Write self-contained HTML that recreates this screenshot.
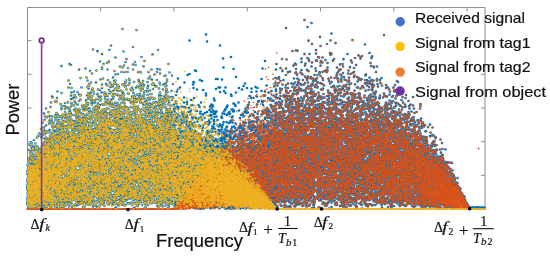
<!DOCTYPE html>
<html><head><meta charset="utf-8"><title>Power vs Frequency</title><style>
html,body{margin:0;padding:0;background:#fff;overflow:hidden}
svg{display:block}
.t{font-family:"Liberation Sans",sans-serif;fill:#111;stroke:#111;stroke-width:0.2px}
.m{font-family:"Liberation Serif",serif;fill:#111;stroke:#111;stroke-width:0.2px}
.i{font-style:italic}
</style></head><body>
<svg width="550" height="257" viewBox="0 0 550 257">
<defs>
<marker id="k0" markerUnits="userSpaceOnUse" markerWidth="6" markerHeight="6" refX="3" refY="3" overflow="visible"><circle cx="3" cy="3" r="2.6" fill="#0072BD"/></marker>
<marker id="k1" markerUnits="userSpaceOnUse" markerWidth="6" markerHeight="6" refX="3" refY="3" overflow="visible"><circle cx="3" cy="3" r="1.7" fill="#D95319"/></marker>
<marker id="k2" markerUnits="userSpaceOnUse" markerWidth="6" markerHeight="6" refX="3" refY="3" overflow="visible"><circle cx="3" cy="3" r="1.7" fill="#EDB120"/></marker>
</defs>
<g fill="none" stroke="#8c8c8c" stroke-width="1">
<path d="M27.5 209V7.5H485V209"/>
<path d="M100.6 7.5v4M173.9 7.5v4M247.2 7.5v4M320.5 7.5v4M393.8 7.5v4M467.1 7.5v4M27.5 40.7h4M27.5 74.3h4M27.5 108h4M27.5 141.7h4M27.5 175.3h4M485 40.7h-4M485 74.3h-4M485 108h-4M485 141.7h-4M485 175.3h-4"/>
</g>
<g><g transform="scale(0.5)" fill="none" stroke="none"><path d="M609 40l14 6-8 8-43 2-327 2 28 2 495 10-105-3-251 2 228 5 65 6-44 1-44 0-203 2-35-2 245 7 30 0 17-2 59 3-89 3-201-1-174 3-44-3-36 8 33 1 97 0 276 1 3 0 37-1 107 6-76 1-3-1-28 1-47-5-338 1-52-1 9 6 101 1 304-1 10 0 42 2 34-2 22 3 7 1 20 1-1 3-22-2 0 3-11-1-23 2-19 0-23-3-7 0-2-1-18 5-3-3-12 1-30 2-9-1-102-4-16 3-163-3-30 4-22-3-31 8 17 1 1-1 33 1 19 0 19-2 241 0 73 2 15-2 6 3 8-4 2 0 7 4 1-3 3 3 6-5 15 1 36 0 2 4 37 1-29 4-27-2-5 1-25-3-14 5-30-4-1 4-18-2-2-2-3 4-34-3-216 0-66 2-5-1-18 2-34-5-7 2-65 2-3-2-16 4 48 5 33-2 36-2 5 2 11 1 31-3 160 2 78 2 36-1 11 1 51-4 8 4 24-2 19 0 12-2 14 1 8 2 34-4 5 1 1 2 6-2-57 8-16-2-1 0-2 2-23 0-2-1-1 3-3-1-17 0-15 0-3-2-11 0-11-2-12 5-15-1-13-3-85-1-75 4-2-1-70-2-5-1-12 1-37 0-37 3-14-3-11-1-11 3-13 1-22-3 26 8 47 2 5-1 7-4 6 0 6 0 21 0 2 0 4 1 15-1 12 5 5-5 6 3 19-2 40 3 197-4 15 2 1-1 2 3 7-3 2 2 2 2 34-5 0 3 6-3 9 0 20 3 0 2 2-5 5 5 5-3 10 1 5 1 4-2 3-2 24 5 20-5-13 11-8-4-17 3-5-3-1 3-10 1-10-1-5-3-10 1-11 3-21-3-6-2-6 0-7 4-6-1-6 0-16-3-22 0-14 4-86 0-97-4-31 1-13 0-2 1-29 1-74 2-53 0-36 6 24-5 14 5 26-2 5-2 10 3 15 1 21 0 6-3 1 2 18 0 1 0 19-3 6 2 1 1 10 0 20-1 22-2 44 3 32-2 3 0 9 1 79-1 28-2 4 1 3 0 9 3 21-3 7 0 3 3 8 0 7-4 1 4 3-4 5 1 4 0 3 3 3-1 0 2 2-5 11 0 1 4 11-2 12-2 6 1 1 3 0-3 6 3 1-4 6 3 4 2 5 0 19-2 1-3 3 4 1-1 1-1 7 2 4 0 9 0 4 1 7-3 0 1 0 2 6-1 3-4 33 8-2-2-33 4-16-4-5 4-1-4-1 5-3-4-1 3-4 0 0 1-15-4-13 4-5-3-14-1-6 1-14 0-3 3-2-5-17 4-5-1-1 0-8-3-1 1-10 2-6 1-11 1-3-3-6 1-7 2-7 0-15-5-4 4-6 0-61 1-86-5-16 3-1-1-18 1-35-2-3 4-12-2-13 2-11-3-9-2-1 5-4 0-3-3-10 0-9 2-8-2-1 3-19 0-2 0-1-5-8 3-28 0-10 0-42 3 38 0 0 3 0 0 26-2 8-1 3 3 7-2 3 1 1 3 9-1 0-2 2 2 8-3 1 0 1 0 1 2 3 1 6-2 18 2 6-1 1 1 6-2 8 2 8-3 1 0 3-1 2 4 3 1 7-4 7 0 4 4 2-2 13-3 40 1 101 3 46-1 16 1 6-1 10-2 7 1 15-1 7 1 2-1 1-1 6 2 0-1 5 0 8 3 5 1 1-3 1 2 1-4 3 2 5-1 2 4 11-5 3 3 19 1 1 0 7 1 4-1 8 0 1 0 3 1 2-4 6 0 11 0 15 3 9-1 8-3 2 4 2-3 2 2 7-3 1 5 8-2 8-1 18 0-3 5-9 3 0 0-3-4-3 2-26-2-1 1-2 4-5-5-11 1-3-1-3 3-5-2-2 0-16 1 0 2-1 1-3-3 0 2-8 0-1-4-2 5-2 0-3 0 0 0-6 0-3-4-6-1-17 3-1 2-3 0-7-4-1-1-4 0-7 4-1 1-5-2-4-1-11 2-4-3-1 4-6-5-2 3-4-3-9 2-5-1-7 3-4-1-8 2-37-3-4-2-8 3-9-1-10 3-6-3-27-1-11 0-3 0-5 3-38 1-7-3-27-1-4 3-23 0-7 1-8-2-12 1-11-2-9-1-1 3 0-1-1-3-5 2-1 0-6-1-8 0-1 2-2 2-8 0-2-5-13 1-4 3-2-1 0 2-2 0 0-1-9-4-17 2-8 3-11-2-8 0-1-3-1 0-12 1-20 1-6-1-22 8 28 2 5-2 7 1 29-2 0-1 3 2 13-3 3 5 6 0 9-5 3 4 5-2 9-1 2 1 5-1 2 2 2 1 17-3 3-1 16 1 6 3 3-2 4 0 0 1 5-2 20 4 12 0 1-4 2 3 8-2 11 1 52-3 34 4 8-2 24 3 31-1 10-1 10-1 7 1 7 2 6-3 9 0 9 0 11-1 1 1 0 3 8-3 7-1 4 1 2-2 2 1 3-1 4 1 4 0 3-1 1 0 0 4 10 1 1-3 5 1 10 2 19-4 1 4 12-5 1 4 3-3 9 4 7-4 5 3 15-3 22 0 6-1 8 0 6 4 1-1 28 0 8-1 1 1 1-3 22 10-14-1-2-3 0 1-2 2-15 0-11-2 0 1-8 3-10-2 0-2-3-1-5 3-3 2-10 0-9-3-1 2-1-4-1 2-6 1-2 1-3 1 0-4-2 0 0 0-1 1 0 1-1-3-5 1-4 1-4 0 0 3-1-1-9-3-3 1 0-2 0 5-11 0 0-3-2 3-3-5-2 5 0-1-11-2-9 3-6-3-1 2-2-1-4-3 0 2-1 0-2-1-2-1-3 0-3 1-2 1-16-2-2 2-1-1-5 1-2-1-1 3-8-4-4 5-5-1-8-4-7 3-6 2-17 0-2 0-66-2-11-3-39 1 0 4-60-1-20 0-13-1-16-1-2 0-6 2-7-1-8-1-5 1-4 2-4-5-10 1-1-1 0 1-8 2-1-1-2 0-6 3-2 0-4-2-1-1-3 0-3 0-7-1-7 0 0 4-3-2-13 2-1-3-7 0-7-2-3 5-1-5-1 4-2 0-13 0-1 1-2-2-9 1-7 1-19-5-19 7 1 2 9 1 32 1 2-3 4 1 24-1 0 3 4 0 2-3 1-1 1 0 14 0 1 2 3-2 8-1 0 5 5-5 10 0 2 2 13-1 2 0 3 1 1 0 1 1 17-2 1 2 3-3 1 3 0 2 0-4 9 2 0 1 1-4 4 4 1 0 0-4 1 5 3-2 8 1 5-1 4 1 1 0 3 1 10 0 0-5 3 0 6 0 1 5 3-4 2 2 0 2 2-4 1 3 2-1 4-1 3 1 22 0 20 1 40 1 35-5 36 0 3 4 5 0 7-3 22 3 5 1 11-3 4 2 5-4 6 0 2 2 3-2 2 4 3-4 3 1 1 3 2-2 2-1 11 4 6-2 5 1 1-1 1-3 5 0 3 4 0 0 5-2 4-1 4-1 6 3 2 0 4 2 0-4 4 2 3 0 5-3 4 4 7-2 2-1 1 2 3-1 1-2 2 5 8-5 5 1 8 4 3-2 6-3 1 1 0-1 5 4 0-1 1 0 5 0 3-1 0 3 2-1 1 1 0 0 7-2 6 1 1 0 3-2 3 1 4-2 5 4 0-3 8 1 0 2 0-1 7-1 3-3 3 1 2 0 10 1 2-2 5 5 2-5 12 2 6 2 15-2-9 8-14-2-17 2-3 1-4-2-30-1-4 1 0 0-3 0-1 2-2-4-3 4-2-3-7 2-2 1 0 0-1 0-3 0-7 0-2 0-3-1-3-2 0-1-2-1-1 4-3 1-2-1-1 1 0-5-14 3-3-1-4 1-4-1-5-1 0 1-2-1-1 3 0-4-6 5-3-3-12-2-5 3-2 0-1-3-4 4-3-1-3-3-2 4-1-3-2 3-5-2-2 3-6-5-1 3-3 1 0-1-5 1 0-3-1 1-7-1-1 3-1-4-5 1-3 3 0-4-1 2-4-1-1 1-1 3-1-3 0 0 0 0-8 2-4-4-13 4-2-1-5-1-13 2-3 1-6-1-2 1-87-2-47-1-30 3-8-3-6 2-4-3-3 2 0 2-2-5 0 4-1 0-4-4-1 5-2-1-3-2-11-2-1 0-7 2-5 2-3-3-6-1-5 4-1-4 0 0-3 0 0 0-3 4-1-4-2 4-2-2-7 3-1-4-3 1-2-2-3 0-1 2-3 1 0-2-3-1-5 0-1 1-13-1-3 1-2 4-5-4-1 2-1 0-2 0-10-2-2 2-1-1-6-2-3 3-3 0-3-2-2 3-2-4-8 3-11-2-3 3-9 1-7-5-30 4-2 1-8 2 11-1 8 4 9-2 6-1 0-1 7 2 8 0 4 3 18-2 3-1 7 1 3-2 4 0 6 2 9 1 1 1 3 0 2-4 2 3 1 0 2-3 1 0 0 3 0-3 1 0 5 2 0-1 4 2 3-2 1-1 4 1 1 3 7-3 3-2 3 3 13-1 2 0 1-2 2 2 1 3 1-5 4 0 8 1 0-1 4 2 5-2 3 2 1 2 0-2 5 2 1-1 4 1 3-3 3 1 2-2 4 3 1-2 1 0 6 4 2-4 1 0 2 4 7 0 2-3 10 3 5-2 15-2 6 3 0-4 28 1 21 4 44-2 3 2 7-4 21 0 16 4 11-4 26 2 1 1 2-2 4-2 3 3 2 2 1-5 8 3 4 2 3-4 2 3 2-3 1-1 1 4 7-4 0 5 1-2 3-1 0-2 1 3 3 1 4 0 0 0 1-1 8 1 4-1 0 1 5 1 2-5 1 2 0 3 1-4 4-1 6 5 4-1 5 1 0-3 1-2 3 1 2 0 4 4 1-3 1 3 4 0 2-4 1 0 1 2 2 0 1 0 0-3 1 1 3 2 3 1 4 1 3-3 1 2 3-4 3 0 4 4 0 1 1-4 4-1 1 2 1 2 1-1 5-2 0 3 1-1 1 0 0-3 3 1 5 2 1 0 2-3 8 2 2 3 2-2 5 0 2 1 6-4 0 0 1 4 5 1 0-3 2 1 2 2 1-5 0 2 1 2 0 0 1-2 14 3 1-4 3 4 2-2 1 1 5-2 0-2 8 1 1 2 4 0 10-2 4 4 11 0 20-1 0 4-15-1-8 1-7 1-1 1-5 0-4-2-2-2-7 2-3 2-7-3-8 1 0 2-3-2-2 1-7 2-4-3 0 2-9-3-1 2-1 2 0-5-2 1-4 2-1-2-1 3-3 0-2-3-5 2-4-2 0 4-1-4-5 2-3 2 0-3-2-2-10 2-2 3-3-5-2 3-1-3-1 5-1-1-1-4-2 4-2-4-1 0 0 1-3 3-1 1-10-5-1 0-1 4-1-2-2 0 0 1-2 1-9 1-11-3-3 0-2 2-1-4-1 3-1 2-4-4-4 4 0-5-2 5-1 0-4-5-5 1-2 4-6-5-2 5 0-2-5-1-4 1-1 1 0-4-1 2-1-2 0 3-3 0-2 0-1 2-4-1-4 1 0-2-5-1-2-1-1 0-1 1-2 1-1-2-9 4-1-3-1 2 0-2-3-2-7 2-3 1-4-1-2-2-15 0-30 0 0 5-25-3-16-1-1 2-1 2-27-2-1-3-4 2-1 2-11 0-10 0-2-4-11 0-4 1-13 3 0 1-5-2-7 1-3-1-5 2-6-4-1 1-1 0-10 2-6 1-1-2-3-3-3 0 0 5-2-5-4 2-3 1-2 1-1 0-1 0-5-2-5-1-2 0-1 3-5-4-11 3-1 1-2 0-1 0-3 0-6 0-1 1-1-1-7 1-1 0-3-3-2 2 0 1-2 0-1 0-4-1-1-3-2-1-1 4-2 0-1 0-1 1-1-3-6 1-1 0-1 0-1-2-2 1-21-2-3 1 0 2-1-3-3 5-1-3-2 2-6-4-8 0-3 5-2-3-2 3-1-4 0 4-3-4 0 3-17-3-4-1 0 0-2 3-9 1-3-1-4-1-3 1-22 1-9 3 31 1 7 0 5-2 3 1 2 3 8 0 3-3 2 4 0-1 4-2 1 2 1-1 7 1 0-1 3 1 3-1 1 1 1-4 1 0 4 1 8 1 0-1 2 1 3-1 0 4 3 0 1-4 2-1 5 5 3-2 0 2 2 0 2-2 1 2 3-4 0 1 1-1 2 1 6 3 3 0 4-4 2-1 3 4 0 1 1 0 2-2 3-3 4 1 3 2 6-1 1-2 0 5 2-1 11-4 0 2 1 1 0-2 3 4 1-3 4 0 1 1 1 0 6-1 2-1 0 3 2 1 1-2 0 1 5-3 1 1 3-2 3 4 1 1 6-3 1 1 1-3 2 3 2 2 6-4 1 2 0-1 10-2 1 5 4-3 1 1 1-1 0 2 1-2 1 3 7-3 2-1 6 0 0 1 15-2 6 0 1 0 4 5 9 0 28-1 4-3 3 4 24-2 1 0 12 0 3 0 12 2 13-4 2 4 37-1 1 1 2-1 0 1 1-4 2 3 2 1 5-5 3 5 1-2 3 0 2-1 0 0 6-2 8 1 0 4 1-1 9 1 1-5 0 0 1 5 1-1 2 0 3-1 0-3 3 2 1-1 4 1 0 0 3 2 2-2 0 0 0 0 1 3 5 0 3-2 7-3 0 4 2-1 2 2 2-5 0 1 2 4 3-1 1 0 0-1 1 2 2-2 1 2 0-3 1 0 4 1 1-3 2 2 2 0 2 2 1 1 0-1 1-4 2 0 5 0 0 0 2 2 3 1 1-1 4 2 1-3 0-1 1 5 0-2 0-3 1 4 3-1 3-1 4 2 1 1 1-4 2 4 0-1 3 0 2 1 4-5 3 5 0 0 2-3 2 2 2-1 7 2 0-4 1-1 6 4 3-1 0-1 0-1 3 0 0 0 0 0 6 1 1 3 0-2 1 0 0-1 2-2 1 3 2 0 2-1 4-1 3 0 1 2 1-2 1 2 5-3 4 2 0 1 5 1 2-2 2 0 2-1 2 0 1 2 1-3 1 4 5-3 1 2 0 1 2 0 1-4 1 4 3-3 4-1 0 0 1 2 5-2 10 3 6 0 15-2 9 0 12 0-7 7-4 2-6-3-6 1-16 0-1 3-2-1-2-1-3 1-2-2-1-1-1 3-3-4 0 3-2-1-1 0-1 2-7 0-4-2-1 3-6-5-4 2 0 1-1-2-2 0-1 3-2-1-7 0 0 1 0-4-4 2-2 2-3-4-7 4 0-2-6 2-1-1-3 1-1-4-5 5-2 0-6-5-1 5-2-1-4-4-1 2-2 2-1-2-1 2-9-3-1 1-2 0-1 2-3 1-1-1 0-3-4 4-2-1 0-4-8 5-1-2-2 1 0 0-4-2 0-2 0 5-1-2-5 0-2 2-2-2-1-3-1 3-2-3 0 3-4 0-1 1-1-3-2 2-5-2-1 3-3-1-2-3 0 5-3-2-1-1-1 2 0-3-4 1-2-2-2 5 0-5-2 0-3 1-3 3-1 1-2-1-2-2-1 3 0-3 0 3-4 0-1-2 0 2 0-4-4 2-4-3-1 1-1 0 0-1-3 4 0-4-2 0-5 1-1 1-2 0 0 0-2 0-1 1-3-1-1 1-1-1-4 1-5 1-1-2-4-2-6 3-4-2-2 0-2 4-1-2-5 1-2-3-10 4-5-3-14 1-3 1-2-2-2 0-21-2-1 1-1-1-7 2-3 3-8-4-3 4-12-4-2 2-2-2-2 3-5-2-8 0-4 2-9-3-1 4-6-5-14 2-3 0-10 1-3 0 0 0-13 1-2-4-5 2-4-2 0 4-4-2-3 1 0 1-1 0-8-2-2-1-3 3-4-1-1 1-2-2-1 3-2-1-1 1-1-2-4-1-3-1-2 1-3 3 0-5 0 1-1 3 0-4 0 1-1 1-2 3-10-4-8 2 0-2-3-1-3 1 0 1-3 1-2-1-5 1-1 1-1 1-1-1 0 1-2-4-2 2-4 0-4 1 0 0 0 1-1-4-1 0-2 0-1 3-2 1-1-1-2-3-1 4-1-2-1-2-2 3-2-2 0-2-3 0-2 3-3 2-3 0-2-2-2 2-1-2-4-1-1 0-2 2-2-2-2 1-2-2 0 3-3-2-1 0-1 1-1-2-3 0-4 3-1-3-2 2-2-3-16 5-2-2-3 0 0-3-3 5-1-3 0 3-3-5-9 3-2-2-1 4 0-3-8 0-17 2-16-2-9 3 2 6 7-1 2 0 5 1 6-3 1 1 4-2 3 3 4 1 3-3 1 1 0-1 3 3 0-3 3-2 2 4 7-4 1 3 0-2 5 1 4 1 1-1 4 1 3 2 7-3 0-2 0 3 1 2 3-2 0 2 1-2 3-3 2 2 0-2 0 0 5 5 4-3 3 0 0 1 0 1 1 1 1-3 2 1 1 1 3-1 2-1 1 0 0 2 1-2 3 2 1 0 0-4 2 1 1 4 1-2 3 2 3-2 7-1 3 1 2-2 1 1 1 3 2-2 2 2 1-4 2 1 1 2 1-3 1 2 1-2 0 3 5-3 0 1 0-1 3 0 0 1 9-1 5 4 0-3 6 0 1 1 1-3 3 3 1 1 2 0 3 0 1-2 2 2 1-3 0 2 2-2 2 1 0-2 2 2 2-1 3 4 3-4 1 4 1-4 2 0 1 1 1-2 5 5 0-1 1-4 4 4 0 1 2-2 2-3 0 1 7 4 0-5 3 1 0 3 3 0 1-3 2 3 2-1 3-3 2 2 2 3 2-4 2 2 4-2 7 0 3 3 6-4 1 4 2-3 4 3 2-1 7-2 24 0 1 0 13 2 3-1 1 1 5-3 2 0 3 5 10 0 6-5 5 2 6-2 5 5 17-3 4-1 1 4 13-1 6-1 1-1 16-1 11 0 1 1 3 0 5 1 3 0 4-1 1 2 0 1 2-4 2 1 0 2 2-3 1 4 1 0 0-5 0 3 4 2 1 0 0 0 1-1 1-1 0-1 0 3 3-3 8 1 2 2 1-1 1-1 1-1 1-1 1 1 1 2 1-4 0 0 1 0 0 2 6 3 0 0 6-3 1 1 1 2 0-3 1 2 4-3 1 4 1-5 2 2 1-1 1 0 3-1 0 0 3 1 1 2 0 1 4 0 0 1 1-3 1-1 2 1 1 3 2-5 2 2 3-2 4 0 2 3 0-3 1 2 3 0 1 3 5-5 4 1 1 4 1 0 2-5 1 5 0-3 1 2 2-2 3-1 2 2 2-3 0 1 0 4 1-4 1-1 9 2 1 1 2 1 1-2 0 1 8-1 1 3 3-3 1 0 2 0 1 1 1 2 1-4 2 4 1-2 3-2 1 0 1-1 2 4 0 1 1-4 3 4 1-2 1 1 3-1 4-2 6 2 2-2 2 1 0 1 3 0 2 0 2-2 2 2 1-1 0-1 2 0 3-1 2 4 0-1 3-2 3 2 0-2 1-1 0 5 5-4 1 3 1 1 5-4 0 4 0-5 1 1 5 1 2 1 4 0 2 2 2 0 1 0 2-2 0-3 4 2 5 2 5-3 2 2 3-3 0 4 2-2 4 2 0 0 1-4 1 3 1-2 23 8-15-3 0 5-1-3-2 0-2 3-5-3-3 3-1-5-2 4-1-4-3 3-3 0 0 2-1 0-2-2-10-3 0 1-1 0-1 3-2-1 0 2-2-4-1 2-6-3-2 1-2 1-2 1-2-1-1 2 0 1-1-1-1 1-1-3-2 0 0-2-1 1-1-1-1 2-1-2-1 3-3 1-4 1-1 0 0-3-2-1-2-1-5 3-5-3-3 0-1 4-1 1-1-2-7 2-2-2-1 1-7-1-1-1 0 1-2 0-2-3 0 0-4 2-1-2-1 1-4 4-2-3 0 0-3 2-5-1-4-2-1 0-1 3 0-3-1 1 0-1-1 2-1 2-2-2-3 1-2-4-2 2 0 3-1-3-2-2-1 4-1-4 0 1-1 2 0 0-5-1-2 3 0-4-3 0-2 0-1 1 0 3-3-5-5 1-4 2 0-3-1 3-1 2 0-2-2 0-4-1-2 2-2 1-1-5 0 5-2-4 0 4-3-2-3-1 0-1-4 3-1-1 0 1-4-1-2 2 0-4-2-1-3 3-3-2-3 2 0 1-1-3-1 0-1 4-2-2-3 0-2-1-3 3-1-4-3 3 0-4 0 1-4 2-1 0 0-1-1-1-3 1-4-1-1 2-1 0-2-2-4 3-1 0-1 0-2-1-1 0-1-2-3 3-6-1-4-1-1-1-4 1-5 2 0-2-14 3-1-5-1 4 0-3-1 1-33 0-16-1-20 1-15-2-6 3-14-1-7 0-1-2-4 3-1 1-4-2-2-1-2 0-2 2-2-2-9 1-3 0-4-1-4 1 0 1-2 1-7 0-1-4 0 0 0 2-3 1 0-2 0-1-7 3-3-2 0-1-1 2 0 0-2 3-1-5-2 3-5-1-1-2-1 3-2-1-1-2-5 4-1-2-5 2-1-4-1 5 0-4-1 4-1-3-3-1 0-1-3 5-1-1 0-3-11 4-1-3-5 1-1 0-2 0-2-2-1 3 0 1-1-1 0-3-3-1-1 3 0 0-2-3-2 3-1 2-6-2-2 2-3-2-3-1-3-2-1 5-1-4 0 4-2-3-1 3-1-4-1 0 0 4-3-1-1-2-3 0-3 0 0 0-1 3 0 0-2 0-1-2-3 1-2-4-6 0-1 5-3-1-3-1-1 2-1 0-1-3-3 3 0-3-4 3-1-2-3-1-1-1 0 1-3-1-1 4-2 0-2-2 0-2-1-1-6 3-3 2 0-4-4 2 0-1-3 0-1 0-5 0-2 1-3 0-2 2 0 0-5-1 0-2-2-2-1 2-12 1-2-3-3 4-2-1 0-1-4-1-6 2-6-3-3 0-3 3-2-3-7 5-3 0-7-4-8 10 4-5 9 3 5 0 4 2 0 0 4-5 4 5 2-4 1-1 2 5 2 0 4-3 0 2 3 0 0-2 1 0 2 1 3 1 2-1 1 0 4-1 2 2 0-4 0 4 3-2 0 3 3-2 4-2 0-1 1 0 1 4 6-2 0 2 1-2 2 1 2 1 1-3 1 2 1 0 0-3 1 0 1 0 1 1 1 4 4 0 0-1 8-1 4-3 2 3 0-2 1-1 5 1 4-1 1 5 1-3 2-2 1 1 2 4 3-3 0 1 4 1 0-3 1 0 0 4 2-4 3 3 0-4 1 1 0 3 0-3 3 2 2 2 1-2 5 2 3-2 1-3 1 0 1 5 0-1 1-2 4 1 2-1 1 2 2-2 1 1 3-2 3 0 0-1 1 2 1-1 1 1 7 1 2-2 2 2 1-1 1 3 0-1 2-3 2 1 1 2 1-3 1 2 1 2 3 0 2-3 3 2 0-3 1 4 0-3 4 0 2 0 2-2 0 0 1 4 1 1 1-4 2 4 0 0 0-3 4 3 3-2 4 2 0-2 0-2 2-1 2 1 3 0 3 4 0-2 1 0 0 0 2 2 0-5 2 5 2-1 1-3 1-1 1 4 3-2 1 3 3-1 2-2 3-2 1 3 2-1 3 0 2 2 2-1 0-2 5-1 2 5 3-5 2 5 0-4 4 2 1-3 0 3 1 0 5 1 2 1 1 0 7 0 6-2 9-3 9 5 3-1 1 0 1-4 2 5 8-5 0 3 7-3 12 4 6 0 7 1 1-3 2-1 2 4 22-1 13 0 1 1 4-3 0 2 4-1 4 1 2-3 1-1 6 3 13-1 4 3 4-5 1 3 0-3 2 4 1-3 1 0 4 2 0-3 5 0 2 4 0-2 1 2 1-4 0 1 2-1 0 1 1 1 0 1 4 1 0-2 4-1 1 4 0 0 4-3 1 2 3-3 3 2 1-3 3 0 0 5 6-4 2 1 2 3 1-4 2 2 1-2 2 4 1-4 3 4 0-3 5-2 2 5 3-4 0 3 1 1 2-4 4 3 0-4 2 5 5-5 2 1 1 2 1 0 1 0 3-3 2 1 1 3 4-3 2-1 0 3 2 1 2 1 4 0 2-3 0 3 0-4 0 0 0 2 3-1 3 1 0 2 0-3 0 0 2 2 5-1 2 0 4-2 1 2 1 2 2-5 3 4 0-1 4-2 1 4 2 0 1-5 3 3 0 2 1-4 1 0 1 4 2-5 1 2 1 2 0-3 2-1 1 4 1 1 1-2 4-1 1 1 2-1 1 3 0-1 0-4 6 4 0-1 1-3 1 1 1-1 3 0 2 2 2 0 1-1 2 1 0 3 1-2 0-1 0 2 2-2 1 2 3-1 1-3 1 0 2 4 2-4 2 3 0-1 1 3 2-2 3 2 0-3 1 2 1-3 0-1 1 3 0 1 5 0 0-2 1-2 5 1 3 0 1 1 2-2 1 1 1 4 1-2 1 0 8 1 1 0 1 1 0-3 3-1 2-1 0 4 2-3 2 2 0 2 2-4 1 3 5-4 3 4 4 1 0-1 0 0 2 0 3-1 3-2 4 1 2-1 2 4 5-4 1-1 1 5 4-4 1 1 4 3 14 4-10 1-4-2-1 2 0 1-1-5-6 1-4 3-3 0-5-2-3 3-2-3-1 2-6-1 0 2-2-5-7 1-3 4 0 0-1-4-2 4-2 0-1-4-2 2-1-3-1 5 0-4-3 3-3-2-1 3-1 0-1-4-2-1-1 4-2-3-3 2-1-3 0 5-1-4 0-1-1 2-3 1-2-3-2 3-2-2 0 0-1 3-1-3-4 4-1-1-2-3-2 3-3-2 0-1 0 4-1-4-2 4-1 0-1 0 0 0-1-5 0 4-2-4-4 5-1 0-3-5 0 3-1-3-2 4-1-3 0 2-1 2-2-4-1 0-2 2-2-3-2 4 0 0-2-3-1 1-1 2-3-1-3 2 0-4-6 0-1 2-1-3-3 4-2 1-1-5 0 3-3 0-4 1-1 0-1-2-1 1 0-3-1 5-3-5 0 3-1-3-4 3-2 1 0-3-1 1-2-1-2-1 0 0-1 3-1-2-3 0-1 4 0 0-3-5-1 2-1-1-2 1-1 2-3-1-1-3-1 5-1 0-3-5-2 2-4 1 0-3 0 4-2-1-1-1 0-1-5 1-1-1 0 3-3 0 0-4-2 4 0-3-1 1-1-2-3 5 0-5-2 2-3-2-4 5 0-3-2-2-1 2-3 1-2-3-5 4 0 0 0-3-1-1-1 4-2-2 0 1-1-1-3 0-1 3 0-3-2 2 0-3-2 3-2 0 0-2-1 3-1-5-2 5 0 0-1-3 0-2 0 4-3-2-1 3-2-3-2 1 0 0-2-2-3 4-1-4 0 4-4-1 0-3-1 2-2-1-2-1-1 4-1-1-2-2 0 1-2 2-2-4-1 4-2-4-1 0-6 4 0 0-3-4-4 3-4-2-2 1-1 1-16 1-4-1-5 0-1-4-6 0-3 1-8 3-10-3-14-1-11 3-3 2-3-2 0 1-5 1-7-3-10 0-1 1-7-2-4 4-8-1-11 0-3-2-5 1-1 1 0-2-2 3-2-1-1-2-10-1-2 4-2-1-8 1-2-1 0 0-1-1-2 2-3-2-5 0 0 1-1-4 0 4-1-4-2 4-1-1-1-2-3 0-2 1-4-2-1 5-1-1-2-1-2-1-2 2 0-4-1 5-6 0-2 0-1-3-4 2-3-2 0 0-1 0-4 3-1-1-1-3-1 4-2-4-2 3-1-3-1 4-3-4-2 3-1-3-3 0-3 1-2 0-2 2-1-4 0 2-2 2-1-3-2-1 0 4 0-4-3 2-2 0-1 3-1-1-2 1-1-5-1 0-1 2-2 1 0 2-1-4-1 1 0-1-2 1-1-2-2 4-5 1 0-4-2 3 0-4-2 0 0 3 0 1-2 1-1-4-1 2 0 0-2 1-1-4-1 4 0 1-2-4 0 0-1 4-3-5-1 1-2 2-3-2-1 4-1-1-2-3-1 3-1-4 0 2-1 1-1-2-1 0-2 2 0-1 0 0-2-1 0 4-2-1 0 0-6-2-1-2-2 0-1 1-2 3-2-3-1 3 0-1-2-3-1 3 0-2 0 2-7-3-1 3-1 1-3-2 0 1-4 0-2-2 0-1-1 2-1 3 0-3-1 0-4 1-3-3 0 3-2 1-3-3 0-1-1 3-2-1-2 3 0-4-3-1 0 0-2 4-11 0 0-4-1 0-5 4-3-1-2 0-2 2-6-1-2-4-4 0-1 2-7 3-7 6 2-1 1-1 17-2 0 0 1-1 3 2 4-2 1 3 3-3 2 2 5-1 1 3 3-1 0-3 2 1 1-1 2 3 2-3 1 2 1 1 2-1 1-1 3 3 2 1 1-1 2 1 2-5 3 5 2-3 2-1 1 1 0 3 2-4 2 4 0-2 2 2 0 0 1-2 1-1 3 2 0-3 2 2 0-1 1 2 0 0 0 1 0-5 1 4 3 0 2-4 0 4 3 0 2-4 0 5 8-4 1 2 2 1 0-4 4 5 0-3 0 2 2-1 1 2 0-1 0-1 2-2 0 4 1-4 1 4 1-5 1 5 1-2 2 2 1-5 0 0 2 4 1-3 1 3 3-4 1 3 0-2 11-1 2 2 1 0 0-1 0-1 7 4 0 0 0-2 2-1 1 2 2-3 1 5 1-2 1 2 0 0 1-2 1-3 4 2 2 1 2 1 1-4 0 4 1 0 2-4 1 4 2 1 0-3 4 2 0-1 1-1 0-1 1 0 0-1 2 4 1-2 1-1 0 0 0 4 4-4 0-1 0 5 3-3 1 1 4-1 1 3 1 0 1-1 2-2 4-2 1 4 0-1 4-3 1 0 1 0 1 4 0-3 4 2 2 1 1-1 6-2 1 3 1 0 2-2 2 2 3-1 0 1 2-3 1 3 2-1 3-2 0 3 1-3 2 4 0-1 3-2 1-1 5 2 2-1 9 3 5-2 9 0 4 0 6-1 5-2 3 0 2 1 7-1 2 0 4 4 2 0 18 1 1-5 2 2 1 3 10-4 6 1 9 1 1-2 10 1 4-1 2 3 7 0 2-3 2 3 1-3 3 3 4-4 8 5 1-4 1 3 1-3 1-1 3 3 3 1 2-3 3 1 4-1 1 2 0-3 3 1 1 3 0-3 1 0 6-1 0 5 0-5 0 4 3-3 1-1 2 1 0 1 1 2 1-2 10 3 6-1 4 0 0 0 1-4 6 3 1-3 1 4 3-4 1 3 1 2 2-1 2-2 1 3 0-1 2 0 2 0 3-2 0 1 0-2 0 4 2-1 0-4 6 4 3-4 1 1 3 3 0-2 1 2 1-1 2 0 1 2 0-5 2 0 1 4 1-1 1-3 0 2 0 1 1-1 1 2 3 1 1-3 2 1 1 1 1 1 0-5 0 5 1-4 0 0 2 1 0-1 1 1 3-1 2 0 3 0 2 0 1 1 1 0 2 2 0-2 0 0 1 3 2-2 0 1 1-4 0 2 2-1 1 2 3-3 1 4 0-1 0 0 3 0 2 1 2 0 1-4 2 0 1 5 1-1 3-3 1 0 3 2 1-1 1-2 1 4 2-4 1 5 0-2 0-2 0 2 3 2 2 0 0-5 1 5 1-1 0-2 4 1 3-3 4 1 0 0 3 3 0-3 4 2 0-1 3 3 2 0 0-3 1 3 2 0 0-4 3-1 1 5 3-4 0 0 0 3 2 0 2-3 1 3 2-3 2 3 0-4 2 1 2-1 0 4 1-3 2 1 3 2 2-3 2-1 1 5 1-2 1-2 3 2 0 2 5-3 2 3 0-3 2 1 4-3 0 5 0 0 1-5 1 3 0 0 4-3 1 3 6-1 1-1 0 3 1-2 0 3 1-3 2-1 2-1 1 1 0-1 3 1 0-1 2 1 2 0 1 4 0-5 0 0 2 3 3-2 1 1 1-1 1 4 2 0 3-5 1 3 5-2 4 1 2 1 2 2 2-1 1 1 0-1 0-2 1 2 0-4 2 2 3 2 10 1 1-4 0 1 4-1 5 1 4-1 2 3 4-3 8 1 9 1-13 7-1 1-12-1 0-4-2 4-8-3 0 2 0 2-3-2-1-2-1 1-1 3-3-4-3 1-5-2 0 2-3 3-2 0-2-3 0 3-2-3 0-2-2 3-2 0-3 0-7-2-1-1-2 4-1-3-2 1 0 3-1-3 0-2-4 0-1 1-1 1-1 2 0 0 0 1-1-2-2-2-5 2 0 1-2-4 0 2-2 0-1-2-2 0 0 3-2-3 0 5-2-2-1-2-2 3-1-4-2 2 0-2 0 0-2 4-2-3-3 4-2-4 0 2 0 2-7-5 0 3-3-2 0-1-1 3-1-3-1 2-3 3-1-4 0 1-1-2 0 5-2-2-3-1 0-2-2 2-1 2 0 0 0-3 0 4-4-4-2 4-1-3-3 1-1 2-2-3-2 3-1 0-2-3-1 3 0 0-3-3-2-2 0 3-2 1-2-1-1 0-2 2 0-1-2-3-2 0 0 3 0-2-4 0 0 1-2 1-1-1-1-2-2 2-2 2 0-4-1 0 0 2-1-2-3 1 0 2-1 1-2-2 0-3 0 5-3-1-5 1-1-4-4 3-1-3-2 4-2-1-1-4-2 0 0 5-3-2-1 2-3-4-1 3-2-1 0 1-2-2-1 0 0 0-1 0-1 1-2 2 0 0 0-2-6-2 0 1 0 0-1 1-1-2 0 0-2 3 0-1-2 0-2-3 0 4-1-2-1 2-2-3-2 1 0 3-2-3-2 1-3 0-1-2-1 2-3-2 0 3-3-2-1 3-1 0-1-2-2-3 0 4-1-2-2 3 0-3-1 3-2-5 0 4-1-2 0 2-5-1 0-3-3 0-1 3-2 1-3 1-1-2 0 2-1-2 0-1-4 3-3-5-1 5-1-1-2-3-3-1-1 4-1 1 0 0-4-3 0 0-4 0 0 3-1-4-5 2-2-1-1 2-5-4-2 5-5-4-1 2-1 0-2 0-6-1-2-1 0 2 0 0-13-3-2 3-2-3-1 4-4 1-6-3-5 3 0 0-6-4-1 1-3 3-4-1-1-1-4-2-6 0-3 3-2 0 0-2-2 0-7-2-5 5-1 0-3-1-1 1-5-1-10-1-15 1-2 1-5-3 0-1-3-1 0 5-4 0-2-5-3 3-4 1-3 1-4-4-1 4-8-3-1 0-1-2-2 0-1 5 0-3-1-1-2 2-1 2 0 0-1-3-1 3 0-3-1 1-1 0-3-2-1 4-1-5 0 5-1-3 0 0-2 1-2 2 0-3-3 3-2-1 0-4-2 3-3-2-1 3-1-3 0 2-2-2-1 0-1 4-3-3-2-2-1 5-1-5-2 4-1-1-3-1 0-2-1 0-1 1-3 3 0-3-1 3-1-4-3 1 0 3 0 1-3-4-1 3-1 1 0 0-2-5-2 0 0 5-1-4-1 4-1-2-3 2-4-4-1 4-1-2-1-3-1 1 0 3-4-1-2-1 0 1-3 0-1 2-1-5 0 5-3-3-6 0 0 0 0 2-3 0-2 1-2-2-3-2-1 0-1 1-1 0-1 2-2-1-2 2 0 0-1-3 0 0-3 0 0 1-2 2-1-5-1 5-2-4-2 4-2-4 0 3-1 1 0-1-3 0 0 0-1-4-1 0-1 3 0-1-2 1-4 1-1-1-1 2-2-2-2 2 0 0-1-4 0 3-1-1-3 0 0-3-1 0-3 3-1 1-1 1-2 0-1-3 0 0-1-1-1 4 0 0-1-1 0-4-1 0-2 1-1 4-1-1 0-1-1 0-1-1-4 2-1-3-1 1 0-2-5 2-2 3-4-2 0-1-3 2-2-3-2 2-2-2-9 1 0 3-2-1-1-4-5 4-1 0-2-3-2 3 0-4-1 4-2 1-2-5-3 5 0-4-5 2-3-1-1-1-7 1-5 3-3-1-4-3-1 3-1-4-3 0-4 9 4 1 4 1 1-5 1 2 2 2 0-2 3-1 6 0 6 0 0 0 2 3 4-4 3 1 2 4 1-4 3 4 3-4 0 2 0-1 2 3 1 0 0-4 4 1 1 3 2-1 2-1 3-2 1 3 3-4 1 0 0 5 1-5 0 2 3 3 0-5 1 4 1 1 4 0 3-1 3 0 1-1 1 0 0 0 3-3 0 4 1-2 3 1 1-2 1 0 0 2 4-1 1 2 0-1 2 2 3-4 1 4 0-1 2 1 0-2 1 2 2-2 2-3 0 4 2-4 0 1 2 4 1-3 5 1 0 0 1 1 1 0 2-4 0 5 0-5 4 5 1-4 2 4 2-2 3-2 2 4 2-2 0-2 6 0 0-1 1 5 5-5 2 3 2 2 0-5 0 3 3 0 5 0 3-2 1 2 1-3 1 2 2 3 1-3 0-2 4 5 1-3 0 0 1 1 1 2 2-5 3 2 1 0 1 0 0-2 2 3 4-3 1 1 2 0 2 2 2-3 1 3 2 2 0-2 1 1 2-1 1 2 2-5 0 3 3 1 2-1 0-3 0 2 1 0 2-1 0-1 1 0 3 0 1 2 3-2 2 4 0-1 1-3 1 3 1 1 2-4 2 3 1-3 0 4 3 0 0 1 4-1 1-4 0 4 1-3 1 3 0-1 5-1 1 1 2 0 2 1 1-4 4 2 3 3 1-3 2 2 1 1 1-3 0 2 2-3 2 2 1 2 2-5 8 2 5 3 1-2 1-3 2 4 0 1 3-4 2 4 2-3 1 3 7-4 2 4 1-3 3 1 2-2 6 2 0 2 3-1 11-3 1 2 1-3 1 1 0 2 3-3 4 0 8 0 6 4 1-1 6 1 0-1 3-3 1 4 0 1 3-4 9 0 2 0 1 2 1-3 7 5 9-5 0 5 1-2 4-2 4 2 1-1 1-2 2 3 8 1 1 1 5-3 2 2 1-2 5 3 1-2 1 2 2-4 4-1 4 2 3-2 10 2 1 3 2 0 0-4 3 3 1-3 2 4 3-4 2 1 1 3 1-4 1 3 1 0 3-1 1 1 0-3 1 3 2 1 1-1 1-2 4 3 0-1 1-2 1 0 1 2 0-2 1 3 1-5 3 4 1 1 1 0 1-2 1-2 0-1 3 2 3-1 2 4 3-4 0 4 6-5 0 4 2 0 2-3 2 1 1 1 0-3 1 3 3-1 1 1 7 1 3-3 1 2 0 2 1-3 1 3 1-5 3 4 1-2 2 1 2-1 1 0 3-2 1 2 2 3 2 0 0-4 3 3 2-3 0 4 3-4 1 4 2-3 2 2 3-3 3 2 1 2 0-5 0 3 2-1 4 2 2-1 0 1 0 0 1 0 1 0 0 0 4 1 1-3 2 1 1-1 0 2 4 0 1-1 1 1 4 1 0-3 1-1 1 4 1-4 2 0 2 2 1-2 1 1 1 2 1-2 1 2 0-1 1-3 0 4 1 1 2-1 2 1 1-4 1 4 2-4 2 0 0 0 2 4 0-1 2 0 1 0 1-2 0-1 2 1 5 1 0 0 1-3 1 2 2-2 1 4 0-1 3-2 1 1 1 1 0-2 1 4 1 0 2-3 1 1 0-1 3-1 1-1 3 5 2-3 1 2 0-3 0 1 3 2 2-4 2 4 0 0 1-4 1 5 4-3 2 1 1 2 0-4 2-1 0 2 0 3 6-4 0 4 0-4 2 2 1 0 0-3 1 0 0 5 2-3 2-1 1 4 4-5 0 5 1-4 0 4 2-5 0 4 3-2 3 1 1-2 1 2 2 1 1-4 1 5 1-1 2-1 4 2 0-4 5 1 1 1 0 2 3-1 6 1 0-2 1 0 3 2 2-4 1 1 1 2 1-4 0 3 5 0 20-2 10 9-4-3-2-1-1 1-4 1-7 2-1 1-1 0-4-2-4 1-1 1-1-4 0 1-1 3-1-1-3 0-1 0-2-3-2 3 0-3-1-1 0 4 0 0-2-4-3 2-1-1 0 4-1-1-1-4-1 5-3-1-1-3-1 3 0-1-3-3-2 4-1-2 0 0-3 1 0 1-4 1 0-3-3 0-1 1-1 2-1-3-3 1 0-3-3 3-1 2-1-5-1 5-1-4-2 4-1-4 0 0-2-1-3 2-1 2 0-2-3 0-3 3 0 0 0-2-1 2 0-5 0 2-2-1-1-1-1 0-1 5-1 0 0-4-1 0-3 4-1-1-1-1-2-1-2 0-1 3-1-3-1 2-3 0-1-1-2 0-2-2-2 3-2 0-2-3-2 4-1-4 0 1-2-1-1 1-1 1-2 1-2 0-1 0-1-4-1 4-1 1 0-5-2 2 0 1-1 1-1-3-4 2 0 1-1-1 0 2-1 0-4-4-1 1 0 2-2-1 0 1 0 1 0 0 0-3-1-2-4 2-2-2-3 3-1-2-1-1-2 2-1-2-2 5-3-2-1 2-1-2-2-1-3 3 0-3-2-1-1 1 0 2 0 1-3-5 0 4-2-4-1 3-2 0-3-1-1 2-1 0-1-2-1-1-2 3-2-2 0 3 0-5-1 0-4 3 0-3-3 3 0 2-1-2-2-1-1 2 0 1-2 0-3-5 0 1 0 4-3-1-3-4-2 5 0-2 0 1-2-3-2 3-3-4 0 4-1-2-2-1-1 0 0 3-2-1-1 2-1-2-3-2 0 1-1-1-2 1 0 2 0-1-1 0 0 0-2-2-2 2 0-1-1 3 0-3-3 2-2 1-2-4-2 2-1 0 0-3 0 2-2 1-2 2-2-4-1 3-1-4 0 5-2-2-2 0-1-3-2 5-2-4 0 0-1 4-3-4 0 2-1 1-3-4-1 2-3-2 0 2-4 3-1 0 0-3-2-2-2 3-1-1-2 1-1 0 0 1-2-3-1 3-1 1-1 0-8-3 0 1-1 1-2-3-1-1 0 5-1-3-1 1-1-1-1 2-5 1-4-4 0 4 0-2-1 1-4 1-1-1-4-1-2-2 0 0-6-1-4 5-3-3-1 0-4-1 0 2-1-1-2 2 0-4-4 2-2 3 0-3-3 3-1-5-2 1-4 2-4 0-1-1-1 2-8 0-1-4-3 3-2-2-2-1-1 4 0-2-4 3-3-2-18 2-2 0 0-2-2 2-2-4 0 3-1-3-3 0-2 1-5 3-8-1-3-4-2 1 0-1-1 1-6 2 0 1-6-2-7 3 0-4 0 3-4-1-2-2-2-1-1 4-1 0-5-2-1 1-1-1 0 3-3-4-1 0-3 3-1-4 0 5-1-2-2 1-1-4-4 2 0 3-2-3-2 1-1-2-1 0-1 0-1-1-1 0-1 3-1 0-2-2-2 0 0 2-2 0-2-1-2 0 0-1 0 2-6 1 0 1-2-2-4-1-1-2-1 5-1-2-3 1-1 1 0-3-1 3 0-4-1-1-3 4 0-4 0 5 0-4-1-1-1 5-1-1 0-3-1-1-1 0 0 0-3 4-2 0-1-4-1 3 0-1-3 1-1 2-2-4-2 2-2 1-1-3 0-1-5 4 0 1-1-2-2-2-1 4 0-2-3 0 0-1 0-2-3 3 0 1-2 0-1 0-1-3-2 3-1 0-3-2-1 2-3 0-1 0 0-4-2 5-1-3-1-1 0 1-5 0 0 1-3-2-1 1-3-2 0 4-3-2-1-1 0-1-2 2 0 1-3 1-1-2 0 1-1 1-1-3 0 4-2-4 0 2-2-1-1-1 0 1-3 0-1 3 0-4-1-1 0 4-2-1-4 2-1-3-2 3-1-1-1-1 0 0-2 0-1-1-1 3-1-2 0-2-3 2-1-2-1 3-1-1-2-3 0 0-3 3-1 2-1-2 0-3-1 5-1-3-1-1 0 0-3-1-3 5 0-3-1 3 0-4-2 3-2 0 0 0-4 1 0-1-2-1-2-3-1 5-1-4-3-1 0 2-4-2-1 5-2-2-1 1-2-3 0 4 0-1-1-4-3 1-2 2-2 1 0-2 0 1-1-3 0 1-1 3-2-4-1 4-2-4-1 5-4-1-1 1-3-5-3 3 0 1-2 1 0-4-1 1-2 1-1-3-2 3 0-2-3 3-1-3 0 0-2 1-8 3-9-2 0 2-3-4-5 2-1 2-6 5 21-3 4 4 2-4 1 1 1 1 3 1 1-4 2 4 1-1 0-3 1 4 2 1 2-3 2 2 1-1 2 1 2 0 1-4 0 5 1-2 0-2 2-1 1 2 2 1 1-1 1 3 0-5 3 1 1 4 0-1 3-1 1-2 2 2 3 0 0-2 1 3 0-1 2 1 2 1 1-1 1 0 0 0 1 1 2-2 1-2 1 3 2-3 2 0 1 1 0 2 0-2 1-1 1 3 1-1 2 1 0 1 2-3 0-1 1 4 2-1 0-2 1 2 2-1 1-1 0 0 3 2 1-2 2 0 0 1 2-2 0 4 0-4 4 2 0 1 1-4 1 1 0-1 1 3 0 0 3-3 0 2 4 3 2-2 0 1 0-4 3 3 0-1 4-2 1 4 2-2 2 3 0-5 2 4 2-4 2 2 1-1 1 1 0 3 2-5 1 2 1-2 1 4 2 0 2-3 0 3 1-2 0-1 3 1 1 2 1 0 2-2 1 2 2-4 0 5 1 0 2-4 0 0 0 2 5-3 1 1 1 3 1 1 1-1 1-2 1-2 1 5 0-2 2 0 2 2 0-4 2 2 1-3 0 0 3 5 3-5 2 1 0 2 2 0 3 1 2-1 0-3 3 4 0-4 3 4 0-3 1 1 1 0 1-2 2 4 2-2 1 3 1-4 1-1 3 1 1 0 1 3 0-2 1-1 2 3 2 1 0-3 2 0 1 1 1 1 3 0 0-3 3 2 0-2 1 1 3 0 1-1 2 3 0-3 1 1 1 1 3 1 2-2 1-1 0-1 0 2 1 3 2-5 1 1 2 1 0 3 4 0 1-2 0 2 2-4 0-1 1 4 0-3 2-1 2 5 1 0 1-3 2 2 2-2 2 0 3 1 1 2 3-5 1 3 1-3 0 4 0-1 1-3 5 0 1 0 7 1 0 4 1-5 1 5 4-3 1 3 3-2 0-3 1 5 1-2 3 2 1-4 3 1 0 1 2-3 1 5 1-2 8-2 2-1 1 4 6-3 1 4 1-1 2-3 2 4 8-1 2-3 2 4 2-2 1-1 0 3 1-1 5-1 2-1 1 3 1-3 1-1 1 0 2 2 4-3 0 3 9 2 2-4 2-1 1 3 4-3 0 2 6 3 0-1 4-3 0-1 2 2 1 2 2-1 3 1 0-3 1 1 1 3 6 0 3-2 2-1 0 2 20-3 1 3 2 1 3-1 0-4 1 4 5 0 4 1 1-5 2 3 2 2 1 0 4-4 1 3 0-2 4 2 2 0 4 0 2-4 0 5 5-3 0 3 2-4 0-1 3 2 0 2 3 1 0-5 0 3 4-2 2 3 1-4 4 4 0-3 1 0 3-1 3 4 0-2 1 3 1 0 1-1 2 1 1-3 1 2 1-2 1-1 1 1 1 3 2-3 3 2 3 1 0-3 2 0 2 2 1 1 1-4 0 2 1-2 2 0 2 3 0-1 2-3 0 4 1-3 1 3 2-3 2 3 0-4 2 3 2-3 2 5 1-3 1 2 0 0 3 1 1-5 0 4 2 0 1 1 0 0 0 0 1-4 0 3 4-1 1 0 0-2 1 0 0-1 4 3 1-2 2 3 2 0 1 0 1-3 2 0 1 3 1 1 0-1 1 0 0 1 2-4 0 1 2 1 1-3 1 3 2-2 1 1 2 1 1 1 2-3 0 3 4-4 0 0 1 5 2-4 2 2 0-3 2 3 1-3 2 2 1-2 0 0 3 3 1-2 4 3 0-2 1 3 3-4 1 3 3-1 1-2 0 2 1 2 1 0 0-3 1-2 1 5 3-4 0-1 1 0 0 5 2 0 1 0 1-1 3 0 0-1 1-1 3-2 2 3 0 2 2-3 0-2 5 3 0-2 3 2 2-1 1-2 1 5 2-4 1 3 1 0 0-3 1 4 2-5 2 3 2 1 1-3 0 1 3 0 1-1 0 3 0-1 3 0 3 0 0 2 0 0 2-3 1-1 4 1 0 0 4 2 1-3 1 2 3-3 1 2 1 1 2-2 0 2 1 2 3-2 1-1 1-2 1 3 1 2 0 0 1-3 3 0 1 3 0-4 3 3 3-2 2 1 2 1 1-2 4 1 1 1 1-4 2 0 1 2 5 3 4-1 1-3 3 1 2 3 1-2 0-2 1 0 3 3 0 1 0-3 2-2 1 2 4-1 2 4 4 0 0-3 18-2 10 3 3 7-15-4-1 3-1-2-1 1-2 3-10-3-1 3 0-1 0-1-2 1-2-1-2-1-2-2-4 5-2-1 0 1-3-3-4-1 0 1 0 2-3-1-1 2-1-4 0 2-3 2-4-1 0-3-3 4-4-4 0 3-4-3-4-1-3 3-3 2-2-2-2-3-1 2-3-1 0 2-1 0-1-1 0-1-3-1-4 3-3-1 0-2-2 2-3 2-1 0-1 1-1-5 0 0-1 5-4-1-1-1-1-2 0-1-3 3-1-2-1 0-4 4-1-5 0 2-2 0-2 0-1 3-1-3-3 3-1-3-1-2-1 5-2-2-1-1-2 3 0-4-2 2 0-1 0-2-1 1-3-1 0 4-1-3 0 2 0 0-3 0-4 2-1-4-1 1-3 2-1-4-1 4-4 1 0-5-1 0-3 3 0 0-1-2-1 0 0 0 0 4-1-1-4-1-3-2 0 2-1 1-3-4 0 3-2 1 0-4-1 4-2-2-6 1-1 1-2-1-3-2-2 2-1-3 0 5-2 0-1-2-1-1-3-2 0 5-1-2-2 2-2-4-1 2-3 1-1-1 0-3-2 5-2-3-2-2-1 4 0 0-1-3-1-1-1 1-2 2-1-3-2 2-1 3 0 0-2-2-2-1-1-1-1 2-3-3-1 4-1-2-1 0-3-1-1 3 0-4-3 0 0 4-1-3-3 2-1 0-1 0-1-2 0 0-1 2 0-1-3-2-1 5-1-5-1 4-1-1 0 0-2 0-3-2-3 1 0 3-3-1-5-1 0 0 0-1-3 2-3-3-1 3 0-2-2 2-2 0 0 0-1 0-1-4-2 0-1 2 0 3-1-2-2-2 0 1-3 1 0-2-5 0 0 1 0-2-1 3-1 2-2-3-4 2 0-2-3 1-1 0-3-1-2 1-1-2-1 2-1 0-1 0 0-2-3 2 0 1-1-4-2 0-3 5-2-5 0 4-3-2-4 0-2-1-5 3-4-3 0 1-3 0-3 2-1 0 0-3 0 2 0-3-2 0-1 4 0 1-2-1-1-3 0 3-4 1-10-1-4-4 0 4-7-1-2-3-6 4 0 1-1-1-4-1-1 2-1-3-2 0-1 1-1 2-3-1-1 0-2-2-2-1-2 2 0-1-3 3-2-5-6 2-1 0-1 1-6-1 0 1-1-1-4 3-1-1-3-3 0 4-3-4-4 4-1-5-1 2-5 3-1-5-3 2-1 2-2-1-1-3-5 3-1-3-5 3-4-3 0 3 0 2-2-3-2 1-9-1-1-2-2 2-4 0-1-1-5 1-3 3-2-2-1 0-2 1-1-4-1 2-2 0 0-1-1 1-2 2-2 1-3-4-3 3 0-1-1 2-2 0-2-1-2-2 0 2-2-4-2 4-1-2-1 2 0-2-1 0-1 0 0 0-1 0 0-2 0 0-2 5-1-2-1-2-2 3-1 0 0 0-1-2-2 0 0 0-1 1-1 2 0-5-1 2-1-1 0 4-2 0-2-3-1 1 0 1 0-1-1-2-1 3-2-3-2 1-2-1 0 0-1 3-1-4 0 1-3 3-2 0-1-1-1-1 0-2-4 3-1-3-1 1-2 2 0 2-1-2-1 1-1-1-2 1-2-1 0-3-1 1 0 3-1 0-1-4 0 1-6 1 0 0-2-2-2 4-1-4-3 2-1 1 0-2-5 4-4-3-2 1-2-2-1 1-1-1-1 4-1-1-2-3-4 1-4 3-1-3 0-1-1 4-2-4-2 3 0 0-1-3-5 2-2-3 0 5-1-4-1 2-1 0-4-1-1 1-1-2 0 2-1 2 0 0-1-4-3 4 0-5-2 1-2 4 0-4 0 0-4 1 0 1-4-2-1 2-2-3-1 1-1 1-1-1-2 4 0-4-1 1-1-1-1 2-2 2 0-1-1 1-2-1-1-2-1-2-1 4-4-1-1 2-4-5 0 2-2 1-1 0-3-1-3 3-2-2-3-2-2 4 0-3-2 3-4 0-2-5-1 3-2 0 0-3-4 2-1-1 0 4-1-2-1-3-1 4-3-2-2-2-5 5 0-1-1-1-2 2-4-5-1 5-2-3-2 2 0-3-1-1-2 5 0-4-1 0-1 3 0-4 0 2-2 1-3 2-1 0-14 0-8-2-5 4 4 3 1-4 4 4 6 1 11 0 1-1 3 1 2-4 5 3 0-1 1 0 1-2 1 1 0-2 2 0 2 1 2 2 1 2 0-3 4 0 1 3 0-3 2-1 2 1 0 1 0 1 3 0 0 1 3-5 1 4 2-3 3 1 1-2 0 1 0 1 1-1 3 3 0-4 1 5 1-4 2 3 2 1 1-4 3 1 1-2 1 4 1 0 0-1 0-3 1 3 2 1 0-3 3 0 2 4 0-1 1-1 3-2 0 3 1 0 2-1 2-3 0 3 1-1 2 0 1 1 1 1 3 0 0 1 0-1 1-3 1 2 3 2 0-5 1 2 1 3 2-1 2-4 0 5 1 0 0-5 1 5 1-4 1 0 0 4 2-5 1 5 3 0 0-1 2-3 3 3 1-4 0 5 3 0 0 0 2-3 1 0 0 2 0-3 2 1 1 3 0-2 3 0 0-3 1 5 1-3 1-1 0 3 0 1 2 0 0-4 1 0 5 0 0 4 1-3 2 3 0-3 0-2 0 3 3-1 2 0 1-2 1 5 0-2 4-2 0 1 1 3 2-1 2-1 3-3 2 4 0-2 2-1 2-1 2 3 2-1 1-2 0 1 1 3 1-2 3 2 1-1 1 1 1-2 1-1 1 0 2 1 1 2 1-2 1 1 2 0 1-3 2 5 0-2 0 0 1-1 3 0 1 1 0 0 1-3 0 4 1-4 0 3 1 1 3 0 4-3 0 4 3-3 2 3 0 0 0-1 1-4 1 5 3-5 4 3 0-3 1 5 0-4 1 2 1-1 4-2 0 5 2-5 0 0 2 5 1-1 1 0 3 0 0-3 0 3 5-4 0 2 4-1 2 4 1-3 3 3 1-3 2-1 1 3 1-4 1 2 2 1 1 0 1-1 1-2 0 5 1-1 2 0 1 0 2-2 1-2 0 5 1 0 1-4 0-1 4 2 1 2 1 1 0-1 1 1 2-5 0 3 2-2 0 4 2-1 3-2 1-2 2 4 4-4 1 1 5 3 2-2 2 3 0-3 1 0 3 3 7-2 2-2 0 2 2 1 0-4 2 4 1-1 5-2 1 0 2 2 1 0 1-2 1 4 1-1 1-3 0 0 1-1 1 4 2-1 0-2 0 4 4-3 0 0 1-1 1 0 7 4 2-2 3 2 2-2 0 1 2-3 1 2 1 1 2 0 1-1 5-3 1 5 1-3 5 2 2 1 0-5 2 3 0 2 3 0 0 0 9-1 1-1 3-3 1 2 5 0 1 0 2 2 0-3 1 1 1-1 3 0 0 4 2-1 2-1 2 0 1 0 2 1 6 0 3 1 1 0 2-1 1-1 0 0 1-1 3-1 1 1 1 2 5-2 0 2 0-4 1 1 0 0 1 3 1-1 0 1 4 1 1-3 2 2 2-3 0-1 3 3 2-1 1-1 2 2 0-1 1 1 1-1 1 2 0-4 4 0 2 1 1 2 1 0 1-3 1 4 3-2 0 0 1 0 2 1 1-3 3 2 0 2 0-3 4-1 0 5 1-1 0-3 2 4 1-4 5-1 0 3 0 0 0 1 2-3 0 3 4 0 1 1 1-3 0-1 2 3 1-4 1 2 2 2 0-2 1 1 2 2 2-3 2 3 0-1 1-2 3 2 2-4 2 4 1-2 0 0 2 0 0 0 2 2 2-4 0 2 2 3 3-4 0 4 2-2 1 1 2-4 1 3 1 1 1-3 1 1 2-2 1 5 1-4 3-1 1 1 0 2 0 2 2-4 2 4 1-4 0 4 3-2 0 0 3-1 0 1 1-3 1 2 2-1 3 3 2-3 1 1 1 2 1 1 1-3 1-2 1 1 1 4 1 0 0-5 0 4 4 0 0-2 0-1 1 2 3 2 1-5 0 5 1-5 0 1 1 0 3 0 2-1 0 1 0 2 4 1 3 0 4-2 0 0 1-2 0 3 0 0 3 2 1 0 0-5 1 2 0 3 0-1 4-1 1-1 0 3 0 0 2-2 1-3 0 1 0 2 1 0 3 2 1-4 2 0 2 2 1 0 0 1 3-2 1-2 2 4 3 0 0-4 1 4 2-2 2-2 1 3 3 1 0 1 4-3 1 0 0 1 0-3 1 5 1-5 2 0 2 0 3 1 1 4 2-2 1 2 1-5 1 1 2 0 1 4 0 0 2-4 1 1 2 3 2-4 2 2 1 0 3-1 4-2 0 3 2-2 2-1 1 1 1 0 2 2 1 0 2-1 2 1 0-2 2 1 0-1 0 3 2-3 1 2 1 1 1-1 1 1 3 1 0-2 0-2 2 4 0-2 0-3 3 0 1 4 1-1 0 0 1-3 3 0 0 4 1-2 2-1 0 3 2 0 2-4 3 3 0 0 3 1 1 1 1-3 0 1 1-3 0 2 1 1 2 2 1-5 2 2 2 1 0-3 1 3 1 0 2-3 1 4 2-1 1-1 1 3 0-3 2-1 2 4 1-1 5-1 1 1 0-1 5 0 6-1 0 1 3 1 1-2 2 0 18 9-6-1-5 1-7 0-10-5-2 5-2-2-1-1-3 0-4 1-2 2-1-4-1 0 0 0 0 0-3 4-2-5 0 1 0 2-1 2-2 0-1-5-1 4 0 1 0 0 0-1-4 1-1 0-1-1-2 0-1-4-2 3-1-1-1 2-2-3 0 2 0 2-3-3-2 1 0 0 0-1-3-2 0 3-4-2 0 1-1 0-1 1 0-2-4 2 0-2-5 4 0-2-1-2-2 2-3 0-1 1-1-1 0-3-1 5-1-5 0 0-3 3-1-2-4 3 0-2-1 3-2-5-1 2 0 0-1 0-1-2-1 0-3 2 0 1-2 0 0 2-2-2-1-3-2 3-2-3 0 5 0-1-3-1-2-2-1 1-1 2-3-1-1 2 0 0-2-5 0 0-2 0 0 2 0 3 0 0-1-4 0 3-2-2-1 0-2 3 0-5-1 5-1-3-2-2-2 4-2-2-1 2-1-4 0 2-2-2-3 3-1 0 0 1-1-3-1 0-1 0-1 4-1-2-1 0-5-1-3 2-1-4-2 4-1-3 0-1-2 5-2-1 0-3 0 4-2-1-1 0-2 0-3-3-1 3-1-2-1-1-2 4-1-2-4 2 0-3-1 0 0 2 0-4-3 5-2 0 0-4-4 0 0 1-2 0 0 1-1-1-2 0-2 3-1-2-3-2-1 3 0-2-1 1-2 0-1-1-2 0 0 2 0 1-2-5-1 3-1 2-2-2 0 0-1-2-1 2-2-2-2 0-1 2-1 1 0 0-3 1-2 0 0-2-2-1-1-1-1 0-1 3 0 1-3-2 0 2-2-4-1 0-3 0-1 3-2 1-1-2-2 2 0-5-1 0-2 2 0 3-3-1 0 0-2-3-2-1-1 1 0 2-5 1-1-3-2 3-5-4-1 2-1 3 0-3-1-1-3 2-1 0-3-2 0 2-1 0-3-2-2 4-1-2-1-1-1 0-1-2 0 3 0 2-4 0-1-4-2 1-1-1-1 1 0-2 0 4-1-2-1 2-3-2-1 2-2 0 0-4 0 2-2 3-1-3-1-1-2 4 0 0 0-4-1 4-2-4 0 4-3-4-1 3-3 1-1-5 0 5-2-3-1 1-8-3 0 3-2-3-1 5-5-4-1 4 0-5-3 5-1-4-3 1 0 2-1-3-4 4-1-1-1-4-4 4-1-3-1 3-3-3 0 2-1 0-2-1-1 2-3 0-5 1 0-1-1-4 0 0-3 1-1 1-3 3 0-2-2 2 0-3-1 3-2-4-4 2-1-3-1 4-5 1-1-1-2 1-1-2-3-1 0 2-4-3-1-1 0 3-1-2 0 2 0 0-2-3-1 4-2-3 0 2-2 0-2-3-3 1 0-1-2 5-1-3-5-2-2 5-2-3-1-1 0 3-1-2-2 2-3-2-1 1-4-2-1-1-1 2-3-1-1 2-4 2-1-5-2 1-2 3-1 0-4-2 0-1-1-1-1 2-4 2-4-4-1 2-4 0-1-1-1 0 0 3-4-2 0 3-3-4-1 3-2-3-1 3-1 0-3-2-3 0-3 0 0 3 0-1-2 1-2-1-2-2-1-2 0 1-1 3-1 0-2-1 0-1-3 1-4-1 0 3-2 0-3-5-3 2-3-1 0 3 0-4-1 0-3 3-1 0-1-3-3 3-1 0-1 2 0-2-2-2-1-1 0 4-2-2-1-2 0 0-3 0 0 5-2-2 0 0 0-3-4 0-2 1-1 1 0-1-5 2-1-3-4 3-2-3-1 4 0-4-1 3 0-2-1 3 0-1-2-3-1 0 0 5-1-4 0 2 0 1-1 0-2 1-2-3-3-1-1 3-1-3-3 4-1-1-1-3 0 1-1-2-1 4-2-1-2-3-1 4-2-3-1-1 0 3-3-1-2 1 0-2-1 0 0 1-1 3-1-5-3 0-4 2-1 3-1 0-2-3-3 2-2-1-1 0 0-3-1 2-1 2 0 0-3 1-1-4-1 2-1 0-1 2-3-4 0-1-1 1-2 3 0-3-2 3-4-1-1 1-3 0 0 0-1 0 0-1 0 2 0-2-5 1-1-3 0-1-1 2-1-2-2 2 0-1 0-1-2 5-3-2 0-2-3 2-3-2-2 4-2 0-1-4-1 1-1 3-1-4-1 4-1-4-4 2 0-2-3 3-1-1 0 2-2-4-1 0-1 4-1-2-2-2-1 4-1-2-1-3-1 0 0 0-4 4-1 0-2-2-2-1 0 2-1-3-2 2 0-1-1 1-4-1-1 0-1 0-1 0-1 4-2 0 0-4-1 4-2-4-3 3-1 1 0-5-4 3 0-2-1 2 0 1-4-1-1-3-2 1-2 4 0-1-2-1-1-2-2 4-2-4 0 3-1-4-3 4-1 0-1-4-1 2-2-2-1 0 0 4-2-4-2 5 0-4-1 0 0 0-3 4 0-1-2 0-5-1 0 0 0-3 0 4-1-1-7 1 0-1 0-1 0-2-1 1-1 2-2-2-6 5 3 2 3 3 1-5 5 2 2 2 0-4 1 2 0-1 2 0 4 4 1 0 0-4 5 2 1 2 1-2 0 0 1-1 2-2 1 1 0 2 2 2 2-3 2 0 1-2 2 4 1-2 2 3 2-2 1 0 2-1 1 2 1-3 1 4 0-3 1-2 1 2 2 2 0-4 1 5 0 0 3-1 0-1 2-1 1 0 1 3 1 0 0-4 1 0 1 4 0-4 1 1 1 1 1-1 1 0 1-1 0 3 1-2 2-1 0 1 1-2 0 4 0-1 4-1 1 3 0-5 2 5 0 0 2-4 0 3 0 0 2-4 0 5 0-4 4 1 0 0 2 2 1 1 0-5 0 1 3 4 1-5 3 4 0-1 2-3 1 1 1-1 1 4 2-4 1 0 1 4 1-2 2-2 2 5 4 0 1-2 0 1 5 0 1-4 0 3 2 1 1 1 2-3 2 1 1-1 1 0 0-2 1 4 4 1 1 0 1-5 1 2 0 2 3-3 1 1 0 2 2 0 2-2 0 0 2-1 2 4 0-5 0 3 0 1 0 1 4-3 0 2 4-2 1 3 0-1 2 0 1-3 3-1 0 4 3-1 2 1 1-4 2 2 1 0 2 1 0 2 2-4 1 1 4 2 0 1 1-2 1 1 1-3 1-1 1 3 3-1 2 1 0-1 1 3 1-4 2 2 1 0 3-1 4 1 0-3 0 3 1-3 1 0 1 5 4-4 0 2 1 0 1-1 2 2 1 0 2-1 1-3 0 4 1 0 1-2 1 0 0 3 1 0 0-3 2-2 2 3 0-1 1 0 3 0 0-2 0 4 1 1 0-4 1-1 2 5 0-4 4 0 1-1 2 4 2-4 1 1 1 4 0-3 2 0 1 1 1 0 1 0 2 2 0-4 2 2 1-2 1 2 2 1 1-3 2 3 3-4 1 4 0 0 1-1 1-3 0 0 2 0 0 5 0-5 1 0 3 4 0-4 2 1 0-1 2 4 3-4 0 3 2-2 3 4 1-4 1 1 2 1 1 2 1-5 0 1 2 2 1 1 0-4 0 1 2 4 0-2 3-1 2 3 2-1 0-4 4 2 0-2 1 3 1-2 0 0 1 0 0 3 2 1 3-1 3-3 5 0 2 1 1 3 1 0 3-3 1 3 0-5 1 5 2-3 0-1 1 3 1 1 2-5 1 2 2 3 1-5 1 3 0 1 1 1 3-1 1-1 1-3 3 3 0 1 2-4 2 2 0 1 3 1 2-2 2 2 3-3 1 3 1-3 2 2 1 2 2 0 0-3 2 2 5 1 0 0 2-4 1 4 1 0 3 0 1-5 7 1 1 0 1 3 2 1 1-2 2 0 2 2 0-4 0 0 1 1 2 1 1 0 0 1 3-4 2 1 4-1 0 5 2-2 1-3 0 0 4 5 1 0 4 0 1-2 5-1 2 1 1-3 1 0 1 1 3 0 2 2 8 1 1-4 0 1 1-1 2 2 1-2 3 0 1 3 0-2 1 4 0 0 1-1 1-2 2 0 1 3 0-2 1 2 2-1 1-3 0-1 2 0 0 0 1 2 1 2 0 0 3-3 0 3 2 0 1-2 0-1 4 0 1 3 1-3 2 0 0 2 2 2 0-1 0 1 4-4 0 2 2-3 5 2 1-2 3 0 1 3 0-2 2 3 2-2 1 2 1 0 1 0 1-3 3 3 1-4 1 0 1 3 3-3 0 2 0 3 1-4 3 2 1-1 1 2 1-4 2 4 0-3 0 2 3 1 0-4 3 4 0-3 1-1 1 0 0 3 2-3 2 0 0 1 1 3 2 1 2-5 2 3 3-3 0 3 0 2 3-2 3 2 0-1 1-2 0-1 5 3 0-2 3 0 0-2 2 1 1 2 2 2 3-2 0-2 3 0 3 3 1-4 1 5 0 0 2-5 2 1 3 2 0 0 1-2 1-1 2 5 1-2 2-3 0 5 4-2 0-3 1 0 0 3 3-1 2 1 0-1 1 2 1-4 0 0 1 2 3 1 2-1 2 0 6 0 2-2 1 4 1-2 1 1 1-2 0-1 1 3 1 0 4 0 0 1 1-4 3 3 1-2 0 3 0 1 4-3 0 3 1-5 1 5 0-2 1-2 1 4 1-1 2-2 4 0 0 2 0-4 1 5 2-5 3 3 0 2 0-3 0 3 1-1 0 0 4-3 1 0 1 0 0 0 3 1 1 1 0-2 3 0 1 3 6 1 0-5 1 2 1 1 0-1 3 2 2 1 1-3 3 0 1 3 0-4 1 1 2-1 0 1 1 0 2 0 1 3 1-5 1 5 1-5 1 1 0 2 0-2 4-1 1 2 0 0 2 3 2-4 0 3 2 0 1-2 1 0 2-2 0 5 1-3 0-1 2 4 2-3 0-2 1 4 2-2 1 0 1 0 1 1 2 1 2 1 3-5 0 1 0-1 1 1 2 3 2-2 0-2 0 4 1-2 2 0 1-2 0 5 1-2 0 2 0-3 1 1 1-1 1 3 1-5 2 3 3-3 0 2 3 0 2 2 3-4 1 5 1-2 3 1 2-1 2-2 2 2 1 2 1-4 2 1 1 2 0-2 3 1 0-2 2 0 1 2 1 1 2-2 1 0 3-1 2 1 1-2 0 2 2-1 0 4 3-2 1-2 2-1 8 5 3 6 0-1-1 1-12-4-3 1-4-2 0 1-5 1-3 0-1 1-2-3-2 3-1 2-1-3-5 3 0-3-2 1-2 2-2-4 0-1-1 3-2-3-4 4-2 1-1-5-1 3-1 2 0-5-1 5-3 0 0-1-1-3 0 3-1-1 0 1-3-4-1 5-1-3-3 2-3-1-1-1 0-2-1 0-2 2 0 3-1-4-2 4 0-4-2 1-1 0 0 3-1-2-1-1 0 2-4-1 0-2 0-1-1 2-1 0-1 1-2 1-1-1-2 2-1-3 0-1-1 1-2-1-2 3 0 1-1-2-2 2 0-5-1 0 0 4-3-3-1 4-1-5-3 5 0-2-2-3-2 1 0 3-3-4-4 2 0-1-1 3-2 0-1-4 0 4 0-2-5 2-1-3-1-1 0 2-3 0 0 1-3 0 0-2-1 0-1 0 0 0-2 1-2-2-2 5-3 0 0-3-3 2 0-3-3 1-1 1-3-3-2 4-1 1-1-1-3-4 0 2-3 2-2-1-1-2-3 0-1 2-3-3 0 2 0 0-1 3-3-4-2 0-1 2 0-1-1-1-1 2-2 2-1-4 0 2 0-3-1 3 0-3-4 0 0 5 0 0-1 0 0 0 0-4-1 3-1-2-2 0 0 2-5-4-2 1-1 1 0 2-2-2 0 2-1-2-3 1 0-2-1 0-1 2-1-3-1 3-1-3 0 3-4-2-1 3-3 0-1-3-2-1-1 4-2 0 0-2-5 1-1-3-3 0 0 3-1 2-1-2-1-2-1 0-1 1-2 2-2-3 0 4-1-3-1 0-1 3-2 0-2-1 0-4-1 4-3-3 0 2 0 2-5-1 0 0 0 0-1-4-3 1 0 1-1 1-1 2-1-4-2 0-1 3-1-1-2-3-1 1-1 4-2 0-2-1-1-1 0-1-1-1-1 3-2 1-5-3 0 2-2 1-4-5-1 1 0 2-1 0 0 0-3-2-2-1-1 4 0-1 0 0-3-1-1 1 0-2-2 3 0-4 0 1-2-1-1 1-2 4-4-4-1 0 0 3-2-2-2-1-1 4-1 0-2-4 0 2-1-1 0 3-5 0-5 0-4-2-1-2-3 3-1-4-2 5 0 0-3-4-3 1 0-2-1 2-4 2-1-2 0 0-2 2-1 1 0-2-1-2 0 1-1 0-2-2-3 4-1-1-1 1-7-4-5 2-3 3-1-1-4 1-1 0-1-4-2 4-4-5-1 3-1 0-1-3-4 2-1-2-3 5 0-5-2 5-2 0 0 0-6-1-3 1-2-5-1 5-1-5-1 3-1 2-3-1-1-3-1-1 0 1-4 1-3 0-9-1-1-1-3 0-4 3 0 2-3-4-1 4 0-2-2-2 0 3-4-2-3-1-5 0-2 4 0-2-1-1-4 0-1-2 0 5 0 0-2-1 0 0-5-3-2 4-1-1-3-3-1-1-1 3-1-3-4 2 0 3-1-4-3 2-6-1-1-1-3-1 0 4-1-3-3 2-2-3-3 3-1-1-1 1-2 2 0-1-1-4-2 5-1-3-2-2 0 1-2 2 0-2 0-1-1 0 0 4 0-2-2 3-1 0-3-1 0 0-2 0 0-2-1-2-1 4-5-4-1 5 0-1 0-1-2-3 0 5-1-2 0 2-1-5-2 3-1 1 0 1-2-5 0 0-5 2-6 0 0-2-1 4-1 1-3-3-2 1-1 1-1-3-7 3-2-4 0 3-1-1-1 1 0-1-2 1-1-1-2 2 0-3-2 0-1 2-1 2-2-2 0 0-2 0-1-3 0 5-1-1-4-4-2 4-2-3 0-1-3 4 0-1-1-2-1 3 0-4-1 0-1 3 0 0-1 1-2-2-2 0-1-2-1 5 0 0-1-2-2 0-2 1 0-1 0 1 0-4-3 1-2 0 0 4-1 0 0-1-2 0-8 0-3-1-2-3 0 2-1 3 0 0-1-4-3 0-1 3-1-2-2 0-2-2-1 0-2 3 0 0-1 2-2-2-1 0-1 1-1-4-1 3-2 1 0-1-2-3-1 5-1-1-2-3-5-1 0 4-2-2-2-1-1-1 0 1-2 0-1 0 0 1 0 3-1-1-4 1 0-3-1-2-2 3-1 0 0 2-1-3-1-1 0 4-1-4-1 0-6 4 0-5-1 3-3 0-1-1-1 3 0-5 0 1-1-1-5 3-1-1 0 1-1-2-7 2-3 0 0-2-3 3-1-1 0-1-4-2-1 3 0-2 0-1-3 5 0-2-4-2-2 1 0-1-1 2-2-2-1-1-3 2-3 3-1-3-2-2 0 4-1 1 0 0-4-5 0 3-3 0-3-3-1 4-1-2-3 3-2-4 0 1-2 0-1 2 0-4-1 5-1 0-4-2-5 2-1-5-3 10 4 1 1-2 2-2 1 2 3-1 3 0 1 1 3 2 0-4 2 4 2-1 2 0 0-4 2 4 1-4 3 4 1-2 2 3 2-1 0 0 2-3 2 1 2-2 3 0 1 3 1 2 2-4 1 3 0 1 1-4 2 0 3 1 0 0 4 2 0-4 3 1 1 3 1-3 0 2 0-3 1 5 2-1 2-3 6 1 1 1 2 0 0-2 1-1 2 3 0-2 0 4 3-1 0-3 4 2 0-3 3 2 1 1 1 0 1-3 0 5 3-2 1 2 3-2 3 1 0 0 1 1 1-4 2 4 1-3 3 3 0-1 5-3 1 3 1 1 1-4 2 2 0 0 1-3 1 4 0-3 2 2 3 2 1-1 0-2 1 3 2-4 0 3 1-3 1 1 3 3 2-3 0 3 3 0 0-4 0 0 1-1 0 5 1-4 0 0 0-1 0 4 5-1 0 0 1-1 1 2 2-1 1 1 3-4 4 0 0 0 1 2 1 1 1 1 0-1 1-2 0 1 2-2 2 5 0-2 2-3 1 4 0-3 1 2 5 0 2-2 1 0 3 4 1-2 0 1 0 1 1-1 2-4 0 4 2 0 0-3 5 0 1 1 1-1 1 3 3-1 0-3 1 4 0-2 4 3 2-3 0 0 3-2 0 0 1 4 1-3 6 1 0 0 0-1 3 2 3 0 2-2 2-1 0 5 1-3 2 0 2 0 1 3 0-1 1-4 0 4 2-4 0 0 1 0 0 2 3 3 1-4 2-1 0 3 1 2 2-1 1-3 2-1 0 4 1 0 2 0 1 0 1-1 3 2 0-5 2 1 2 4 1-1 1-2 1-1 1 1 2 2 1-3 1 2 2 2 2-1 1-3 0 1 1 0 0 3 1-5 0 4 3-3 1-1 0 0 0 1 0 0 4 1 0-2 1 0 0 4 1 0 3 0 1-4 2 5 1-1 1 1 2-3 0-2 1 4 2 1 1-2 3 1 6 1 0-3 2 1 0-1 0-1 2 1 5-1 2 3 1-4 4 3 4 0 5 2 1-3 3 2 6-2 0 3 5-4 0 3 2 0 1-4 1 0 6 3 1-3 0 1 1 1 0-1 4 2 1-2 6 1 0 1 0 0 0-3 2 0 2 3 4-2 5 4 3-4 2 1 2 1 0 0 0 2 1-5 1 5 1-2 1-3 2 1 3 0 0 3 0-3 5 3 1 0 3-4 0 5 3-1 0 1 1-1 1-3 3-1 2 5 4-2 3-1 1-2 1 4 2-2 2 1 5-3 0 5 1-3 4-2 1 3 1-1 2-2 0 5 2 0 1 0 2-1 3-3 1-1 2 1 2 4 0 0 5-4 3 0 0 3 1 1 1-3 4-2 5 0 1 5 1-4 4 0 1 1 2 0 1-2 3 4 1-2 1 0 0 2 2-1 2-1 0-2 1 2 3-1 0 2 0-1 1 1 1 1 3-1 2-1 0-2 1 5 0-2 2-2 2 3 0 1 1-3 0-1 1-1 1 1 1 4 1-1 0 1 1 0 2 0 0-5 1 2 3 2 3 1 1-5 2 4 4-3 0 3 4-3 0 4 0-4 3 3 1-3 1 2 1 0 0 1 4 0 1-1 0-3 2 2 0 1 0 0 4 2 2-1 1-2 1 2 3 1 1-2 1 1 1-2 1 2 0 0 2-3 2 0 1 4 2-4 0 2 5-3 1 3 4 0 0 1 2-4 1 1 0 2 4 2 1-4 1 0 0 1 2 2 4-4 1 2 1 3 1-2 0-1 0 2 0 1 2-5 1 1 0-1 2 1 1 0 1 1 2-1 2 4 0 0 2 0 0-5 1 3 3 1 1 0 0-4 2 5 0 0 1-5 0 4 4-2 0 2 2 0 3-2 2 3 0-5 3 0 1 4 1 1 3-4 0-1 1 2 2 3 1-5 1 2 3-2 0 0 0 5 2-3 2-1 2 3 1 1 1-3 0 0 2 0 0 0 2-1 3 3 0 0 1 1 2-3 0-1 1-1 5 4 2 1 2-5 1 2 3 0 0 1 2 0 2-3 1 1 0 1 2 3 0-3 1-1 2 0 1 4 2-1 1 1 1-5 0 3 0 1 0-3 2 4 2-2 1 1 1 1 0-5 1 1 0 3 6 1 1-1 2 0 0 0 1-4 0 5 1-3 3 1 2-2 0 1 4-1 0 1 3-2 1 1 2 0 1 1 1 3 2 0 0-1 1-4 0 5 0-3 1 2 0-4 1 2 1 3 4-1 2 0 1-2 4-1 1 3 1-4 4 5 1-5 2 2 1 0 3 1 3-3 0 4 2-3 2 0 1 4 4 0 2-5 1 4 2-1 3-1 4-1 1 1 0 0 2 2 3-2 0-2 1 5 1 0 0-1 1 1 0-5 3 1 0 4 3-1 1-3 1 2 0-3 0 3 4 1 0-3 1 0 0 4 2-3 3 1 1-3 1 5 4-3 1 3 0-4 2 2 1 1 1 1 1 0 1 4-2 0-4 2-1-2-2-3 0 2-1-1-1 3-1-4-1 4-3-3-1 4-1-5 0 0-2 2-1 3-2-1-1-4 0 2-3-2 0 4 0 0 0-1-4 1 0 0-3-1-1 0-1 2-1-2-1-3 0 4-2 0 0-4-1 0-1 5-1-5-1 0 0 3-1 2 0-5-2 2-1-1-1 1-1 2 0 1 0 0-1-2 0 1-4-1 0 1-3 0-1-3-3 2-2 1-1-4-4 2-2 3-3-2-4 2-2-3 0-2 0 1-3 3-1-1-2 1-1-1-1 2-1-5-1 5-6-2 0 2 0-5-1 4 0-2-1 2-1-4 0 0 0 4-1-3-3 0 0-1 0 5-2 0-1-5-2 4-2-1 0-2-1 2-1-3 0 3-2 2-2-2-1-1-4 1-1 1-1-2-2 3-1-5-1 5-1-3-1 3 0-3-3 2 0 0 0-2-4 2 0-3 0-1-3 3-2 2 0-5-1 4-2-3 0 2-1 1-3-4-1 4 0-1 0-1-2 0 0 1-1 0-1 0-4 0-1 2-2-2 0 2-2 0-2-5 0 1-3 3 0 1 0-4 0 3-2-4-4 1 0-1-1 3 0-3-1 4 0-1 0 1-1 1 0-1-1 1-1-3-3-2 0 0 0 3-2 2-2-3-2 3-1-3-1 3 0-3-1-2-2 5-1-1 0-2-1-2-3 5 0-4-2 2 0 1-2-2-1 2-2-1 0-2-1 1-3 1 0-3-1 5-2-1-2 0-1 0-2-3-1 1 0-1-2 4-2-4-2 3-2 0-2-3-4 0-2 1-1 3-1 0-1-3 0-1-2-1-1 4-1 0-1 0-2-2-1-2-1 4 0 0-1 1 0-5-2 0-1 5-3-4-1 4-1-2 0-1-1-2-3 3-2-2-3 0 0 1-1 0-2 1-2-3-4 2-2-2 0 3-1-2-2 2-1-2-2 3-2-3-1 2-1 2-1 0-1-2-1 0-4-3-2 4-3-2-1 3-1 0-1-3 0-2-1 4-1-1-1-2-4 2 0-1-3 1 0 2-1-5 0 4 0 1-1-2-1 1-3-1 0 1-1-1-3 0-1 1-2-3-2 1 0 3-1 0-1-5-1 1-1-1 0 1 0 4-3-3-1-2 0 0-1 3 0 0-4-1 0 0-1-2-1 2 0 2 0 1-3-3 0-2-1 0-1 1-3 3-5 0 0-3-3 1 0-2-1 3-2 2-2-2-2-2 0 1-1 2-1-3-3 0-1 0 0 1-2 3-3-4 0 4-1-2-5-2-2 2-1-2-1 0-2-1-2 0 0 4-1-4-1 0-3 0-1 4-1 0 0-2-2-2-4 3-1-2-2 0-1 0 0 3-6 1-2-5-19 1-1-1 0 5-12-5-14 5-4-1-3-1-1-3-4 5-2-1-4-1-2-3-1 2 0-2-3 1-3 0-3 3 0-4-1 2 0-1-3 4-1-1-2-2 0-1-2 2-1-3-2 0-2 4-8-1-1 0 0-2 0 1-2-2 0 1 0 4-1-2-1-1-2-2-3 5-2-3-1 0-6 2 0 0-2-3-2-1-1 5 0-3-1-1-1 0 0 3-1-4 0 5-1-1-3-2 0-1-2 0 0 2-3-2 0 1 0 1-1-3-3 2-1 3 0-3-1-1-1 0 0 4-1-5-2 1-2 3-1-3-2 2-1 0-1 1-3-2 0 1-1-1-2 0 0-1-1 2-1 2-5-4 0 4 0-5-3 1-1 3-2-1-1 0 0 1 0 0-3-1-1 1-1-2-2-2-5 2 0 2-2-3-2 0-1-1-1 0 0 5-4-2 0-3 0 2-1 2-2-3-3 2 0 2 0-5 0 2 0 0-5 0-1 3-1-2-4-3 0 1 0 0-1 4-4 0 0-2-3-1-2 0-1 2-2 1 0 0 0-1-2-3-2 3-2-2-3 1-1 0-3-1-1-2-1 2-1 0 0 1-1-2 0 1-1 0 0 1-2 1-2-2-1 3-1-1-2 1 0-2-1-1-1 3-2-2 0-1-2-1-2-1-1 3-1-2-1 1-1 2-1-3-3 4 0-3 0 1-4-2 0 2-1-2-1 1-2-1 0 3-1 1-1-2-2 1-2-1-1-2 0 2-1 0-2-2 0 1-5 0-1 0-2 0 0 0 0 0-2-1-1-1-1 4 0-2-1 1-1-3-3 4-3-4 0 4 0-1-3-2-2 2 0 2-3-2-2 1-1-1 0 0-1-3-2 0-1 3-4 1 0 0 0-1-1 2 0-1 0-3-4 1 0-1-2 1-2 1-2 1-4-3 0 2 0-3-1 1 0 2-2 0-1 0-2-2 0 4-2-5 0 5-6-3 0-2-2 3-2 0-3-1-4-2 0 3-3-2-1 3-2-3-1 0-5 2-2 1-3-3 0-1-5 5-1-2-2 2 0 0 0-3-1 0-3-2-1 5 0-3-1 0-3-2-2 5-1-1-1-1-4-2 0 0-3 3-2-3 0 2-2-3-3 4 0-2-1 0-2 2 0 7 2-3 4 3 0-3 1 2 3 0 2-4 2 1 1 0 1 4 2-1 1-4 3 0 0 5 1-3 4 1 5 2 0-2 2 0 4-3 0 5 0-4 2 1 0 3 1 0 2-2 3 0 0 2 2-3 2 2 0-4 1 5 0 0 1-1 1-1 1-1 0-2 4 1 0 4 2 0 0-5 2 4 3-2 0 0 2-2 1 1 1 4 1-1 2 1 0-4 2 3 3-3 1 2 1 1 0-2 3 2 1-1 2 1 0 1 2-5 1 0 0 5 1 0 1 0 1-2 3 2 1-4 0 4 1-2 4 1 0-4 2 5 1-4 1 2 1 2 0-3 1-1 1 0 1 2 1 2 1-5 1 3 1-2 1 4 1-2 3 1 3-3 2 4 1-2 1-1 1-2 1 3 0-3 2 4 1 1 1-3 0-2 2 3 1-3 1 3 3-3 0 2 1 2 0-3 2 1 1-2 2 0 0 5 2-5 0 1 1 2 3 1 0-3 1 0 2 0 0 4 3-1 2-4 2 4 0-1 3-2 2-1 1 4 3-1 1-2 3 1 2 2 2-4 0 5 1-5 1 1 1 3 1-2 2-2 1 0 1 4 0 1 1 0 0-5 2 2 1 0 4 3 1-5 1 1 2 3 0 1 1-4 3 1 0 2 2-2 0 1 1 1 2-2 1 2 1 0 1 0 1-3 0 1 2 3 6-4 0 4 2-5 0 3 0-3 1 1 1 2 2 0 1 2 2-3 2 2 3-4 0 5 2 0 1-2 0 1 0-1 1-2 2 1 0 2 2-4 2 5 1-3 1 0 0-1 2 1 2 2 3-1 0-1 1-1 2-1 1 3 3 2 1-2 0-1 2-2 1 2 1-1 0 3 2 0 3 0 1 1 0-1 3-2 0-1 1 0 1 0 0 4 3-1 0-4 1 5 1-4 4-1 0 5 1 0 1 0 1-3 4 1 0-3 0 0 2 4 2-2 2-1 0 4 3 0 0 0 1-3 6-2 3 3 2 2 1-3 1 1 1 1 0-3 0 0 1 4 2-4 1 3 3-4 1 3 1-3 0 0 4 2 1 3 0-1 1 0 0 1 4-4 1 0 1 0 0-1 1 5 3 0 0-2 3 0 2 2 3 0 0-4 4-1 4 3 0 1 1 0 0 0 1-4 6 3 7 0 2 1 0-2 1 2 2-4 6 1 8 2 1 1 3 1 3-1 3 0 1-3 2-1 1 4 5 0 5-4 0 3 1 1 1 0 3-1 1 1 0-1 1-3 2 5 1-3 1 0 2-2 1 1 1 4 3-3 0 2 2-4 0 1 0 2 0-3 3 5 3-4 1 4 2 0 2-3 2-1 1 4 2-4 1 1 1 0 2-2 6 0 1 5 1-3 1 3 2-1 3 0 4-2 2 3 1-1 0 0 3-2 2 3 4-1 3-1 0-2 2 3 0-3 1-1 3 5 0 0 1-5 0 1 2 3 2-3 1 4 2-1 2-3 3 4 1-1 1-4 1 3 2-3 2 0 1 2 0-1 3 1 0 1 0 2 4-1 4 0 0 1 2-5 1 1 0 0 5-1 0 4 2-1 1 0 0-2 1 4 4-3 2-1 1 4 1-4 0-1 0 3 2-3 3 1 0 4 4-1 0-4 1 2 1-1 2 1 0-2 0 1 3 0 1 3 0 1 4-3 0-2 2 5 0-4 0 0 0 0 4-1 0 3 3-1 3 2 0-4 1 1 4 3 2-4 4 3 2 0 0-1 3-2 1 5 2-1 1-4 0 3 2-1 2 3 2-4 1 3 1 1 2 0 1-4 0-1 3 3 1-3 0 1 2-1 3 4 1-2 4 3 1-3 0-1 2 0 1 3 1-3 1 1 4 3 0-1 1-4 2 3 1 2 0-1 1-2 2 2 0-2 3 0 1 2 2-3 2 2 0 2 1 0 0-4 2 2 1 0 1 0 3 0 2-1 1 2 0-2 1 3 1-5 1 5 1-5 2 3 0-1 0 0 1-2 3 3 1 1 1-3 0 2 1 1 1-4 1 4 0-4 3 1 1 3 2-2 2 1 2-1 0 0 3 3 0-1 1-3 1 3 2-2 1-2 2 4 3-3 0 4 1-4 0 4 0-5 3 3 1-1 1 2 0 1 1-4 2-1 2 4 0-1 2 0 1-1 0 3 2 0 0-4 4-1 1 4 2-3 1-1 0 0 1 1 0 3 1 0 3-3 1 2 2-3 0 3 2 0 3-3 3 1 2 0 0 3 3 0 2 0 0 0 1-2 4 0 2 2 3 0 1 1 1 0 3-1 0 0 0-3 0 0 1 3 1-4 2 5 1-3 0-2 0 5 1-1 0 0 4-4 0 3 2-3 0 5 1-2 0 1 3-1 1-2 5 1 1 3 3-4 2 3 1-3 2 2 5 1 0 1 0-5 0 5 1-3 2-1 2 1 1 2 0-2 3 3 2-1 5-4 0 4 2-4 2 4 1-1 1-1 0 1 2-2 1 3 0-4 2 4 4 0 1-3 2 3 1-4 1 1 1 1 4-2 1 3 3-2 1 0 4 0 3 1-7 8-3-2 0 1-1 0-2 1-1-3 0 4-2-5-1 1-1 4 0-2 0-1-1 3-3-1 0-4-1 1-1 1-2 3-2-2-3-3-6 0-1 2 0 2-3 1 0-4-4 2 0-3-5 1-1 1 0 3-1-5-1 3-2-2-3 3-4-3 0 4-3-5-1 2-1 3-1-4 0 0-3 2-1-2 0 0-3 2-1 1-2-1-1 0-1-2-1 1-2 1 0-1-1 1-1-1-1 3-3-5-1 3-3-3-2 1-3 3 0-4-3 5-4-3 0 1 0-3-2 5-1-2-3 1 0-3-4-1-1 0-3 3-1-3 0 1 0 3-1-4-1 0 0 4-3-3 0 0-1 4-1-2-2-2-4 3 0-2 0-2-1 3-3-3-4 5-2-1 0-3-5 2 0-2 0-1-2 1-2 3-2 0 0-3-3 3-1-2-2 1-3 0-1-3 0 2 0 1-4-2 0 0-2 1 0 3-3-5-1 3-1 0-1 1 0 0-2 0-1 1-1-3-2 0 0-1-1 3 0-4-1 1-2 3-5 0-1-3-3 3-1-2-2 0-1 1-1 0-2-1-3-2-1 4 0-2-2 2-2-2-1 1 0-2-1 4-4-5-1 3 0 2 0-2-2-2 0 2-3 1-1-1-1 0 0 0 0-2-1 1-5-1 0 4-1-5-3 3-1-3-1 1 0 2-4 0-3-1-2 1-3 2-2-2 0 0-4 1 0-1-1 0-1 0 0-3-3 2-3-1 0 0-3 4 0 0-1 0 0-1 0-2-4 2 0-2-1 3-1-3-2-1 0 4 0-5-3 3 0 0-2 1-2 0-1-4-3 0 0 2-2 2-1-1 0 2-1-5-2 0 0 1 0 3-2 1-1-4 0 1 0 2-1 0-1-3 0 3 0-4-3 5-3-3-1 3 0-5-2 2-1 0-1 2-1 0 0-4-1 3 0 2-1 0-2-4-1-1-1 2-2 0-2-2-3 0 0 2-1 1-1 2-1-2-1-2-2 4-1-4-1 1 0 2-4-1 0 2-1-1-1-2-1-2-1 5 0 0 0-5-3 3 0-2-1-1-1 0-1 4-2-3 0 4-1-2 0 1-2 1-1-1-3 1-1-2 0 0-1-2 0 3-2 0-1-4 0 5-3-1-4-3 0 1-1 2-1-4-3 0 0 5 0-1-1 0-1-1-3-1 0-1-1 4-1-4-7 1-1-2-1 5-3-4-1 3-1-1-1-1-2 2-2-4 0 4-3-3-4 2-2 0-2 1-5 0-2 1-1-5 0 4-2 1-1-5-1 2-1 1-1-2 0 0-4 4-1-1-2-2-3-2-1 1-3 2-2-1-13-1-6 2-16-2-2 1-3 3-1 0-1-1-14-1-4-1-2 0 0-2-1 3-2-2-3 2-3 0-1 2-2-5-1 2-2 1 0 1-1 1 0-2-1-3 0 1-3 4 0-1-1-3-1 0-3 4 0-4-2 0-1 3-2-4-2 4-4-2-1 3-1-1-2-2-1-2-2 0-2 3-1 0-3 2-3-2-1 0-1 0 0 1-3-3-1 3-3-2-4 3 0-5-1 4-1 0-3-4-1 3-4 0 0-3-3 1-1 2-2-2-1 3-1-4 0 5-2-5-1 2-4-1 0 4-2-5-2 5 0-3-1 1-1-3 0 1-2 3-1-4-1 2-3-1 0 3-3-1 0 1-3-1-1 2 0-4-4 3-1-1-1 2-3-1-2 1-1 0-1-1-1 1 0-2-6 0-1 2-3-2 0 1-1-1-2-2-1 2-1 0-1 2-2-5-1 2 0 0-2 2-2 1-1-4-1-1-1 5-1-3 0-1-2-1-1 0-2 4-2 1 0-4 0-1-1 3-4 1 0 1-1-5-2 1-1-1-1 3-1 1-2-2-2 3 0-4-2 0-1 0-1 3 0-3-3 2-1-2-1 4-3-5-2 0-1 5 0-5-1 1 0 3-1-1-3-3 0 3-2-1-1 1-1 2-2-5-2 0 0 3-1-2-1 0 0 4-1-4-1 4-4-5 0 2 0 1-2 1-1 1 0-3 0 0-1-1-1 4-1-4-2 3-3-1-1-1 0-1 0 3-1-2-3 3-1-4-1 4 0-4-3 3-2-4 0 3 0 0-2 2-1 0-1-2-3-1-1-1 0 1-2-1-1 3 0 1-2-1-1 1-2-5-1 2-3-2-1 2 0-1-4 4 0-3-5 3-1-3-3 0-2 3-1 0-1-4-2-1-1 0 0 1-1 2-4-2 0 3-4 1 0-2 0-1-4 2-1 1-1-1 0-1 0 0-2-1-1-1-3-1-1 0-1 4-1-4-1 1 0 4-1-2 0 1-2 1-2-1 0-3-4 3-1-2-3 0-1 0-2 0 0 2-3-4-1 3-4-3 0 3-1-3-1 4-1 0 0 0 0 0-2-4-1 4-1-4-1 4 0-4-2 1 0-1-1 4-1-3-2 0-2 2-2-2-1 3 0-3-2 0-1 2-2-1-3 1 0 0-1-1-1-2 1 7 1-1 0 2 0-1 2-1 0 5 2 0 0-4 0 0 4 1 1 1 0-1 3-1 0 1 0 2 0-1 2-2 2 2 1-1 0 1 1-3 3 2 2 1 3 0 1-1 0 3 2-1 1-4 3 3 1 1 0-2 3-1 1 3 2-3 0 3 2-2 3 0 4 2 2-2 2 0 2 0 0 2 1 0 0-3 4 0 1-1 2 0 0 4 1-1 6-3 0 3 4 2 0-1 1-2 2-1 1 0 1-1 5 2 0 2 1-3 1 4 1 0 1-5 0 4 2 0 0-1 0 1 1-2 2-2 0 0 1 2 0 3 1-2 0 2 1-1 4 1 5 0 0-3 1-2 0 4 0 1 1-3 3 0 2 0 0 1 2 2 4 0 1 0 1-4 3 2 1 1 0-2 1-2 3 2 3 2 1 1 0 0 0 0 1-4 0 0 2-1 2 3 1 0 2-1 2 2 3-4 1 2 1 2 2-3 1-1 1 5 2-2 1-3 0 4 1-4 1 2 2-1 0 2 0-3 5 2 0 2 3 0 3 0 0-3 2-1 1 2 3-1 3 2 2-3 0 4 0 1 3-4 3 1 1-1 0-1 1 4 1-4 3 4 0-4 3 1 2-1 1 5 1-5 1 1 2 3 1-3 0 3 0 0 1-1 1 2 1-3 3-2 1 5 1-5 2 5 2-3 1 1 0-2 4-1 0 1 2 0 0 2 3 0 1-2 2 3 4 1 0-3 2 1 4-2 0-1 1 5 1-3 3-2 2 5 1-2 3-1 0-2 5 5 0-2 0-1 3 0 2 2 1 1 1-4 0 4 1-5 0 0 1 2 1 2 4-3 0 0 0 2 2 0 0 2 4-3 2-2 1 5 0 0 2-5 1 5 1-1 1-2 3 2 1-1 0-1 2-1 0 4 4-3 1-1 0 2 2 2 1 0 0-5 2 2 2 1 0 2 1-1 0-1 4 2 2 0 2-1 0-1 0 1 1-1 3 0 1 0 2 2 3-4 1 3 1-2 1 1 0 1 6-4 1 2 2 3 0-3 2 1 1-3 1 0 2 2 6 2 0-3 1 0 2 0 4 1 1-2 2 3 0-2 1 4 3-2 33-3 3 2 14 3 15-4 0 2 0 2 3-5 2 3 6-3 2 4 1 0 3 0 1-3 2 0 1 4 0-4 2 2 1 1 2 0 2-4 0 5 3-4 2 2 1 1 2 1 2-2 0 0 2-2 0 3 3-3 1 3 1-3 2 2 3-1 1-1 1 3 2-4 1 5 3-4 5 1 2 2 1-2 2 3 2-1 1-1 1 2 1-2 1-3 1 1 1-1 2 4 0-3 3 4 1 0 0-5 0 3 0 1 1 1 0 0 0-4 0 4 2-2 0-1 1 2 0-4 1 1 0 2 1 2 2-2 2-2 2 1 0 0 3 1 1 0 1 2 0-5 2 0 5 2 0 2 0 1 1-5 1 1 1 3 1 1 1-2 1 0 2 1 2-1 0 0 1-1 1-2 0 5 1 0 1-4 1 3 3 0 1-4 0 3 0 0 3-3 0 4 3-4 2 3 2-3 1 1 2 1 0 3 1-2 3-1 0-1 0-1 1 3 1 1 3-3 2 2 2-2 0 4 1 0 0-5 3 4 1 0 1-2 2-1 1 2 1 1 2-3 0 2 1-2 1-1 0 0 4 3 1-1 0 1 1-3 0 0 1 4 2 1 3 0 2-5 1 3 0 2 1-4 2 4 1-1 3-4 3 1 0 3 3 0 3 0 0-1 1-1 0 3 1-4 2 1 1 1 1-1 1 0 0-1 0 3 1 1 3-5 0 1 1 3 0-2 1 0 3 0 2 0 2 1 1-1 3 1 1-3 0 2 1 3 0-4 3 1 1 0 1 2 1-1 4-2 2 0 0 3 3-1 2 1 2-2 3 0 0 1 1 1 1 0 3 0 1-4 1 3 2-3 0 4 1-3 1 4 1 0 1-3 3 3 2-5 1 4 0-1 2 2 0-1 1-1 1 0 4-2 2 2 3-2 1 2 1-2 3 1 0 2 0 1 2-4 3 2 1-2 1 4 1-4 1 3 2-4 1 5 1-3 3-2 0 1 1 4 0-4 2 4 0-2 1 0 0-1 2 1 3-1 1 0 0 0 0-1 4 4 0-4 0 2 3 0 1-2 2 3 2 0 2 0 2 0 1 0 1-1 3-2 1-1 0 0 3 4 1-4 2 2 0 1 3-3 2 0 0 2 2 0 2 1 4 1 0-1 1 0 1-2 2 0 2 2 3 2 0-5 3 3 3 2 1-4 1 3 0-3 1 4 1-4 2 2 1-1 1-2 6 3 4 2 0-4 2 0 3 4 3 0 2-4 4 2 2 2 2-5 0 4 1-4 3 3 1 1 0 0 1-2 1 0 3-2 0 0 1 5 1-3 2 1 1-1 0 3 5-4 3 1 4 3-3 5-2-4-2 4 0-1-1 2 0-1-2-2-3 2-2-3 0 3-2-3 0 0-3-1-1 0 0 1 0 3-1 1-8-4-5 3-1-2-2 1-2 0-1 0-4 1 0-1-3-1-5 2-4-3 0 3-2 0 0-1-3 1-1-4 0 5 0-5 0 5-1-5-4 2-6-2 0 3-2-1-1 2-1-2-2 0-1 2-2-4-1 4-1-4-1 4-2 1-1-4 0-1-1 3 0-1-1-2-3 3 0 2-1-2-2-2-1-1-1 1-1 1-3 2-1-1-3 0-1-1 0-2 0 3-2-2-1 1-1 2-1-2-1 2 0-1-1-1-1 3 0-4-2 2-2-3 0 0-2 0 0 3-2 0 0 0-1 2-3-4 0 2 0 2-1-4 0 4-2-3-2-2-2 5 0-3-1-1-3 2 0-2-1 2-1 2 0-4-4 4-1 0-1-3 0-2-1 0 0 2-1 1-3-3-1 4-2 0-1 0-1-2-1-2-2 0-2 5-5-4 0 4-1-2-6-3-1 4-2 0-1 0-2-3-1 1 0-1-2 2-1 2-1 0 0-5-3 3-2-1-5 0-1-2-2 2-1 0-1 1 0-2-2 1-2 1-2 1-1-3-3-1-1 5-2-3-1-1-2-1 0 4-2-2-1-2 0 5-1 0-2-5-1 5-2-2-1-1-7 3 0-3 0-2-1 1-2 3-2-4-1 1-2 3-1 1-2 0 0-4-3 4 0 0-1-2-1-1-1 2-2 0-2-2-1-2 0 1-2 3-2-2-1-2-2 4-1-2-1 3-1-3-1 0-3 1-2 0-2-2 0 2-2-1-1-1-4 2-3-3-1 2-2 3-1-3 0 1-1-1-2 3 0-5-2 5-3-3 0 0-1 1-1-3-1 0 0 3 0 1-1 0-3-3-2 0 0 4-1 0-1-4-4 3-2-1-2-1 0 1-3 2-2-5-1 0-1 5-2-5 0 3-1 1-2-3-1-1-1 3-1 0 0 1-3-1-2-1-1-2 0 0-1 3 0-1-1 3 0-3-3 3 0-2-3-2-2 2-2 0-1-3-2 2-2 1-2 2 0-1-2-3 0 2-1 1-5 0 0 0-2-3-2 2-2 1 0 0 0 1-1-3-1 0-2 0-2 2-3-1-2-2 0 2-1-1 0 1-5-3-2 3-1-3-4 4-1-2-6-2-1 1 0 3-1 0-1-1-1 2-1-4-1 4-2-4-1 2-1-2-3 2-8-3 0 2-3 0-2 2-17-3 0-1-16 2-8 2-8-1-1 0 0 0-21 0-7 2-3-2-1-1-3 3 0-4-4-1-2 3-3 0-1-2-1-1-2 5-1-3-3-1-2 1-3 0-1 3-3-2-1-1-1 3-2-2-1-1 0 0-2 1-3 2 0-4-2 0-3 1-1 2-4-1-1 2-3 0-2-3-1 2-1-2 0 3-1-4 0 2-2 1-2 0 0-4-1 5 0-2-3 0 0-2-3 2-1 2-4-3 0 3-1-4-1 0-1 3-1-3-3 4-3-3 0 3-2 0-3-5 0 5-2-1 0-4-2 0-1 2 0 0-3 1 0-3 0 2-2-1-1 3-4-2 0 2 0-4-2 2-2 0-2-2-1 1 0-1 0 1-2 3-1 0-1-1-3 1-3-2 0 0 0-1-1 4 0-2-2 2-1-3-1 2-3-3-1 4-1-2 0 1-1-4-1 5-1-2-2-1-2 1-1-1-3 2-4-4-1 5 0-1-2-4-2 2 0-2-1 1 0 4-1-2 0 0 0 1-1-2-1-2 0 1-3 4-1-2 0-3-2 0-1 0-1 5-1-5-2 0 0 3-2-1-1 2 0-1-2 2-2-2 0 1 0 0-1-4 0 1-3-1-1 1-4 4-1-4 0 1-1 2 0-4-3 2-1 0-1 2-2-1-2 0-1-2-1-1-1 5-1-4-2 3-2-2-1 0-1 3-3-4 0 0-3 2 0 0-4-3 0 2-3-2-2 5-1 0-2-4-1 3-1-4-1 5 0-3 0 3-4-3 0-1-1 3 0 0-2 1-2-1-3 0-2-4-1 0-1 3-2 2-1-2 0 2-5-3-1 3-3-2-4 2-4-3 0-2-1 2-2 1-1 0-3-3 0 5-4-3 0 0-1-1-1 4-2-5-1 0 0 3 0-1-3 3-2-4-4-1-5 5-1-5-2 5-6-4-4 0 0 4-1-3-1-1-2 2 0-3-4 5-2-2-1 1-2 1 0-4-2 2 0 0-2-1-1 3-4-5-3 2-1 0 0-2-1 2-1-2-1 3-2-1-1 3-1-2-2-2-3 3-1 1 0-5-1 0 0 2 0 5 2 2 0 1 4 0 5 0 0 0 0 1 0-2 5 1 0 1 2 0 1 0 2-4 1 3 2-3 2 3 0 1 1-3 1 0 0 1 3-1 5-2 2 3 3 1 4 1 2 0 0 0 0-1 2-3 1 1 2 1 4 1 0-3 1 2 0 0 2-3 3 0 1 5 2 0 0-2 0-2 1 4 0-4 3 0 0-1 2 0 4 1 1-1 0 5 3-4 1 3 2 1 1-4 1-1 1 5 1 0 2-3 1 3 2-3 2 3 1-3 3-1 3 4 1-2 2 1 1-1 1-2 1-1 3 0 0 5 3 0 5-5 2 4 0-1 1 0 0 1 2-4 2 0 2 5 2-4 0 0 1 1 0-2 1 3 2 2 1-3 1-2 2 1 0 0 1 4 2 0 0 0 1 0 5-2 4 2 0-4 0 4 5-5 0 4 0 1 3-1 0-3 2 0 2 0 1 3 1-4 2 1 2 4 2-3 0-1 2 3 2-1 3-3 2 2 1 0 0 3 3-5 0 5 2-3 0 1 5-1 5 2 0 1 0-4 0 0 1 3 2-4 1 5 0-4 1 4 1-3 1 2 0-3 2-1 1 0 0 3 3-3 0 5 3-5 1 3 4 1 2-2 2-2 3 5 0-3 3 3 0-4 3 2 1-1 1 0 3 3 0-5 1 5 1-4 0 3 1-2 1 3 1-3 2 1 2-1 0-2 0 0 3 4 0 1 2 0 2-2 0-3 1 1 0 0 0 3 4-2 3 2 1-1 0-2 1 3 1 1 0-1 1-4 2 4 1-3 2 0 3 1 6 3 1-4 1 2 0-2 1 4 6-5 0 4 1 0 1 0 3-3 0 3 1-2 2 3 1-5 1 4 1-2 4 1 3 2 3-5 0 4 1-3 3 3 3-2 7 3 0-1 1-4 2 1 2-1 0 4 4 1 2-2 1 0 1-2 3 2 1-1 1-1 0 3 0-4 2 3 1 2 1-4 1 4 6-5 0 2 5 1 2 2 4-3 0 0 1 1 3 2 0-5 14 3 7 0 5-3 29 2 3 1 3 1 6-2 1 2 1-3 7 3 9 0 0-4 3 0 3 4 3-3 2-1 0 2 1 2 3-4 1 3 2-3 1 5 2-3 0-1 3 4 0-5 1 3 0 1 3-4 0 3 0 2 0-2 2-3 1 2 2 0 1-2 0 4 2-1 0 2 3-3 3 0 2 3 1-4 5 3 3 1 0-4 1 0 4-1 2 4 1-2 1 2 2-2 3 1 1 1 2-3 0 2 2 2 1-4 1 2 1 1 2-2 1 2 2 1 2 0 0-1 0-2 5-1 0 3 2 0 0 0 2-1 2 0 2-1 3 3 3-4 1-1 0 4 2-3 3-1 0 4 1-4 1 2 4 2 1-4 0 5 0-3 0-2 4 0 1 1 0 0 1 2 2-2 0-1 2 0 0 1 3-1 1 3 0 1 2 1 1-5 0 3 3-1 2-2 0 3 4 0 1-2 0-1 2 0 4 0 4 0 0 4 1-2 2-1 2-1 1 2 2-2 1 0 1 5 1 0 2-4 2 3 1 0 0 0 1-4 0 1 2 0 2 4 1-1 1 1 2-2 0 0 1-1 0 0 2 3 1-4 4 3 0 1 1-4 0 1 1 1 0 0 4 1 1-2 2-2 3 3 0 0 2-3 0 5 1-4 3 2 1-2 2 1 1-2 3 1 0 4 1-5 2 3 1 1 1-2 1 0 2 2 1-4 2 0 1 5 1-2 0 1 1-1 4 2 1-1 1-4 1 2 1 3 1 0 1-5 1 3 1 2 2-4 0 2 1-2 3 3 0-3 2-1 0 5 2-3 3 1 2-3 1 1 1-1 0 2 1 2 3-1 0 0 2 2 1-1 3-4 0 2 2 3 1-5 0 0 1 3 1-1 0 2 1-4 2 5 1-2 0-2 1 3 0-4 0 1 1 2 1 2 1-5 3 1 1 2 1-1 1-1 1 4 0-5 3 3 2 2 2-1 1-4 0 2 3 0 0-1 1 1 1 0 2 3 0-2 1-2 0 3 2-1 1-1 1-1 0 4 1-3 1 2 2-3 1 4 1-4 1 1 1 1 0 0 1-1 3 2 2-4 0 5 1-5 1 2 0-2 2 5 0-4 1-1 3 3 3 2 0-3 1 3 0-2 4 0 0 2 9-4 1 0 2 4 4-2 0-2 4 4 2-3 3 3 2-4 1 1 2 3 1-3 7-1 1 2 7-1 0 3 0-5 4 1 0 3 2-3 0 0 1 2 4 0 0 2 2-2 2-2 1 1 1-1 4 4 1-2 2 0 0-1 0-2 2 2 1 3 7 3-5 3-1-3-1 0 0 0-1 0 0 3-3-1-1-4 0 5-1-4-2 1-1 0-2-1-2-1-1 3-2 2-1-2-1 0-3 2 0-2-5 1-1-1-5 0 0-3-1 5-2-4 0 0 0 0-3-1-2 5-3-2-1-3-2 5-1-4 0 1-1 0-1-2-1 4 0-3 0 4-5-1 0 0-1 0-4-1-1 1-4-2-3-2 0 5-1-1 0 1-1-3-2 1-1 1 0 0-2-3-1 0 0 2-1-2-2 1 0 3-4-4 0 1-4 1-1-3-2 3-1 0-1 2-2-5-2 1-1 2 0-3-1 5-1-1-1 0 0-3-3 1-3-1 0 2-2-1-2 3-4-4-1 1 0 1-2 2-2-3-3-2 0 3-1 0-3-3 0 3 0 1-3-1-3-1-1 2-2-2-1 3-3-5-1 3-2-3 0 1-4 3-1-2-2 2-2-2 0 3-2-1-2-4-2 2-1-1-1 3 0-3-2 2-2-2-1 1-2 0-1 3-1-4 0-1-3 5 0-5-1 3 0-1-1 0-1 2-2 1-1-2 0 2-1-1-1-4-1 1-2 2 0-3-2 5-4 0-3 0-1-2-2 0-2-3-1 2-1 3-1-5-1 0-2 5 0-2 0-3-1 1-2 3-5 1 0-2-1-1-1 2-2 1 0-2-1-1-1 1-4-3-1 3 0 0 0-2-1 4-1-1-1 0 0-4-1 4-1-1-3 2 0-2-3 2-1-4-1 2 0-2-4 1-1 0-1 1-1 1-2-3-1 1 0 3-4-3-1 2-2-4-1 1-1-1-1 4-2 1-1-5 0 4-2-4 0 2-2 2-1-1-1 1 0-2-3 1 0-2-1-1-2 1-1 0-1 1 0 1-1 0 0-2-5-1-3 5 0-2 0-1 0-2-1 5-1 0 0-5-3 2 0 3-1 0 0-2-1-3-1 0-1 4-1-1-3-2-1 3-2-2-1 3-3-5 0 4-2 0-1-3-1 3-3 0-1-1-1 1 0-4-2 0-1 2-1-1-3 4-1-5-1 1 0 4 0-1-3-2 0 2 0-1-3-3-1 5-4-4 0-1 0 1 0 3-1-3-1 3-4-3 0 1-2-1 0 4-2-2-1-2-2 4-2-2-2 0-1-1-1 0-1 1 0-3-1 5-1-2 0 2-4-2-1-2-3 2-1 2 0-2-3 0-2-3-2 1-4 3-1-4-2 2-5 2 0-3-4-1 0 2 0 1-3-1-2 2-1 0-3-3-3 0-4 2-1-2-2-1-1 3-2-3 0 0-3 3 0 1-3-3-3 3-5-3 0 4-2-1-4-2-27-2-22 5-1-3-17-2-10 0-2 0-4 2 0-2-3 3-1-1-1 1 0 0-5 1-1-2-1 2-2 1-1-2-1-1-2 1-5 1-1 0-1 1-4 0 0-4-5 0-1 3-2-2-3 2-5-2-3 3 0-2 0-3-1 5-2 0-4 0 0-5-3 5 0-2-1 2 0-4-3-1-1 5-1-2 0-1 0-1-1-1-2 4-3-2-1 2-2 0 0-4-2 1-1 2-1-2-1 3 0 0-2-2-3 2 0-2-5 0 0 2-2-3-1-1 0 1-2 3 0-4-3 2-3-1 0 3 0 1-1-1-1 1 0-4-4 2 0 2-1-5-4 2 0-1 0 2-1 2-1-5-1 3 0 0-1 1 0-2-3-2 0 5-1-2-1-2-3 0-1 0-1-1 0 1-1-1 0 1-1-1-2 3-2 2-1-5 0 5 0-3-1 2-1-1-2 1 0-3-1 0-2 3 0-3 0-1-1 3-2 1-2-3-4 4 0-1-2-4-3 3-1-2 0 0 0 0 0 1-3 3-1-4-1 4 0 0 0-2-2 1-1-2-6-2-2 3 0 0-1-1-1-1-5-1-1 1-2 4-1-5-1 0 0 2 0 0-3 1-3-2-1 4 0-3-1 3 0-1-3-4 0 0-1 2 0-2-2 3-1 0 0-1 0 3-3-5-1 5-1-5 0 0-1 4 0 0-1-1-1-3-4 3-3 2-1-1-2 1-1-1-1 1 0-1-1-4-1 3-1-3-4 3 0-1-2-1-3 2-1-1-4 0 0 1-2 2 0-3-4 1-1-3-1 2-1 2-7 0 0-3-1 3-1-2-3 1-2-3 0 4 0-4-3 4-1 1 0-2-3 2-1-5 0 5-2-3-1-2-2 3-1-1 0 3-2 0-1-3-4 2 0-3-3 2-2 1-2-1-4 1 0-3-2 0-2 3-2 1 0-1 0-1-2 0-1-3 0 5-3-3-2-1-4 0 0 0-4 0-1 1-5 2-2 1-1-5-1 2-1-2-6 4-3-2-2 0-1 0-11-2 0 1-1 4 0 4 1-1 0-1 0 0 1 4 0-3 3 0 5 3 0-5 0 0 1 1 2 4 1-4 3 1 2-2 1 5 1-1 2-2 2 0 2 1 1 0 0 0 1 0 1-3 0 0 3 3 1-2 4-1 2 0 0 5 1 0 2-5 2 5 1-5 1 2 1 3 2-2 1-1 0 2 3-4 1 3 2-1 1 3 2-1 2-2 0-1 2 1 2 3 0-5 1 4 0-4 0 0 3 2 4 0 0-2 0 2 0 2 2 1 2-4 1 1 1-1 1 0 0 1 1 0 0 1 1 1 2 1 1-4 3 0 1 0 1 1 2 1 0-3 4 3 1 1 0-1 1-1 2-2 3 4 0-3 1 1 2 2 1-2 2 3 1-3 1 2 2 0 3-4 1 4 1-4 2 2 0-1 3-1 0 0 1 3 1-2 2 2 1-1 1 2 2-1 3 1 2-3 1 3 0-1 2-2 0 0 1-1 0 4 0 1 1-4 3 3 1-3 4 4 0-1 0-2 2-1 0 3 1 0 1-2 1 2 0-4 0 2 1 3 0-2 2 0 1-2 2 4 2 0 2-3 1 2 3-4 1 2 1 0 1-1 0 2 1-3 2 3 3-3 1 3 0-2 1 2 0-3 0 0 2 1 3 3 1 0 3-2 0 1 3 2 1 0 3-5 0 1 1 3 0 1 1-4 2 2 1-3 2 0 1 4 2 1 0 0 1-3 1-1 1 4 1-2 0 1 3-1 1 0 0 2 0-1 5-3 1 4 0-1 2-2 1 2 0-1 1-3 0 5 0-3 1 1 2-2 2 3 0-1 4 0 1-3 2 0 1 4 3 1 0-2 1-2 3 2 0 0 3-1 1 0 1 1 5-3 0 4 1-1 3-3 1 4 1 0 1 1 0-3 0-2 1 4 0 1 2-5 2 4 1 1 0-4 1 0 3 1 1 1 0-3 1 1 2 4 2-2 0-2 2 1 1 3 0-2 2-3 0 5 1-3 2 0 0 0 2 1 2 1 7-1 3-2 2 0 0 3 2-3 0 2 2 2 3-3 0 2 1 1 0-4 4 4 0-2 0 0 1 2 0-2 3 1 1 1 3-3 2 3 2-2 0-2 1 0 1-1 2 5 0 0 0-2 2 0 4-2 3 4 1-3 7 3 1-3 1-2 14 4 30 1 8-3 8 0 15 0 11-2 9 3 3-1 0-1 0-1 1 4 2-2 3-2 4 0 1 1 2-1 1 4 1-1 1 0 6 1 2-3 0 1 4-2 1 1 2 1 1-2 1 2 1 3 2-4 2 3 0-4 1 5 1-5 2 0 1 4 0-1 1 0 5 0 2 0 1-3 0 4 1-1 1-2 0 1 0 3 2-3 0-1 4 3 2-2 0 1 1-2 1-1 0 1 0 2 1 0 2 2 1 0 1-3 0-2 1 2 3-1 1-1 0 2 3 1 1 1 1-3 1 0 2 0 1 3 0-1 0-2 0 0 2 0 3-1 2 3 3 1 1 0 0-4 0 3 0-3 2 3 2-3 0 0 0 3 2-1 1-2 0 3 1 0 1-1 4-2 0 4 2-1 0 0 4-1 4 2 0-3 1 2 7 2 0-3 2 1 4 2 1-1 3-4 0 2 3-1 1 1 2-1 0 4 1-2 1-1 1-2 2 3 0-2 3 3 3-3 2 3 0 1 1-3 2 1 1 1 0-4 3 5 0-5 0 5 1-5 2 5 1-2 0 1 2-4 2 3 4 1 0 0 1-2 6 1 3 0 1 1 1-4 1 5 1-3 2 1 1-2 0 3 0-1 1-1 0 3 0-3 3-2 2 5 1 0 0-3 3-2 2 4 0-3 3 2 1-2 1 1 1 3 2-5 4 1 2 1 1 2 4-2 1 2 1-2 1 3 1-4 2 4 0-2 3 0 1-2 0-1 2 4 2-3 2 2 3 2 0-4 3 4 1-5 0 2 1 3 1-4 3 2 2 0 3 2 0-5 2 2 2 0 3 2 1-1 2-2 1 2 0 1 5-1 0-2 1 2 2 0 1-1 1 3 1-1 3-3 1 4 1-2 3-2 3 3 1-4 4 0 0 1 1 4 2-1 0 1 0-5 0 2 2 3 1-5 2 5 0-3 2 1 0-3 1 3 0 1 1-1 2-2 2 4 2-2 0-1 2 1 1-2 0 4 1-5 2 1 4-1 0 1 1 2 1-3 1 1 2-1 2 4 4 1 1-5 3 5 0-1 3 1 1-1 1 0 2-4 0 2 1 3 4-3 0 3 1-4 3 2 2 0 1-1 1-2 1 3 5 1 2-1 3 2 0-5 1 5 0-3 0-2 2 2 0 2 3 0 0 1 1-5 2 1 6 1 4 3 0-1 1 1 0-5 3 4 1-2 3 1 0 1 1-2 0-1 7 0 1 2 0 2 1-4 1-1 2 5 1-1 0-1 2 2 1 0 1 0 3 1-2 3-2 1-2-1 0 1-1-3-3 1-1 2-2-2 0 0-1-1-2-1-1 5-1-1 0 0 0-1-3 2 0-5-1 1-1 0-2 0-4 4-3-5-2 1-1-1-3 1 0 4 0-5-2 2-3-2-4 2-1-1 0 2-4-2 0 1-2-2 0 3-3 0-4 1 0-3-1 2-2 1-1-4-1 2-5 0 0 1-1-1-3 1-1 0-1-1-3 3 0-3-4 0-1 3 0-4-1 4-1 0-1-2-4-2-1 2-1 1 0-1-1 0-1 1 0-1-2-1-1 0 0-1-2 4-1-1-4-1-1 0-2 1-1-4-1 1-3 3-3 0 0-4-1 3-2-3 0 0-3 2-2 3-1-2 0 0-1 0 0 0 0-2-1 1-3 3 0-5-3 5-4-2 0-2-1 4-1-1-2-2-1 0-2 3-1-3 0-1-1-1-1 0 0 5-2-5-4 1-1 4-1-4-2 0-1 2 0-3 0 3-1 2-1 0-2-5-1 1 0 3-2-3-4 2 0-1-3 3 0-5-3 3-1-3 0 4-3-4 0 1-2 3-1-3 0 2-1 2-2-3-3 0-1 0-2 1-1-2-2 2 0-1 0-2-4 0-2 0-1 0-4 2-1 1-1 0-4-3-1 2-2 3-1-1-1-3-1 3-3 1 0-4-1-1-1 2-2 2-1-1-1 1-2 0-1-3 0-1-3 2 0 2-2-1 0-2-1 1-2-2-1 3 0-2-5 2 0-2-3 2 0-2-2 1 0 1-3-3-1 2-1-2-2 4-1-4-3 3-1 1-1 0-1-3-2 1 0 3-2 0 0 0-1-3 0 3-2-4 0 2-2-2 0 0-1 2-4-3 0 2-2-1 0 0-2 1-1-2-2 2 0 0 0 0-2 3-2-1-1-4-1 4-2-3-3 3 0-1-2-2 0 3-1 1-2-3 0 1-2-3-3 3-1-2 0 4-1-5-1 0 0 2-1 3-2-1-1-3-2 1-2-1-1-1 0 4-3-1-2 1-1-3 0 2-1-2-1 2-2-3 0 5-4-5-1 0-3 3 0 1-1-1-1 1-2-3-1-1-1 2-1 3-2-5-1 4-2 0 0-3-3 1 0 0-1 0-2 0-3 0-1 3 0-3 0 2-1-1-1 2-3-3-1 2-1 1 0-4-1 4-2-2-1-2 0 4-1-3-1-2-3 3-1-2 0-1-2 0 0 1-2 2-2 2-2-2-2-3-3 4-1-2-1 2-3-3-2 2-2 0-2-2-2 0-4 1-2-2-1 4-5-3-1 1-4-1-8 1-103-2-2 2-2 0-6-1 0 3 0 0-3-3-2 1-1 0-1 3 0-4-2 2-1 0-2 0-1-1-1-1 0 3-4-1 0 1 0-4-1 3 0-2 0 0-1 2-1-3-5 4-2-3-2 3 0-1-1 1 0-3-2 2-2-1-1 1-2 2-1-5-1 3-1-2-2 1-1 1-2 1 0-3-1 0-1 3-1-2-1-2-2 3-1-3 0 5-2-1 0 0-2-1-2-3-1 4-2-1 0 1 0 1 0-1-3-3 0-1-1 1-3 4 0-3 0 0 0-1-1-1-2 0-1 5-2-5 0 3-1-2-2 2-1 2-2 0 0 0-3-4-1 2 0 2-1-5-2 4-2 0-2-3-2 3-2-1 0 2-1-1-1 0-3-3-7 3-1-1 0 0 0-1-3 3-4-5-2 4 0-2-1-2 0 1-4-1-1 1-1 3-1-2-3 3-3-2-3-2 0-1-3 1 0 3-1-3-1-1-2 2 0-1-3 2 0-3-2 5 0-5-1 1-1 2-3 0-1 2 0-1-2-4 0 3-4-1-1 3 0-3-2 2-1-2-1 3-2-3-3 2 0 1-1-1-3-1-2-1-2 1-1-3-2 0-1 4-1-4-2 1-1 4-2 0-1-5 0 3-5-3 0 2-2 2 0-3-4 1 0 0-2 0-1 1-3-3-1 2-4 0 0-2-2 0 0 5 0-3-5-2 0 5-1-2-2-2 0 2-1 1-2-1-1 1-1-4-5 2 0 3-1-5 0 4-3 0-1-4-1 2 0-2 0 5-1 0-4-4 0 2-1-2-1 2 0-1 0 3-1 0-2-5-1 5-1-2 0-1-1-2-5 1-2 3 0-4-2 5-1-1-1-4 0 2-1-2-2 2-3 2-2-4 0 0-2 1-1 2-1 2 0-5-1 4-2-4-1 2-1-1-4 0-1 2-2 0-2-1 0 1-5-2-3-1-1 4-1-1-2 0-2 0-7-3-1 2-2 2-3-3-1-1 0 1-1 0-1-1-2 4-2-4 0 2 0 2-1-1-1 0 0 6 0 2 0-4 5 0 6 3 6 0 0 0 2 0 3 1 0-2 1 0 3 0 1 0 1 2 1-4 0 4 3-5 3 0 1 1 1 1 1 3 2-2 1-3 1 1 1 4 2-3 1 0 0 1 1-3 2 4 1-3 1 3 1-3 4 0 3-1 1 4 1-3 1 3 0 0 3 0 1-2 1-2 2 5 0-3 3-1 0-1 2 3 1 1 2-1 2 2 2 0 1-4 0 0 2 2 1-3 3 3 1 2 0-5 0 0 1 5 3-1 0 0 2-2 1 0 1-2 1 3 2 2 1-5 3 3 2-1 0 1 3-1 1-1 1-1 1 5 1-2 1 1 2-1 1-3 0 1 2 4 0-4 2 1 3 1 3 0 0-3 1 0 1 5 0-3 2 3 1-4 3 4 1-4 0 4 1 0 3-2 2 1 0-3 3 3 1 0 1-2 4 1 0-3 2 0 0 3 0-3 4 1 1 2 3 0 1 2 3 0 0-3 1-2 2 4 3 1 0-2 1-1 0 2 1 0 2-1 2-2 1-1 1 1 3 3 1-2 0 1 3 0 0 1 3-3 1-1 0 3 1-3 0 4 3-1 0 2 1-3 2 0 3 0 0 1 3-1 2-1 0-1 1 5 2-5 1 1 3 1 3 2 1 1 1-2 3-2 0 3 1 1 4-1 1 0 2-1 0-3 0 3 1-2 4 0 0 4 1-5 0 0 0 5 1-4 1-1 1 4 0 0 2-1 1 2 0-5 1 5 2 0 1-2 6-3 2 0 1 2 3 1 1-3 0 1 0 4 1-1 2 1 0-3 3 0 1 1 2 0 1-2 2 4 1-4 0 3 0-3 3 1 1 3 0-5 1 1 2 0 0 0 3 3 1-3 0 3 1-4 3 1 2 3 4 0 0 0 2-4 1 0 2 2 3-2 2 0 2 4 1-2 3-2 1 2 1-1 0 3 0-2 2 2 0 1 0-3 1 3 2-5 1 3 2-1 1 0 3-1 1 2 3-3 4 2 3-1 4 1 11-1 2 3 32-2 16 3 14-1 41 0 0 1 2-2 6-2 2 0 2 4 1-5 2 4 5 1 1-2 0 0 1 2 0-4 4 3 1-4 0 5 1-4 1 2 2 2 2-3 1-1 3-1 1 3 0 2 4-2 1 2 0-1 1-3 1 1 3 2 1-4 1 4 1 0 1-4 1 5 1-1 1-3 2 1 2 3 2-4 1 1 0-1 1-1 1 5 1 0 2-4 0 3 0-3 4 2 3-2 2 3 1-3 1 0 1 4 1-5 1 0 1 3 1 1 0 1 1-2 0-2 3 3 0-4 3 4 4-3 1 2 1 2 0-2 0-3 2 2 1 3 2-1 0-3 1 3 2-3 2 4 0-3 1-2 0 2 2-2 2 4 2 1 1-5 2 4 2-3 2 2 1 0 1 2 4-5 3 3 0-1 1-2 1 0 1 4 0 0 3-4 1 2 1 3 0-1 1-3 1 2 1 1 0 1 3 0 1-3 0 2 1 0 2-1 1-2 0 0 3 0 0-1 2 5 2-1 0-4 1 4 0-4 0 1 3-1 2 4 1-4 2 3 1-1 1 2 0-1 0 2 1-2 1 0 2-3 1 3 1 2 2-5 0 4 1-3 1-1 3 3 0 0 4-1 1 0 0 0 2 1 1 0 0-1 2-1 1 4 4-3 3 3 0-3 1-1 1 1 1-1 1 4 0-5 5 5 0 0 1-5 1 0 2 1 0 1 0-1 0 1 1 3 1-3 0 1 0-1 1-1 2 0 2 4 3-2 1-3 3 3 0-1 0 0 2 3 2-4 1 3 1-2 1 2 1 1 1-3 1-1 1 3 2-3 0 2 2 2 2 0 0-5 1 3 1 0 1-1 0 0 1 2 1 0 0-3 2 4 2-1 1 0 1-1 2-3 0 0 3 3 0 0 1 2 0-1 1-1 4 1 1-4 0 2 1 3 0-1 4-4 2 1 0 4 2 0 1-3 3 0 1 2 3-2 0 0 2 0 2-1 1 4 1-3 1 0 2 2 1-3 3 0 0 4 0 0 1-1 1-4 1 1 2 0 2 0 1 2 1 0 1 2 0-3 1-2 1 2 2 3 1-2 0 0 2 2 1-5 0 1 0-1 1 3 0 2 2-5 5 2 2 1 0-1 3 3 1-3 1-1 3-1 1 3 2-1 1 3 1-2 1-1 4 3 1-2 2 2 0-1 1-4 0 3 1 2 1-1 0 1 2-2 0-3 3 2 0 1 2-1 0 1 3-2 0 1 1 1 0-1 2 3 0-3 2 0 4 0 1 2 3-2 1 3 0-5 2 5 0 0 0 0 12-4 3 0 2 0 10 1 2 1 2-3 4 0 0 4 1 1 1-2 0-3 1 3 2 1 0 1 2 1-2 2-1 1 0 0 0 1 0 0-2-1-12-3-6 0-1 0-2 1-2 1-9-2-4 3-2-2-3 2-3-1-1-2 0 3-5 1-2-2-2-1-3 3-8-1-1 2-3-3 0 2-2 0-1-4-2 4-1-3-1 1-4 0 0 3-3-2 0-3-2 0-3 5-1-5 0 1-1 0 0 4-3-3-1 2-1 0-2-4-1 5-1-3-3-1 0-1 0 3-1 2-4 0-2-3-2 2 0-1-1-1-1-1-1 0-2-1-1 4-2-4-2 1-1 4-1-5-3 1-1 4 0-1 0 0-4-4 0 5-2 0 0-2-3-2-3 0-1 1-1 1-1 1-1-2-1 3-1-5 0 3-3-3-1 1-1 2 0-2-2 4-2-5-1 1 0 0-2 3 0-4-5 0-1 1-5 1-4-1 0 2-1 1-1-1-6-2 0 4-1-5-2 1-1 4 0 0-2-2 0 0-1-3 0 3-2 1-1-3-2 3 0 1-3-4-1-1 0 4-1 0-1 1 0-3-2-2-1 1-1 0-1-1 0 3 0-2-4-1-1 1-2 3 0 0-2 1-1-3-2 0 0 0-1 3-1-2 0-3-3 4-1-3 0 4-1 0 0-5-2 3-1-1-2-1-1 0-2 4-1-4-1 1-1 2-2-2-2 0-1 2-2 1 0 0 0 0-2-4-3 4-1-2-3-2 0-1-1 2-4 2-3 1-2 0 0-3-2 2 0 0-3-4-1 3-1 2 0-3-1 2 0-3 0 1-1 0-7 0 0 2-1-1-1 2-3-5-1 5-1-2-1 1-2-2-2 2 0-2-1-1-2 3-3-4-1 5 0-5-1 2-4 3-1-2 0-2 0-1 0 4-2 1-1-3 0 2-1-1-3 2 0 0-1-3-1 3-2-2-1 1-1 1-1-3-2 1-1-1-1 0-4 1-1-2-3 2-1-1-2 2-1-1-1 2 0-2-3-3-1 5 0-4-1 2 0-2-3 3-1-1-1 2-2-3-1 2-2 1-1-2-3-1 0-2-1 3 0-1-1-1 0-1-1 3-3 2-1-4-1 1-2-2-1 1 0-1-4 2 0-1-1 2 0-1-2 1-2-3 0 4-3-2-3 3-1-4-2 2-1 2-1-4-1 2 0-3-4 1 0 3-4-3-2-1-1 1-1 2-3 0 0-3-3 1-3 3-1-3-32 0-94 1-7 0-5-2-1 3 0-2-4 3 0 0-3-2 0 3-1-3-2 3-1-3 0-1-3-1-3 5-3-4 0-1-2 1-2 1 0-2 0 3 0-2-1 4-1-2-5-1 0-2-1 4-1 1-1-2 0-3-1 3-2 2 0-5-2 1-1 4-4-4-1 1-3 1-2 1 0-3-2 4-2-5-1 4-1-3-1 4-1-1-2-4 0 4-5-1 0-2 0 3-1-4 0 5 0-4 0 0-2 0-1 1 0 1-2 0-1 0-2-1-1-2-2 3 0-2-1 4-4 0-1 0-1-1-2-4-1 2-2-1-1 1-5-1-2 4-1-4-1 2-2 1 0 0-1-4-1 3-2 2 0-4-4-1 0 0 0 3-2 0-1 1-1-4-1 5 0-5-1 2-1 0 0 0 0 0-1 0-3-2-1 5 0-4-1 4-1-3-1 1-1-2-2 3-3 0-1-4-1 3-1 2-2-5-1 4-1 0 0-3-2 1 0 0-1-1-3 1-2-1 0 2 0 1-5 1-1-4-2 4-1-4-1-1-1 3-1-1-1-2-3 3 0-2 0-1-1 3 0 2-2-5 0 1-2 1-1 3-1-3 0 1-3 1-1-3-1 2 0-3 0 5-6-1-1 0-1-2-1 3 0-4-3 3-3-4-2 1-5-1-2 1 0 1-1 2-1-4-2 1-1 2-1-3 0 1-3 0-4 2 0 0 0-3-1 5-3-4-1 3-1-2 0 3 0-5-2 3 0-1-3 2-1 0-1-3-1 0 0-1-1 5-3 0-1-2-1 2-2 0 0-4-1 4-3-1-1-1 0 2-3-5 0 0-1 4-1-1-2-1 0 3-1-2-1 2 0-5-1 1-2-1-1 4-2-3 0 2-1 2 0-1-3 0 0-2-1 0-2 2 0-2-1 2-1-3-1 3 0-4-1 0-3 5 0-3-1-2 0 3-3 2 0-3 0 0-2 1-1 1-7-3-2 0-6 3-2-3-1 3-2-2-2-1 0 1-2 0-6-1-3 0-2 2-1-2-1 1 0 2-5 0 0 0 0 0 0-4-1 1-2 0 0-1 1 10 0-4 0 4 0-3 0 1 3 3 0-1 4-4 3 4 1-4 1 1 1 3 0-1 0-2 1 2 3 0 3-2 5 1 1-2 0 3 3 1 1 1 1-5 2 5 2-5 2 5 0-2 2-1 1 0 1 3 1-5 1 1 0 4 1 0 2 0 1-4 0 1 1-2 2 4 3-2 3 2 1-4 2 3 3 2 0-2 1-1 0-1 3 1 2 2 1-2 0 3 1 0 0-1 2 1 1-4 2 3 1-1 1 1 0-3 2 1 2 3 2-2 3 2 2-2 1-3 0 5 1 0 3-4 3 4 1-4 3 0 1 1 1-1 2 4 1-1 1-1 0-1 2-1 1 2 1-3 0 2 1 3 1-5 2 2 0 0 1-2 0 5 1 0 2 0 0 0 1-3 0 3 1-3 1-2 2 4 3-4 1 2 1-2 3 3 1-1 1 2 2-2 0-2 1 4 3-3 2 1 1 1 2 0 1 0 1-1 2 0 1 0 1-2 3 4 1 1 1 0 1-2 2-3 0 1 3 3 1 0 1-2 1 1 0-3 10 3 1-1 0 0 2-2 2 0 3 5 0-2 1 1 1-4 2 4 4-4 3 3 1-2 3 0 0 4 2 0 0-3 3 2 1-1 0 1 1 1 1-3 2 2 0-3 2 1 0 3 0-1 1-1 2 1 1-3 0 1 2 2 0 0 5-2 2-2 3 0 1 0 2 4 2-4 2 5 1-1 2-4 2 2 0 1 1 1 2-4 0 2 1 2 2 0 0 1 0-1 2-1 3-2 0 1 2 3 2-2 1-3 1 3 1 1 2 1 1-3 0 3 1-4 2 2 1 0 1-2 0 0 1 1 1 3 5-4 0 3 4-3 4-1 2 3 1 1 3 1 0-1 2-1 3 2 1-2 0 0 0-1 2 2 4 1 0-5 4 5 0-4 1 3 1-2 0 3 1 0 2-5 3 2 0 3 1 0 1-1 3-4 1 2 3 3 0-4 1 3 7 1 5-1 55-4 30 3 54-3 5 1 1 3 3 0 0-3 1-1 2 4 1-4 1 5 1-3 1 3 1-5 2 5 1 0 0-5 2 3 1 0 1 2 5-4 1 4 1-2 1 2 1 0 0-2 0-3 0 0 2 2 2 3 0-2 1-1 3 1 0 0 2 1 0-4 1 4 4-1 0-3 1 3 1 2 1-4 3 2 1 2 2-4 0 4 2-3 2 0 2-2 2 3 3-3 0 1 5 0 0-1 1 0 3 2 5 1 0 1 2 0 2-4 0 4 1-1 2 2 1-2 1-1 2 0 1 3 0-5 2 5 1-4 2 0 1 2 0 0 0 2 1-4 2-1 7 4 0-2 2 1 0 0 2-1 0 2 2-4 2 0 0 4 1-2 0 3 3-2 1-1 2 1 1-1 2 2 4-2 0-1 3 3 1-1 2-2 0 1 1 2 1-2 3-2 0 0 2 5 2-2 2 1 0 1 1-1 0-3 0 4 1-3 2-2 3 0 3 2 0 1 2-1 1 2 2 0 1-2 1 3 2 0 0-4 0 4 1-4 4 1 1 3 1-1 1-2 1 2 1-2 3 3 0-4 1 0 2 0 0 0 3 4 0-3 1 1 1-3 1 2 0 0 1 0 3 3 3-1 1 0 3 0 1-4 3 3 1-1 3-1 3 2 2-2 2 3 2-4 1 2 1 3 0-3 2 3 3-1 1-3 0-1 1 5 4-1 0-3 0-1 1 2 3 0 1 3 1-5 1 0 0 5 2-1 1 0 2-3 0 4 1-2 0-1 1-2 1 1 2 4 2-3 2 0 1 3 1-5 1 4 1 1 1-1 1-1 3 2 0 0 1-1 1-2 1-2 1 5 5-1 3 0 3-3 1 2 0-1 1-1 1 0 3 3 1-2 2-2 2 3 3-3 0 0 1 2 2 1 1 2 1-4 2 3 4 1 1 0 0-1 3-3 0 0 1 2 3-3 0 0 2 1 2 0 0 4 1-4 0 3 1-2 2 0 0 3 5-2 1-1 2 0 1 0 1 0 2 3 1-5 9 1 2 3 1 1 1-4 14 1 2 2 2-4 3 5 3 0 2-2 26-3 0 3 2-2 2 3 0-1 5 6-3-2-3 0-2 0-1 0-1-1-5 2-15 2-3-4-12 4-2-3-5 3-4 0-4-3-3 3-2-1-8-2-1 3-3-1-2-2-1 1-2 0 0 2-3-2-1 0-1 2-4-2-2 2-1 0 0-4-3 3-3 1-1 1-3-4-1 0-1 3 0 1-1-4-1 1-1 1-4-2-3-1-1 1-1 0 0 0-1 4-1-1-1-1 0 2-3 0-1-4-2 4-4-4-2 3-2 0-2-4-1 1-1 3-1 1-2-4-3 2-1 1-3-4-4 5-8-5 0 0-1 4 0-2-1-2-1 3-2 2-2-4 0 4-3-5-3 2-2 0 0 2 0-1-1 1-1-1-3-3 0 5-1-3-2-1-1 1-2 3-1-3-2 2-2-3-3 2-3 1-1 0-2-2-2 2 0 1-2-1-3-4-1 4-1-4-1 5-3-3 0 1-2 1-1 1 0-4 0 2-3-3-7 4-3 0-1-1-3 0 0 2 0-3-1-2 0 3 0-2-1 2-2 0-2 0-2-1 0 0-4-1 0 4-1-3 0 1 0 1-3-2-2 2-4-4-3 3-1-2 0-1-1 5 0-5-2 0-2 3-3-2-3 2-1 2 0-1 0-4-1 3-1-2-1 1-3 0-1 2-2-1-1-3-1 5-2-5-1 4-1-2-1 3-1-4-2 3-1-4 0 1-1 1-4 2-1 0-3-1-3-1-1-1-5 2-1-2-1 4-1-3 0 1-3 1-1 1 0-4-1 4-1-2-1-2-1 0-2 3-3-2-1-1-1-1 0 5 0-3-3-2 0 1-2 3-1-4-2 5 0-4-1 2-1-3-1 4-3 1 0 0 0-5-2 3 0-3-2 0-1 5-1-2-1-1-1 0-1 0 0-1-1 0-2 4-2-2-3-1-3 1-1-2 0 2-2 1-1-3-1 2-3 1 0-3-4 2 0 1-2-3 0-1-1 1-4 2 0-1 0 3-3-1-1-1-4 0 0-3-5 3-1-3-1 2-4 0-4-1-25 2-39 2-18-1-1-3-5-1-1 4-1-4-4 5-26-2-37-3-4 5-3-1-1-2-2 1-2 1-1 0 0-2-2-1-2 4-1 0 0-4-2 3-1 0-2-2-1 0-1 1-2-1 0-1-1-1 0 4-4 0 0-1 0 1-2-4-1 0-1 3-1 2 0-2 0-2-5 3-1-3-2 4-1 0 0-4 0 2-4-2-3 4 0-4 0 0-1 4-2-5-3 3-3 2-1 0 0-4-1-1-2 5 0-4-1 2-2-1-1-1-2 1-2 2-1-2-1 1-2 2-2 0-1-4-2 1 0 1-2 0 0-1-2-1 0 0-1 3-1-3-4 1-2 1 0-3-1 2-3-1 0 3-1 1-3-3-3 0-1 2-1-1-3-1-4 0 0 1-3 1-2-3-2 0-2 0-1-1-1 3-2 1-2-3-1 1-1-2-2 0 0 2-2 3 0-5-1 0-2 1 0 3-1-3-1-1-1 4-2-3-2-1-2 2-4 1 0-1-1-1-1 1-3-1-6 2 0-3-1 4-2-3-1 2 0-1 0 0-2-2-3 2 0-2-1 5-2-5 0 0-2 3-2-3-1 0-1 5-3-2 0 1-2-1 0 0-3-2 0 3-1-1-1-1-1-1-1 0-3 3 0 1-3-1-2 1-1-2-2-1-1 1-1-3-2 2-1-1-3 3-1-3-1 2-2 2-1-3-2 1-3 2-1-2-2 1-1-1-1 0-1 1-1-3 0 1-3 0-1 3-1-3-1 1-1-2-2 4-2-4-1 1-1 2-1-1-1 2 0-5-3 1-1 0 0 2 0-1-3 3-1 0 0 0 0 0 0 0-2-3-5-1-1 3 0 1-1-3-1-1 0 3-4 1-5-3-3 2-1-4 0 2-2-1 0 0-2 0 0 4 0-2-3 0-2-3 0 5-1-1-1-1 0 0-2-2-2 2-2-3-1 5-3-4 0 4-1-2-1 1-2-2-2 1-2 0-1 2 0-4-1-1-2 5-3-4-1-1 0 5 0-3 0 3-1 3 0-2 1 5 2-3 3 1 0 2 5-4 0 1 1 2 1 0 0-3 0 0 1 3 3-1 0 2 1-2 2 2 1-3 1 2 1-4 0 2 1-2 0 2 1 3 3-2 1-2 1 4 3-2 1 1 2-3 3 4 1 0 2-1 0 1 0-5 2 1 0 4 3-1 1-4 3 3 1 2 0-1 3-4 0 1 0-1 0 0 2 5 1 0 1-2 0-2 5 3 0 1 1-2 0-2 1 2 1-3 1 5 3 0 2-5 1 4 1-2 0 1 2 2 0-2 1-3 1 1 1 2 2-3 1 3 0-3 1 3 0 2 1 0 1 0 0-2 3 2 2-1 2-2 2 1 1-2 0 3 0 0 1-4 0 5 1 0 3-3 1-1 0 0 1 4 1-2 1-3 1 3 3-3 1 1 1 3 3 1 0-2 1-1 0 2 2-4 0 5 0-3 1-1 2 3 1-2 1 0 2 1 2-1 0 2 1-4 0 2 3 1 2 2 2 0 6-5 1 3 5-1 0 0 4 3 0-5 2 0 3 4 0-4 1 2 0-2 1 1 1 4 0-2 2-2 3-1 0 4 2-1 2 2 0 0 1-4 4 0 0 0 3-1 0 4 0-2 3 0 1 2 0-1 4 1 3-4 1 3 3 0 1-3 0 4 1 1 0-3 1-2 2 2 1-1 3 2 0-1 2-2 2 0 2 1 4-1 1 1 2 3 4-2 1 0 1 0 2 1 1-3 1 2 1-2 1 5 4-2 1-2 0 1 0-2 2 0 2 4 1 0 3 1 1-1 0-2 1-1 0-1 1 1 2 3 1 1 0-4 5 3 1-1 3-2 0 2 0-3 1 3 6-3 1 4 0-1 1 2 1-1 2 0 1-1 0 2 1-2 0 0 2 1 0-2 4 1 2-2 2 2 1-2 0 4 1-3 1 1 3-3 1 1 1-1 2 5 0-2 1-3 1 4 7-1 0 1 1-3 1 3 1 0 0-1 1 0 0 0 5-3 1 0 2 2 46-2 2 3 24-3 28 1 70-1 4 4 2-4 1 5 3 0 0-4 2 1 1 1 2-2 0 4 4-1 1 0 0-4 2 3 2-2 1-1 0 5 1-5 2 2 3-1 0-1 4 1 0 0 1 3 1-2 1 3 0-1 0-4 1 0 4 5 1-3 1 2 2-1 1 1 2 0 1-4 4 1 4 0 1 0 0 3 4-3 1 0 1-1 4 4 2-2 5-1 1 3 1 0 0 1 6-2 2 2 1-4 0 2 2-3 5 2 3-1 0 1 1-1 1-1 2 0 2 2 2 2 1 1 3-1 3-4 2 1 1-1 2 2 3 0 1 0 5 2 2-2 0-1 0-1 3 0 1 1 1-1 3 5 2-5 4 2 3 2 1-3 2 1 2 0 2 3 0-3 3-2 0 5 1-2 4 1 1-1 2 0 2-2 1 0 3 1 0 2 0 1 1-3 3-2 2 4 1-4 2 5 1-1 1-3 1 1 1 0 2 0 0-2 3 0 4 4 0-3 3 4 1-3 0-2 1 2 2 2 1-1 0 0 0-3 4 1 0 3 1-4 0 4 3 0 0 0 4-3 1-1 3 3 3 1 0-2 3 0 4 3 2-2 1-1 0 3 4 0 1-2 3-3 0 4 1 1 3-5 1 0 0 2 4 2 3 0 0-1 2-3 2 4 1-1 2-1 0-2 1 4 1-1 4 0 1-1 1-2 1 3 3-2 2 3 4 0 3 0 2-2 2-2 0 4 1-1 2-2 0 0 1 0 3-1 0 0 0 4 2 1 1-3 0 0 1-2 3 4 1-2 1 3 0-3 1 3 1-2 2-1 4-2 1 4 3-1 1-1 0-2 2 5 0 0 3 0 3-1 0 0 0-4 0 1 2 2 3 0 2-2 0-1 2 2 1 2 0-2 2-1 2 3 5-4 3 4 1-3 1 0 0 4 2-4 2 0 2 3 2-3 6 2 6 0 32-3 1 1 2 1 1 2 0 1 4 6-1 0-1-2-1 0 0 0-1-2-47 2-1 2-2-1-1-4-2 3 0-1-2-1-2 0-1 4 0-5-2 5-1-1 0-4-6 4 0-1-4-1 0 1-1-3-2 1-1-1 0 5-2-2 0 1-1 0-2 1-1-1-1-4-1 2-3 3 0-3-1 2-2-4-1 4-1-4-2 0 0 1 0 2-1-2-1 4 0-3-2 2-2-2 0 1-2-3-2 4-2-1 0 1-1 0-1-1-2 2 0-1 0 0-1 1-1-1 0-3-2-1-1 5-2 0-1-5 0 0-4 0-1 0-2 2-1 1 0 2 0 0-1 0-2 0-1-2 0-3-4 1-2 4-3-4-2 1-3-1 0 0-3 0-1 2-4-2-2 3-2-2-2 2-1-3-1 1 0 2-4-1 0 0-1 2-1-2 0-1-1-2-3 3-3 1-1-3 0 0-3 3 0-2-2-1-2 0-3-1-16 3-2 2 0-4-7 2 0 0-1 1-2 1-6-1-1-3-3 0-5 1 0 0-1-2-1 2-4 0-1 1-1-1-2-1-1 1-4-2-1 4 0-1-3 2-1-3-2 0 0-1-8 2-2 1-4-4-5 0 0 3-6-1-1 2-4 1-5-1 0-1-1 0-17-3 0 3-1 1-3-3-1 1 0-1-6-1-1 0-3 4-2 0-3-3 0 0 0 1-1 1-1 0-1 1 0 0-3 0-5-3 0 4 0-3-4-1-2-1-1 4 0 1 0-2-1 1-2-4-1 2-3 3-1 0-4-2 0-3-7 0-2 2-3-1-3 1 0-2-5 0-1 2-3 0 0-2-2 2-3 0-2 1-2-1-3-2 0 2-1 1-31 2-15-4-2 0-15 1-17-2-16 5-3 0 0 0-3-1-2-2-6 3-21-5-51 1-3 0-2 0-1 4-1-5-2 3-2-2-1 3 0-1-1-1-2 0 0 3-3-5 0 5-4-2-1-2 0 0-1 3-1-3-1 3-2 0-4-1-2 0-2-2-3 2-3 0 0 2-1 0-1-1-3-4-1 0-1 4-1-1-2-1-2-2 0 2-3 3 0-3 0-2-2 2 0 2 0-3-6-1-1 3-2 2-2-3-2 1 0 0-6-1-2 0-2 2-1 1-3 0-1-3 0 2-2-1-1 2-3-1 0 0-4-1-4 2-1 0-3-1-5-4-3 1-2 2-3 1 0 0-1-3-1 4-4 0-4-2 0 1-2 0-1-4-1 5-4-5-1 4 0-2-3 1-1-3-2 1-1 4-1-1-7-2 0 3-6-2 0-2-1 4 0-5 0 3-1 0-5-1-1 1-2-2-1-1 0 2-7 1-2-2-1 1-1-1 0 2-3-2 0 1-2 3-3-3 0-2-3 4-3 1 0-1 0-4-1 5-2-4-2 3 0-2-5 2 0-4-4 5-9 0-3 0-1-5-3 3-3-3-1 4 0 1-1-5-3 5 0-4-2 2-2 0-1 2-1-5-1 2-3-2 0 5-1-2-1 2-3-2-1-2-1 4-1-4-2 3-2-4-1 4-1-4-2 1-2 0-3 0 0-1-2 5-2-4-2 4 0-5-3 3-1-3 0 3 0 2 0-1-6 1 0-3-3 2 0-4-1 4-1-4-3 4 0-2 0-2-1 0-1 4-1-4-2 3-1-2-1 0-2-1 0 4-4-1-4 2-1 0 0-4 0 1 0 5 0 0 2 1 1 3 0-4 4 0 1 4 1 0 1 0 3-4 1 3 1-2 0-2 2 5 3 0 2-4 1 4 3-4 1 2 1 0 2 2 1-4 1-1 2 1 2 2 1-2 0 0 2 0 1-1 2 3 3 0 1-2 1 1 1 3 1-5 1 2 0 0 1-2 4 4 0-2 2 0 5 0 1 0 5 3 1-5 1 5 0-3 3 3 2-2 4-2 4 4 1-5 5 5 0-2 0-2 0 2 0 2 2-1 3 0 2 0 0-3 1-1 4 2 4-2 9 5 3-5 3 1 2 0 0 0 4 0 6 1 2-2 1 2 2-2 0 4 7-1 4-2 2-1 4 4 7-3 1-1 0 1 8 1 4-2 1 0 2 0 5 3 2-3 2 0 3 1 4 0 1 2 2-1 13-1 0-1 10 1 1 3 0-1 2-3 7 2 6-2 3 1 3 1 18 2 3-2 1 0 1 0 3 1 1-3 2 4 6-1 6-1 1 3 9-4 4 1 2 3 41-1 12 0 5 0 1 0 2 0 4-3 7 4 2-5 1 3 1 0 3 0 1 1 0 1 1-4 4 4 3-4 3 3 2-3 0 2 9 0 1 2 1 0 0-2 2 1 2 0 1 0 4-1 0 0 8-1 2 3 3-3 2-2 2 1 4 0 4 3 6-4 16 0 33 0 2 4 1-4 0 4 2-3 4 3 6-3 2 3 6-2 2 1 5 2 4-1 8 0 2 1 2-3 3-2 3 1 4-1 3 4 2-1 5-2 1 4 4-2 1 1 2-3 7 1 0 0 1 0 17-2 5 4 1-3 2 2 1-1 16-2 1 1 0 1 3 0 6 2 3-1 3-2 0 4 2-3 0-2 5 1 5 1 2 2 2-1 5-3 4 3 2 1 10-3 0 1 9 1 1-3 3 4 1-3 0 1 3-2 3 1 1 2 3-1 4 0 12 0 7-2 11 2 0-1 3 4 0-4 4 3 11-2 1 2 2-3 5 1 3 1 2 1 1-3 2-1 9 4 1 0 1 0 3-4 1 0 1 4 5-3 1-1 4 3 2 0 2 2 0-5 4 1 1 4 3-3 1 2 1-1 3-3 0 1 1 2 0 1 1 0 1 0 2-2 2 3 1-3 1 2 2 1 1-2 0-1 3 3 1-5 1 3 1-3 1 4 2-2 0 1 5-3 3 3 0-2 1 3 0-3 1 4 0-2 1 1 3 1 0-4 0 2 2 0 0 0 2 0 1 2 1 0 2-1 2-3 1 2 2-3 7 3 20-3 1 1 1 2 0-1 1 2 1 1 32 3 0 1 0 0 0 0 0 0-1-1 0 1 0-1-1-1 0 2 0 0-2-1 0 0-1 1-1-2 0 2 0-1-1 0 0 1 0 0 0 0 0 0 0 0-1-1 0 1 0 0-1 0-1-1-1 0 0 1-1-2 0 0-1 1 0 0 0 0 0 1-1 0 0 0-1-1 0 0 0 1 0 0-1-2 0 1 0 0 0 1-1 0 0 0 0 0 0 0 0 0-1-1 0 0 0 1 0 0 0 0 0 0-1-1 0 0 0 1-1-1 0 0 0 1 0 0 0 0-1-1 0 1 0 0 0 0-1-2 0 1 0 1 0 0 0 0-1-1 0 0-1-1 0 1 0 0-1 0 0 0 0 1 0 0-1-1 0 0 0 0 0 0 0 0-1 1-1-1-1-1 0 2-1-1-1-2-27 2-2-2-3 1-1 2-2-3-2 2-7-1-4-1 0 3-7 0-1-1-1-1-3 2-3-3-15 0-9 2-3-2-1 0-1 1-4 2-14-3-46 0-6 0-12 1-40 2-11 0 0-3-20 0-4 0-26 0-5 3-19-2-2 0-9 0-4 1-43-2-1 3-9-3-1 0-1 0-16 0-4 3-10 0-7-2-1 1 0-1-10 2-4-1-1-1-1 1-4 0-6-1-2 1-2 1-5-2-4 0 0 2-1-1-4-1 0 1-3-2 0 0-3 3 0-2 0-1-2 0-1 2-3 0 0-1-1 1-2-2-2 3-2-1 0-2-3 2-1 1 0-2-1 0-1 2-3 0-1-2-4 2-4 0-5-3-5 2-2-1-1-1-4 0-3 0-2 1 0 0-3 0-4 2-4-3-4 1-4 1-2 0-2 1-3 0-1 0-3 0-4-3-1 3 0-1-3 0-2 0-8-1-1 1-5-2-1 3-5 0-14 0-5-2-13 1-11 1-8-2-26-1-1 1-21-1-2 3-35-2-1 1-33-2 0 1-2-1-1 0-9 0-19 1-1-1-42 3-3-3-1 2-6-2-5 3-8-2-7 1-5-1-9 2-3-3-8 0-2 1-1-1-7 2" marker-start="url(#k0)" marker-mid="url(#k0)" marker-end="url(#k0)"/>
<path d="M609 40l14 6-8 8-43 2 196 14-105-3-23 5 65 9-44-1-44 3 7 4 30 1 17-1 59 2-89 3-49 8 40 1 107 4-44 2-35-2-65-2-10-1-32 4 56 3 10-1 13 0 29 1 2-1 54 1 4 4 3-2 20 0-1 6-22-1-11 0-42 2-23-4-7 1-2-1-18 5-3-2-12 1-30 1-9-1 39 7 15-3 6 2 8-2 2 0 7 3 1-2 3 1 6-3 4 4 11-2 21-3 15 0 2 5 37 2-29 2-27 1-5-2-69-1-1 2-18 0-2-1-38 0-15 7 24 2 11-1 15-3 36-1 8 5 10-4 14 2 19 1 12-3 14 3 8 0 34-4 5 0 1 2 6-1-2 10-55-2-16-1-1-1-2-1-2 5-21-2-2-2-1 4-3-1-17 0-15 1-3-5-11 3-11-2-27 0-34-1 15 10 30-2 4-2 11 2 1-2 2 3 7-1 2 1 2 1 24 1 10-4 0 2 6-3 9 0 20 4 0 0 7 1 5-3 10 1 5 1 4-2 3-1 23 4 1-1-14 7-4 0-5-4-1 1-20 2-5-4-10 4-11 1-21-4-6-1-1 5-12 0-5 0-1-2-6 1-16-4-22 0-14 4-25 0 3 5 10-1 1 0 8 0 3 0 9 3 21-4 7 2 3 2 8 0 7-5 1 4 8-3 4 0 3 1 3-1 13 0 1 2 11-3 12 0 6 0 1 3 0-2 6 4 1-5 6 4 4 0 5 0 0-4 19 3 4 1 1 1 1-3 7 2 4 0 5-4 4 4 4 1 7-2 0 0 9-3 33 7-2-1-33 5-1-5-5 5-1-5-9 2-5 1-1-3-1 5-3-3-1 3-4-1-15-3-13 4-3 0-2-4-14 0-6-1-14 0-3 5-2-5-13 5-9-2-1 0-3-3-5 2-1-2-10 4-6-1-11 1-3-3-6 2-3 2-4-2-7 1-15-3-4 3-5-1-1-3-4 6 4 0 0 3 4-1 10-1 7 1 19 3 3-2 2-2 1-1 6 1 0 1 5-1 8 3 5-1 1 2 1-3 1-1 3 0 3 4 2-5 2 4 7-4 7 2 19 0 12 1 6 2 2-3 1 0 3 3 2-3 17-2 15 5 5-5 4 4 8-4 2 5 1 0 1-2 0 2 2-1 16-1 8 0 3 2 15-2-3 6-9 0 0 2-6-2-16-3-13 5-5-4-11 1-3-1-3 3-5-2-2-2-16 0 0 5-1 0-3-3 0 1-8 2-5 0-3-1 0 0-3-4-3 3-3-1-1-2-5 0-17 4-4 1-7-4-1-1-11 4-1 0-5-1-4 0-2 2-9-1-4-3-1 3-8 0-4-4-9 1-4 4-1-4-7 3-4 0-8-2-5-2-6 1-7 3-4 6 0-4 11 3 19 2 1-2 12-1 0 3 8-3 7-1 4 1 2-2 2 1 3 1 4 0 4 0 3-2 1 5 11-5 5 5 18-5 11 2 1 3 12-5 4 2 3 2 3 0 3 0 1-4 6 2 20 0 22 1 6-3 8 2 6 2 1-1 28 0 8 0 1-2 1-1 6 5 16 5-14-3-2 1-2 2-15 0-11-2 0-1-8 4-10-2 0-1-3 0-5 1-3 1-19-1-1-1-1-2-1 2-6-1-2 4-3-4-1 2-1-3 0 3-1-2 0 2-1-3-5 1-3 0-1-1-4 0 0 4-1 0-6 1-6-4 0 3-6-4-5 5 0-3-5-1-2 4 0-2-4 2-7-3-9 2-1-4-5 3-1-1-1 3-1-3-4-2 0 1-1 0-2 2-1-2-1-1-3 0-3 5 0-3-2 1-16-1-2-1-1 3-5-3-2-1-1 5-8-5 0 5-5 0-4-2-15-2-1 2-9 1 0-2-2-1-11 3-2 1-2-1-12-1-18 8 6-5 9 0 10 1 2-1 4 1 22 1 2-1 3 4 2 0 4-2 1-3 6 0 2 3 4-2 1 3 6-3 1 3 1-4 1 2 2-1 3 4 8-2 6-1 5 2 1-2 1-2 8 4 0 0 5-2 4 0 10 3 2-3 4-1 4 2 3 1 14-4 2 3 0 2 2-3 1 2 3-3 1-1 2 3 13-1 10 3 1-2 6-3 0 5 1-4 0-1 1 0 4 4 0-1 1 1 5-1 3-1 0 3 2-3 8-2 0 2 6 1 1 0 3-1 3 0 4 1 5 0 8 1 0 1 0-2 7-1 3-2 3 1 2 0 10 1 2-1 5 3 2-3 12 0 6 2 15 0-9 7-14-2-17 2-3 1 0 0-4-2-24 2-4-4-2 0-4 2 0-1-1 2-1-1-1 1-1 1-2-4-3 4-2-4-7 4-2-1 0 0-1 0-2-4 0 0-1 5-2 0-5-2-5 1-1 1-2-2 0-3-3 5-5 0-3-5-6 5-3 0-3-2-3-3-4 3-4-1-5-2 0 3-1-2-2 4 0-1 0-4-6 0 0 3-3-3-12 0-1 0-4 3-2-1-1-1-7 1-3-2-1 5-1-3-1-1-2 3-5-3-2 3-6-3-1 3-3 0 0-1-5 1 0-3-1 1-5 3-2-4-1 4-6-3-3 3 0-5-1 3-4-1-1 0-1 0 0 2-1-1 0-1 0 0-21-2-8 0 0 4-3-3-4 1-2 3-4-2-3 2-4-3-34 2 9 3 9 0 8 3 1-3 5 3 22 1 9-5 0 5 6-4 3 0 3-1 0 0 8 3 4 2 3-4 2 3 2-2 1-2 1 5 7 0 1-3 3 1 0-3 1 5 0-2 2 2 1-1 4-1 0 2 1-1 6 1 2-2 4 0 0 1 5 1 3-3 1-1 4-1 1 0 5 4 4 1 5-1 0-1 1-2 3 1 2-1 5 1 5 3 2-4 2 4 2-1 1-2 0-2 1 3 3 2 1-1 2 0 4 0 3-2 1 3 10-1 1-3 3-1 1 0 1 1 1-1 1 1 5-1 0 4 1-2 0 0 1 1 3-3 0 2 1-2 5 3 10 1 2-1 2 0 5 0 2 0 6-3 1 5 4 0 1-1 0-4 2 2 3-2 1 3 0 0 1-3 14 4 1-2 3 2 2-2 1 1 5-1 8-1 1 0 4 1 10 0 4 3 31 0 0 4-15-3-5 1-2 4-1-2-7 0-1-1-5 2-4-4-2 1-7 0-3 3-6 1-1 0 0-4-8 1 0 3-3-4-2 1-5 3-2-1-4 1 0-1-4-4-6 2-1 3 0-4-2 1 0 2-4 0-1-2-1 0-3 2-2-2-5 0-4 0 0 3-1-4-5 1-3-2 0 5 0-3-2-1-10 0-2 3-2-4-1 0-2 3-1-1 0-2-2 0 0 5-1-5 0 0-2 4 0 0 0-1-2-3-1 1 0 0-4 4-10-5-2 4-1-3-2 1 0 1-2 1-6 1-3 0-1-5-2 0-5 5-3-2-2 2-1-4-1 4-1-2-1-3-1 2-5 3 0-4-4 1-2 2-4-3-1-1-5 1-2 4-13-2-4 0-1 1-1-1-1 0-3 1-2-1-5 0-4 2 0-2-5 0-1 2-1-4-1-1-1 1-2 3-1-3-8-1-1 5-1-3-1 2 0-2-2 3-1-5-5 3-2-1 0-1-3 3 0 1-2-3-10 2-7 0-14 0-1-2-4 2-2 1-8-5-3 1-3 2-4 8 7-4 1 1 5-2 5 5 12 0 6-1 2 0 3-1 2-3 1 4 2 1 0-2 2-2 6-1 1 2 4 1 2 0 0 0 0 2 1-1 1-4 0 5 14-5 0 5 1-1 10-4 2 5 0-1 2 0 1 1 1 0 1-3 0-1 3 2 1-1 3 0 1 0 0-2 3 4 2-3 0 2 0 0 1 2 5-1 3-1 3-3 0 0 0 5 4-5 0 5 2-2 2 1 2-4 0 1 2 4 3-1 1-3 0 2 1 2 2-5 0 3 1 1 0-2 1 1 1-2 3 1 3 1 2-2 0 2 2 0 1 2 0 0 1 0 7-4 2 3 3-1 1-1 1 3 3-2 1-2 1 3 0-4 1 3 3 1 3-2 4 2 2-1 2 0 0 0 3 2 5-5 1 1 3 2 0 2 2-4 2-1 2 3 0-3 7 5 0-2 1-3 6 3 3 0 0 0 0-3 1 1 2 1 0-1 0 0 6 2 1 1 1-1 0-1 2-2 1 3 2 0 2-1 4 0 3-1 1 0 1 2 1 1 7 1 2-1 0 0 5 1 2-2 2 0 2-1 2 0 1 2 2 0 5-4 1 4 0 1 2 0 1-3 1 0 3 0 4-1 4 4 2-5 10 4 6-2 24-1 12 0-7 7-4 2-6-2-6 0-16-1-1 3-4-2-3 3-2 0 0-2-1-3-1 4-3 0-2-1-1-1-1 2-4 1-3-1-3 0-1 1-1-1-6-2-4 0 0 1-1-2-2 1-1 1-2 2-3 0-4-1 0-1-4-1-2 1-3-2-7 2 0-1-6 1-1 0-2-2-1 3-1-4-5 3-2 2-6-4-3 3-4-3-1 1-2 2-1 0-1-1-2-3-7 2-1-1-2 1-1-1 0 3-2 0-1 1-1-1 0-2-4-2-2 4 0-4-2 4-7-3-1 0 0-1-1 4 0 0-2 0-2-2 0 1 0 1-1 1 0-2-2 2-3-1-2 0-2 0-1-3-1 1-2 1-4-1-1 1-1-3-2 3-5-2 0 3-1 1-3-2-1 2-1-5 0 4-2-3-1 0 0 2-1 0-1-2 0-1-4 1-2 0-2 0-3 4-2-2-3 0-1 2-2-1-2-3-1 3 0-3-4 4-1 0 0 0 0-5-4 5-1 0-1-1-2-4-2 0-3 4-1-4-1 1-1 0-4 1-1 0-2 1 0 0-2-2-1 1-3 3-1-1-1-2-4 0-5 3 0-4-2 1-4 2-1-4-2 4 0 0-5-1-1 2-1 0-1 0-2 0-3-2 0-3-2 5-3 0-8-5-1 4 0-3-1 4-12 0-17 0-2-1-10-4-15 11 31-2 8 2 2-4 3 0 2-1 1 0 1 3 2 1 7-3 8 3 1-4 2 0 0 0 4 5 2 0 1-1 0-4 5 4 4 1 1-1 3 0 1-2 4 1 2 2 1-2 0 1 2-4 0 4 1 0 1 1 0-5 0 3 4 2 1 0 1-2 1-1 0 1 3-1 8 3 3 0 0-2 1 0 1 1 1-3 1 2 1 2 1-5 1 1 6 4 0 0 4-3 2-2 1 3 1 2 0-3 1 1 4-1 1 3 3-3 1-2 0 0 1 0 3 0 0 0 3 1 1 1 0 2 3 1 1-2 1-1 2 0 1-2 0 4 0-1 5 0 3-2 4-1 0 5 1-1 1-1 0-3 1 2 3 0 6-1 4 1 2 2 2-4 1 2 0 3 0-1 1 1 2-3 1-1 2 0 2 2 2 0 0-2 0 4 1-4 1-1 2 0 7 2 1 1 2 2 1-3 0-1 8 1 1 3 2-3 0-2 1 1 1 1 2-1 1 2 2-1 2 1 1-3 0 3 3 1 0 1 1-5 1 0 2 4 0 1 1-4 3 4 1-1 1-2 3-1 4 0 6 1 1 0 1-1 1 3 1-2 0 1 3 1 2-1 2-1 2 1 1-2 0 0 1 4 1-5 5 4 0-2 3-1 3 2 0 0 1-3 0 5 0-1 5-1 1-1 1 2 5-4 0 5 1-4 3 4 2 0 2-2 4 0 2 1 2 1 3-2 0-1 4-1 3-1 2 4 5-3 2 2 3 2 0-5 0 4 2-2 1 3 3-3 1-1 1 2 1 0 8 2 15 6-15-1-1-3-2 2-2 2-5-3-1-2-2 5-1-4-2 2-4 1-3-2-3 0-6 3-2 0-2-4 0 0-1-1-1 5 0-5-2 1 0 1 0 3-2-5-1 4-8 1-2-2-2 2-2-3-1 2 0 0-2-1-1-2-2 1 0-1-1 1-1 0-1 0-2 2-1 1-2-1-5 0 0-4-2 0-1 5-4 0-1 0-1-2-5-3-3 0-1 4 0 1-1-3-1 3-8 0-1-2-1-2-7 3-1-1 0 1-2 0-2-4-4 3-1-1 0-1-1-1-1 0-3 5-2-4 0 1-3 3-5-2-4-1-1-1-1 4 0-3-1-1 0 3 0-3-1 1 0 3-3-1-3 0-2-3-2 0-1 0-2-1 0 0-1 5-1-5 0 1-1 1 0 1-5-1-2 3 0-4-2-1-1 1-2 0-1 1 0 3-3 0 0-5-3 0-2 1-4 4 0-4-1 1 0 1-1 2 0-2-2 1-4 1 0-4-4 0-1 4-2-4 0 3-2-4-1 3-1-3-2 3 0-3-4 5-1-1 0-1-4 0-2 1 0-3-2 0-3 1-3-2-3 5 0-1-1-4-1 1-1 4-2-2-3 1-2 1 0-3-2 2-1 1-1-4 0 1-3 1 0-3 0 1-1 0 0 0-3 2-1 1 0-1-1-3-3 1-4 0-1 2 0-3-1 3-1-3-1 1-4 4-1 0-3-2-2-1 0 0-1 2-1-2-2 3-1-5-3 5-6-5-1 0-18 0-1 5-5 0-1-4-1 0-1 2-2-1-1-2-9 5-2-4-1 4-5 0-26 1 2 0 1 1 13-1 5 2 4 3 1-3 6 0 1-2 2 0 4 5 4-2 7 2 0-4 3 0 2 4 4-2 1-1 0-2 1 2 0-1 1 0 1 4 0-1 5-3 2 2 4 0 1 0 3-2 0 2 0-1 3 0 0-1 1 3 4 1 3 0 3-4 0-1 2 5 0-4 1 4 0-2 1-2 0-1 2 0 0 1 0 0 1 3 0 0 1 1 3-2 0 0 4-1 1 3 0-5 0 4 1-3 3-1 1 4 3-4 3 4 1-4 3 0 0 3 6-1 1-2 1 4 2 0 1-2 0 3 2-2 1-2 2 3 0 1 1-2 3 0 0 2 0-5 2 5 3-5 2 5 1-1 0 1 2-5 0 3 1 1 2 1 0-5 4 4 0-4 1 5 1-1 1-4 2 0 4 1 1 4 1-3 1 0 3 3 2-5 1 3 0 2 1 0 3-4 0 2 1 2 0-2 0-2 1 2 1 2 1-2 2 2 4 0 2-4 0 0 0 0 1 4 2-5 2 5 1-1 0 1 0-4 0 1 1 3 1 0 2 0 2-4 1 2 2 1 4-1 1 1 1 1 0-4 1 4 4-2 0 1 1-1 2 1 1-2 1 3 2 0 1-5 2 5 1-1 0 0 1-4 1 2 1 3 2-5 1 0 1 1 2 1 0-2 1 3 1 1 1-3 4 1 1 3 0-2 1 0 0 2 1-3 1 3 0-5 5 5 1-2 0 2 2-3 1-2 3 1 2 4 0-2 2-1 0 1 1 1 2-1 0 2 1-2 0-1 0 2 2-3 1 3 3 1 4-2 1 2 3-1 0-3 2-1 1 2 1-1 2 3 0 0 0 0 1-3 1-1 1 5 0 0 5 0 0-3 1-1 3-1 2 1 1-1 2 1 1 1 3 0 1 2 1-1 1 0 8 2 1-2 1 2 0-4 3 2 0 2 1-4 1 1 0 3 2 0 0-5 2 4 1-1 1-2 1 3 1-4 1 0 3 0 7 4 0 1 0-2 2 1 3-1 3 0 4-2 2 2 2 0 5-2 1-1 5 1 1 2 4 2 14 5-10 0-4-2-1 2 0 1-1-5-6 0-1 0-3 5-3-2-5 0-3-1-2 1-1 2-6-4-1 3-1-3-2-1-5 1-3 2-1-1-2 3 0-5-3 2-1 3-1-2-2-1 0-2-3 4-3-2-1 2-1 0-1-3-1 4-1-5-1 3-2-2-3 1-1-1 0 3-1-3 0-1 0 3-1-2-3 1-2-1-2 1-2-1 0-1-1 2-1-1-4 4-3-4-2 3-1 1 0-5-2 2 0 0 0 2-1-4-3 2-1-2 0 5-1-3 0 1-2-1-4 3-1-3-3 2 0-2-1 1 0 1-2-3 0 4 0-2-1 0 0-2 0 1-1 3-2-4-1 0-1 4-1-3-3 0 0 3-1-3 0 0-2-2-1 0 0 2-1 3-2-5 0 0-1 3-1-3-2 3 0-2-6-1 0 2-1 0-1-1-3 3-2 0-1-4 0 2-1-2-2 5-2 0-1-4 0 4-1-3 0 2-1 0-1-2-1 1 0-2-4 2-1-3-4 3-2 1 0-3-1 1-2 1-1-1 0 3-1-5-1 4-1-3 0 3-4 1 0 0-4-3 0 0 0-2-1 0-2 2-1 2-1 1-2-1-1-4-1 4-1 0-1 0 0-3 0-1-1 3-1-3-2 4-4 0 0 0 0 0-1 1-1-3-1-2 0 2-5 1-1-1-3 1 0-3-2 1 0 3-1 1 0-3-1-2-3 2 0-1-1 4-1-2 0-2-2 4-3-4-2 1-3 0-3 1-7 0 0-3 0 5 0-2-1-3 0 4-1 0-2-1 0-1-1 1-1 2-2-4-1 2-1-1-1 3 0-4-2 3-2 0 0 1 0-2-1 2-1-4-2 4-1-3 0-1 0 4-1-5-2 2 0 0-1 3-2-3 0 1-2-1 0 3-2-4-3 4-1-4-1 1-3 3 0-2-1 0-2-1-2-1-1 3-2 0-2-2 0-2-4 3-3 2 0-5 0 1-4 4 0-3 0 2-1 1 0-5-7 3-2-1-5 2 0 0-1 0-1-4-1 3-2-3 0 5-2-2-3-1 0 1-1-2-6 2-1-3-2 2 0 1-1 1 0 1-4-1-1 1-1-4-8 0-4 3-1-2 0 3-4-5-1 2-1 2-6 0-11 7 13-2 13-2 6-1 1 3 3 2 2-5 1 1 8 3 4 0 1 0 1-4 1 3 1 2 2-4 2 0 0 3 2 1 1-2 2 2 4 0 5-2 0 1 2-2 1-2 3 0 0 3 2-3 0 2 2 3 0 0 4-1 0-2 0 1 0 0 2-3 1 5 4-1 0 1 1-3 6 0 1 0 1-1 0 2 3-3 1 2 1 2 0 1 2-3 2 1 1 2 0-1 0-3 2 1 1 2 1 0 1-4 2 1 0 1 0 1 0 0 0 0 2 1 6-4 0 4 4-1 0-1 0-2 3 1 0 1 1 2 1 0 3-4 2 5 0-5 1 3 1-3 0 2 0 1 0 0 0 0 1-3 0 2 0 1 0-1 1 0 1 1 2 1 1-1 0-3 1 4 2-1 1 0 1 2 0 0 0-1 1-3 0 1 2-1 1 0 0 1 3 1 2-1 1-2 0 3 2-3 2 0 0 0 1 3 1-2 2 3 0-3 0 0 1 4 2-2 0 0 0 2 1-2 2 2 0-4 1 3 1 1 1-4 1-1 0 1 0-1 1 1 0 2 0 0 0 0 3 2 2-1 2 0 3-4 1 5 4-4 1 0 3 3 1-2 0 1 2 2 0 0 2-4 0 0 1 3 0-2 0-2 0 3 3 2 2 0 0 0 0-5 1 4 1 0 0-2 0 0 4 0 2-2 1 2 4 0 2-2 0 5 1-2 0-2 3 1 0-2 1 1 0 4 0-2 3 0 2 0 0 2 0-4 2 0 1 3 0-1 3-3 1 3 1-3 1 1 1 1 0 1 0-2 0 2 0-1 1 0 1 2 0-1 0 0 1 0 1-2 2-1 1 5 0-3 1-1 0 0 0-1 0 0 1 4 2-4 2 5 0-2 1-2 2 2 3 1 2-3 1 3 1-3 0 1 1 3 0-3 1 1 1-2 3 3 0 0 1 1 4-4 0-1 1 1 0-1 1 5 0-3 2-2 1 5 0 0 2 0 1-3 0 3 0 0 1-5 1 5 0-3 0 2 1-4 3 0 1 3 2 2 3 0 1-4 1 1 0 3 1-2 0 2 1-2 2-2 3 0 0 0 2 0 1 1 0-2 2 3 2-2 1 4 0-4 2 2 1-2 2 0 1 0 1-1 1 5 2 0 0-5 4 3 1-2 4 0 1-1 3 2 2 1 2 0 2 2 1 0 0-1 0 0 0-2 1 2 1-4 1 2 3 3 11-3 0-1 4 0 5 1 4-2 2 4 4-3 8 2 9 0-13 8-1 0-12-1 0-3-2 1-8-2 0 5-1-5-2 1 0 2-1-1-1 0-1 3-3-3-3 0-5 1-3 2-4-3 0 1-2-3 0 3 0-3-2 4-2 1-3 0-6-1-1-3-1-1 0 5-2-3-1 0-1-1-1 1-1 0 0-2-1 5-1 0-2-5-1 0-1 2-1 2 0 0 0 1-1-2-2-3-5 4 0 1-2-4-2 0-3-1 0 5-2-5 0 5-2-1 0 0-2-1 0-3-1 5-3-4-2 3-1-2 0 3-1-4-1 2-1 1-1-3-2 4 0-1 0 1-7-5 0 5-1 0-2-5 0 1 0 0-1 2-1-3 0 4-1-2-3 1 0 2 0-3 0 3-1-2-1 1 0-3 0 3-1-4-1 2-3-2 0 2-2-2 0 1-1 2 0 1 0-3 0 4-4-5 0 0-2 3-1 2 0-1 0 0-3-2-1 3 0-1-1-1-1 0 0-3-1 0-1 1 0 1-1-2 0 4-1-4-1 2-1-2 0 5-2-1-1-4 0 2-1 2-1 1 0-1-2 1-2-3-1 2-2-1-2 2 0-4-2 0 0 3 0-2-1 0-3 1 0 0-2 1 0 0-1-1-1-1-2 0-2 1-1 2 0-4 0 1-1 1 0-2-1 3-1 1-1-5 0 3 0 2-3 0 0-4 0 4-1 0-1-5-1 5-2 0-1-4 0 2 0 1 0-4 0 1-1-1 0 5 0-3-1 2-1-3-2 3-1-2-1-1 0 3-1-3-2 4-2-4 0 2-1-3-2 0 0 4-3-2-1 2-3-3-1 4-2-3 0 2-2 1 0-1-1 1 0-3-1 3 0 0-1-2 0 0-2 2 0 0 0-2-6-1 0 0 0 1-1-3 0 2-1-2 0 3 0-2 0 0-1 3 0-2-1 2 0 1-2-1-2-4 0 4-1-1-1-2 0-1 0 5-4-5 0 2 0 2-1-4-1 5 0-2-2 1-3 1 0-2-1-2-1 0-1 1-2 0 0 2-1 1-2-1 0-1-3 0-2-2 0 0 0 1-1-2-1 4 0 0-1 0 0-1-1 2-1-1-1-4 0 3-1-1 0 2-5-2-3-1-1 2-2 2-3 0-1-2 0 2-1-3 0-1-3 4-3-4-2 1-2 3 0-4 0 0-1 4 0-2-1 1-1-3-1 4-4-4-1 3-1-4-1 4-3 0 0 1-1-3-1 0-1 3 0-1 0-2-2 2-2-2 0 2-1 0 0-1-1 0-3 1 0-3-2 1-2-2 0 2-1-1-1 4 0-1-1-1-6-3-3 3 0 0-3-1-9 3-2-3-4-2-4 4-1 1-1 0-4-3-7 3 0-5-1 2-7 1-2-1-10 3 3 4 6-3 1 3 4 0 8 1 2-1 6-2 3 0 0 0 1-1 2 3 0 1 5-4 3 0 1 0 3 5 2 0 0 0 2-2 2-1 0 3 1 0 3-1 2-3 2 1 1-1 0 2 1-3 4 0 1 3 1-1 1-2 6 4 1-3 1 4 1-1 3-3 0 4 1-2 0-1 0 1 1 0 1 2 1-2 5-2 0 0 1 0 0-1 1 5 0 0 0-5 1 1 1 2 1-1 1 2 1-2 0-2 2 4 0-3 1-1 0 1 0 2 0 0 1-2 2 1 1 2 2-4 0 5 1-2 0 0 1 1 0-2 1-1 0-1 1 1 1 4 1 0 0 0 1-3 4 3 1-3 1 2 0-1 1 1 0 0 0-2 1 3 1-5 3 1 0 2 1-1 0-1 2 3 1-4 0 2 0-1 2-1 1 1 0-1 2 3 1-1 1-1 1 4 1-2 0 2 2-3 0-2 0 5 1-2 1-3 1 2 0-1 0 3 3-2 0 0 0 2 2-2 2-2 2 2 1 1 0-3 1 3 3 0 1-2 7 3 3-4 1 2 0 3 1-3 1-1 0 3 2 1 2-2 1-1 2 0 2 0 1 0 3 0 1-1 1-1 0 5 1-3 1 0 1-2 2 4 1-1 2-2 0 4 3-5 0 1 0 0 1 3 1-3 1 0 2 2 0 2 0-5 1 2 0 3 2-1 0 0 0-1 3-3 0 3 1-2 0 4 0-5 0 3 2 0 3-3 1 3 2 0 0 1 0 0 1 0 1-1 0 2 4-2 1 1 0-4 1 3 0-1 1 0 1 0 0 3 1-5 2 0 1 4 1-2 1 0 3-2 1 3 0 0 0 2 1-3 1 3 1-4 0 2 2-2 0 0 2 2 1-2 0 4 1-5 0 2 1 0 1-2 0 3 1 1 0-2 1 3 1-2 0 1 2-4 0 3 0 2 2 0 1-5 1 5 2-4 2 1 0-1 0-1 2 5 0-1 2 1 1-2 1 1 0-2 0-1 1 1 1-1 1 1 1 1 3 0 0 2 2-2 2-2 1 3 0-1 2-2 1 0 0-1 1 4 0-2 1 0 0 1 1 1 3-3 1 0 0-1 0 2 3 1 4 1 2-1 1 1 0-3 0 3 1 0 1-3 1 0 0 2 0 1 1-4 0 3 1-1 2 2 0 1 0-1 1-3 1 3 4 0 1 1 1-3 0 0 1 2 0-4 2 3 0-2 0 0 1 3 1-1 1 2 0-1 1-2 1 2 0-1 1-2 0 4 0 0 0-3 2 0 1-2 1 5 2-2 0-3 2 1 0-1 1 4 0-3 3 4 2-4 0 4 1-2 1-1 0 3 1 0 2-4 3 4 1-4 1-1 0 1 2 3 0-1 0 1 1 1 0-4 0-1 2 5 1-4 0-1 1 3 3-1 0-1 1 2 0-1 1 0 3 1 1 1 1-2 0 3 3-1 1 0 5 0 0-1 1 0 1-3 4 0 1 3 1 2 1-5 0 5 5-1 20-3 10 8-4-2-2 0-1 0-4 3-7 0-1 1-5-2-4 2 0 0-1 0-1-4 0 2-1 1-1-1-1 2-2-1-1 0-2-3 0 3-1-1-1-3 0 5 0-2-1-2 0 3 0 1-2-4-3 0-1 1 0 3-1-4-2 4-2 0-1 0-1-4-1 4 0-2-3-3-3 4 0-2-2 3-1-1 0 1-2-4-2 3 0-1-3 1 0-4-1 3-1 2-1-3-1 0-1 1-1-2-1 1-2 0-1-2 0 5-2 0-1-4-2 3-1-3 0-1 0 1-2 0-3 0-1 2 0-1-1-2-1 3 0 0 0-1-1-1-2 2-1 2 0-1 0 1-1-3 0-1 0 0-1 1-1 0-1-1-2 4-1-4 0 3 0-3-1 1-3 3-1-1-1-2-1 1-1-2-1 0-1 0 0 0-1 3 0-2-1 3 0-2-1 2 0 0 0-2-3 0-1 2 0-2-1 2-1-1-1 0-1 1 0-1 0 1 0-4-1 2 0 0 0-1-1 1-2-1 0 3 0-4-1-1-1 1 0 0-2 4-1-3 0-1 0 3-2-4 0 5 0 0 0 0-1-4-1 1 0 1-1 2-1-2-1 2-1 0 0-2-1 1-2 0-1 1 0-5-1 1-1 1 0 1-1 2-1-3-1 3-3-2 0 0-1 0 0 0-1 2-4-5-1 2 0 0 0 1-2 0 0 2 0-2-1-2-4 0-4 4-1-1-1-3-1-1-1 5-1-4-1-1-1 5-1-1-2 0-1-2-1 2-1-1-2 2 0-4-1 0-1-1-1 5 0-2-2-1-1 0 0 1 0 1-3-3 0 4 0-1-1-4-1 0-1 3-1-1 0 2-1-1-3-3-1 1 0 3-1 1-1-4-1 1-2 1 0 0-2 1 0-2-1-2-1 5-3-2 0-2-2 4-1-2-1-1-2 2-1 0 0-4 0 5-2-2 0-3-2 1-1 0-3 2-3-2-2 3-2-4-2 2 0-1 0 3-2 1-1-5 0 3-1-1-2-1-1 2 0 2-2-2-1 1 0-1-1 1-3-1 0-1-1-2-2 3 0 1 0-2-1 3 0-1-2-3-1 0-1 2 0 1-1 0 0-2-3 2-2 0-2-2-2-2-1 2 0 0-1 1-1-3 0 2 0 2-2 1-2-3-1 2-1-4-2 5 0-3-2-1-1 4 0 0 0 0 0-5-1 1-1 4 0-5-2 4 0-3 0-1-1 5-1-4-2 0 0-1 0 4-1-2 0 2-2-4-1 2-1 1-3 0-3-2 0-1-2 2 0 1 0-3-2 2-2 2-1-2 0-1-1-1 0 1-1 3-1 1-1-5 0 4-3-3-1 0-1 1 0 1 0-2-1 0 0 3-3 1 0-3 0 2-1 1-1 0 0-2-1-2-3 0 0 0 0 2-3 2-2-1-1-4-2 2 0 0 0-1-1 4-1-5 0 2-1 1-1-3 0 2-2-1-1-1 0 5-4-5 0 3-2-2-4 1-2 3 0-3-2 0-2 2-1-1 0-3 0 3-3 2 0 0 0-2-2-1-2-2 0 2-1 0-3 3-1-3 0 1-2-3-1 0-1 2-2 3 0 0-3-2-3 2-1-2-1-1 0 2 0-4-5 3-6-3-5 2-15 0 4 6 2 1 2 2 4-1 0 0 2-1 7-3 8 1 0 2 2 2 3-1 2 1 3-1 1-1 1-1 1 2 3-1 0-1 1 1 3 0 4-3 1 0 0 1 1 4 2-3 1 0 1 1 2-2 3 2 2 0 1-2 8 3 1 1 1-3 2 0 1-2 0 3 1-2 1 0 0 4 2 0 1-2 0-1 0 0 2-2 1 2 2-1 1 3 0-4 0 0 1 3 0 1 1-3 0 2 0-3 2 3 1-3 0 5 1-2 1 1 1-2 0-2 1 5 1-3 1 0 2-1 0 1 0 0 0-2 1 2 0 1 0 0 2 0 0-1 1-1 1 4 0-4 0-1 0 4 2-3 3-1 0 2 0 1 0-3 1 5 1-3 0 3 0-5 3 2 0 2 1 0 2 0 0-4 0 2 4-2 2 5 0-1 1-3 0 0 1 1 0 3 3-1 0-4 6 1 0 0 1 3 0-3 1 4 1-1 1 0 2 0 1-3 1 1 1-1 1 4 0-4 1 4 1-5 0 4 1-2 1 1 1 1 1-4 1 1 0 4 1-5 2 3 0 1 0-1 2-2 0 1 2 0 0 3 1-1 1-3 0 2 1-3 0 3 0-2 2-1 0 1 2 0 0 4 0-2 1-1 1-1 1 0 0 0 1 1 0 3 2-5 2 4 0-1 0 2 1-1 1-3 0 4 2-5 2 0 0 4 0-4 1 3 1 2 0-1 3 0 1-4 0 4 2 1 0-5 1 5 0 0 1-5 0 3 4 0 1 0 0-3 1 2 0 3 0-4 0-1 1 4 0-4 1 5 1 0 0 0 1-5 0 2 1-1 1-1 1 4 2 1 0-5 2 5 0-4 2 1 1 2 1 1 1-2 0 2 1-1 1 0 0-4 0 3 1 2 1-3 2 2 2 0 0-3 1 1 0 1 2 0 1 1 1-1 0 2 1-3 0 0 0 0 2 2 2-3 1 3 2-3 2 3 2-3 0 0 0 1 1-1 2 3 0-2 0 2 1-4 1 5 0 0 2-3 2 3 0-4 0-1 3 4 0-1 1 1 0 0 3-3 1-1 0 5 0-4 0 4 0-5 3 4 1-3 0 3 1-1 0-3 0 5 1 0 0-5 1 0 4 2 0-2 4 4 1 0 3-1 0-3 0 2 1 3 3-5 1 5 1-1 0 1 0-2 0 1 2-2 1 3 1 0 1-3 2-1 0 1 0-2 3 5 2-2 2 1 2-2 1 2 1 0 0-2 1 3 0-5 1 5 1-4 2 2 0 1 1 1 0-4 2 3 0-3 3 0 0 0 0 2 1-2 0 3 0 0 1 1 2-2 0 2 3-2 0 1 1 0 1-1 1-2 1-1 0 0 0 5 3-2 0-1 1-1 0-1 1 1 1 4 0-2 1 1 1-4 0 4 1 0 3-4 1 0 1 3 2-2 0 2 1 2 2-2 1 2 0-2 1 2 0-3 1-1 1 0 1 3 0 1 1-2 1 0 2 2 0-3 1 2 0-3 3 3 0 0 2 0 1-4 0 2 1 0 1 1 1-3 0 4 1-1 1-1 0-2 2 4 2 1 1-2 1-3 2 1 1-1 5 3 4 1 1-1 2 1 1-2 1-2 0 5 1-1 1-1 0-3 1 1 3 3 0 0 0-2 2-2 3 5 2-4 4-1 2 3 0-2 16 4 2-4 10 2 3 8-16-2-1-2-1 0-2 4-10-1-1 1 0-2-2 0-2-3 0 2-2-1-6 4-2 0 0 0 0-1-3 0 0-3-1 2 0 1-3-3 0-1 0 4-1 0-2-3-1 2 0 2-1-4 0 1-3 1-4 0 0-1-3 2 0-3 0 1 0 3-1-2-1-2 0 1 0 2-1 0 0-3 0-1-1 4 0 0-1-3-2 2-1 2 0-4-1 1 0 3-2 0-1-2-3-1-1-2-1 3-1-2 0 4-1-2-1 0-1-3 0 3 0 0-1-1 0-1-1-1 0 2-3-1 0 2-1-1-1-1 0 0-3 1-4 0-1 2-2-2 0-2-2 3-1-1 0-2-1 2-1 3 0-3-1-2 0 4-1 0 0-4 0 2 0 3-1-5-1 0 0 5-1-3-1-1-1 4 0-5-2 1-1 0 0-1-1 1-2 3-1-4 0 5 0-5-1 2 0 0-1 3-2-3 0 1 0 2 0-5-1 5-1-5 0 4-1-1-1 2 0-2-1 2-1-5 0 3-1 2 0-3-1 0-2 3-1-2 0 2-1-5 0 3-1-2-1 4 0 0-1 0-1-3-1-2 0 0-1 0-1 4 0-3-2 3 0-1-1-2-3 4 0-1-1-1 0 1 0 1-2-3-1 1-2-1 0 3-1-2-1 1-1-2-1 1-1-3-1 2-1 2 0-4 0 4 0-4-1 1-1 2-2-2-2 0-1 0-3 2 0-1-2 0 0 2-1 0-4-1-1 2-2-3 0 0-1 3-3-3-2 2-1 0-2-2-6-1 0 3-1-1-2-1 0-2 0 3 0-3 0 3-1 1-1-2 0 3-1 0 0-3-2 1-1-2 0 3-3-1-1-1-3 1 0 1-1 1 0 0-1 0-1-1-1-3-1-1-1 4-1 1 0 0-2-5 0 3-1 0 0-2-1 4-1-2 0 2-1-4-1 1-1 3-1-3 0-1-1 4 0-1-1-2-2 0-2 2-1-3-2 0 0 1-1 2 0 1 0-5-2 2-2 2 0-3-1-1-1 3-3-3-1 0 0 5-1-3-1-1-1 3 0-1-2-3-1 4 0-2-1 3 0-3-2 1-1-2 0 1-1-2-2 4 0 0-1-1-1 1-1-3 0 0 0 1-1 0 0 1 0 0-1-2-1-1-1 0 0 2-2-2 0 5-1-1-1-2 0 2-1 1-1 0-1-5 0 0-2 5 0-2-2 1 0-3-1 1 0 3-3-1-5-1 0 2 0-3 0-1-1 2 0-2 0 2-2 2-1-4-1 3-1-2-1 3 0-1 0-2-1 3-1-1-2-1 0 1-1-1-1 1 0-1-3-1-1 2-2-4 0 4 0-4-1 1 0 4-2-1 0-3 0 1-2-1-3 0 0 2-1 0-1 1 0 0 0-4-2 4-4 0 0-1-1 0-1-3-1 3 0 2-1 0 0-5-1 5-1-5 0 0-2 4-2-2 0-1-1-1-1 0-2 3-2-1 0 2 0 1 0-5-6 4 0-3 0-1 0 4 0-3-1 4-2-4-1 4-1 0 0-1-1-1 0-3-1 5 0-5-1 0 0 1 0 3-2-1 0 1-2-3-3 2 0-1 0 2-2-1-1-2 0 3 0 0-1-4-2 0-4 0-1 2 0 0-1 3 0 0-1-5-1 0 0 2 0 3-6-5-4 4-3 0-2 0-1-3-1 3-1 0 0-4 0 5-1-5 0 2-1-2-1 2 0 0 0 3-2-4-3 1-2 3 0 0 0 0 0-1-2-1 0-2 0 0-1-1-3 2-1 1-2-2-2 3-1-3-1-1 0 2-1 3-2-5-1 3 0 1 0 0-3 1-1-4-17 4-1 0 2 5 2 0 6-1 3 0 3-3 0 1 4 3 2-4 1 2 0-2 2 3 7-3 4 5 1 0 2-5 1 1 1 2 1 0 1-2 0 4 1-4 0 1 2 0 2 3 1-1 1-1 2-1 3 1 1-2 0-1 0 4 3-2 2-1 1 4 0-5 0 4 1 0 0 0 1-2 1-1 0 4 1-5 0 1 2 4 0-1 0 1 1-3 2 0 1-2 3 5 0-4 2 3 1 1 0-1 2 0 0-2 2 0 1 2 0-3 1 3 3 0 0-4 4 2 1-2 0 3 2-1 0-1 1 2 0 2 1-5 6 3 1-3 3 1 1 0 1 1 0-1 3 0 0 2 0 2 1-1 1 0 0-1 1-1 1 2 1 1 1-5 1 4 1 1 0 0 0-2 1 0 0-3 1 4 3-2 0-1 1 1 2-2 0 4 1 1 0-5 1 3 2 1 0-4 0 2 2 3 2-4 1 2 0 2 0-4 1-1 1 4 1-4 1 0 2 5 2-4 0 2 0 0 0 0 2-3 0 3 1 1 1-1 1-2 1 3 0 1 1-4 0-1 1 2 0-1 0 2 1-3 1 2 1 1 0-3 1 5 0-2 1-2 1 4 0-3 1 0 0 0 1 1 0-2 1 3 2-2 0 0 0-2 0 0 0 1 1 0 1 3 0 0 1-2 2 2 1 1 0-2 1 1 2-4 1 4 1-2 0 1 2 0 0-1 2 2 1-3 1 2 2 1 0 1 1-4 2 1 0 2 1 1 0-4 1 4 0-2 1 1 2-3 0 0 1 3 1 0 1-2 1 0 1 2 1-4 2 1 0 1 3-2 1 0 0 1 0 2 2-3 2 5 1-3 0 2 0 1 3-2 0 1 3-4 0 2 0 1 0-1 1 0 1 0 1-2 1 5 0-4 1 0 2 2 0-2 0 3 1-1 0-2 1 0 1 2 1 1 1 1 0 0 1-4 1 4 1-5 1 5 1 0 0-4 0 3 2-2 2 2 0-1 0-2 0-1 1 3 1-3 3 4 1-3 1 1 3 0 2-2 0 1 0 1 0 3 2 0 0-2 2 1 3 1 4-4 0 1 1-2 0 4 0 0 1 0 1-4 0 3 0-1 1 0 0 3 1 0 0 0 1-5 0 5 2-3 2 2 1-1 0 1 0 1 1-1 0-2 1 0 1-2 0 0 0 3 1 2 0 0 2-5 1 4 1-4 0 1 2 2 0-3 1 5 0 0 1-1 1-1 0 0 3 2 0-3 1 0 0 1 0-3 2 4 0 0 1-3 1 4 0-1 1-4 0 5 0-5 1 5 1-4 1 2 2-2 1 2 0-1 3-1 0 3 0-2 0 2 0 1 4-1 0 1 1 0 0-4 0 2 0 1 0-4 1 5 0 0 1-5 4 0 1 5 0-5 2 2 2-1 1 2 3-3 2 1 1 3 0-3 2 3 0-2 1 0 3 3 0-5 1 1 2-1 0 3 1-3 0 4 1-2 2 1 1-2 1 3 2-3 0 1 1 3 1-5 1 0 0 5 1-1 0-1 1-3 1 3 0-2 0 2 0 0 1 0 1 2 1-1 0-1 2 0 1 2 1-4 0 0 1 4 1-5 0 3 0 1 2-2 0-2 1 3 1 2 1-2 0 0 0 0 1-1 0 2 2-2 1 2 0-3 2 4 0-4 0 0 3 1 0-1 1 2 0-3 1 4 0-1 4-3 0 4 1 1 0-2 1-2 0 3 1 1 0-4 0 1 2-2 0 4 2-4 3 3 3 1 1 0 1 0 0 0 1-3 0 1 1 1 3-3 1 3 0-3 1 1 2 0 0 1 1 2 1-3 0 4 2-4 1 2 2-1 1 0 0-2 1 4 0 0 1-4 1 1 2 4 0 0 1-1 5 0 1 1 0-1 5-1 6-1 0 1 3 0 1 0 2-1 18 8-6 0-5 1-6 0-11-4-2 4-1-2-1 2 0-3-1-1-1 4-2-2-4 1-2 0-1-3-1 0 0 1 0 1-3 1-2-4 0 2 0-1 0 2-1 2-1-4 0 0-2 0-1 3 0 1 0 0 0-1-4 1-1 0-1-3 0 2 0-2-2 2-1-4-2 2-1 1-1 2 0-2-2-3 0 2 0 0 0 3-1-1 0 0-2-1-2-1 0 1 0-1-1 0-2-2 0 2-2 1 0-1-1 3-1-3 0-1-1 1-1-2 0 3 0-2-2 2-2-1 0-2-3 0-2 5 0-3-1-2-2 4-2 0-1-2-1 1-1-3 0 4-1 1-1 0 0 0 0-4-2-1-1 2-1-1 0 3-2-4-2 3 0 2 0-4-1 2-1-1-2-1 0 0 0-1-1 2-1 0-1-2-3 1 0 3-2-2-1 0 0 3-1 0 0-3-1-1-1 0-1 2-2-2 0 3 0 0-2-3 0 0 0-1-1 3-2-1-1 1-1-3 0 3-3 0 0-3-1 5-2-4-2-1 0 1 0 4 0-1-1-2 0 3-1-1-1 1 0-3-1 0-2 3-1 0-1-3-2 2-2 0-2-4 0 2-1 1 0 1-1-2 0-2-2 0-3 3-1-1 0 2 0 0-1-4 0 2-1-2-1 0 0 1-1 3-1-4 0 2-1 2 0-1-1-1 0-1-1-1-1 4 0-1-1 0 0 1 0 0-1-2-1-2-2 5-2-5 0 5-1-1-1-4-4 5 0-3 0 2-2 1 0-5-1 5-1-5-1 2-3 0-1 3-1-2-1-1-1 1-1-3 0 5 0-4-1 3-1-3-3 4 0-4-1 0 0 1 0 2-3 1-2 0 0-3-3-2-1 0 0 2-2-1 0 3-1 0 0 0-1 1-1-3 0 1-3 0-3-2-1 2 0-1-1 3-1 0-1-1 0-1-1 0 0-1-2-2 0 1 0 2-3 1-3-2 0 0 0-1 0 4-1 0 0-5-1 2-2-1-2 3-1-1-1 0 0 2-3-5-2 4 0 1 0-1-2-3-1 1 0 2 0-3-1 0 0-1-1 3 0 2-3-2 0 1-2 1 0-1 0-4 0 5-1-5-1 1 0 3-1-4-1 5 0-3-1 2-1 1-1 0-1-2-1 0-1-1 0 2 0 1 0-3-1-1-1 4-1-4 0 2-3 1 0 0-2-1-2 0-1-1 0 3-1 0-4-1-1-3-1 4-1-2-6 0 0-2-1 0-1 1-1 0 0 3-1-5-1 2-1-2 0 3-3-2 0 2-1 1-5 0-1-1-1 2 0-2 0 0-1-2 0 3-1-2 0 3-1-5-3 4-1-2-2-1 0 1-1-2-1 4 0 0 0-3 0 2-1 2-1-2-1 2 0 0-2-2 0-1-1 1 0 0-2-3 0 5 0-3-4-1-2 0-2-1-1 4 0-4-1 2 0-2 0 3-1 1-1-1-1-2-2 2-1-2 0 1-2-1-1 4-4-4 0 3 0 0-1 1-1-2-1 2 0 0-1-4 0 2 0 1-1-2 0 2-1-1 0-3 0 3-1 2-2-1-1-3-1 0-1 2-3-3-1 3-1 0 0 2-3-1 0-2-1 2-1 0-2-1-6-3 0 1-2 4-1-1-3 1-1-1 0-1-1 2-1-1-1 1 0-4-1 1 0 0-2-1 0 4-1-3-2 1-3 0-2 1-1 0-3-2 0-1-1 2-2-1-1-1 0 4 0 0-1-4 0 1-1 2 0 1-2-1-1-2-1 2 0-1-1 0-1 0-1-1-4-2 0 4-3-1-1-2-2 3-2-2-2 3 0-3-3 3-18-2-4 2 11 1 4 1 2 3 0-4 2 0 2 2 1 1 0 1 3-4 0 5 2-4 2 2 0-2 1 1 3 0 1-2 0 2 1 0 0-1 2-1 2 2 0 1 0 2 1-2 0 0 0 2 1-5 0 4 1 0 2-3 3 4 3-2 2-1 1 3 1-2 0-3 1 1 1-1 1 0 0 3 1 1 0 0 1 1 1-4 1 2 0 1 1-3 1 3 1-1 2 2 0 0 0-1 0-4 1 5 0-1 1-4 1 3 1 2 1-4 0 3 1-4 1 2 1-2 0 0 2 1 2 0 1 1 0 2 1 1 0 0 2-1 1 0 1 0 0-4 1 3 0 1 1-2 0 1 0 1 1-3 0-1 2 2 1-2 1 5 1-4 0-1 1 5 0 0 1-5 1 1 1 1 0 3 0-3 0 1 1 1 0-2 1-1 2 0 0 1 0 1 3-1 0 1 2-2 1 0 0-1 2 0 1 0 1 3 0 2 1-1 0-2 1 1 0 2 1-5 0 4 0-3 0 0 1 2 1 0 1 1 1-1 1-2 0 4 0-3 1 1 1-2 0 4 1-3 0-2 1 1 1 0 2 2 1 0 1-2 0 4 1-5 0 3 0-3 0 1 2 3 0 1 0 0 4-4 0 0 1 3 1-4 1 2 1-1 0 4 0 0 0-3 2 0 1 2 0-2 1 2 0 1 0-5 1 5 0 0 1-2 0 1 1 1 0-4 1 2 0-1 1-2 1 5 2-4 0 1 2 1 1 1 1-1 2 1 1 0 1-3 1 0 1 2 2 1 1-2 1 1 0-2 1-1 2 2 1 1 1 2 1-5 2 3 0-2 0 0 0 3 3-3 0-1 2 4 1-4 0 1 1 2 1-1 1 2 1-2 0 3 0-5 0 1 1 3 0-2 1-2 0 0 1 4 2 1 4-2 3-1 0-1 0 2 0 0 3 0 0-1 2 2 0-4 1 3 0-1 0 2 0 0 1-3 1 4 4-1 0-1 1 1 1 1 1-3 0 0 2 0 0-2 0 5 1-2 0-1 1-2 1 4 2 0 1-1 0-1 2 2 1-1 1-3 2 3 1-2 1 3 0 0 1-3 1-1 1 1 1-1 1 0 2 2 0 2 0-1 1-3 3 4 1-3 2 0 2-1 2 5 0-1 0-4 1 5 0-1 0-1 3-3 0 1 2 3 0-1 1-1 0 3 0-2 1-3 0 2 1 3 0-2 1 2 2-3 2 1 2-1 0 2 1-2 1 1 0 0 0 1 2-1 0-1 1 0 0-2 0 5 1-3 2-1 1 1 0 2 1-2 1 2 1-2 0-2 1 5 1-2 1 2 2-2 1 1 0-2 1-2 0 1 1 2 2 2 0-2 1 2 0-1 4-1 0 0 1-2 1 4 0-4 1 2 1-3 0 5 1-1 2 0 1 0 1-1 1 1 0 0 1-3 0 3 0-3 3 0 3 3 0 0 0-2 1 2 0 0 4-3 1-1 1 1 3 1 1-2 0 1 4 3 0-3 1 4 1 0 4-1 0-4 0 0 1 1 1 2 0 0 0 2 0-4 2 3 1-2 2 1 1-1 3 0 0-2 1 4 0 0 0-2 1 0 2-1 0 4 0-4 1 1 2 0 0-2 1 4 1-3 1 3 1-3 1 1 0 0 0-1 3 4 1-4 1 1 1 1 0 1 3-3 0 2 1-1 2 2 0-1 1 0 0-2 3 0 0 1 1 1 1 2 0-4 2 2 0-2 0 4 0-5 1 3 1-3 0 3 1-1 1-1 0 4 1-2 0 2 1 0 0-1 2 1 2 0 1 0 2-4 0-1 0 0 1 4 0-4 2 5 2-3 0 2 1-1 0 0 1 2 0-5 1 4 0-2 1-2 0 4 0 1 1-3 0 0 1 3 1-5 1 4 3-4 0 4 1 1 0 0 1-2 0 2 1-4 0 0 0 1 2 2 1-1 2-2 0-1 0 5 3-3 1 2 1-1 2-2 1-1 0 3 2 0 0 1 1-4 1 5 0-5 2 0 1 4 0 1 1-4 0 0 1 1 1 0 0 0 1 1 0 0 3 0 0-3 2 2 1 0 1 1 0-3 2 0 0 3 1-1 3-1 2 1 0 3 0 0 1-5 0 2 2 0 0 2 3-2 1-1 0 4 1-5 9 7-13 0-9 0-2 2-1 2 0-3-1 2-1 0-1-4-2 3-2-3-3 0-1 0-1 5 0-3-2-1 0 1-3 1-1-1 0-2-1 0 0 3 0-2 0 4-1 0 0-1-1-4 0 1-1 2-1-2-1 0-1 3 0-2-1 0-1 2-1-3-1 4-1 0 0-4-1 3 0-2 0 1 0 1-1-2-2 1 0 2 0-4 0-1-1 2 0-2 0 1 0 4-1-1 0 0-2-3-1 1-1 2 0-4-1 4-2 1-1-1 0-3 0 1 0 2-1 0-1-4 0 2 0 1-1 0-1-2 0 1-1 0-2 2 0 1-3 0 0-4-2 2 0-1-1 1 0 1-1-1 0 1 0-1-1 2 0-4 0 1-1 3 0 0-3-3 0-2-1 5-1-4-1 3 0-2-1-1 0 1-1-1 0 1 0 3-1-3-2 3-1-2 0-1 0-2-1 2-2-2-1 0-1 3-1 0-1-3-1 5 0-3-1-1 0 2-2 1 0 1-1 0 0-3-1-2-1 2 0-2-1 4-2 0-2 1-1 0-1-4 0 2 0 2-3-5-4 3 0-2-1 2 0 1-1-2-1 0-1 2 0 0 0-1-2 2-3 0-2-3 0 0-3 3 0-3 0 0-3 1 0-2-1 1 0 3 0-3-1-1 0 1-2 0-2-1-2 4-2-5-1 5 0-3-2 0 0-1-1 1 0 1 0-1-1-2-1 1-1-1 0 1-1 0 0 3-1 1-1-1 0-3 0 2 0-2-1-1-1 0-1 4-1 0-1 1 0 0-3-4 0 1-1 3-2-4-1-1-1 2 0 0-1-1-1 3 0-2-1 1 0-2-1-1 0 3-1 0-1-3-2 2 0-1 0 1 0 1 0 0-1 2-1 0-2-5 0 5-2-5-1 5 0-5-2 3 0 0-2 2 0-2-1-2 0 2 0-2-1 1-4 1 0-1 0-1 0 4-1-1 0 1 0-5-1 2 0 3-1-2-2 0 0 2-1-1-3 0 0 0-1-2-1 0-2 0 0 1-2-1 0 0 0 1 0 2-1-5 0 1 0 4-3-3 0-2-1 1-1 3 0-2-1-1-1 0 0 1-1-2 0 4-4-2-1 2-2-1-1 1-1-3-2 0-1 4-2 0 0-4-1 1-2 1 0-1 0-2-1 5-1-3 0 1-4-1 0 0-1 3-1-2 0 1-1-4-1 0 0 5-1-3 0 3-2-1-1 1-1-1 0-3 0 0 0 1 0 2-1-2-1-1-1 4-2-3-2 2 0 0 0-3-1 2-3-3 0 2 0 2-2-1-1-1-2 1 0 1 0-1-1-3-1 0-1 2-1 1 0-1 0 0-1-2 0 3-2-3-1 0-1 2-1 1-1 2 0 0 0 0-1-3-1-2-1 1-5 3-1 0 0-2 0 3 0-4-1 1-1 1-2 2 0-3 0-2-2 5 0-2 0-2-2 3-1 0 0-3 0 1-1 0-1 3-1-4-1 4-2-5-1 5 0-5 0 3-1 1 0-3 0 2 0 0 0 0-3-2-1 2-1-2-1 3 0-1 0-2-2-1-1 2-1-1 0 1 0 0-1 2-1-1 0-3 0 2-2-2-1 1 0 3 0 1-2 0 0-1-2-1-1-1 0-1-2 0 0 1-1 2 0-1-3-3 0 5-1-5 0 1-1 0 0 1-1 2 0-1-1 1 0-1-2 2-2-5 0 1-1 1-1 0-1-2-1 5 0-2 0-1 0 3-1 0 0 0-1-1 0 1-1-1 0-3-1 3 0 1-2-4 0 3-1 0-2-3 0 1 0 3-1 0 0-5-2 0 0 2-1-2-3 1 0 1-2 2 0 1-1 0-2-2-1 1 0-3-2 3-1-4-1 4 0-1-1 0 0-2-1 1-1-1-2 2-1 2-1-4 0 2-2-3-1 1-1 0-1 0-1 1-1-1 0 4-1-5-1 0 0 2 0 1-1 0-1 2-1-3 0 2-5-1 0 1-3-4-1 3 0-2-1 3-2-2 0-2-1 5-2-4 0-1-2 5-3-1 0-4 0 4 0 0-1-2-1 0-1 0 0-1-1 0-2 3 0 0-2 0-1-1 0 0-2-2-1 2 0-3 0 2-2 3-1-3 0 2-3-1-1 1 0 1 0 0-2-4-5-1-5 3-1 1-3-2-2 2-8-3 0 2-8 0 11 6 7 2 3-3 2 1 3-3 0 0 1 3 3-1 1 1 1-3 0 2 0 2 1 1 2-2 6 1 1 1 1-1 0-2 1 0 1-2 3 3 0-3 0 4 2-1 0-1 0 0 1-1 1 4 2-5 0 0 1 4 1-3 0 4 0-1 1 1 1-2 2-2 1 3 1 0 1-2 2 1 2-2 0 2 0 2 0-2 1-2 0 2 0 1 2 0 1-2 1 2 2 1 0-2 1-1 0 0 1-1 0 2 1 1 0-4 1 4 1-3 0 2 1 2 1-3 1 2 2 1 0-4 1-1 0 1 0 3 1 1 3-3 0 2 0 1 2 0 1-2 0 0 0-2 2 2 0-2 1-1 1 4 1 1 0-5 3 1 0-1 2 4 1-2 1-1 0 1 1 2 0 1 1-3 0 2 1-4 0 1 0 4 1-2 0-2 1 3 2-2 1 3 0-1 0-1 0 2 0-3 2 0 0 2 1-3 1 4 1-1 0-1 1-1 1 1 0 2 1-4 1 1 0 2 2-3 1 2 1-1 0 3 0 0 1-5 2 3 2-3 0 1 1 3 1-3 0 1 0 2 1-3 1 2 1 0 2-2 0 0 0 1 2 2 1-4 1 0 0 0 1 2 1 3 2-5 0 2 0 0 1 0 0 1 0 0 1 2 0-2 2-1 1 3 2-4 1 3 0 0 0-2 1 2 1-3 1 0 1 3 0 1 1-4 0 1 0 1 1 2 0-5 1 1 0-1 0 5 1-1 1 0 1 1 2 0 0-5 1 1 2 1 0 3 0-5 1 2 0-1 0 0 0 3 1-2 0-1 2 3 0 1 1-4 2 4 1-2 0-3 1 2 1-2 1 1 0 3 0 1 1-3 3 0 0 3 0-4 1 4 2-4 0 2 1-3 0 0 1 3 1-1 0 2 1 0 3 1 1-2 0-2 2 1 0 2 0 1 3-5 1 2 2 1 1-3 0 2 1 2 0-4 3 4 1 0 1-2 1-2 0 1 1 2 0 0 2-3 1 4 0-2 1-1 1 4 2-5 0 3 6-1 0 0 0 3 2-5 0 5 1-4 1 2 0 1 0-1 2-2 0-1 1 2 0-1 0 2 1 2 0 0 1-1 1-3 1 4 0 0 1-2 0-2 1 2 0-2 0 0 1 3 1 0 4-3 1 0 0 1 1 3 1-4 0 2 0 0 0 1 2-4 1 1 2-1 1 1 1-1 1 3 1-2 2 3 0 1 2 0 1-1 2-4 0 4 1 0 1-1 1 2 0-5 1 0 0 5 0-1 1-4 0 3 2-2 0 2 2-1 0 2 2-1 3-1 2 1 2 0 1 2 0-5 0 1 1 1 3-1 0-1 1 1 0-1 1 5 0-4 1 3 1-4 0 4 0 1 1-5 1 2 1 3 0-3 0 1 1-2 0 2 0-1 0 2 0-1 1-3 0 4 1-3 1 2 1 0 1 0 2 1 1-1 1-1 0-2 2 4 0-2 2 3 0-3 3 1 0 1 1 1 2-3 0 0 1-1 5 3 2 1 3-2 3 2 0-3 0 1 0 1 1-4 1 3 2-3 1 2 0-1 0 2 2-1 1 0 1 1 0 1 0 1 1-2 0-2 1 3 2 0 1 0 0-2 1-1 0 0 0 4 0-4 3 3 1 1 2 0 0-3 1 0 0 3 0-5 0 5 1-3 0 3 2-2 0 0 0-1 0-1 1 2 0-2 2 0 0 4 0 0 0-4 0 0 1 0 0-1 0 4 2 1 0 0 1 0 0-4 0 3 0 0 1 1 0-3 0 0 1 3 0-2 0 2 1-1 1-2 0 0 1-2 1 1 0 1 1 2 2 1 1-1 0-1 0-1 1 0 2 2 0 1 0-3 1-1 1 4 1-3 1 1 1 1 2 1 0-1 1-4 0 3 1 2 1-4 2-1 1 1 2 4 2-1 1-1 1-2 1 4 0-2 0-1 2 0 1 1 1-3 0 1 1 0 0 4 0-4 0 1 1 1 1 0 1 1 1-2 1 2 0 0 1-2 0 1 0 1 0 0 1-3 3 1 3-1 0 4 2-1 0 0 0-4 1 1 1 2 0 1 0-4 1 4 0 0 2-2 1-2 0 3 1-2 0 4 2-4 1 0 0 0 0 3 2-1 1-3 1 3 0-1 1 0 0-1 1 4 2-1 0 1 1-3 0 3 1 0 0-3 0 0 0 1 2 0 0 0 1-2 2-1 0 1 0 1 1 2 0-4 0 5 1-1 0-4 0 4 1 0 0-4 3 2 0-2 0 3 3 1 1-4 1 4 0-3 0 4 4-1 0-3 1 0 0 4 0 0 2-2 0 1 2 1 1-1 1-4 0 5 5-1 1 1 0-2 2 0 1-1 0-2 1 0 0 1 1 4 1 2-2 0 0 1-1 3-3 0-1-3-2-1 0 2-1-2-1 4 0-5 0 4-1-1-1 1-3-3-1 4-1-4-2 4 0-1-1-2 0 3-2-2-1-3 0 4 0 0-1-1 0 2-2-5 0 3 0 1 0-1-4 1 0-1-3-1-1 1-1 1 0 0 0 0-1-1-1-2 0 3-2 1-1-5 0 0-1 5-1-5 0 0-1 4 0-1 0 0 0-1-1-1 0-1-1 3-1 0-1-2-1 2 0-1-1 2 0-3 0 3-1-4 0 3 0 1 0-2 0 3-1-4-2 3-1-3 0-1 0 2 0 2-1-3-1 1-1 2-1-2-1 3-2 0 0-2-1-1 0-2-1 2 0-2 0 5-1-5-1 2 0-2-1 4-2 0-1-2 0 3 0-2-1 2 0 0-1 0 0-5-1 1-1 3-1-3-1 2 0 2-2-4 0-1 0 5-2-4 0-1 0 1-2-1 0 3-1 0 0 0 0-3 0 5-1-1-1-4-1 4-1-2-1-2-1 1-3-1-4 4 0-1 0-3-1 3 0 1-1-3-1 2 0 2-1-3-2 2-1-3 0 3-3-4-1 0-1 4-1-4-1 2 0 3 0-4-1 2-1 0-2 2-2-4-1 2-1-2 0-1 0 4-2-4 0 5-1 0 0-4-1 4 0-1-1-2 0-2-1 5 0-5-1 5 0 0-2 0 0-4-1 1-1 3 0-1-1-4 0 5 0-5-1 1 0 3-1-1 0 1 0-3-1 4 0 0 0 0-1-3 0-2-1 3-1 2 0-3 0-1-1 1 0-2-2 3-2-2-1 4 0-5 0 5-1-4 0-1-1 1 0 3-1-1-2 1-1-3-1 2 0 1 0-3-1 1-1 1 0 0-1-1-1 0-4 2-1 1-2-1 0 1-2-1-2-2-3 1 0-3 0 4-2-3-4 0 0-1-1 3 0-3-1 0 0 4 0-1 0 0-1 1 0 0-2-2-2 2 0 0-1 1 0-4 0 2 0-3 0 1-2 4-2-4-1 2-1-3-1 2-1-1-1 1-1-2-1 4-1 0 0-3 0 1-1-2-2 2-1 0 0 3 0-4-2 3 0-1-2 0-1 1-2-3 0 1 0 0-1 0 0 1-3 1 0 0-1 0 0-1-2-3 0 4 0-2 0 0-2 0 0 3-1-2-1-3 0 5-1-5-1 2 0-2-4 1-2 4-4-5-4 2-2 0 0 0-1-1 0 3-1 1-1-4 0 0-3 3-1-1-1 1-1-3-1 4 0-2 0-2-2 4 0-1 0 1-3-5-1 4-3-3-2 2 0-2-1-1 0 2-3 1-2-3-1 3-2-2 0 2 0 2-1-3-1 3-1-2-2-3-4 2-1 2-1-4 0 2-1-1-2 1-1-1-2 2-2-1 0-2-1 3 0 0-1 1-1 1-1-1-1-3 0 2 0 1-1-3 0 3-1 0 0-1-1 2 0-2-3 0 0 1-1 1 0 0-1 0-1-3-1-1 0 0 0 3-1 1 0 0-1-4 0-1 0 0-2 3 0 0-1-2-4 2 0 2-2-5-1 3 0 1 0 0-1-2 0 1-1 0 0 0-1 2-1-5-1 5 0-3-1 0 0 1 0 1 0-1 0 1-1-1 0 0-2-1-1 3 0 0-1 0 0-1-2-4 0 0-2 2 0 2-1-3 0 2 0 2-1-3 0 1 0-2-2-1 0 1 0 4-1-4-1 0-1 1-1-1 0-1-4 0 0 0-1 2 0-2-2 0 0 5 0-1-1-3-3 4 0 0-1-5 0 3 0-2-2 1-1 0 0 3 0-4-1 1 0-2-2 1 0 3 0-2-2 3 0-5-1 0-2 5-2-4-1 1-2 0 0-1-3 0 0-1 0 2 0 1-1-3 0 5 0-3-2 2-1-2 0 2-1-3-1 1-2 0-2-2 0 1-1 4-1-4-1 1-1 2 0-1-1-1-1-2 0 4 0-3-1 4 0-2 0 0 0-3-1 5-1-2-1-2-2 4-1-1-1 1 0-5 0 4-3 0 0 0 0 1 0-2-1-2 0-1-1 1 0 4 0-5-4 4 0-1 0 2 0 0-1-2-1 2-1-3-1 2-2-3-1 2-1-2-1 3-1-4-1 2 0-2-1 2-1 0-1 1-1 1 0-4-1 4 0-2-1 3-1-3-1 2 0 0-2 0 0-4-1 3 0 1-2-3-2 0 0 2-1-1 0 2-1 0 0-4-2 5 0-1-1 1 0-2 0-3-1 1 0 1-1 3 0 0-1-1 0-3-1 1-2 3-1 0-1-4 0 2-1-3-2 0-2 3 0-3-1 2 0 2-1-3-1 2 0-3-1 0 0 2-1 2 0-1 0 0-2 2-6 0-1-4-1-1-1 0-2 4-3-3-1 0 0 4-15-3 6 6 2 0 7 2 2-4 4 0 4 4 0-2 1-2 1 4 1 1 0-2 1 2 0-1 1-4 2 3 1 2 2 0 0-3 0 1 1 1 2 1 4-2 2 0 0 2 0-5 0 3 0-3 3 4 4-1 2 1 0 1 1-5 1 2 0 0 0-2 0 3 1-2 0 1 2 0 2 3 1-2 1 2 1-4 0-1 3 1 0 0 0-1 0 4 0-3 0 2 1 0 0-1 1 2 0 1 0-5 2 4 0-3 0 0 1 0 0 2 0-2 3 2 0-2 1 0 1 4 1-4 1 3 0-1 1 1 0-3 1 1 0-2 1 1 0 4 3-2 1 0 0 0 2-2 1 4 1-1 1-2 0 1 2-1 0 2 0 0 1-2 0-1 1 2 0 0 0-2 2 1 0 2 1-1 0-3 2 3 0 2 1-2 1 1 0-4 0 3 2-1 0 2 1-4 0 4 1-2 1 3 0-4 2 3 1 1 0-5 0 1 0 2 2 2 0-5 1 5 0-4 1 2 2-2 0 1 1 2 0 0 0-2 0-2 1 4 0-2 1-2 0 0 1 0 1 0 0 1 1-1 0 5 1-4 0 2 1-3 1 1 0 4 0-1 1 1 0-4 0 4 1-2 1-2 0 3 1-2 1 1 0 2 1-3 1-1 1 4 1-1 1 0 0 1 1-2 2-2 0 0 4 1 0 2 1-2 1 0 1-2 0 3 1 2 1 0 0-5 1 5 0-1 1-1 0-1 1 0 0 0 3 3 0-5 1 5 1-5 1 3 1 0 1-3 1 4 1-3 1 1 0 0 0-1 3 3 0-2 0 2 4-1 0-3 1 0 2 0 0 1 1 4 0 0 1-4 1-1 1 2 0 0 2-2 0 5 1-5 0 2 1-1 0 3 1 0 1-1 1 1 1-1 3-1 0 0 0 1 2 1 0-2 1-2 0 1 0 0 0 1 1 1 0 2 1 0 1-2 0 0 0 0 2-3 3 1 0 2 4-1 0 1 0-3 1 2 0-1 1 2 0-1 2 3 0-2 0-2 3 2 1 1 4 1 0-4 0-1 2 0 0 0 4 0 0 3 1 1 1 1 1-3 3 0 0-2 0 5 0-4 1 2 1 0 1-2 0 4 2-1 1 0 1-2 0-1 0 3 0-3 1 4 1-3 1-1 1 1 2 1 0 0 0 1 3-4 1 5 0 0 2 0 1-4 0 3 2-2 2 2 2-3 1 2 1-3 0 4 0 0 2 1 1-3 0 0 3-1 0 3 1-4 0 2 2 2 0-4 1 3 0-3 0 4 1-3 0 4 0-5 1 3 1-2 4 1 0 3 1-3 0-1 1-1 0 4 1-2 1-2 1 2 0 1 1-2 4-1 0 4 1-4 2 2 1 0 0 2 0 0 1-1 1 0 1 2 0-3 2-1 1 4 0-4 1 4 0-5 0 3 2-3 0 2 2 2 1-4 1 1 1 1 0 0 1-2 0 2 1 0 1-2 2 4 2-3 1 4 0-3 1 2 1-4 1 5 1-5 1 0 1 4 0-2 0 0 1-1 3 0 1 0 0 3 1-3 0 2 1 1 2-4 1 4 2 0 2-3 0 4 1-4 0 4 2-1 0 0 2-4 0 2 1-1 0 2 0-1 2 3 0-5 1 2 1 3 1-4 1 3 0 0 0 1 1-2 0-3 0 5 2-2 2-3 1 1 1 4 3-1 1-2 0 2 0-3 1 3 0 0 1-1 0-2 1 0 3 1 1 3 1 0 0-5 0 3 0 0 1 2 0-3 0 3 2-2 0-2 4-1 1 4 2-2 0 1 1-3 1 2 0 2 1-1 3 2 0-3 0-2 1 5 0-4 2-1 0 3 2-1 1-1 1 4 0-5 1 2 0-2 0 0 1 4 0-1 1 0 1-2 0 0 2 3 0-3 0 3 1-2 1-2 0 2 1 3 1-5 0 5 1-1 0 0 1-3 2 1 0 3 2-5 0 0 0 1 0 0 1 1 0-1 0 4 1-5 0 2 0 3 0-2 1 1 1 1 0-4 1 3 1-4 0 1 0-1 0 4 0 0 1-1 0 1 0 0 2-1 0-1 0 0 1 1 0 0 0-2 0 1 1 2 0-4 3 4 1-3 0 3 1 0 3 0 1 1 0-2 1 1 1 1 1-3 0 1 1-1 2 2 0-2 1-2 0 5 1-2 0-1 0-1 2 3 0-1 0-1 1-2 0 2 0 3 1-5 0 0 1 5 0 0 1-1 0-1 2-2 0 2 0-2 1 4 0-5 1 1 0 3 0 1 1-4 2 0 0 2 1-2 1 0 0 0 1 1 1 1 1 1 0 0 0 1 1-3 2-1 0 2 2-2 1 4 0 0 0-2 2 0 0-1 0 3 1-5 0 3 2 0 0-3 0 5 1-4 1 1 0 3 1-1 2 0 0 1 0 0 1-1 1-4 1 5 1-1 1 0 0 1 1-3 0 2 0 1 2-4 0 4 1 0 0-1 2-1 4 2 1-5 1 2 1 3 1-2 0-3 1 1 1 4 0-4 4-1 1 5 3-4 1 1 4-1 3 0-7 9-3-2 0 1-1 2-2-1-1-3 0 3-1 1-1-1-1-4-1 5 0-1 0-2 0-1-1 0 0 4-2-3-1-2 0 1 0 1 0-2-1 1-1 2-1 2-1-3 0 3-2-2-2-2 0 1-1 2 0-1 0-3-1 5 0-5-1 5 0-3 0 2 0-3-2 0 0 1 0 3-1-2-1-2-1 2 0 1-1 1-1 0-1 0 0-2-1-3-2 0 0 0-1 4 0-1 0-2 0-1-1 4-1-1 0-2-1 0 0 2 0-1-2 3 0-1-1-2 0 3-1-4-1 0 0 3 0 0-1 1 0-3-1-2-2 0-1 0 0 3-1-3-1 5-1 0 0-4-1 3 0-3-3 4 0-4-1 3 0-2 0 0-1 2-1-2 0-1 0 4-2-4-1 3-1-3-1 0-2 1-1 0 0 2-1-4-1 4 0 0-1-1-1-1 0 0-1 0-2 1 0-1 0-1-1 1-1 0 0 3-1 0-1 0-1-3-1-2 0 0-1 3 0 1-1-1-1-3-1 0 0 0-1 2 0 1-1-3-1 5 0 0 0 0-1-4-1 1 0 2 0 0-2-1 0-1 0-1-1 3 0 0-1-3-2 2-1-1 0 2-1-3-1 4 0-1-1 0 0-2 0 3 0-2 0-1-1 0-2-1 0 3 0-4-2 3-2-2-1-1 0 3 0-2-1 3-1 1-1-2-1-2 0 0 0 4-1-1-1 1-3-5 0 1-1-1 0 5-1-1-1 1-1-4-4 4 0-3 0-2-1 3-1-1 0 2 0 1-2-2 0-2 0 1-1 3-1-4 0 4-1-2 0 2 0-5 0 0-1 3 0-1 0 2-1 1-1-4 0 3 0-2-2-2 0 0-1 4 0-1-2-1 0-1 0 0-1 3 0-4-1 0-1 0-1 1 0 4 0-1-2-1 0-3-2 1-1-1 0 4-1-3-2 4-1-4 0-1-2 3 0 0-1-3 0 1 0 4-2-4 0 4-2-1-1 0-1-3 0 1 0 3 0-5-2 5 0-4-1 0-1 2 0-3-1 2-1 0 0 2 0-1-1 1-1-3 0 2-2 0-1-2 0-1-1 2 0 1-1 0 0 0-1-2-2 3-5 0-1-2-2 1-1 0-1-2-2 0-1 0 0 1-1 2 0-1 0-2 0 0-1 0-1-1 0 2-4 1 0-2-2 3-1-2-1 3 0-1 0-2-1 1 0 2 0-4-1 1-3-1-1 0-1 2 0 2 0-3-1 3-1-2 0-1-1-1-1 2 0-3-1 2 0 1-1-3 0 3-1-1 0-1-1 2-5-2 0 4-1 0-1 0 0-5-1 1-1 3-1-4-1 3 0-2 0 2 0 0-2 1 0-4-1 4-1 0-3 0 0-2 0-1-1 2-1 1-1 0 0 0-1-4 0 1-1 4 0-3-1-2-1 2 0-1-1-1-1 2-2-2 0 4 0-1-1-1 0 0-1 1 0-3-3 1-3-1-3 0 0 5-1 0 0 0 0-5-1 3-3 1 0-3-2 2 0 2-2-5-3 1 0 1 0 1-2 0-1-2-1 3-2 0 0 1-2-4 0 1-1 3 0-5-1 4-1 0 0-1 0 2-1-5-1 1-1 0 0 1 0 3-2 0-1-4 0 0 0 1 0 2-1 0-1-3 0 4 0-4-3 4-1-4-2 0-1-1-2 2 0-1-1 2-1 2-1-1 0 0 0-4-1 5-2-5-1 0-1 0-1 1-2 1-2 3-3 0 0-4 0 1-1 1-1-3-1 2 0 1-1-3 0 1-1 4-2-4-1 3 0 0-2-4-2 3 0 2-1-2-1-1-1 3 0-1-1-1 0 0 0 2 0-5-1 3 0 0-1-3-1 1 0-1-1 0-1 1 0-1 0 1-1 2 0-2 0 4-1-4-1 2 0 1-1-2 0 0 0 1-1 2-1 0-1 0 0 0-2-4-1 2 0-1-2 3 0-4 0 2-2 1-3 1 0-3-1 0-1 2 0-3 0 1-2 0 0 3-2-4 0 1 0 1-2 1-1-1-3 2-3-2 0 0-2 2-1 0 0-3 0 0-1-2-1 2 0 0 0-2 0 4-1-2 0 3-1-4-1 3-1 1 0 0-1-5 0 5-1 0-2-3-1-1 0 0-1 1 0 2 0 0-3 1-1-5 0 2-1 3 0 0-1-2-2-2-1 3 0-2 0-1-1 4 0 0-1-5-1 0 0 4 0-1-1 1 0 0 0 0-1-4-2 5 0-1-1-1-1-1 0 2-2-2-1 2 0-4 0 3-1-2-2 3-1-4 0 5-1-5 0 4-1-3-2 1 0 1 0-1-1 3-1-2-2 0 0 0-1 0-1-2-1-1 0 0-1 3 0 2 0-2 0 2 0-5-1 3-1-1 0-2-1 2 0 3-2-1-2 0 0 0 0-3 0-1-2 3-1 1-1 0 0-2 0-1-2 2-2 1 0-2-1-2-1 0-1 3-2-1-1-1 0 3-2-3-1-1 0 1 0 1-1 0-1 0-1 0-1 0 0-1 0 2-1-2-2 1-1-1-3 0-3 4-3 0-1-1 0 1-2-1-2 1 0 0-1-2-3 2-1 0-10-4-4 3 0-2-2-2-6 9 5 1 2-1 1 0 1 2 2-3 2 1 1 1 2 0 4-2 5-1 2-1 2 0 0 2 0 1 2 0 2-1 0 1 1-3 2 4 1-4 3 0 1 3 2 2 3-5 0 4 3-2 1 2 1-2 1 2 1-1 1 0 1-3 1 2 1 3 3-2 1-3 1 3 2-3 1 4 0-3 1 2 1 1 0-1 0-2 1 2 1-1 1 1 2 1 1-2 2 2 0 1 0-3 1 0 0-2 2 3 0 0 0-1 1 1 1-2 0 1 0 1 2 0 0 0 2-3 1 4 1 0 1 1 0-5 1 2 0-1 0 1 3 0 2-2 1 3 0-1 0 3 1-3 1 3 0-1 1-4 0 2 0 1 0-2 1-1 0 3 1-2 0-1 1 0 1 3 0 0 1-3 0 5 0 0 1-2 1 1 1-2 0 3 2-3 0 1 0 1 0 0 1-4 0 4 2-3 1 3 2 1 1-1 1-2 0 1 1-1 1-2 1 4 0-4 1 0 1 3 1-1 0 0 1-2 0 3 0 1 1-3 0 4 1-4 1 3 2-4 0 0 1 0 0 5 1-2 0-3 1 3 0-3 2 5 0 0 0-1 1-3 1 4 0-2 0 2 1-5 1 0 0 1 2 0 0-1 1 0 0 0 2 4 1-3 1 1 2-2 1 5 0-1 0 1 1-3 0 0 3 0 0 1 2 0 0-1 3 2 1-2 0 1 0 1 0 1 1 0 0-3 0 2 2-2 0 3 0-3 1 1 0-2 1 1 0 1 1 2 2-2 1 2 1-5 2 2 0 0 1-2 2 3 0-2 1 3 0-4 1 5 0-3 0-2 1 1 1 1 0-2 1 4 0-4 1 2 3-2 0 3 2 0 1 0 1 1 1 0 1 0 3-3 1-1 0 5 0-3 1-2 1 5 0-3 0 3 2-2 1 1 1-4 2 5 1-3 0 0 0 1 1-1 1 1 1-3 0 5 0 0 5-2 2-3 1 0 2 2 0 3 1-2 1 2 2-3 0-1 1 3 0 0 1 0 2 1 1-4 0 1 2 0 0 2 1 1 1-5 0 0 0 5 1 0 0-5 1 0 1 0 1 4 1 1 1-2 2 0 0-1 1-2 0 3 1 2 0-1 2-2 0 0 1-1 1 0 0 0 4 1 1-1 0 2 1-3 0 5 0-4 1 2 2 2 3 0 3-2 0 2 1-5 1 1 1 1 0 2 0 1 0-2 1-3 0 4 1-3 0 0 2 3 0-4 1 2 0 3 2-4 0 2 3-2 0 3 1-2 2 3 0-2 1-1 0 2 1-3 2 1 1 1 1-1 1-1 0 0 0 3 4 1 0-4 1 3 0-3 0-1 0 1 1 2 1-1 2-1 2 1 0-1 1 2 1 1 1-3 0 1 3 1 0 2 0-1 1-4 0 2 1 2 0-3 3 2 0 0 0 1 1 0 1 0 1-2 2 3 2-1 2-3 0 3 3 0 1 1 1-2 2-2 3 3 1-2 1 2 0-4 0 5 3 0 0-1 0 0 1-3 1 0 0 3 1 0 1 0 1 0 0-3 1 3 1-2 0 2 1-2 0 2 0-2 0 2 1-2 1 0 1 3 1-3 1-2 1 2 0-2 0 3 2 1 0 1 1-4 0 3 1-1 0 1 1 0 1-1 0 2 1 0 0-2 1-2 0 0 2 1 1 0 0-1 1 2 0-1 0-2 1 1 1 2 0 0 1-1 0 3 0-4 3 0 0 3 1-3 1-1 3 3 2-3 0 3 0 1 1 0 0-4 0 4 0-4 1 4 0 0 2-4 1 3 1 0 0-1 2 2 1-4 1 5 0-5 2 4 0-3 0 0 1 0 0-1 2 4 0-4 1 1 2 4 0-1 1-4 0 0 0 1 0 1 3 1 1-2 0 2 3-2 0 2 1-3 1 5 0-3 1 1 0-2 1-1 1 3 1 1 1-4 0 4 1-4 1 0 0 1 0 2 1 2 1-4 0 2 1-3 1 3 2 1 3-3 0 3 1-3 1 2 0-1 1 0 0 1 0 2 0-4 0 2 1-1 0-1 1-1 2 4 1-1 0-2 0 1 1 3 0 0 1 0 0-2 0 2 0-3 2 0 2 3 1-2 1 0 0 1 1-1 1-2 2 0 1 0 1 0 0 3 1-3 1-1 0 4 1 0 1-4 0 1 0 1 0 2 1-4 0 0 1 1 0 0 0 1 3 2 0 1 0-5 0 4 1-2 1 1 0 1 0-2 1 3 0 0 0-1 1-2 2 0 1 3 0-1 0-3 0 1 1 1 0-2 0 1 0-2 0 0 1 4 0-3 0 1 0 3 2-2 0-1 2-1 1 1 1 2 0-4 0 0 1 5 0-5 0 3 0-1 2-1 0 4 0-4 2 1 0 1 0-1 1-2 1 4 1-1 0 2 2-5 0 4 0-3 1 0 0 4 2-1 0-1 0-2 2 2 0 2 0-4 1 2 0-3 1 4 0-1 1 1 0-2 0-2 1 4 2-3 0 2 1-1 1 3 1-2 0-1 1 0 1 2 0 0 1-4 1 1 3-1 1 5 1-3 1 0 1 1 1-1 0 3 5-3 2 2 1-2 4 4-3 3-4 0 0-1-1 3 0-1-2-1-2-3-1 4-2-4 0 5-2-1 0-3 0 1-1 3-2-5 0 2-1-2 0 3 0 2-1-2 0-1-1-1 0 4-1 0 0-3 0 3-1-3 0 2-1-4 0 4 0 0-1-4 0 2-1 2-1 0 0-2 0 3-1-4 0 1-1-1-1 1 0 1-1 0 0 2-1-4-1 4 0-2-1-3 0 4-1 1-1-2 0 2 0-3-1-2 0 4-1-2-1 1-1 2-1-1-2-1 0 1-1-3 0-1-1 2-1 3 0-4 0 3-1-3-2 2 0-2-1-1 0 0-1 4 0-1 0-1-1 0 0 1 0 2-3-1 0-2 0 2 0-3 0 2 0 0-2 2 0-2-3 2-1-1 0-3 0 4-1-3 0-2 0 3 0-3-2 3 0 2-1-1 0-1-1 2 0-3 0-1-1 0-1 1 0 1 0-2-1 3 0-4-1 5-2-5 0 5 0-3 0-1-1 0-1 3 0-2-1 2 0 0-1-2-1 3 0-2-1 0-1-3 0 4 0 1-2-5-1 5 0 0-1-4-3 2 0 2 0-5-1 0 0 1-1 4 0-1-2-2-1-1-1 4 0-2 0 1-1-1-1-1-1 3 0-3-1 3 0-2 0-3-1 3 0 0-1-1 0 3-3-1-1-1-1 1-1 0-1-1-1-2 0-1 0 2 0 3-1-1 0-2 0 1-1-1 0-2-1 3-1 1 0 0-1-1 0 1-1 0 0 0-1-4 0 2-1 3 0-5-1 3-1 1-1-2-1-2-1 1 0 0-1 0 0 2-1-3-1 2 0 2 0 0-1-1-2 0-1-3 0 4 0 0-1-3 0 4-1 0-1-3 0 3 0-3 0 3-1 0-1-5-1 2-1-1 0 4 0-3-1-1-3 2 0-3-1 2 0-2-1 2 0 3 0-4-2-1-1 1-1 2 0-3-1 5-1-2 0-3 0 0-1 3 0-1 0 1-1 1-1 1-2-4-1 4-1-2 0-3-1 4 0-4-1 0 0 5-2-5 0 4-1-3 0 4-1-5-2 4-5 1 0-5 0 3-1 0 0 2-3 0-1-2-2-1 0 1-1-3-1 1-1 3 0-2-1-1 0 3 0-1-2-2-1 0 0-1-1 5-1-1-1-1-1-1 0 2 0-3-2 1-1-2 0 4-1-3-1 1-2-2-2 0-1 2-1-2-1 0-1 2-1 1-1 0 0-1 0 0-1 2-1-2-2 1-2-1 0 1 0-1-1-2 0 0-2 4-1-2 0-2-1 3-2-2-1 0-2-1 0 4-2-4 0 3-1 2-1-2-2-2 0-1-1 4-2-3-1 0-7 3 0-2 0-2-1 0 0 5-2-3 0 3-3-2-2 1-1-1 0 0-1 2-1-5 0 4 0-2-2 3-1 0 0-1-1-1-1-2-1 4-2-2-2 0-1 2 0-4 0-1-2 1-2 3-1-2-1 1-1-2 0 4-1-4-1 2 0 0-1 2 0-3-1 3 0-2-3 0-1 2-1 0 0-2-2-3 0 5 0-2-1 0-1-2-1 0 0 4 0-5-2 5-1-3 0-2-1 5-1 0-1-4 0-1-1 0-1 5-2-1-1-2 0 1-1-1 0 3 0-2 0 2-2 0 0-5-5 3 0 2-1-2-1-3-1 0 0 4-1 1-1 0-2-5-2 1 0 0 0 2 0-3 0 3-1 1-1 0 0-3-1-1-3 5 0-2-1-3-1 3 0-3-2 3 0 0-3-1 0 0 0 2 0-4-1 1-1 4 0-2 0-2-1 2 0-3 0 2-1-2-1 4-1-3 0 1-1 2 0 0-2 1 0-4-2 4 0-2-1 0 0 2-3-1-2-3-2 2 0-1-1 3 0-4-3 3-3 1 0-1 0-1 0 0-1 0 0 2 0-4-1-1 0 4-2-4-1 0 0 5-1-1 0-1-1 1 0-4-1 3-1 1-1 1 0-4 0 1-1 0-2 2-1 0-1 1 0-4-1 0-1 3 0-1-1-3-2 2-1 1-1-1-2 2-1-1-1-3 0 4-1-2-1 1-1-1-1 1-1-2 0 3-2-3-1 0 0 0-4 3-1 0 0-3-1 4 0-5-2 3-1 0 0 0-1-3-1 1 0 1 0 0-1-1-1 0 0 2 0 2 0-1 0 0-1-3 0 4-2 0 0-3-1-2-1 4 0-3-1 2-1 2 0-3 0-1-2 4-1-2 0 1 0-2-2 3-1-5-3 3 0 0-1 1 0-2 0 0-1 1-2 1-4-4-2 1 0 3-1-4 0 3-2 2-2-3 0-1 0 3-1-4-5 4-2 0 0-2-2 2-5-4-4 1-1 2 0 1-1-2 0 0-1 1 0-2 0-1-1 4-13-1-1-3-3 1-3 4-1 0 0-3 0 3-1-4-2 2-4-3 0 2-1-1-1 4 0-2-4 0-5-2-2-1-2 1 0 4-2-1-1 1-9-1-10 7 2 0 4 0 7-2 2-2 3 0 1-1 2 1 0-1 1 4 1-2 4 2 0 1 5-2 1-1 2-1 1-1 0 4 1 0 1-2 2-2 0 1 0 1 1-1 1 1 2 0 1-1 2 1 4-1 4 2 2 2 2-1 0-4 1 3 0-2 2 0 0-1 1 0 2 4 1-2 0 1 3-2 1 1 1 2 1-2 1-1 2-1 0 1 2 3 1-4 1 3 1-1 0 0 3-1 3-1 1 2 0 1 0-1 1 2 0-4 1 0 2 1 2 3 3-1 1 1 0-4 2 1 1-1 0 1 1 2 2 1 0 0 0-2 1 0 0-1 2-1 0 3 0 1 1-3 0 2 1 1 1-4 0 3 0-3 1 3 0 0 1 0 2 0 1-1 0-2 0 3 1 1 0-1 0 2 1-1 2-2 0 0 1-2 0 1 1 1 0 1 2 1 0 1 1-5 0 2 1 1 0 2 1-2 1 1 0-3 1 3 0-2 0 3 3 0 2-2 0-3 1 5 0-4 1 1 1-1 0 4 1-3 2 0 1 0 2 2 1-3 1 2 1-3 0 1 0-1 1 0 2 5 1-5 0 1 1 2 1-2 1 1 1 1 1 0 2 0 0 2 2-2 0-3 1 0 1 0 0 4 1-2 0-1 0 2 0-3 3 4 0 1 2-2 2-3 0 5 1-4 0 3 1-4 0 0 2 2 3 0 1 2 2-3 0 3 2-1 1-2 0 2 1 1 1-4 0 5 1-4 1 1 1 2 1 0 1-4 0 3 0 2 1 0 0-5 1 4 0-1 1 0 1 1 1-3 1-1 1 1 1 3 1-1 0 0 2-1 0 0 1 3 1-2 1 2 1-2 2-1 0 0 1 3 2-1 0-1 1-2 1 0 0 4 2-2 3-3 0 3 1-2 1 0 1 4 0-3 1 1 1-3 1 0 0 4 1-3 3 4 1-4 1 0 0 0 1 1 1 2 1-1 0-1 0-2 0 0 1 2 1 0 0-1 1 0 2 4 0-5 0 1 1 3 0 1 1-2 1 2 0 0 1-2 1-2 1 3 0-2 0 3 1 0 0-4 1 3 1-1 2 2 2-2 1-3 0 0 2 1 8-1 0 4 1-1 0 2 2-1 0-1 0 0 0-3 1 5 2-4 3-1 1 5 1 0 2-3 0-2 1 0 1 3 0 1 1 0 0-1 1-1 1-1 0 3 0-2 0 2 1-1 3 1 1 1 1 0 1-2 0-1 1 3 0-1 2 0 1-3 4 3 0 0 0 0 1-3 0 0 1 1 0 2 4 0 1-4 0 2 5 0 0 2 1-3 1-1 0 2 0 0 1 0 1 0 2 0 0 0 1-1 2 4 0 0 0-4 1 1 2 2 0-3 1 1 0 2 1-3 2-1 0 3 1 1 1-3 1 0 3-1 0 0 1 2 0-2 3 4 0-1 1-2 3-1 1 0 1 2 0-1 1 1 1-1 0 2 1-1 1 3 1-5 1 2 0 1 1 1 0-1 2-2 0 4 1-4 3 4 0-5 4 4 0-3 3 2 2-2 0-1 0 5 1-4 1 0 1 4 0-1 2 0 1 0 0-1 0-1 1-2 2 4 3-4 0 0 0 2 1 2 0-2 1 3 1-5 0 1 0 4 1-2 1-1 0 2 1 0 0-4 1 4 2-1 0-3 1 2 0-1 0 3 0-3 1 4 1-5 0 4 3-4 1 1 0-1 1 5 0-1 1 1 0-4 1-1 1 0 0 4 0-2 1 2 1-4 1 3 2 2 1 0 1 0 1-5 0 1 2-1 1 2 0-1 2 0 0 1 2 3 0-1 1-4 0 5 1-2 1 2 0-1 1-2 0 2 1-2 0 0 0 1 1-1 0 0 0 2 1 0 1-4 1 1 0 0 0 0 1 0 0 4 1-1 0-4 0 1 1 1 0 0 1 3 0-4 0 1 0 3 1-2 2-3 0 5 1-1 2-4 0 1 0 4 1-5 1 4 0-3 1-1 1 5 0-5 2 2 2 0 0-2 0 4 3 1 0-3 1 2 0-1 2-1 1-1 0 0 1 1 0 2 1-4 1 2 0 1 1 1 0-3 2 0 0 1 0 3 3-2 0 2 0-4 1 2 0-1 0 2 0-3 1 3 0-3 0 0 1 0 0 1 2 2 0-1 0 0 1-3 0 3 1-2 1 4 0-4 1 1 0-1 1-1 0 4 1 0 0 1 1-4 1-1 0 5 1 0 0-4 2 2 1-3 1 2 1-1 1 1 2-1 0 3 0 1 1-5 0 2 0 2 0-2 1 2 1-4 1 3 0-2 0 1 1 3 0 0 0-3 1 3 1-2 0-1 0-2 1 0 0 0 1 0 0 4 1-4 1 1 0 0 0 4 1-4 1 2 1-1 1 2 0-3 1 1 0 3 4-5 0 4 1-2 1-1 0 4 0-3 0-1 1 3 1-2 2 3 0 0 0-2 1-2 0 2 2 0 2-3 1 3 1-2 4 3 1 0 2-1 0 0 0-3 2 1 8 6-6 0-1 2 0-1 0-1-1 1 0 3-2-1-1 0-1-3 0 4-1-3-2 1 0 1-1-2 0 1-2 2 0-3 0 3-1-2-1 0 0-3-1 4 0 0-1-4-1 3 0 0 0-3-1 3-1-2 0 3-1-3 0 0-1-1-1 4-1-2 0 1 0-2 0-1-1 3-1-2 0 4 0-3-1 1-1-3 0 5 0-4 0 3 0-3-1-1 0 3-2-2-1 3 0-4 0 1 0 4 0-4-2 2 0-3-1 0 0 5-2-1 0-1 0-2-1 3-1-4 0 1-1 3 0-4-2 4 0 1-1-3 0-2-1 2 0 0-1 2 0 0-1-3 0 0 0 4 0-5-2 5-1-5 0 2-1 1-1 2 0-3 0-2-1 0 0 5 0-4-1 4-1-2 0 2-1-4 0-1-2 0 0 4 0 0-1-3 0 3 0-1-1-2-1 2-1-3 0 2 0 3 0-2-1 1 0-2-1-2 0 3 0-3-1 3-1 1 0-4-1 5 0-2 0-1 0-1-1 1-1-1-2 3-1-1 0 1 0-4 0 3 0 1-1-2-2-2-1 5 0-2 0 1-1 1 0-2-1 1 0-2-1 3 0-1 0-3 0 1-1 1 0-1-2 1-3 1 0 1-1-3 0-2 0 1-2 2 0 0-1-3-1 1 0 0-1 0-2 1 0 0-1 2 0-3-1 3-1 1-1-4 0 1-2-1-1 3 0-3-2 4 0-3-1-1 0-1-1 4-2-1 0 0-1-3-1 0-1 5 0-2 0 1-1-1 0 1-1-2-1 3-3-1-2-3-1 3 0-2 0 2-1-1 0-3-1 2-1 2-1 0-1-1-2-3-1 3-3 0 0 2-1-1-2 0-3-2-1 3-2-5 0 3-4-2-1 0 0-1 0 3-2-3-1 5 0 0-3-3-1 3 0-5 0 1-1-1-1 3 0 0-2 2 0-5 0 1 0 2 0 2-2-2 0 1-4-2 0-1 0 1-1-1-1 2 0-2-2-1 0 3-1-3-1 1-1 1-2-1-1 2-1-2-3 4 0-3-1-2 0 2 0 2 0-2-1 0-1-1 0 4-2 0-1-2 0 1-1-4 0 4-1-3-1 0-2 0 0 0-2 4 0-5-4 0-3 5-1-2-2 0-2-3-1 5 0-2-1 2-1-4-3 1 0-1-1-1 0 4 0-3-1 3-1 0-2 1 0-4-3 2-1-1-1 3-1 0-1-3-1 1-1-2-1 4-3-4-1 2 0 0 0-3-1 0 0 4-1 0 0 1-1 0 0-1 0-4-1 4 0-1-1-2 0 1-1-1-1 0-1 2 0-1-3 1-1-3 0 0-1 4 0-2-4 0-1 0-1-2 0 5 0-3-1 3-2-5-1 2 0 3-2 0-1-2-1 1 0-4-1 3-2-2-1 4 0-4-2 3-1 1-1-1-1-4 0 3-2-3 0 3-2 1 0 1-1 0-1-1 0-4-3 4 0-3-2-1-1 1-1 1-1-2 0 3-1 0 0-2-5 1-1 0 0-2-2 5 0-1 0-4 0 3 0-2 0 1-1 2-1 1 0-4-3 1-1 3 0-1 0 1 0-5-1 0-1 2-1 3-1-1 0-3 0 0-1-1-1 0-1 3-1-3 0 4-2 1 0-4-1 2 0 2-2 0-1-5 0 4 0 1-2-2-1 0 0-2-1 2 0-1-1-2-1 0-1 4-1-1-1-3 0 2 0-1 0 4-2-5-1 2-4 2-2-3 0-1 0 3-1-2-2 1 0 2 0 1-2-5-1 0-1 4-4-3 0-1 0 0 0 4-1-3-1 3-4-2 0-1-2 1 0 2-1 1-1-3-1-1-3-1 0 5-1-2-1 1-1-1-1 1 0-2-1 2-1 0-1 1-1-2 0 1 0 0-4-1-1 0-1-1-1-2 0 1-1 2 0 0 0 1-1-4-1 5-1-4 0 4-1-5 0 2 0 0-1 0 0-1-1 4-3-5 0 4-1-3-1 1-1 0-2 1 0-2-2 4 0 0-1-2 0 1-1 0-1-2 0-1-1 3-2-3-2 4 0-4-1 3-1 1-3-2 0 2-1-4 0-1 0 5-2 0 0-5 0 5-1-3-1 1 0 1-1-3-1 2 0-3-2 4-2-4 0 2 0 3-1-1-1-1-1-3-1 3 0-2-1 3-1-3-1-1 0 2-4 1 0 1-1 0-1 1 0-5-1 3 0 0 0 0-2 1-1-2 0 1-1-3-2 0-1 0 0 2-1 1 0 0 0 1-1 1 0-3-2 2 0-3-1 2 0 1-1-1-6 2 0-2 0 0-2-1-1-2-2 1-1 1 0 3-2-3-6 1-5 2-5-2-1-2-2 0-3 0-1-1-3 5-6-2 0-3-1 4-1-4-1 5 0-5 0 5-1-1-1-1-3 1-1-2-1-2-1 2-1-1 0 0-5 0 0 2 0 2-1-5-2 1-1-1-2 2 0 3-1-2-1 1 0-3-2 1-8 2-1-3-8 1-5-1-1 10 2-2 3 2 1-1 3 0 0 1 2-2 3 1 1 1 0-3 1 1 4-3 6 2 0 2 2-4 0 2 0 3 0 0 1-4 0 2 1 0 0 0 0 2 1-5 1 1 0-1 7 5 0-2 1-1 1 1 1-1 0 2 1 0 2-1 1 1 3-1 2-2 0 3 1-1 0-1 1 3 1-3 1 2 0-1 0 0 1-2 1 0 0 2 0-3 3 1 1 1 0-1 3 3 6-1 1-1 5-2 2 3 6-3 8 2 0-1 1 3 5-4 3 1 3 1 0 1 1-1 5-1 0 0 1 2 0-1 1-2 0 3 1-3 0 4 2-2 1-2 2 2 1 2 1-4 1 4 0 0 1-4 1 2 0 1 1 0 0-3 0 1 1 4 0-4 1 0 1 4 1-1 1-3 0-1 1 2 3-1 0 1 0 2 1 1 0-1 0-2 1 0 1-2 1 2 0 2 2-3 0 3 1 0 2-4 0 5 0-2 1 1 1 1 1-3 0 0 0-1 1 0 1 2 0-2 1 3 0-2 0 1 2 0 3-1 3-1 1 0 0 4 0-5 1 1 1 0 1-1 0 1 1 2 1 2 0-5 0 5 2-4 0 4 1-3 1-1 0 2 1 1 0 0 1-1 1-1 0 0 0 1 2 1 0-3 2 4 2-1 1 1 0-3 1-2 0 3 1-3 1 1 0 2 1 1 0-4 2 4 1 0 1-4 1 1 1 4 0-3 2-1 0 3 0-2 1-2 0 1 2 2 1-1 1-2 0 4 1-2 1 3 0-5 2 1 1 1 0 3 0-3 0-1 0 0 2 0 0-1 1 3 1-1 0 3 1-3 0-2 0 1 0-1 1 1 1 3 2-2 0 2 1-1 1 2 0-3 0 0 0-1 2 1 0 1 1 1 1-2 0 2 2-3 1 0 0 2 1 0 1 0 4 0 1 0 1-2 0 1 0 1 0 1 1-1 1-1 2 1 4 0 0-3 1 2 0-2 0 3 1-2 1 4 0-2 2 1 0-3 0 2 1 1 1-1 0 2 1-1 0 0 0 0 2-1 4 2 1-2 3-3 0 5 0-3 2-1 0 4 1-5 1 3 2-2 0 2 0 2 0 0 1 0 0-1 1-2 1-2 2 2 1-1 2 1 2-2 1 0 0 0 1 0 1 4 1-1 2-1 0 1 1 1 0-4 1 1 0 2 0-3 1 5 1 0 1-5 0 5 2-5 0 2 1 0 0 3 1-5 3 3 4 1 0-1 1 0 0 2 6-3 3 1 1 1 1-4 1 5 1-3 2 2 1 1 0-4 1 0 0 4 0-3 1 3 1-5 3 1 0-1 0 5 1-4 0 1 2 1 1-2 1 1 0 1 1-3 2 2 1-2 0 3 1-1 1 1 1-3 0 5 6-3 2 0 0-1 1 1 2 2 0-4 2 4 0-1 1 0 1-2 0 1 1 3 1-5 2 5 0-1 3-1 1 0 0-3 1 1 1 2 0-3 1 5 3-1 0-2 2-1 1 4 0-4 1 0 0 2 2-1 1-1 0-1 0 1 1 4 1-3 1 3 1-2 1-1 2 2 0-2 3 0 0 2 0-2 2 0 1 2 1-2 1 1 1-3 2 5 0-5 0 3 0-1 1 0 1-2 1 2 0 2 1 1 4-2 0-3 1 4 0-4 1 1 1 0 1 3 0 0 1-1 1 2 2-1 1-4 1 0 0 5 1-2 3 0 0 1 0-2 1-2 2 4 0 1 1-3 1 1 0-2 1 2 0-3 1 5 0-1 1-1 0-2 0 0 1 4 0 0 1-3 1 1 0 0 2-3 3 4 0-1 0-1 2-1 0 2 0 1 1 0 0 0 0-4 1 2 1-2 1 0 0 3 1-3 0 0 1 1 1 0 0-1 1 1 0 0 2 2 1-2 0 4 1-2 1-1 0 3 1-4 1 3 2-2 0 2 1 0 0-4 0 2 1-1 1 3 0-4 0 4 1-3 1 1 1 1 0 2 1 0 1-3 0 1 0 0 0 2 1-4 1 2 0 0 1-2 1 4 1-3 1 0 0 2 1 1 0-4 1-1 0 5 0-3 0 0 0 1 1-3 1 5 1-4 0 3 1-2 0-2 1 1 0 2 1-1 1-2 0 3 1 1 0 1 2 0 0-3 0-1 2 0 1 2 1-2 0 4 2-2 2 0 1 1 1-4 0 0 1 3 0 1 0 0 1 1 0-5 0 2 1-1 1 3 1-4 0 1 0 2 1 1 1-3 1-1 0 3 0-1 0-1 3 4 0-5 1 5 0-3 1 2 0-1 1 0 0 0 0-1 1-2 0 1 0 1 1 2 1 1 0-5 0 5 0 0 1-2 0-2 2-1 1 2 0 1 0-1 1 0 0 3 1-4 0 3 1-3 1 1 1 1 1-2 0 0 0 2 0 2 1 0 0-3 0 1 1-1 0-1 0-1 0 2 0-2 1 2 0 3 0-1 0 0 0-1 1 1 0-4 0 1 2 3 0-2 2 2 0-3 3 0 0 2 0 1 0 1 1-4 0 0 0 1 1-1 2 2 1-3 0 5 1-4 0 1 1 2 1-4 1 4 0 0 1-4 3 4 1 1 0-3 2-1 0 2 5 4-2 2-1-3-1 0 0 5-1 0-1 0 0 0 0 0-1 0 0-4-1 3-2 0-1 0 0-2 0 0 0 1-1 1 0-2-1-1 0 1-1 3 0-5 0 2-1 0 0-1 0 4-1-3 0 0 0 3 0 0 0-1 0-2-1 2-1 0 0 0 0-2-1-2-1 0-1 5-1-1 0-3-1 0 0-1-1 4 0-2-1-2 0 0-1 1 0 3 0 0-2-1 0 0-1-2 0 3 0 1 0-2-1 1 0-2-1-2 0 1-1 3-1-2 0 3-1-4-1 3 0-4-1 5 0-4-1 0-1 0 0-1 0 0-1 3-1 1 0-2-1 1 0 1-1 1 0 0-1-4 0 1 0-2-1 5-2-1-1-2 0 1 0-2-1 0 0-1 0 3 0-3 0 3-1 2-2-2 0 1-1-3 0 0-2 0 0 2-1 0 0-3 0 3-2-1 0 0 0 0 0 3-1-4-1 3-1-3 0 4-1-3 0-1-1 2 0 0-1 0-1 1 0 1 0-2-1-1-1-1 0 4 0-3-1 0 0 0-1 0-1 2 0 1-1-5-1 3 0 0 0-1 0 1-1-3 0 5-1-1 0 0-1-1-1 0-1 2-1 0 0-2-1 0-1-3-1 2 0 2 0-3-4 2-1-1-1 3-1-1-1-1-1-1-1-2-1 2-1-1-1 4 0-4 0-1 0 0 0 0-1 3 0 2 0-1-1-2-1-1 0-1 0 5 0-1 0-1-1-3-1 2-1-1 0 1-2 2-1 0-1 1-1-2-2 0 0-3-1 2-2 2 0 1-1-1 0-3-1 1-2 0-1 0-1-1 0 4-1 0-1-5 0 1 0 1 0 0-1 2-1-3-1-1 0 0-3 2-2 0 0-2-1 2 0 1-1 0 0 0 0-1-1-1 0 0 0 2-1-1-2 3 0-3-1 1-2 2 0-3 0 2-1 1 0-3 0-2-3 3 0-2 0 0 0 0-1 4 0 0-1-2-1 1-1-4-1 3 0 0-3-2 0 0-1 0-1 4-2-5-3 0-1 1-1 4-1-4-2-1-1 3 0-1 0 1-1 2-1 0-3-3-1 2-1 0-2-1-1 1 0-3-1 2 0 0-1-3 0 0-2 1-3 1-1 2-3-3 0 3 0-3-1 4-1-4 0 2-1-1 0 0-1 3-2-2-1 2-2-4-1-1-2 1-1-1 0 3 0-2 0 1-1 3-1-4 0 1 0-2-4 0-2 1-1 0-4 1-1-1-1 3-4-3 0-1-1 1 0 2-2 2 0-2-1 2-1-3 0-2-1 0 0 3-1-1-1-2 0 2-1 3 0-5-1 4 0-4-1 1 0 1-1 2-1-1-1 2 0-3 0 1-1 1-2 0-1-4 0 1-3 1 0 1-1 2-1-4 0 1-1 1-1-1-1 1 0-2-1 2 0-2-3 0-2 1 0 0-1-1-1 1-1 2 0-3-1 0-1 0 0 2 0 0 0-1-1 3-1-2-1 1-1-4 0 0-3 1 0 2 0 0-1-1 0 3-1-2-2-2 0 2-1-1-1 1 0 2-1-5-2 2 0 2-2 1 0-2-1-2 0 2 0 2-1 0-1-3 0 2-2-1 0-2-1 4-1-4-2 0 0 4-1 0 0-2-2-3-2 3-1-1 0-2-1 4-1-2 0 1 0 0-2 1-2 0-2 0-1-4 0 5-1-2 0-3-1 0 0 4-2 1 0-2-2-1 0 0 0 2-1-1 0 0-2-2 0 1-2-2-3 3-1-2-1 1 0-2-1 1 0-1 0 1-1 4-1 0-1-1-1-4 0 5-1-1-1-2-1 3-1-4-1 1 0 3-2-2-1 0-2 1-1 1 0-4 0-1 0 3 0 1-1-1 0-1 0 3-1-2 0-3 0 4-2-1 0 2-4-5-1 0-2 2 0-1 0 3-1-4 0 1 0 2 0 1-1-1-1 0-1 1-1-2-1 3 0-5-1 5-1-1 0-4 0 3-2 0 0-2-1 4 0-5 0 5 0-3-1-2 0 5-1-2 0 1 0-1 0 0-2 0-1-1 0-2 0 1-1 1 0-1 0 1-1-2-1 2-2 0-2 3 0-2 0 2-1-3-1 3 0-1-3-2-2-2-1 1-1 2-1-1-1-1 0 3-1-4 0 5 0 0-1-5 0 2 0 1 0-1-3 2-1-4 0 0-1 5 0-3 0 3-1-5 0 0-2 5 0-1-3-3 0-1 0 5 0-5-3 1 0-1-1 5 0-3-1-2-1 2 0 3-1 0-1-2-1-1 0 1-1 2-1-4 0 1-1 3-1-4 0 2-1 2 0-3 0-1-1-1-2 2 0 1-1 0-1-3-1 3-1-3 0 2-1 3-1-4-2-1-1 3-2-2 0 2-1-2-4 2-10-2-1 3 0 0 0 0-1-3-2-1 0 1-27 3-1-2-1 2 0 1-7 0 0-3-4 3-2-1-4 1-2-3 0 2-1 1-2 0-6-5-3 5-3 0-4-5-7 2-1 3-1 0-1 0-1-5 0 0-1 3-1-3-1 3-1 2-1-1-3-4 0 5-5-1-2-3-1 0-1-1 0 2-3 3-1-2-1 2-2-5-8 8 5 1 0 2 2-1 0-3 1 4 1-2 0 2 1-5 0 3 2 0 0 2 1-5 0 5 3-3 0 1 1 1 0 1 1-2 0 0 2 2 1-3 1-2 1 2 1-2 0 2 1 0 1-2 4 2 1 3 0-5 1 2 1 3 3-4 2 1 0 0 4-2 1 0 0 2 1 1 2-2 1 2 3 0 3 1 4-3 0-1 0 0 0 0 2 4 0-3 1 2 1-1 0 3 8-4 1 4 1-1 5 1 0 0 2 0 5-3 5-1 2 0 3 4 7-2 10 0 0-2 1 4 1 0 14-2 1 2 2-4 3 1 1-1 0-1 2 2 0-1 0 3 0-4 2 4 0-3 1 3 0-2 2 2 2 1 2-3 1 0 0 3 0-3 1 0 2 0 0 0 1 2 0 1 0 0 1-4 1-1 1 2 1 1 0-2 1 0 2 2 2-2 1 4 1-5 1 0 1 3 0-3 1 0 1 5 0 0 1-1 0-1 2 0 0-2 1 3 3-2 3-2 4 5 1 0 1-5 0 4 1-3 0 2 1-2 2 3 1-3 2 2 2 1 2-1 1-1 1-2 1 5 0 0 1-1 2-2 0 3 0-5 4 0 0 2 1-2 0 2 2 3 2-1 1-2 1-1 1 3 0 1 1-2 0-3 2 4 1 0 0 1 1-1 3 0 0-2 1 0 1-2 1 2 0-1 3 1 1-1 1 2 1 0 1-1 1 0 3 2 0-3 1 3 0-3 2 1 2 3 0-2 1-2 0 2 0-1 1 0 1 0 5-2 2 0 0 1 2 0 0 0 2 2 1 2 5-4 3 0 0 2 0-1 1-2 0 2 1 1 1 0 0 1 3-4 1 3 1 2 0-1 1-1 0 0 0-2 1 1 0 1 1 1 3 0 1-3 0 4 1-4 2 2 1-2 0 0 3 0 2 3 1-4 1 4 0-4 1 4 0-4 0 1 4-1 1 2 0 3 1-5 0 1 2 2 1-2 1 3 0 0 0 0 0 1 1-2 1-1 0 0 2-2 1 2 3-2 0 4 0 1 1-4 1 3 0 0 0 0 0-3 0-1 2 1 0 0 1-1 0 5 3-5 0 5 1-4 1 1 0 1 0 0 1-1 1 1 1 2 0-2 0-1 2-2 1 3 0 1 2 0 2-4 3 0 1 1 1 3 0-2 1 0 1-2 5 5 1-3 0 3 1-3 1-1 0 1 1-1 0 2 0-2 0 1 2-1 0 0 0 3 0-2 1-2 0 4 2-3 5 2 4 0 0-2 0 1 0 0 2 0 2-2 0 5 1-2 1-2 1 1 1 2 1-3 1 1 1-2 0 2 0 3 1 0 1-3 0-1 0 0 0 4 1-5 0 3 0 2 1-2 1 0 0-2 0 2 1-3 1 4 0-2 1 0 0 1 1-3 0 1 0 2 1-1 0 2 1 1 0-4 0 3 1 1 0-2 1 1 2-1 1 2 1-1 1 1 1-3 0-2 0 5 1-1 0 0 2-1 0 0 1 0 1-1 3 3 1-1 0-4 1 4 0-3 0 1 1-2 0 5 0-4 0 2 1 1 0-2 1 3 0-4 0 4 1-1 1-2 0 0 2-2 0 4 0-4 0 5 1-5 1 5 1-1 0-1 1 1 2-3 1 2 0 2 1 0 1-1 1-3 0-1 0 1 2 1 0-2 1 1 0 1 1 0 1 2 1-3 1 1 1 0 1 3 0 0 1-5 1 4 1 1 1-5 0 4 0 1 1 0 0-4 0 4 1-5 1 1 1 4 1 0 0-4 1 3 1-2 0 2 1-2 0 1 0 2 1-2 1-1 2 1 0 0 1-2 1 3 1 0 0-1 2 1 1-4 0 1 0 0 0 1 1-1 2 0 5 1 2 3 0-3 1 3 0-5 1 5 1 0 0 0 1-4 0 4 1-1 0-4 2 4 1-4 1 1 0 2 2-3 0 2 1 1 0 2 0-3 1 1 0 0 0 2 1-3 0-2 1 1 1 0 1 2 0 0 1-1 0-1 0 3 1-4 0 4 1-4 0 2 1 3 1-3 0 3 1-3 0 3 1 0 0 0 0 0 1 0 1-3 0 0 0-1 2 0 0 3 1 0 0-3 0 0 1 4 1-3 0 2 1 0 2-3 0 1 1 2 0-4 0 0 0 0 2 5 0-1 1-4 1 0 0 2 1 3 1-3 0-1 1 4 0-1 0-1 1 0 0-2 0 1 1 0 2-2 1 3 1 0 0-3 0 1 2 1 0 2 0 0 1 1 0-4 0 1 1 0 1 2 0 1 1 0 0-2 1 1 0-4 1 2 0-2 1 3 0-1 1 1 0 1 0-3 0 1 1 0 0 2 1-2 0-2 0 2 1 3 1 0 0-4 1-1 0 3 0 2 2-3 0-1 0 2 0-1 1 2 0 0 0-2 1 2 0-2 0-2 1 5 1-1 0-1 0 1 1 0 0-2 0 1 1 1 0-3 1 4 0-2 1-2 0 4 1-4 0 1 0-2 0 1 0 4 0-5 1 0 0 3 1-2 0 3 1 0 0-2 1-1 0 1 0 2 1-2 1 1 0 2 3-5 0 4 0-4 1 3 0-2 0 2 0 2 1-4 0 0 0 2 2 2 0-5 1 2 2 3 0 0 2 1-1 5-1-5-1 2 0 3 0-2 0 1 0-1-2 2 0-2 0 1-1 1 0-5 0 4-1-4 0 5-1-1 0 0 0-2-1 2 0-3 0 1 0 3-1-4-1 4 0 0 0-5 0 3-1 0-1-2 0-1 0 2-1 3 0 0 0-3-1 1 0 2 0-1 0 0-1-4 0 0 0 0-1 1 0-1-1 2 0 1 0 1 0-3 0 4-2-5 0 4 0-2-1 2 0-2 0 1-1-1-1-2 0 2 0 3-1 0 0-4-1 1 0 1-1-1 0 2-1-2 0 1-1 2 0-4-1 2-1-1 0-2 0 0-1 4 0 1 0-4 0 2-1 2 0-4-2 2 0-3-1 4 0-4 0 5-1-5-1 3 0-3 0 0-1 5 0-4-1 1 0-1 0 1 0 3-1 0-1 0 0-2-1-3-1 4 0 1 0-4-1-1-1 3 0 0-1-2 0 3-2 0-1-3 0-1-1 1 0 1 0-1 0 2-1 2-1-4 0 1 0 2-1-1 0-1 0 2-1-3-1 1 0 3-2-3-2 0 0-2 0 3 0 1-2 1 0-4-1 1 0-2 0 5-1-1-1-2 0 3 0-5-1 3-1 1 0-3-1 2-1-1 0 0 0-2-1 4-1 1 0-3 0 3-1-5 0 3 0-3-3 2-1-2-1 0 0 3 0 2 0 0-1-5-1 3-1 2 0-1-1-3 0 2-1 1 0-3-1 4-1-1-2 1 0-2 0 1-1-1-1 2-1-2-1 0-1 0-2-2-1 4 0 0-1-4 0 0 0-1-1 0-2 0 0 1-1 0 0 4 0-5-1 3 0 2 0-1-1 0-1-4-1 0-1 5-1-4-3 1 0-1 0 3-1 1-2-5-2 5-2-3 0-2-1 4-1-1 0 0-1-1 0 0 0-2-1 2-4 2-1 0 0 0-1-4 0 0-1 1 0-1 0 0-1 2 0 1-2-3 0 0-1 0 0 3-1-2 0 1-1-1-1 2 0 2 0 0 0-1-1-3-1 2-1-1 0 2-1 1 0-1 0 0-1-2-1 1 0-1-1 3-2-1 0-3-3-1-1 3-1 0 0-3-1 2-1 1-1 2-1-3-1 2 0 1-2-5-1 4 0-1-1 0 0-2-1-1-1 5-3-3-2 1 0-3-6 1-5-1 0 1-2 2-2-2 0 2-1 0-1 1-6-3-3 0-1 4 0 0-2-2 0 1-1-4 0 2-3-1-2 1 0 3 0-5-3 1 0 0-1 3-1 1-1-1 0-2 0-1-2-1 0 0 0 0-1 1-2 1 0-2 0 1 0-1-4 0-1 0 0 1-2 3 0 0 0 1-2-2 0-1-1 0-2-1 0 1-1 2-1 1 0-4 0-1-2 0-1 4-1-2-1 3-2-2-1 0-3-1-2 2-1-2-1-1-1 4-2-3-1 0-1 2 0-2 0-1-1 4 0-2-2 2 0-2 0 0-2-2-3 4-1-3-2 3 0 0-1-4 0-1-1 4 0 1 0-3-3 3-1-1-3-1-1 1-1-3 0-1-2 4 0 0-3-4 0 0-1 3-1 0-1 1 0-3 0-1-1 1-1-1-3 0-3 3 0 0-1 0-1 0-3-3-2 3-1 1-2-2-2-2 0 3 0 1-1-4-2 4-1-2 0 1-1 2-1-3 0-2-1 1-1 1-1-1-2 0 0-1-1 5-1 0 0-3 0-2 0 5-1-1-1 0-1-3 0 1-1-1-3 3 0 0-1-1 0 0-1 1-1-4-1 3-1 2-1-5 0 4-1-2-2 2 0 0 0-1-1-1 0 3-1 0 0-3-2 1 0-2-2 0-1 1 0 2 0 1-2 0-1-1-1-4-1 0-1 5 0-2-1-1-1 3 0-1-2 0-1-4-1 3-1-2 0 0-3 1 0 3-1-3 0 0-1 2-1-1-1 1 0 1 0-5 0 5-4-2-1 2-1-1-1-3 0 1 0 2-1 0 0-1 0-1-1-2 0 1-1 1-3-1 0-1-1 2-1-1 0 4-3-3 0-2-2 4-2-4-3 1 0 2 0 0-3 2 0-1-2 0 0 0-1-3-4-1 0 1-1 4-3 0 0-3 0 0 0 2 0-4-1 1-2-1 0 4-1 1 0-4-1 2 0 1-4-1 0 2 0 0 0 0-1 0 0-3 0-1-1-1-4 1-1-1-2 2-3 2-10-3 0 1-1 2-11 1-7-4 0-1-1 3-2-1 0-2 0 5-9-2-3-3-1 1-13 0-2-1 0 2-2-1-7 0-1 1-1 0-2 2-1-3-1 3-1 0 0-1-4-1 0 0-2 1 0-3 0 4-1-1-2-3 0 1 0 2-2-3-1 1-1 1-1-2 0 4-1-3-2 1-3-2-1 4-1 1-1 0-1 0-1 0 0-3-1 0-7 2 0-3-1 0-1 1 0 2 0 0-1-3 0-1-1 4 0-3 0 0 0 3 0 0-1 0 0-4 0 5-1-3 0-2 0 3 0 2-1-5 0 1 0-1-1 3-1-3 0 3-1-2 0 2 0 0-4 1-1-2-1-1 0-1-1 3-1 2-3-4-2 0-2 3-12 2 2 5 2-3 2 2 1 1 0-3 1 1 2 1 1-1 0 1 2 1 0-2 2 1 1-1 2 2 0-3 0 3 1-4 0 0 2 2 1-1 0 1 0-2 1-1 1 4 0-4 1 3 1 0 2-1 1-1 0-1 0 5 1-1 1-4 1 5 1-1 1-3 0 3 0-1 1 1 0 1 0 0 2 0 0-5 1 3 0 1 2 0 1 1 1-2 1 1 0-2 0-1 2 2 0 1 1 1 1-4 0 3 1 0 2-3 2 2 1 0 0 0 0 1 1-4 1 3 2-1 1 2 3-3 0 3 1-1 0-2 1 3 4 1 4-2 1 2 0-3 2-1 0 4 8-1 4 0 5 0 3 0 8 1 2 0 4-3 0 3 14-4 1 0 27 2 1 0 4-2 1-1 2 2 1 1 1 0 1-3 0 3 1 0 2-3 1 1 1 1 0 3 1-5 1 2 1 1 0 0 2-2 0-1 1 0 0 1 0 2 2 2 1-3 0 3 2 0 2 0 1-4 0 2 1 0 0 2 2-5 2 5 0-2 0-2 1 2 1-2 2 4 0-3 1 3 1 0 0-2 0-3 2 3 0-2 1 4 1-2 1 0 0 1 0-1 1-3 0 2 1 0 1-2 0 3 0 0 1 1 1-4 0 4 0-4 1 2 0 3 1-3 2 0 0-1 0-1 1 1 1 3 1-4 1 0 3 3 1 1 2-3 0 3 2-2 2 1 2-3 2 3 0-3 1 5 0-5 2 3 5-1 3 3 0-4 1 1 3-2 1 2 1 1 0-1 1-2 1 2 0 1 2 0 0 1 0-4 0 3 1-1 2 3 1-2 1 0 1-2 0-1 1 0 1 4 0-3 2 4 1-2 0-2 0 2 2 0 1 1 0-2 0 3 1-4 2-1 7 4 0-3 0-1 2 3 0 2 0-2 2-1 0 3 2-4 2 0 0 3 1-3 0 4 0 0 3-3 0 3 1-3 2-1 0 1 1-1 2 2 4-1 0-2 0 0 2 0 1 3 1 0 2-3 0 2 1 2 0 0 1-4 0 2 0 0 3 2 4-1 1 2 1-2 1-3 0 5 1-3 5-2 2 0 1 1 0 2 1-2 1 0 1 3 2-1 0 0 1-1 1 2 1 0 1-3 0 4 1-5 1 0 0 0 3 0 0 0 0 4 1 0 1 1 1-1 0-1 1 2 1-3 2-2 1 5 0-4 1-1 2 0 0 5 0-5 3 3 0-1 1 1 1-2 1 2 0-1 1 0 3 3 3-2 1 0 3 0 1-3 0 0 3 2 1 1 1-3 2 2 2-2 1 3 1 1 0-3 1-1 2 4 2-2 1 0 1 0 2 2 3 1 1-3 0 0 2 1 3 0 0-2 0-1 1 3 2 2 1-3 1 2 1-2 1-2 0 4 1-3 1 4 1-2 1-2 1 1 0 2 1 0 0-2 2 0 2 2 2-3 2 0 1 2 0 1 1-3 1 3 1 1 0-4 1 3 1 0 2 0 0-3 1 3 0 1 1-3 0 2 1-2 1-1 1 3 4-3 1 2 1-2 1 0 0 3 1-3 0 3 0-2 0-2 0 0 0 2 0 2 1-1 1 1 1-3 1 3 0-1 1-2 1 1 0 3 3 0 1-1 1-4 0 5 1-5 0 5 1-3 1 1 1 1 0-2 1 3 1-4 0 0 0-1 1 2 0 0 1 3 0-1 1-1 1 2 1-2 0-1 2 1 1-2 2 4 1 0 0-5 1 5 0 0 3-3 0 0 1 0 3-2 2 3 1 2 0-4 1 1 0 3 1-1 1-3 1-1 1 1 0 4 1-5 1 3 0-1 0 0 1 3 0-1 2-4 0 1 0 2 1 1 0 1 0-4 2 2 1-1 0 1 0 2 0-4 1 3 0-4 1 0 1 4 0-3 0 4 1-1 0-2 0-1 0 0 1-1 0 4 1-4 1 3 0 0 0 1 0 1 1-5 1 1 1-1 0 0 0 4 1-1 1 2 1-2 0-2 0 1 0 0 1-2 1 5 0-4 0 3 1-1 0 0 0-1 0 2 1-3 0-1 2 1 0 3 1 1 0-3 0 3 0-1 1 1 0-4 1 2 1-2 1 3 1-2 0 2 0-4 0 0 1 1 1 3 0-2 0 3 1-5 0 2 1 2 0 0 1-4 0 2 1 3 0-3 1 0 0 2 0-3 0 3 1-4 0 5 0 0 2-4 0 0 0 1 0 2 0-4 1 5 0-5 0 1 1 3 0-4 0 4 0 0 1 0 0-2 0 2 1 0 1-2 0-1 0 1 1 0 0-2 0 0 1 2 0-1 1-1 0 3 0 0 1 2 0-5 0 4 0-3 1 4 1-3 1 2 0 1 0 0 0-5 1 0 0 0 1 4 0-2 0-1 0 0 0-1 1 3 0 0 0 1 0 0 1-4 0 0 0 5 1-3 0 3 0 0 1-3 0-1 0 0 0 3 1 1 0-1 1-3 0 4 0-1 0 0 0-4 0 0 1 1 0 3 1 1 0-4 0 2 1-2 0 4 1 0 1-2 0-1 0 3 0-3 0-2 1 1 0 4 0-3 0 1 0 2 1-4 0-1 1 5 0-2 1-2 0-1 0 2 1 0 0 2 1-2 0 3 0-2 2 2 0-4 0-1 1 3 0 0 0-2 2 0 2 2 0 0 5 8-2 0 0-2-1 1 0-1 0-2-1 4-1-2 0 2-1-5 0 4 0-3 0 3 0-1-1-1-1-1 0 4 0 0-1-3 0 2 0 1-1-5 0 0 0 3-1-3 0 3-1-3 0 5 0-3-1-2 0 3 0 2-2-4 0 3 0-2 0 0-1 2 0 1 0-2-1-1 0 1-1-2 0 4-1-1-1-4 0 2 0 2-1-1 0-2 0 0 0 3-1-3 0 4-1-3 0 2 0 0 0 1-1-5 0 3-1-3 0 2-2 3 0-5 0 2-1-2 0 3 0 2-2-5 0 4-1 1 0-3 0-2-1 2 0 2 0-3-1 3 0 1 0-5-1 3-1 0 0 1-1-2 0 2 0 1-1 0 0-5 0 1 0 4 0-5-1 3 0-2-1 0 0 4 0-4-1 2 0-1-1-1-1 1 0 3-1-5 0 1-1 4 0-3-1 0-2-1 0 0-1 2 0 2-1-1 0-3-1 0-1 0 0 2-1 1 0 1 0-1-1-4 0 3-1-1-1 1 0-3-1 5 0-2 0-1-1 1 0 0 0-2-1 2-1 2-1-4 0 2-1-2-1 1-1 2-1-3-1 1 0 0 0-1 0 1-1 0 0 0 0-2-1 5-1-4-1 3 0-1 0-3 0 1-2 3 0 1 0-5 0 3-2 0 0 2 0-5 0 2-1 3-1-3 0 3-2-2-1-3-1 5 0-3 0-1-1 1-2 0-1-2 0 4-2 0 0 1 0-4-1 1-1 3-3-4-1 1 0-2-2 4-1 1 0-1 0-4-3 3-3 1-5-2-1 3 0-2 0 0-1-1 0-2-1 1-1 1-4 0-3 3 0-5-1 2-1-1 0-1-1 5-1-5 0 3-1 1-3 0-3-1 0-3 0 5-1-5-1 3 0 1-2 0 0-3-2 2-2 1-2-4-1 1-1 2-1 2-1-3-1 0 0 2-1 1-2-3-1 2-3-4 0 2 0 0-2-1-2 1-3 3-4 0-1-5 0 1-1 2 0 2 0-1-1-4-1 0-2 0 0 4-2-3 0 4-3-5-3 2-2 2 0-2-1 0 0-1 0 2-1 0-3 2 0-5 0 5-1-1 0-1-2-3 0 3-1 1 0-1-1 2-1-2-1 0-2 1 0 0-1-3-1 2 0-2 0 2 0-3-1 5-2-3-2 3-1 0-1-2-2-3 0 3-2 1 0 1-2-1 0 0-1 1-2-5-1 4-1 0 0-4-1 4 0 0-1 1-2-2 0-1-2 2-1-3 0 2-10 1-3-1-1 1-3-1 0 1 0-1-1 1 0-4 0 3 0-2-1-1 0 2 0 1-2 0-2-1-1 2-1-3 0 4-3-5-1 0 0 5-1-3 0 1 0 2-2-1-1-4-2 4-2-4-1 1-4 3 0-4-1 0 0 0-1 4-2-3-2 2 0 2-1-4-2 0 0 3-3-2-1 2 0 0 0-3-1 1-1 0-1 0-3-2-1 4-2 1 0-1-2 0-3-1-1 1-1 1-1-3-2 3-1-4-1 1-4 2 0 1-1 0-3-3-3 0-1 0-5 1-1 0 0-2-2 2 0-1-3 1-1-3 0 5 0-4-2 2-1 0 0-2-1-1-2 5-3-3-1-1-1 4 0-4-2 0-1-1 0 0-2 4-1-2 0-2-2 2-1 1-1-3-1 5-1-2-2 1 0 1 0-3 0-2-2 3 0-3-2 0 0 0-1 4 0 0-1-3 0 3-1-3-1 1-1-1 0 0 0 0-1 0-2 3 0-4-2 3-3-1-3 2-1-3 0 2-1 0-3-3 0 4-3-1 0-1-1 3-2-1-1 1 0 0 0 0 0 0 0-4-1 1 0 2-2-1-3-2 0 0-2 0 0-1 0 2-2-1 0 1-2 0-1 1 0-1-2-2-1 3-1-2-1 4 0-1-2-3 0-1 0 4-2-3 0-1-3 1-35 0-1 1-15-1-6-1 0 1-2 1 0 1-2-3-2 4-6 1-4-5 0 2-1-1 0 2-1-2-1 4-2-4-5 2 0 1 0-3-1-1-1 0-1 0-1 1-1-1-1 2 0 3 0-1-1-1 0 1-1-2-2-2-1 4-3-1-1 2 0-4-1-1 0 1 0 2 0 2-1-3 0 3-2-2 0 0-3-2 0 4-1-4-2 2-2 2 0 0 0-4-1 3 0-4-2 5 0-5 0 2-1 1-1 2-1-3-1-1-1 2 0-3-3 0 0 1-3 0-2-1 0 1-1 3 0-4-1 2-1 0-2 1 0 0 0 0 0 0 0-3-1 3-1 1-2-4 0 4-1-4 0 4 0-4-1 3-1-3 0 3-1-3-3 1-1 4 0 0 0-2-1-2 0 1 0 0-1-1 0 2 0 2 0-2-2-3 0 3 0 1-2-2 0 0-1-2 0 3 0-3-1 3-1-1-1 1 0-2 0 2 0-2-1 2 0 2-2-5 0 4-1-2-1 0-1 3 0 0 0-3-2 2 0-4-1 5 0-3-1 1 0 0-1 2-1 1 1 4 1-2 1-2 0 2 0 3 1-3 0-1 1 4 1-4 0 2 1 0 0-3 0 4 1-3 0 0 1 0 1 1 0 2 1-4 0 3 0 1 1-4 0 4 0 1 3-1 0-2 0 3 1-3 0 0 0 1 0 2 1-1 0-3 1 2 1 0 0-3 0 5 1-3 0 1 1 1 0 1 0-3 1 0 1-1 1 3 0-2 5-2 2 1 0 0 1 4 0 0 0-2 3 2 0-5 3 5 0-3 0-2 1 4 0 1 3-4 0 4 2-3 0 1 0-3 1 0 1 5 0-1 0-4 1 3 0 0 0-3 0 2 2 0 1-1 0 3 1-2 1 0 1-1 2 1 0 0 4 2 1 1 3-5 0 4 1-2 0 3 2-2 0-1 1 2 0-2 1 0 2 2 4-1 1-2 1 2 1 0 0-2 0 0 2 1 0 0 1 3 1-2 1-1 1 2 1-2 1-2 0 3 3 2 7-4 1 2 2 1 0-4 1 0 2 0 1 5 0-4 6 4 4-5 4 1 1 3 53 0 2-4 0 1 1-1 0 4 1 0 1-2 3 0 1 1 0 2 2-1 1 1 1-2 1-1 1 2 1-3 1 0 1 3 1-4 0 2 1-1 1 0 1-1 0 5 2-1 1-3 3 0 0-1 1 0 3 2 0 0 1-1 1 3 0-1 1 2 0-1 0-2 1-1 4 4 1-2 1-1 2 0 0 3 1-1 2-1 1-2 4 1 4-2 1 1 0 4 1-5 3 0 1 1 1-1 4 4 2-1 5-1 1 2 1-1 0 2 0-5 6 0 0 3 0 1 2 0 1-3 0 3 2-4 5 1 2 4 1-4 0 2 1-1 3-2 1 0 1 3 2 0 1 1 6-4 2 2 3 0 3-1 1 2 5-3 2 2 0-1 4 1 1-2 5 1 4 1 3 2 1-3 2 1 0-2 0 3 1-3 1 1 1 1 1-2 3 5 1-2 0 1 4 0 1-1 2 0 2 0 1-2 3 3 0-1 0 1 1-2 3-2 2 5 1-5 3 0 0 3 1-1 1 0 1 1 2 0 3-3 1 0 3 5 0-4 2 0 1 4 1-3 1 1 2 1 1-1 0 0 4 2 1-4 0 2 3 0 0-1 2-2 2 1 1-1 1 0 2 2 3 2 0-4 3 2 4 3 2-2 1-1 2 3 1-1 1 1 1-3 3 2 5-2 0 1 4 1 3-1 0-2 2-1 1 2 1 1 0 2 1-3 2 1 0 0 0-3 1 4 1-1 4 0 1-1 1-1 1-1 0 5 0-3 1-2 0 4 1 0 0 1 1-2 0-1 2 2 0-3 0 2 2-3 2 2 2-1 1 3 2-2 2 0 0 3 0-2 1 0 1 0 1-1 0 1 0-1 1 0 0 3 2 0 1-5 0 1 0 3 2-4 0 5 1-1 0-3 1 0 3 2 1-3 0 1 1 3 0-2 2 0 0 1 1-3 1 2 4-1 0 4 1-2 3 0 1-2 0-1 1 0 1 4 0 1 0-1 1-3 1 1 1 3 0-5 1 5 0-2 2 0 0-3 0 1 0 0 2 2 1-3 1 2 0-1 0 0 1 2 2-3 0 1 1 4 1-1 0-3 0 1 1 3 0-4 1-1 1 0 0 5 0-5 0 1 1-1 1 3 0-2 0 2 1 0 0 2 1-5 0 0 0 5 0 0 1-4 0 2 0 0 0-1 1 2 0-4 1 4 0-3 1 2 0 1 1-1 1-3 0 4 2-3 1-1 0 4 1-3 0 2 2-2 0 0 0 0 1 0 1-1 0 0 0 5 0-3 1 3 1-5 0 1 1 0 0 3 0-1 1-2 0 3 1-2 1 3 0-5 0 1 1 1 0-2 1 4 0 1 0-2 1-3 0 2 0 3 0-3 1 0 1 2 0-3 2 4 0-3 1-2 0 4 0-3 0 1 3 1 0 0 0-2 1 3 0 0 1-3 0-1 1 1 0 2 0 1 1-3 0 3 0-2 1 1 0-3 1 5 0 0 1-1 0-1 0-3 0 2 0-2 2 3 0-3 0 5 1-4 1 2 0 2 0-4 0 0 1 0 0 2 0 1 1-3 0-1 0 2 1-1 0 4 0-5 1 0 1 0 0 3 1-2 0 4 0 0 1-2 2 0 0-1 0 3 0-4 0 4 0-4 0 0 1 3 1 1 0-5 1 4 0 0 0-1 1 1 0 0 0-2 1 3 0-4 0 3 0 1 0 0 0-2 1-1 1 1 0-3 1 4 0 1 1-3 0-2 1 3 0 0 0 2 0-1 0-4 0 4 1 1 0 0 1-3 1 1 3 7-1-1 0 2 0 0-1-1 0 0 0 0-1-3 0 0 0 3 0 0-1-4 0 1 0-1-1 3 0 1-1-2-1-1 0 0 0 1 0 2 0 1-1-1-1-2-1-1 0-1 0 4 0-4 0 3-1-2-1 4 0-3 0 1 0-1-1-1 0 3-1-2 0 3-1-1 0-2-2 3 0-3 0-1-1 2 0-3-1 3-1-1 0 3 0-5-1 4 0-3 0-1-1 1-1 3 0-4 0 5-1-1-1-3 0 4 0-4 0 0-1 3 0 1-1-2 0 0 0 1-1-1-1-2 0 4-1-1 0-2 0-1 0 1-1 3 0-3-1-1-1 0 0 2 0 0 0-3 0 1 0 2-1 1-1-2 0 3 0-4-1 4 0-2-1-3-2 0 0 2 0 0 0 2-1 1 0-4-1 3 0-4 0 3-1-3 0 1-1 3 0-2 0-1-1 1-2 2 0-2-1 2 0 1 0-3 0 0 0 2-1-3 0 4-1-5 0 3 0-3-1 0 0 2-1 3 0-5-1 2-1 2 0-1-1-3-1 0-1 3 0 0 0-1-1 0-1 1-1-2 0 1 0 3 0-5-1 1 0 0-1 4 0-4-1 4-1 0-1-4 0 3 0 0 0-4-1 0-1 5 0-2 0 0 0-3-1 4 0-3-2-1-1 2 0-2 0 3 0 0-1-3 0 1 0 4-1-5-2 5 0-3 0 0-1-1 0 1-2-1 0 1-1-1 0 3-2-2 0 2-1 1-2-5 0 4-1 0 0 0-2-2-1-1-1 3 0 0-1-1-1 1-2-3-1 3-1-1 0-2-1 2 0-3-1 3 0-3 0 5 0-3-1 3 0-3-1 0 0-1-2 3-1 0-1-3 0 2-1-1-1 3 0-5-2 4-2 0 0 1-1-1-1-1-2 1 0 0-1 0-1 1 0-4-3 1 0 3-1-5-1 4-1-3 0 0-4-1-1 0-2 2-1 1 0 2 0-1-1 1-3-3 0-2-2 4-4 0-3-3-1 0-1 3-3-2 0 1-3-2-1 0-4 1-2 2-2-2 0 3-2 0-1-5-1 2 0 2-1-4 0 5-3-3 0 1-1 1-1-3 0 1-4 2 0-3-3 3-1-3 0 1-3 2 0-4-2 1-2-1-3 1-14 4-2-1-2-3-7 1-1 1-2 2-6-3-1-1-1-1-2 0-5 3 0-2 0-1-1 0-1 1-4 1-1 1-1-2-2 0-1 1-5 2 0 1 0 0-3 0 0-5-1 1-2 1 0-1-8 2-2 1-3-3-1 1-5-1 0 2-4-3-2 2-1 0-4 1-5 0 0 0-1 0-4-3-13 3-1 0-3-1-1 2 0-3-6 0-4 1-2 3-3-4 0-1 0 3-1 0-1 0-1 2-3-2-5-3 0 5 0-1 0-1-4-1-2-2-1 3 0 1 0 0-1 0-2-4-1 2-4 3-4-3-7 0-2 2-3-1-3-2 0-1-5 1-1 2-2-2-1 1 0-1-4 1-2-1-8-1-54 4-13-1-2 1 0-3 0-1-2 0-7 0-4 0-3 4-2-2-1-1 0 4-5-5-1 1-1 4-1 0 0-1-2-4-1 4 0-2-2-1-1 0-1 2 0 1-1-1-2 1-2 1 0-5 0 2 0-1-1 3 0-2-2 3 0-3 0-1 0-1-2 2 0-1-1 4 0-5-3 1 0 2 0-2-1 1 0-1-1 2 0-1-1 3 0-5-1 1-1-1-1 1 0 4-1 0 0-2 0-1 0 0-1-1-1 2-1 0-1 0-3 1 0-3 0-1-1 0 0 0 0 2-1 1 0 1-1-3-1 1 0-2-1 4 0-1 0 2 0 0 0-5-1 3 0-2 0 2 0 0 0 1-1-2-1 1-1-2-1 1-1 3-2-2-1-2 0 4 0-5 0 2 0 1-1-2-2 4 0-2 0 0-2-2 0 3 0 0 0 1-1-1 0 1 0-5-1 1 0-1 0 5 0 0-1-2-1-3-1 4 0-2 0 2 0-3 0 4-1-1-1-4-1 3-2-1-1 1 0 1-1 1 0-1-1-2-1 2 0 0-1-1-1-3-1 5 0-1-1 1 0 0 0-4 0-1-2 5 0-4 0 4-1-1 0 1-2-5 0 3 0-2-1 0 0 4-1 0 0-4-1 2-1-1-1-2 0 4 0 1-1-1-1 1-1-4 0 1-1 1-1 2-2 0-3 5 0 0 0 0 0 1 0 0 0 0 1-2 0-1 0 2 0 0 0 1 0-1 1 1 0-1 1-2 1 3 1-2 0-1 1 3 0-5 0 5 1-5 0 1 0 2 2-3 0 3 0-1 1 3 1-1 0-2 0-1 0 2 2 1 0-4 1 2 1 3 0-2 1 1 0-2 0-2 2 4 0 1 0-3 0-2 1 1 0-1 0 2 0 0 1 1 0 0 1 0 0-2 0 4 1-5 1 0 0 0 0 3 0-2 1 3 0 1 0-1 1-4 0 5 1-3 0 1 1 0 0 2 2 0 0-4 1 3 0-1 1-3 1 4 0-3 1 4 0-2 0 0 1-1 0 3 2-1 1-3 0 1 0-1 0 0 0 2 1 1 0-1 0 1 2 1 0-5 0 3 1 2 0-2 1 2 1-3 0-1 1 2 0 0 1 2 0-4 1 4 0-3 1 1 1-2 2 4 0-1 0 1 1-3 0 2 0-4 0 0 2 2 1 2 0-3 1 4 0-1 1 1 0-4 1 1 0 2 0-2 1 2 1-3 1 3 0-4 0 2 0-1 1 1 1 2 0-4 0 3 1 0 1 1 0-2 2 1 1-2 0 2 2 2 0-3 1-2 3 2 1-1 0 2 1-1 0 0 0 3 0-1 1-2 0 1 2-2 1 4 0-5 3 4 1-3 3 1 0 0 0 2 2 0 4-3 1 2 0 0 1-3 0 0 1 5 1-5 0 4 2-4 1 2 2-2 0 1 1 0 2 0 2 3 1-1 2-3 0 5 2-5 2 4 4-1 0-2 1 4 4-1 2 1 4-1 6-2 1 3 0-5 5 4 5 0 2-2 49 1 4-1 2 1 6-2 2 2 6-2 0 4 2-1 9-1 4-2 4 2 2 0 2 1 3-2 7-1 3 2 1-3 1 3 5-3 5 4 1-3 2-1 7 1 0 2 1 1 17-3 5 3 1-3 2-1 0 2 1 0 9 3 7-4 1 0 0 1 3-1 6 1 3 1 3-3 0 5 2-2 5-3 5 3 2 1 2-4 5 1 4 0 2 4 9-5 1 1 0 1 6-2 3 4 5-4 0 3 3-3 3 1 1 1 3 0 4 0 12 0 13 3 5-4 0 0 3 2 0-3 4 4 12 1 2-5 0 2 5-1 3 0 2 0 0 2 1-3 2 1 9 2 1-1 1 2 1-2 1 3 2-5 1 3 4-3 1 1 3 1 2 0 2 1 2-3 3 2 1-2 0 1 4 1 1 0 1 2 3-4 0 1 1 2 0 0 1 1 1-1 2-3 2 2 0 3 1-3 1 0 2-2 0 4 1 0 0-3 2 2 3-1 1-1 0 0 1 4 1-2 1 0 0-2 5 1 3 1 0-2 1 3 0-3 0-1 1 3 0 2 1-4 0 2 1-3 2 3 0-1 0 3 0-2 0 0 1 2 0-4 0 0 1 3 0-1 1-3 0 1 2 2 0-1 2 2 0-2 0 0 0-2 1 5 1-5 1 2 0 3 0-1 0-3 1 3 0 1 0-4 0 4 1 0 0-4 1-1 0 0 0 0 0 4 0-4 0 0 0 0 1 3 1 1 0-1 1-2 1-1 0 3 0 1 0 1 1-5 0 5 0-1 1-3 1 3 0-1 1-2 1 2 0-3 1 1 1 4 0-4 1 1 0-1 0 1 1-1 0 4 0-2 2-1 1-2 0 3 1-3 1 0 0 4 0 0 0-2 1-2 1 4 0-1 1-1 1 1 0 1 0-4 0 3 1-2 1 0 0 3 0-3 0 4 0-5 0 5 0-5 1 1 0-1 1 3 0-1 0 2 0-3 1-1 0 2 0 2 0-2 0-2 0 1 1-1 0 1 0 4 1-4 0 4 1 0 0-2 1 2 32 5 0 0 0 0 0 0 0 0 0 0 0 0 0 0 0 0-30-1 0 0 0 1-1-1 0-2 0 2 0-1 0 0 0 1-1-2 0 0 0 0 0 0 0 1-1-1 0 0-1 1 0 1-2-3 0 1-1 2-1-3-1 2 0-1 0 1 0-1-2-1 0 0 0 1-2 1-1-2 0 0-2 2-1-2-1 2-1-1-1-1-1 2-1-1 0 2-1 0-1-3-1 1 0 0 0 2-2-2 0 1-1-2 0 1-1 1 0 0-1-2-2 0-1 0-1 3-4 1-2-4-5 0-4 0 0 0 0 3-7-1-1-1-1 0-3 1-3-2-2 1-13 1-9 0-1-2-2 0-1 1-1 1-1-1-3 2-60-2-18-1-28 0-23 4 0-3-20 0-4 0-31 3-19-3-2 0-9 2-4-1-11-2-32 1-1 3-4-4-5 0-1 0-52 0-21 2-1-2-20 1-8 2-4-1-3 1-11-1-2-2-10 4-3-3-5 2-2-1-2-2-3 1-1 1-2-2 0 0-1 1-4 0-2 0-2 0-1 0-2 0-1 3 0-2-3 0 0-2 0 3-3-3-3 1 0-1 0 1-1 2 0-3 0 0-2 2-2-1 0 2-2-1 0 0-1-2-1 1-1 1 0-2-2 1 0-1-1 1-1 0 0-1 0 1-3 0-1 2 0 0 0-1-1 0 0-1-1 1-1-2-1 2 0-2-3 1 0 0 0 1-1 0 0 0-1 1-1-3-1 3 0-2-1 2 0-1-1-2-1 2-1 1 0-2 0-1 0 1-1 3 0 0 0-2-1-2 0 2-2 1 0 0-1 0 0 0 0-2-1 1-1 1 0 0 0-2-1 2 0 0 0 0 0 0 0-3 0 0 0 2-1 2 0-4 0 2-1-1 0 2 0-1-1 1 0 0-1 1 0-1 0-1-1-2 0 0 0 2 0 1 0 0-1 1 0-4 0 4 0-3 0 3-1 0 0 0 0 0 0-3 0 1 0 0 0 1 0 0-1 1 0 0 0 0 0 0 0 0 0 0 0-1 0-1 0 1-1 0 0 0 0 1 0 0 0 0-1 0-1 0 0 0-1 0 0 0 0 0-1 0 0 0-1 0-1 0 0 0-1 0-1 0-2 0-1 0-1 0-1 0 0 0-2 0-1 0-2 0 0 0 0 0 0 0-2 0 0 0 0 0-1 0-1 0-1 0 0 0-2 0-1 0-1 0-1 0-1 0-1 0-2 0-2 0-1 0-1 0-1 0-1 0-1 0-1 0-1 0 0 0 0 0 0 0-2 0 0 0 0 0-1 0 0 0 0 0-1 0 0 0-2 0-1 0 0 0-1 0 0 0-2 0-1 0 0 0-1 0 0 0-2 0 0 0-3 0 0 0-1 0-2 0-1 0-1 0 0 0-1 0-1 0-1 0-1 0-1 0-1 0-1 0-1 0-2 0-2 0-1 0-1 0-1 0-1 0-1 0 0 0-2 0-1 0-1 0-1 0-1 0-1 0 0 0-2 0-2 0-1 0-1 0-1 0-2 0 0 0-1 0-1 0-2 0 0 0 0 0-1 0-1 0-1 0-1 0-1 0-1 0 0 0-1 0-2 0-1 0-1 0-2 0-1 0-1 0-2 0-1 0 0 0-2 0 0 0 0 0-2 0 0 0-1 0-1 0-2 0-1 0-1 0-1 0-2 0-2 0 0 0-2 0-1 0 0 0-1 0-1 0-1 0-1 0-1 0 0 0-2 0 0 0-1 0 0 0-1 0-1 0-1 0-1 0-1 0-1 0 0 0-1 0-1 0-1 0 0 0-1 0-1 0-1 0-1 0-1 0-1 0-1 0-1 0-1 0-2 0 0 0-2 0 0 0-2 0 0 0-1 0 0 0-1 0-1 0-1 0 0 0-1 0-1 0 0 0-2 0-1 0-1 0-1 0-1 0-1 0 0 0-1 0-1 0 0 0 0 0 0 0-1 0-2 0-1 0-2 0-1 0 0 0-2 0 0 0-1 0 0 0 0 0 0 0 0 0-2 0 0 0-1 0-1 0 0 0-2 0 0 0-1 0 0 0-1 0 0 0-1 0 0 0 0 0-1 0-1 0 0 0-2 0-1 0-2 0-2 0-1 0-1 0-1 0-1 0 0 0-2 0-1 0-1 0 0 0-2 0-1 0-1 0-1 0-1 0-1 0-1 0-1 0-1 0-2 0 0 0-1 0-2 0-1 0-1 0-2 0 0 0 0 0-1 0-1 0-1 0-1 0 0 0-1 0 0 0-1 0-2 0-1 0-1 0 0 0-1 0-2 0 0 0 0 0-1 0 0 0-1 0 0 0-1 0-1 0-1 0 0 0-1 0 0 0 0 0-1 0-2 0 0 0-1 0-1 0-1 0-1 0 0 0-1 0-2 0 0 0-2 0-1 0-1 0-1 0-1 0-1 0-1 0-1 0-1 0-1 0-1 0 0 0 0 0-1 0-1 0-2 0-1 0-1 0 0 0-2 0-1 0-2 0 0 0-2 0-1 0 0 0 0 0 0 0" marker-start="url(#k1)" marker-mid="url(#k1)" marker-end="url(#k1)"/>
<path d="M273 59l-28-1 21 36-44-4-36 9 33 2 97-1-69 3-43 3-9-1 110 6-22 3-30 5-22-3-31 6 17 2 1-2 33 1 19 1 19-1 48 5-66 2-5 0-18 1-34-5-7 3-65 2-3-1-16 0 35 7 13-1 33 1 0-4 36 1 5 1 11 1 31-2 82 9-49-4-5 1-12-2-6 5-21 0-10-4-17 4-20-1-14-3-22 2-13 2 4 3 52 2 7-4 12 0 23 0 4 1 32-1 6 4 19-3 5 5-13 0-2 2-20-2-9 2-69-2-58 5-12 0-24 6 38-1 26 0 5-3 10 3 10-3 5 4 21 0 6-2 1 0 18 1 1-2 19 0 6 3 1 0 10-1 20-1 18 4-6 4-12-4-15 2-13 2-11-4-9-1-1 5-4 0-3-2-10-1-9 2-8-2-20 3-2 0-1-4-8 1-28 3-10-2-42 4 38-1 0 3 0 0 26-3 8 2 3 1 6 1 1-4 3 2 10 2 0-2 2 1 8-3 1 2 1-1 1 3 2-4 1 5 6-3 15 3 3-2 6 2 1 0 6-1 8-3 8 0 1 0 3-1 5 5 7-4 7 2 4-2 2 2 46 6-20 1-3-1-23 1 0 1-2-5-13 3-8-3-4 4-11-3 0 4-9-4-1 1-1-1-5 0-1 2-14-3-1 4-2 0-8 1-2-4-13 0-3 4-1-2-2 1 0 0-2 0-4-4-22 1-4 4-4 0-11-2-8-2-1-1-1 1-12 1-20 0-6-2-22 10 33 0 7-1 29-1 0 0 3 1 22 1 9-3 1 4 7-2 4-3 7 2 5-1 2 1 2 0 11 3 6-4 3 0 16-1 3 0 3 3 3 0 4 0 5-2 20 4 6-5 9 3 8 0 7 0 11 1 18-1-27 5-20 3 0-5-4 5-9-3-16 0-2-1-6 3-7-2-4 3-4-2-5-1-4 3-4-3-11-2 0 1-8 1-1 0-2 2-6-1-6-1-1 1-3 0-3-2-1 4-4-5-6 5-3-5 0 5-2 0-1-2-6-2-5 4-2 0-1-5-7 2-7 1-3 2-1-5-1 3-2 0-13 2-1-1-2 1-9 0-6-3-1 1-19-3-19 9 1 1 9 1 34-5 4 3 24-2 0 3 4 1 2-2 1-2 1 1 9 3 6-1 3-4 25 2 10-2 3 1 2 0 3 4 0-1 1-3 1 2 8 1 9-2 1 2 3-4 1 3 0-1 9 3 0 0 1-3 0 2 0 1 4-3 1 1 1 2 3-2 8 1 5-2 4 2 1 1 1-1 2 0 10 1 0-3 3-1 10 0 2 2 2-2 1 3 2 0 4-1 3 2 2 0 9-1 3 0 14 0 19-2 19 4-26 4 0-2 0-1-12-1-10 4 0-1-2-2 0 0-8 3-5 1-5-4-6 3-4-3 0-1-3 3 0 2-2-5 0 0 0 4-1-1-4-3-1 4-2 1-3-3-12-2-7 3-5 2-3-4-6 0-4 4-1-2-4-3 0 2-3 1 0 2-1-3-2 3-1 0 0-5-1 2-7 2-1-4-3 1-5-1-1 2-3 3 0-3-8-2-1 1-13-1-3 4-2-1-5-1-1 1-1 0-2 0-2-3-8 0-2 1-1 1-9-1 0 4-3-2-3-3-2 4-2-4-19 0-3 4-9 1-3-5-4 2-30 2-2 1-8 3 11-1 8 3 9-3 6 0 0-1 7 1 8 3 4-1 10 2 7-5 1 3 3 0 7 2 3-5 10 4 9-1 1 1 3 0 2-2 2 2 1 1 2-5 1 0 0 1 1-1 5 2 0-1 4 2 3-3 1 1 4 1 1 2 7-1 3-3 3 4 13-2 2 2 1-3 2 2 1 1 13-3 4 1 5-1 3 0 1 1 5 3 1 0 4-2 3-2 3 2 2-2 4 3 0 0 1-2 1 2 0-4 6 4 2-3 1 0 2 4 9-2 10-1 5-1 2 3 6-1 11 0 15 2 22-5 1 9-2 2-14-4-3 4-1-3-1 2-7-2-2 0-7 0-11-1-8-1-5 5-6-5-1 3-1-1-5-2-4 5-1-1-6 1-1-3-3 0-3 3-6-4-3 1-2 1-1 2-1-3-5 1-5-1-1-2-1 2-1 2-5-2-11 1-1 1-2 1-1 0-3-1 0-4-1 5-5-2-2 0-7 1-4-2-2 2-3 1-4-2-1-3-2 1-1 3-2 0-1 0-1 1-1-1-6-1-1-1-1 0-1 0-2-1-4-1-6 0-11 2-2-1-1 1 0 0-1-2-3 5-1-3-2 2-6-4-8 1-1 4-1 0-1 0-2-3-2 3-1-5 0 5-3-2-17-3-4 0 0 1-2 3-4 0-5-1-3 2-4-3-3 1-22 2-9 2 31 3 7-2 5-1 5 2 8 2 3-4 2 3 4-2 1 1 1-1 7 2 6 0 1-1 5 2 1-2 8-1 0-1 2 0 3 0 0 4 3 0 1-4 2 1 5 3 3-3 0 1 2 1 2 0 1 1 3-3 0-1 1 0 2 2 6 1 7-4 2 0 3 5 0 0 1 0 2-2 3-2 4-1 1 0 2 2 0-2 5 1 1 2 1-2 0 4 2 0 5-5 6 3 1-1 3 3 1-3 4 0 1 0 1 2 6-3 2 0 0 2 1 0 0 0 1 1 1 0 0-1 5-2 1 0 3 0 3 2 1 2 6-2 1 0 1-3 2 3 2 2 6-5 1 1 0 0 15 1 1 1 1-1 0 2 1-1 11 1 0-1 3-1 2 3 0-1 3-2 2-1 1-1 1 5 5-4 0-1 4 1 2-1 1 0 3 2 4-1 4 1 3 2 3 0 0 1 9-5 19 0-37 10-2 0-6 0-2-1-3 1-1-4-1 0-1 2-3 0-4 1-4-1-5 2-1 1-6-5-3 0-1 1 0 3-4-3-3 0 0-1 0 1-1 4-8-5-2 2-3 3-4-5-1 4-2-4-3 4-1 1-1-2-4-1-3-2-2 1-3-1 0 2-1 2 0-4 0 1-1 1-7 3-2 0-3-5-8 3 0-2-3-1-3 2 0 0-3 0-2 1-5-2-1 2-2 1 0-1-1-2-1 0-2 2-4 0-4 1 0 0-1-2-1-2-2 2-1 1-2 1-1 1-2-4-1 1 0 3-1-1-1-4-2 3-1-3-1 3 0-2-3-1-2 2-3 3-5-1-3 1-3-4-1 1-1 0-2 3-2-4-2 2-2-3 0 5-3-3-1 1-1 2-1-4-3 0-4 3-1-2-2 2-6 1-5-5-3 0-4 5-2 0-3-2 0-2-3 4-1-5 0 4 0 0-3-4-9 3-2 0-1-1-6 3-2-3-4 3-13-1-16-2-9 5 9 2 13-1 0 3 1 0 4-3 3 3 0-1 4 1 3-5 0 3 1-1 3 3 0-3 1 3 4-2 4-3 3 2 1 1 0-1 5 0 4 0 1 0 2 2 2-2 10 0 0-1 0 3 1 0 3-4 0 5 1-3 5 0 0-2 0 1 9 1 3-2 0 2 0 1 1 1 1 1 0-3 2 1 4 1 1 0 1-2 1 0 0 2 1-3 3 3 1 0 0-4 2 3 1 2 1-3 2-2 1 5 3-5 0 3 7 0 0 2 3-1 2-3 1 0 1 1 0-2 2 4 2 0 1-1 2-1 1 2 1 1 0-3 1 1 1-1 0 0 0 1 5-1 0 1 0-3 3 0 0 3 7-3 1 0 1 1 0 0 5 2 6-1 1 3 1-4 3 3 1-1 2 1 1 0 2 0 0 1 1-4 0 4 1-3 1 2 0 0 1-4 0 3 4-1 2-1 2-1 1 1 4-1 1 2 1 3 1-4 2-1 1 2 1-1 5 2 0 0 1-3 3 0 1 4 0 1 1 0 1-2 2-3 0 1 7 1 0-2 3 2 0 0 3-1 0 4 0-1 1-2 2 2 2-3 3-1 2 3 1 2 3-3 2 1 4-1 0 2 3 0 2-1 2 0 3-2 5 3 4-4 1 3 2-1 1 1 7-1 1-2 4 0 2 0 1 3 2 2 0-1 0 1 2-2 1-3 13 4 7-1 4 0 0 1 1 6-10-4 0 3-5 0-2-2-5 2-3 2-4-2-12-1-2 2 0 0-2 0 0-1-3-3-3 3-1 1-1-3 0 2-6 2-3 0-4-3-2-2 0 1-1 3-2 1-2-1-3-2 0-1-1 1 0 0-2 3-1-3-2 0-5-1-2 1 0 2-2-3-1 1-5 3-1-4-3 4-2-3-2 3 0-4-1 4-1-1-3-2 0-2-3 5-1-2 0-1-5 1-5-3-1 4-1-2-5 1-1 1-2 0-2-3-1 3 0-2 0 3-1-5 0 4-2 1-2-3 0 1 0-2-2-1-2 5-1-1-6-3-2 3-1-4-2 3-2 2-1 0 0-4-2 4-1-5-1 5-1-5 0 4-2 0-2-3-1 0-4-1-3 0 0 1-1-1-2 2 0 0-1 3 0 0-1-1 0 0-1 1-1-1-3 1-1-5-1 0-6 4-4 0-2 1-1-1-3-1-2-3-1 5 0-2-4 2-1-1-3-2-1-1 0 3-3-1-1 1-2-3 0-1 0 5-2-3 0-2-1 0-6 3-3-2 0 4 0-5-4 1 0 1-3-1-1 1-3 3-2-2-2 1-3 1-2-1 0-1-2-3-3 3-1 2-2-3-9 3-3-3-2-1-3 3-2-1 0-3-10 4-9-4-3 3-8-3-1 4-3 1-1-4-6-1-3 0-5 10 4-3 9 2 2 2 3-1 4-1 0 2 4-5 4 5 2-4 1 0 2 3 2 0 2 1 1 0 1-1 0-1 3 2 0-4 1 4 2-3 3 2 2-1 1 0 0 2 3 0 1-4 2 3 0 0 3-1 3 2 1 0 3-3 0-2 2 0 0 3 6-1 0 1 1-2 2 1 2 3 1-5 1 4 1-1 1-3 1 0 1 0 1 5 4-2 8-1 4-2 0 5 2-2 0-3 1 0 5 1 4-1 2 2 2-1 0 3 1-3 5 2 0 1 0-4 1 3 0-2 1 3 2 1 0-5 1 1 1 4 1-3 1-2 2 3 0-3 1 0 0 2 2 2 0 0 1 0 3 1 5-1 3-1 1-2 1-1 1 4 0 1 1-2 1-1 0 3 1-4 1 3 1-1 1-3 1 1 1 2 0-3 2 3 1 2 0-1 6-3 1 1 1 1 1-2 2 4 5-3 2-1 2 3 1 0 1-2 2-2 1 5 1-5 1 3 0 2 1-4 1 2 1 2 3-1 2-2 3 3 0-4 1 3 0-2 4 0 2 0 2-1 1 2 2-2 2 4 0-4 4 4 3-2 4 0 0-2 3 3 0 1 1-4 1 3 2 0 0-2 2 3 1 0 0-1 1-1 0-1 2-2 4 2 1 0 1-2 1 5 3-2 1 1 3-1 2 0 2-1 2-1 1-1 2 4 4 1 0-4 2 1 3 2 0-4 0 2 1-2 8 1 3 0 4 4 1-2 5-1 1-2 0 0 4 1 11-1 0 1 4 2 2-3 7 3 4 2 10-2 8 0 3 8-3-4-16-1-2 2-2-2 0 3-3-1-3 1 0-1-2-1 0 4-6-1-1 1-1-1-3 0-2-1-2 1-1-3-1 2-5-2-1-1 0 4-1-4-3 1-1 2-1 0-4-3-3 0-1 5-1-1 0-1-3 1-2-3-4 4 0-3-1-1-2 2-3-3 0 2-1-2-1 0-6 3-5 1 0-1-1 1 0-4 0 5-1-4-1 4-1 0 0-1-1-1-1-1-3-2 0 0-2 3 0-2 0 0-4-1-1 5-1-5 0 5-1-1-1 1 0-5 0 2 0 1-1-2-1 1-2 2 0-3-1-1-8 3-1-2-2-1-2 4-1-4-1 2-1-1 0 4-1-1 0-2-5 3-1-2-1 1-2-2 0 2-2-1-1-2-1 3 0 1-2-5-1 0-2 4-1-2-3-1-2-1-1 1-2 1-2 2-1-4 0 2-2 1-1 0-1-1-1 3 0-5-1 0-2 1 0 4-2-2-1 1-3 0-1-4-2 5 0-3-2 3 0-3-1 0-1 0 0-1-1-1 0 5-1 0 0-4-1 0-7 1-2 2 0-2-1 2-1-2 0 1 0 1-3-4-1 3 0 0 0-3-2 1 0 1-2 0 0 2-1-2 0-1-1 2 0-2 0-1-1 5-2-3-1 3 0-4-1-1 0 2-1-2-1 3-1-3 0 3 0 0-1-3-1 1-1 4 0-1-2-1 0-3-1 1 0 3 0-3-1 4-1-4 0 1-1-1 0 1-1 0-1-2 0 0-2 2 0-1 0 1-1 3-1-5 0 5-2-1 0 1-6-3 0 3-3-4-1 2-2 0-2-1-1 2 0 0-2-4-1 3 0-2 0 1-1-1-6-1-1 0-1 4-3 0 0-1-4 1-2-3 0-1-1 2-1 1 0-1-1 0-4 1-3 0-1 1-1 0-2-4-1 1 0-1-1 4-1-4-1 2-2 0-3 2 0-3-2 3-8 0-3 0-6-3-1 4 0-1-2 0-2 1-1 0-1-1-6-1-2-2-5 2-14 8 2 0 1-3 4-1 13 0 0 0 1-1 3 2 5 0 1-2 1 3 1 0 0-3 1 4 1-3 4 3 0 0 1-2 1 1 3 0 2-2 1 1 2 0 0 2 2-3 1 1 1 2 2-2 1 1 0-2 1 0 2 3 2-1 1 0 7 1 2 0 2-3 1 1 0 2 2-2 1 3 1 0 0-1 2-2 0 3 1-2 1-1 3 3 0-4 2 3 0-1 1 2 0 0 0-5 1 4 0 1 2-1 1 0 1 0 1-1 0 1 0 0 1-4 0 4 2 0 0 0 2-4 0 4 9-2 0-1 2 3 0-4 4 3 0-2 0 2 1 2 1-3 1 2 0-2 0 0 2-1 0 4 1-5 1 5 1-5 1 5 1-1 0 1 2-5 0 5 1-5 1 4 0-1 1 0 1-2 0 0 1 4 4-4 0 1 0-1 5-1 6 0 0 1 2 2 0-2 1 1 0-1 3-1 4 4 0 0 0-2 1-2 1 1 1 2 1-1 1 1 2 1 1-4 0 5 1-2 3 0 0 2 2-4 1-1 1 0 0 4 2 1 1-1 1-2 2 1 0-3 1 4 2-1 4 0 0 0 1-1 0-1 1 1 0-2 2 5 1-3 1 0 0-2 4 2 0-2 3 1 0 3 1-2 3-2 1 3 0 0 1-2 0-1 0 4 1 0 1-1 0-3 2 1 1-1 1 5 2-4 1 4 0-1 0-1 3-1 0-1 1-1 1 5 0-1 0-3 1 3 0-3 1 2 0-1 4-1 0 0 2 3 1 1 3-3 3-2 1 0 1 5 1-4 1 2 1-1 1 3 0-1 1-2 2 3 0-2 2-1 1 2 2-1 3-1 0 1 1-1 0-1 1 0 0 0 1 4 0 0 3-4 1 0 5 1 0-2 1 5 1 0 2 0 1-1 0-3 6 1 3 1 1 0 0-2 2 2 1-3 2 1 1 3 3-2 1 3 3-1 0-1 7-1 3 1 0-3 3 3 3-1 0-1 0-1 6 2 2 2 0-1 2 2 2-1 1-1 5 2 4-1 0 1 1-3 2-1 25 2-5 8-3-3-3 0-6 2-1 0-4-1 0-2-14 0-7-1-3 3-5-3 0 1-1 4-2 0-1-1-2-3-4 2-1 1-1-2-1 3-1-2 0-2-1 1 0 3-3-5-2 0-1 4-5-4-5 1-1 2-1 0 0 1 0-2-1 3-2-1-1 0-3 0-1-3 0 4-2 0 0-2-1-3-2 3-1 1-1-1-1 2 0-1-1 1-1-1-3-3-1 2-1-3 0 5 0 0-1-1 0-3-2 2-2 0-1-3-1 1-1 0 0 4-2 0 0-4-2 4 0-3-3 1 0-3-1 3 0 1-1-3 0 4-2-4-1 1-4 1-2-2-1 1 0 2-1 0 0-3-1 0-1 2 0 2-1-3 0 2 0-2 0 2-1-3 0 3-1 0 0-2-1 1 0-3-1 0-1 1-2 4-1 0-1-2-1 0 0-1 0-1-3-1 0 1 0 1 0 2-1-2 0 0-2-1 0 2-1 1-1 1-1-5-3 1-1 0 0-1-2 3-2-1-1 2-4-4-1 5-1-2-1 2 0-4-1 0 0 2-1-3 0 5-3-1-2-2 0 1 0 2-2-3-1 2 0-1-1 1-1-2 0-1 0 4-1-2 0 1-1 1-1-3 0 1-1-2-2 3-1-4 0 2-1 3-1-3 0 0 0-2 0 3 0 2-3-1-2 1-2-2-3-2-1 1-1 1 0 1-1-1-1 2 0-1-2 1 0-2 0 2-2 0-1-5 0 4-3-3 0 1 0 3 0-1 0 1-2 0-1-3-1 3-2-2-1-2-1 4 0-1-2-4 0 1 0 3 0-2-1 1 0 0 0 1-3-2 0 2-1-4-1 0-1 1 0 3 0-2-2 2-3 1 0 0-1-1-1-1-1 0 0 2-1-4-1 3-2 1 0 0-1-5 0 3-1 2 0-2-2 0-1 0 0 1 0-3-1 0-3 2-1 0-1 2-2 0 0-1-1-1 0-1-1-1 0 0-1 2 0 2 0-1-1 0-4 0-1 0 0-1-1 2-1-2-4 2-1-2-1 0 0-3-4 0-1 0 0 2-2 2-4-2 0 2-3 0-2-3-1 0-1 4 0 0-2-5-2 5-7-4 0 1-1 2-1-2-6 3-1-2-2-1-1 0-1 2-1-1-2 2-5 0 0-4-5 0-3 0-1 0-1 4-11 0-3 0-4-3-1 2-1-4-3 0-4 9 4 1 4 0 1-4 1 2 2 0 3-2 6 2 0-2 6 1 1 4 1-2 1 2 3-4 3 0 2 2 1-2 3 4 3-5 0 2 0 0 2 0 0 3 1-1 1 1 2-1 1-2 1 3 2 0 2-3 3-2 1 4 1 1 1-3 1 0 0 3 0-5 2 0 0 3 3 2 1-1 1 1 4-1 3 1 0 0 3-1 1-1 1 0 0-1 3-2 1 4 0-1 3 2 0-2 1 0 1-2 0 2 0 0 2 2 0-2 1 1 1-2 0 0 1 1 0-2 2 2 1 2 2-2 1 1 0 1 2-3 1-2 2 3 1 2 0-2 1-2 0 1 2 0 1 0 1 2 1-2 0-2 5 3 0-1 1 2 1-1 2 2 2-3 0 2 2-1 1-1 2 2 2-1 3-2 1-1 1 5 2-2 0-2 0-1 10 0 1 5 2-5 1 5 2-1 0-1 3 0 5 2 0-1 0 0 1 1 1-2 1-3 1 2 0 1 1 2 1-4 2 3 1 0 0-4 1 5 0-5 0 3 0 2 2-3 1 3 1 0 0-3 0 2 1 0 1 1 5-2 1 1 1-4 2 2 3 0 0 1 1 1 1-3 2 0 2 0 0 2 1 2 1-5 0 0 1 2 1-2 1 2 2 3 1-2 0-3 1 5 2-5 0 3 0 1 2-1 1 0 2 0 0-3 0 2 1 1 2-1 1-1 1 4 2-5 1 2 1 1 1-2 0 0 1 2 1 2 1-3 0 3 0-1 1-4 0 0 1 3 1 0 2-3 1 3 1-2 0 3 1-4 3 4 4-1 1 2 1-5 1 2 0 1 5-3 0 3 1 0 1 2 1-3 3 1 4 0 3 2 1-3 0-1 1 3 1 1 2-4 0 1 0 1 0 0 1 2 1 0 0-4 2-1 1 2 0 1 1 0 2-1 2-1 0 2 0 2 1 0 1-4 1 1 4 3 1-2 1 0 1-1 1 2 1 1 0-2 0 0 0 2 2-4 1 3 0-3 3 1 0 0 1 3 1 0 1-1 0 0 1-1 0-3 1 1 1 2 0 1 5-3 0 4 0-5 0 4 0 0 3 1 1 0 0-1 2-1 1-2 2 4 1-5 0 2 1-1 4 1 0 1 3-1 1 2 0-3 2 0 6 0 0 1 6 2 1 1 1-4 3 3 5 1 0-5 4 5 0-2 12 2 1-1 12 7-11-4-2-1 0 2-7 0 0-2-2 0-5 0-4 4 0-4-5 3-4-3-1 4-1-3 0 4 0-1-1-2-1 3-3-5-5 5-1-1-1-2-1-1-1 3-3-4 0 3 0-2-2 4-1-3-1-1-2 3-1-3-1 0-2 4 0-2-4 2-2-5-1 5-1-4 0 4-3-3 0 3-1-3-3 2 0-4-3 5 0 0-2-4 0-1 0 2-5 3 0-3-1 2-3-1-1 1-5 0 0 1-1-5-1 2 0 3-1 0 0-4 0 4-1-5-2 3-1-3 0 2-1-2-2 3 0 1 0 1-2-3-2 1-1-3-1 1-1 0-1 1-1-1 0 4-1-2 0-2-1 4-3-4 0 1-1-1 0 0-2 2-1 2-1-3 0 3-2-2 0-3 0 4-6 0 0 1 0-5-2 3-1 2 0 0 0-5-1 4 0-2-2 0-1-2-1 4 0 1 0 0-1-2-2-2-1 3-1 0 0-3-1 3 0-4-1 0-2 4-1-1 0-1 0 3 0-3-2 0 0 3-1-4 0 2 0-3-1 1-1-1-1 5 0 0-1-3-1 3-1-1-1-1-1-3-1 0 0 2 0 0 0 2-3-2-1-1-1-1-1 2-1 3-1-1-2 0-1-2 0-2-5 4 0 0 0-1 0 1-3-2-1 0-3 2 0-3 0-1-3 3 0 2-2-2-1 1-1-2-2-1-1 0 0 4-1 0-1-5 0 1-1 1-1-2 0 4-2-3-1 3-1-3 0 3 0-2-2-1 0 2 0 1 0 1-1-2 0 1-1-2 0 0-5-1 0 2-2-3-1 5 0-3-1-1 0 2-2 0-1 2-3-2 0 2 0-5 0 1 0 1-1-2 0 0 0 1-1 4-1-2 0 1 0 0-3-2 0 1-1-2 0 2-1 1-1-3 0-1-1 3-1 0 0-1-2-1-1-1 0 2 0-1 0 0-3 0 0 4-1-4-1-1 0 0-2 4-5-2-1 3-1-2 0 2-1-1-1 0 0 0-2-1-1 1 0-2 0 0-1 2-1 0 0-4 0 1-3 3-1-3-1 4 0 0-1-2-1-3-1 1 0 4 0-5 0 5 0-4-1 4-2 0-1 0-1-2-1 1 0-4 0 5 0 0-1-4-1 0 0-1-6 2 0 3 0-2-1-2-1 2 0-1-1 2 0-2-1-2-1 2 0 2 0-4-4 4 0-1-2 0-2-1-1 1-1-1-3-2 0 3-1 0-1 1-2 1 0-3-1 3-1-2-1 1-1-1 0-3-2 5 0-4 0 4-4-4-2 0-2 4 0-3 0 0-1 0 0 0-1-2 0 4-3-1-2-3 0 1-5 2-1 1 0 0-3 1 0-3-3 1 0 0-2-1 0 2-1-2-2 2-2-4-1 1 0 3-3-2-1-1 0 0-2 1-8 3-2-5-7 3 0 2-3-4-5 3-1 0-6 5 21 0 3 2 1 0 0 0 2-5 1 0 1 4 3 0 1-4 2 4 1-1 0-3 1 4 4-2 1-2 1 3 1 1 0-3 2 3 2 0 1 0 1-2 0 0 1 3 2-5 2 2 1 1 1 2 0-5 0 5 0-4 2 2 1-3 1 5 3-1 1-2 2 1 1 1 2-2 0-2 1 5 0-1 2-1 3 2 1-1 0 0 1-1 1-2 1 1 0 0 1-1 0-1 1 4 2-4 1 5 1-4 1 2 0 2 0-5 1 1 1 3 1 0 0 1 2-1 0 0 0 1 2-1 0 1 0-3 0-1 1-1 0 5 1-5 1 4 0-2 1-1 0 0 0 3 1-2 1 2 1-4 0 2 3 0 1 2 0-2 2 0 0 3 0-1 3 0 3-1 0 2 3-4 0 2 0-1 2 3 1-5 0 2 1 2 3 1 2-2 0 2 3-3 0-1 1 4 1-3 0 2 1-4 1 2 0 3 0-4 1-1 0 4 2 1 0-2 2-3 2 5 0-1 0-4 1 0 1 0 2 2 1-2 1 2 0 3 1-3 1-2 1 0 1 0 1 4 2 0 2-3 0 4 1-1 0-2 0 0 0-1 1 4 1-4 1 1 1-1 1 2 2 0 1 1 1-3 1 4 1 0 1 0 1-3 0-1 0 3 5-4 1 1 1 0 1 2 1 1 1-3 1-1 1 4 2-4 2 4 0-4 0 5 1-4 1 2 1-3 0 1 3 1 3 1 1 0 1-1 0 2 0 0 2 0 1-1 0-3 2 5 1-4 1 3 3 0 0-3 3 0 0 2 0-3 0 5 1-5 1 1 0-1 1 5 2-3 0 3 0 0 1-4 0 3 1-2 1 3 1-2 0-2 3 4 1-5 1 1 1 2 3 0 2 2 0-4 2 3 1 0 1-1 3 1 0-4 3 3 0 0 1 0 3-3 1 1 2 4 0-4 1-1 0 2 1 0 1 2 0-3 1 4 1 0 0-2 2-2 1 1 0 0 0 1 1 2 3-4 2 1 0 2 4 1 1-3 0 3 2-4 1 3 0 1 0-5 2 0 2 4 1 0 1-3 2 4 1-2 1-1 1-1 0-1 1 4 0 0 0 1 0-4 1 2 2-3 1 0 1 2 0 1 1-3 1 5 0 0 2 0 2 0 3-4 4 2 2 2 1-4 1 4 2 0 0-1 1-1 1 1 1-1 1-3 0 3 1-1 0 1 2 1 1-4 3 1 0 0 0-1 1 1 1 4 0-5 1 1 0-1 5 1 1 2 0 1 1-4 0 0 2 0 0 3 3 0 0-1 1 2 1-1 0 2 1-2 1-2 7 3 0-2 1-2 5 2 1 0 1 3 2-3 1 0 1-1 4 1 0-2 3 2 1 0 10 1 18 1 7 1-3 4-13-1-9-1-1 3-2 1-3-2 0 1-1 1-3-2-1 2-2-3-1 0-1-2-2 3-1 1-1-2-8 3 0-1-1 1 0-2-2-3-1 0-1 3 0 1-2-1 0 2-1-5-2 4 0-2-1 0-2-2-1 4 0-3-1 3-1-1-2 1 0 1-2-1-1-3-1-1-1 2 0-2-1 0-5 0 0 5-2-3-1 0-1 3 0-4 0 2-2 2-2-3-1-1 0 0-2 4 0 0-1-4-1-1-1 1-1 4 0-3 0 2 0-2-1-1 0 4-1-2-1 0 0 1-5-3 0 2 0-1-3 1 0 0 0-2-1-1 0 3-1 2-1-2 0 1-2-2-1-1 0 2-2-1-2 0 0 0 0 0-1-2-1 2 0-2-1 3-1-3-1 2-1-1-1 2 0 1-2-2 0 3 0 0-1-3-1 1 0 2 0-5 0 4-2-1 0-2-1 3-2 1-2-1-2 0 0-1 0 0-2-3-1 3-1 0-1 0-1 2 0-2-1 0-1-2 0-1-1 2 0-2-3 2 0-1-1 0-2 2-1 1 0 0 0 0 0-1-1 0-1 1-1-2 0 1-1 0-1-1 0 3 0-5-1 0-1 5 0-5 0 5-4-4-1 4 0-2 0 1 0-1-1-3-1 2 0-2 0 5-2-4-2 2-1-3-1 0 0 1-1 2-1-1-3 3-1-5-2 3-1-2-2 4-2-4 0 4-2-4-2 3 0 1-1-2-2 2 0-1-2 0-2-1 0-3-1 3-1 1 0-2-1 2 0-3-1 4-1-3-1-2 0 3-2 2-1-5 0 2 0 0-2-1 0 4-2-2-1 2 0-4-2 0-1 2-1-3 0 3 0 0-4-3-1 3-2-2-1 3-1-2 0 2-1-1-1-1-1 3-2-4-1-1-2 4-1 0-1-2-1 3 0-1-1-1 0 2-2-3-1 1-1-2-2 2-1-2 0-1 0 2-2 0-1 0-2 3 0 0-1-3-5 0-2 3-1-2 0-1-1 1 0-3-1 2 0 1-1-3-2 1-1 1 0 0-1 1-1-2 0 3-1-3 0 3-1-2-1 3-1-2-1-3 0 5 0-4-1 0 0 2-1-3-1 3-1-2 0 2-1-1-1-2-2 1 0 2-4 2 0-5-1 2-2-2-1 5 0-5 0 0 0 1-1 1-1-2-2 5 0-4-1 0-1 3 0 0 0-3-1 2-2 2 0-1-1 0-2 0-1-1-1-3-1 2-1 0-1 2 0-3-2 1-1-1 0-1 0 5-1-5 0 0-3 4-2 0 0-1-1 0-1 2-2-2-1 1-2 1 0-1 0 1-1-4-1 2-2-3 0 4-1-3 0-1-2 4 0 1 0-2-2 0-4 2-2-5 0 1-1 0-1 2 0 2-1-3 0 0 0-2-2 4-2 0-1-3 0 3-1 0-2-1-3-2-2-1-5 5-1-5 0 2-2 1-4-3-3 3-2 2 0-5-1 1-2-1-2 5 0-5 0 4-2 0-4-1-14 2-8-1-5 3 4 4 1-1 0-3 4 2 17 2 1 0 1-5 2 5 0 0 2-3 3-1 1 4 1-1 0 0 0-1 1-1 1 0 1 0 0-2 2 0 0 0 2 0 2 4 1 0 0-4 3 1 1 2 1 2 0-1 2-2 1 3 1-4 0 1 0 2 1-1 1 0 1 2 3-3 1 1 2 0 0-2 1 4 2 0 0-3 1 0 0 1 1 0 0-2 1-1 2 5 0-4 1 3 1-4 0 2 2 3 1-4 1 2 1-2 2 1 0 1 1 1 0-2 1-1 1-1 0 4 1-1 0 1 1-1 0-2 2 2 0-1 2-2 1 1 1-1 1 5 0-2 1-2 0 2 0-2 2-1 1 1 0 1 0 2 1-2 2 1 2-3 0 2 1-1 2 1 1-1 1 4 3 0 0-1 0 0 0-1 1 0 1 0 3-3 1 2 1 3 2-1 2-3 0 4 1-4 2 0 1 0 1 4 1-1 0-3 1 4 1 0 1-4 0 1 0-2 1 5 0 0 1-2 1-1 1-1 2 4 1-4 0 2 1-3 2 5 2-1 0-1 1 0 0 0 0-1 1-2 1 1 1 4 0-1 0-1 1 1 1-3 1 1 0 0 0-2 1 2 0 3 1-3 1 0 0 2 0 0 2 1 0-5 1 0 5 1 0-1 0 4 1-2 1 2 0-4 0 2 0-2 1 5 0-2 0-3 0 2 3-2 0 3 2-1 1 3 0-2 0-3 1 3 0-1 1 2 0-1 2-3 1 5 0-4 0 2 1 2 2-4 0 4 0-1 2-4 0 1 0 2 0 1 1-2 0-1 0 4 1-5 1 0 0 3 0-1 1 2 1-1 0 1 0-2 2-1 1 3 0 1 1-5 2 0 0 1 2 1 1-1 1 4 1-1 0-2 0 0 1 0 0 3 1-2 0 2 1-5 0 2 0 2 1 0 0-1 1 2 1-2 0-3 1 0 3 1 0 0 1 3 1-1 0 0 1 2 0-3 2 1 2-1 0-2 1 3 0 0 0 0 1-2 3 2 1 0 0-1 1 0 0 3 1-3 1 3 0-1 3-4 0 4 1 0 3-2 2 1 1 2 0 0 0-4 2 4 0-1 1 0 0-2 2 1 1 0 1 1 0-4 2 3 2-3 0 3 0-2 0-1 1 4 0 1 0-4 1 3 0 0 1 0 1-4 3 5 0 0 2-5 2 5 1-2 1 1 1-4 2 2 0 1 5-3 0 2 1-2 1 1 1 1 0 3 1-5 0 3 0-1 1-2 0 5 1 0 1-3 0 0 3 2 0 1 1-5 0 4 2-3 1 0 1 0 1 1 0-1 0 4 2 0 1-3 1 1 0-3 1 0 1 4 2 1 1-2 0 2 1-4 2 2 2 2 2-4 1 3 1-2 1 1 1 0 1-3 3 4 3-1 0-3 2 4 3-3 0 1 0 3 1-3 1 1 0 2 1-5 0 3 1 0 0-2 2 4 0-1 1-1 0 2 0 0 1-3 0-2 1 2 0 2 1-2 2 3 0-5 1 0 2 3 4-3 0 5 1-1 2 0 0-4 1 1 0 2 1 0 2 2 0-2 0-2 2 3 3 1 2 0 0-5 2 0 1 4 2 0 4-2 4 3 0-5 0 2 1-1 6-1 2 5 0 0 4-4 9-1 2 3 0 2 3-4 6 0 4-1 7 5 2-3 1 8-5-2-2 0-9 3-2-3-4 1 0 2-2 0 0-1-1-1-5 0-1 0-4-1 0 0-3 2-1-2-3 0-1 1 0 0-1 2-1-4 0 4-1-1-1-2-1 1-1-1-1 0 0 2-2 1-4-1-1 0 0-4-2 1 0 1 0 2-1-2-3-2 0 4-1-3-3 1 0 0-1 0 0 1-2 2-1-5 0 1-1 3 0 1-1-3 0-2-1 5-2-4 0 1-1-1 0 2-1 0-1 1-1-1 0-1-1 0-1 3-1-1 0-2-1 2-3 1-1-3-1-1-2-1-1 4 0 1 0-5 0 2-1 2-1-2 0 3-2-1-1-2-1 3-1-3 0 2 0-2-1 1-2 0 0-1-1 2-4 0-1-1 0 2-1 0-1-2-1 2-2-5 0 3-1-1-1-1-1 1-1 2-1 1 0-1 0 1-2-5 0 3 0-1-1 1-2 0-1-3 0 5-1-1-2-3 0 3-1 0-1 1-1-1-1 1-1-5-2 5-1-3 0 3 0-4-2 1 0-1 0-1-1 2 0 3-1-5 0 4 0 0-3 1 0-2 0 1-1-1 0 1-1-4-1 4 0 1-1-5-1 5-1-3 0 0-1-2 0 2-1-1-1 0-1-1 0 5-2-5-1 1 0 0-3-1 0 3-1 0 0 0-1-1 0 2 0-3-4 1-2 2 0-4 0 1-1 0 0-1-1 4-1-4-3 2-2 1-1-2 0 3-1-3 0-1-1 0 0 3-2-1-1 1 0 2 0-4-1 3 0-4 0 2-1 3 0-2-1 0-1-3-1 0 0 4-1-3 0 1 0 1-1 2 0-1-2 0 0-2-2-2 0 2-1-2-1 5-1-4-2-1-2 5-2 0-1-3 0 0-1-2-1 5-1-3-1 2-2-3-1-1 0 5-2-4 0-1-1 5 0-3 0-2 0 2-1 3 0-5-2 3-2 0 0-3-1 2-1 3-1-5-2 5-1-5-1 3-2-3-1 1-1 2-1 1 0-2-1-1 0-1-1 2 0-1 0 3 0-2 0-2-1 5 0-1-1-4-1 3-1-3-1 1-1 3 0-3-1 1-1 2 0-1-4 0-1 0-1-1 0 0-3 0 0 2-1-3-1 0 0 0-1 4-1-4-2 3-4-1-1 0 0 2-1-3-2-1 0 3 0-1-1 1 0-2 0 2 0-2-2-2-3 5-1-1 0-3 0-1-1 3-1-2-1 2-1-2 0 2 0-3 0 2-2 3-1-1-2-1 0-2-2-1-1 2-1-2-1 1 0-1-1 2-5-2-1 3 0-3-1 4-1-2 0-1-1 0 0 4-1-4-1 4 0-4 0-1-3 4 0-1-3 2-1-1 0 1-2-4-1 0-1 4-1-3-2-1-2 3-1-4-1 0 0 1-1 2-3 1-1-2-1 3-1-5-2 5 0-4 0-1 0 1 0 2-1-3-2 3 0-2-1 2-1-2-2-1-1 1-1-1-1 2 0-2-1 2-1 2-2 1 0-4-1-1 0 5-2-3-3 1-1 2 0-5-4 0 0 5 0-3 0-1 0-1-1 5 0-1-1 0-1-2 0 3-1-4 0 4-1-5 0 3-1-2-2-1-2 4 0-1-2 1-1-4-4 2 0 2-1-4-2 4 0 0-1 1 0-5 0 3-1-2 0 3 0-1-2-2-2-1 0 4-1-4 0 5-1-3 0 0-1 0 0-1-1 4 0-1 0-4-1 1-1 0 0 3-3 1 0-1-2 1-5-2 0-2 0 4-1-2-1-3-6 3 0 0 0 0 0-1-1 0 0 1-1 1-8 3 3 2 4-3 5 3 2 1 0-3 1 3 0 0 0-2 2 1 4 2 1-2 0-3 5 3 1 1 1-3 0 3 0 0 1-1 2-2 1 3 0-1 1-1 1 2 1 1 1-3 0 1 0-3 2 4 0-2 1 0 1 2 1-2 0 3 1-3 0-2 0 5 2 0 0 0 0-5 1 5 1-4 0 1 0 1 1 1 2-1 1-1 1-1 1 1 0 2 0 1 0-4 1-1 1 2 2 0 0 0 1 1 0 2 0 0 0-4 0 3 1 1 0-3 1 0 1-1 0 3 0 1 1-1 1-2 1 0 2-2 1 1 1 1 0 3 0-5 1 4 0-2 1 0 1 0 1-1 1 2 0-1 0 1 1 1 1 1 1-4 0 2 1 1 0-3 0 4 0-1 4-2 1-1 2 3 0 1 2-5 0 3 0 1 1 0 1-3 3 2 1-1 0 1 1-3 1 1 0 3 1 1 0-5 0 1 1 3 1 0 0-3 1-1 1 2 0-1 0 2 0-1 3 3 0-2 2-3 1 3 0 2 0-4 0 0 1 2 0-1 1 2 0-1 1-1 1-1 1-1 1 3 0 1 1-2 0 0 2-1 0 0 2 2 0 0 2-2 0 4 0-2 1-3 0 2 1 0 1 1 0-3 0 4 1 1 4 0 0-1 1-4 0 5 0-2 2 0 1-3 2 5 0-4 1 3 1 1 0-5 0 4 1-2 1-2 0 2 0-2 1 5 5-1 1-4 1 1 0 3 1 1 2-3 1-1 0 3 2 0 2-2 0-2 1 2 1 2 0-2 0 0 0 1 1-2 1 3 0-1 0 2 4-4 0 2 0 0 1-3 1 5 0-3 1-1 1 2 1-3 0 2 0 1 2 1 1-3 3 0 0 2 2-1 0-2 1 3 0-3 0 1 1 3 1 1 0 0 1-4 2 1 1 1 2 0 0 1 2-2 1-1 0 0 4 3 0 1 1-1 1-3 0 4 1-3 1-2 1 2 3 2 1-1 0-3 0 2 1 0 0-1 1 0 0 2 1-1 0 1 0-1 2 3 0-2 1 1 3-4 0 4 1-2 3 1 0-3 0 1 0 2 1 0 2-2 0 3 0 0 1-1 1-3 0 3 2-2 0 2 1-1 1-1 3 4 1 0 1-2 1 0 1 1 1-2 1 2 0 1 1-1 0 0 2-4 2 2 0-1 1-1 3 2 0 3 1-1 0-3 1 1 2 3 0-5 4 5 0-4 1 0 1 4 1-5 0 1 0 3 2-3 1 0 1-1 2 2 1 3 0-4 1 3 0-4 1 2 2 2 0-4 0 0 1 2 0 3 1 0 0-1 1-3 1 3 2-2 0 2 0-3 1 0 2 3 1-2 3 1 0 0 1 2 0-2 1-1 0-1 2-1 0 0 3 0 1 4 2-2 0-1 2 3 3-4 0 5 2-2 0-3 2 1 0 0 1 2 2-2 1-1 2 3 1-1 1 0 0 0 1-1 1 2 1 1 0-3 1 0 1 3 1 1 1-3 0-2 0 4 1 1 2-5 1 1 1 0 2-1 0 3 3-1 1 3 1 0 0-4 0 3 1-3 0-1 1 4 1-3 1-1 2 5 1-5 1 3 1 2 0-5 1 3 0-3 0 4 1-1 0-1 2-1 0 4 1-4 0 4 0-3 1 2 0-4 2 4 1-2 0 0 2 2 0-1 1 0 1 1 1 1 0-5 1 5 0 0 1-3 1 2 1 1 0-1 1-3 0 4 0-4 2-1 0 0 1 1 1 3 0-2 1 2 1-4 1 5 1 0 2-4 3 3 1-2 1-1 1 0 3 2 5 2 1-3 1-2 1 1 1 1 1-1 0 1 1-2 0 4 2-4 1 2 0 3 2-5 1 4 0-3 5 3 4-3 3 4 1-4 1 0 0 3 1-1 21 2-6 2-8-1 0 3-3 1-2-4-1 0-2 1-1 2 0 1-1 0-2-3-1 2 0 2 0 0-2-3 0-1-2 3 0-2-2-1 0 4-2-3-3 3 0-4-3 3-1-3-1-1-1 2 0-1-1 4-3-1 0 1 0-5-1 1-1 0-1 3 0-4-1 4-1-2 0-1-1 2-2-1 0-1 0-1-3 1 0 3 0-2 0 3-1 0-1-2 0-1-1 0-2 1-3 0-1 2 0-5-2 4 0 1-2 0 0-4 0-1-2 3 0 0 0-3-1 0 0 3-1-2-1 3 0 1 0-4-2 3 0-3-5 3 0-4 0 4 0-4-1 1 0 1 0 2-2 1-1-5-1 1-1-1 0 3 0-3-1 1-1 1 0-2-1 5 0-3-2 2 0-3 0-1-2 1-1 3-1-2 0 1-1-1 0 1-2 1 0-4 0 0-1 2-1 2-1-3-1 2 0 0-1 2 0 0-1-5 0 4 0-4 0 3 0-3-2 5 0-5 0 0-2 3-2-1-1 2-1 1 0-3-1-1-1 0-2 2-2-3-1 5 0-2 0-1-1-1-1 3-1-3-1 2-2 2-1-2-1-1 0 3-1-4-2 1-1 0-1-1 0 1-1 3-2 0 0 0-1-2 0-1-2 2 0-4 0 1 0 4-1-3-2 0-2 2 0-4 0 2-1-2 0 5 0-3-2 3-1 0-3 0 0 0-2-2 0 0-2 0-5-3-1 4 0 0-1 1-1-5 0 0 0 4-1 0 0 1 0 0-1-5-1 3 0 2-1-2-1 2 0-1 0 1-2-5-5 2-6-2 0 0-1 5-1 0-3-3-2-2 0 4-1-3 0 2-1-2-2-1-2 0-3 3-2-3 0 5-1-4-1 1 0 1-2 0-1 1 0 1 0-3-1 1-1-2-2 2 0-1-1 1-1 2 0-4-1-1-1 3 0 0-1-2-1 0 0 2 0 1 0 1-1-3-1 1-4-3-3 5-1-3 0-1-3 3 0 1 0-2-1 1 0-3 0-1-1 5 0-3-1-2-1 5 0-1-1 1-1-1-1-1 0-2-2 0 0 4-1-4-1 4-1-1 0 0-1-2-1-2 0 4 0 0-1-1-1 0 0-1 0 0 0 0-1 3-2-5-2 1 0 4 0 0-1 0-2-5 0 3-3 2-5 0 0-1-1-4 0 5-2-2 0-1-2-2 0 2 0 2-1 1 0-1-1-4 0 1-1 3-2-3-1 1 0 2-1-3 0 1-1 3-1-2 0 2-1 0-1-5 0 3-1-1 0 3-2-3 0 0 0 1-1 1 0-3 0 2-2-1-1 0-1 3 0-3-1 0-1 0-1-2-1 4 0 0-2-4 0 1-1-1 0 3 0 2-1-2-1 1-1-1-1-1-1 2-1-2 0 3-1-3 0 3-1-1-1 1-1-5 0 2-1 3 0-4-1 2 0-1 0 1-1-2 0 4 0-3-1-2-1 4 0-2-1-1 0-1 0 0 0 2 0 2-1 0-2-1-2 0 0 0 0-3-1 5 0-5-1 4-1-1-1 0 0-1 0 2-1 0-1-2 0-2 0 5-1-5 0 0-1 1-3 4-3 0 0-5-1 3-1 0 0-2-1-1-1 4 0-1 0-2 0 0-1 1-1 3 0-5 0 0-1 0-2 0-3 2 0 3-1-2 0 1-1-4-1 3 0-2-1 3 0-3-1-1 0 4 0-2 0 3-1-4-1-1 0 4 0-3-1 1 0 2-1 0 0-1-2-3-1 0 0 3 0-1-1-1 0 3-1-3 0 0-1 3 0 1-1-3 0 1-5 1 0-4-3 5 0-2-4-1-2-2 0 2-1 2-1 1 0-2-1-1 0 3-1-5-1 5-2-5-1 1 0 4-1-4 0 2-1 0 0 1-1 0 0-1 0-1-1 0-1 3-1 0 0-1-3 1-1-5 0 4-3-2 0 2-1 0-1-1 0 2 0-4-1 0-1 3-1 1 0-3-3 0 0 2-1-2-1-2 0 3-2-2-1 3 0-3-1 3-1 1-4-1-3-4-2 4-1-4-3 10 4 1 1-2 2-2 1 4 3-2 3 0 1 0 3-3 1 4 0-2 1-1 0 3 1-1 1-1 0 3 1-2 1 0 0-2 2 4 0-3 3-1 0-1 0 1 0-1 1 4 0 0 1-4 0 5 1-1 3 0 0 1 1-4 0 4 1-5 2 2 0-1 0 2 0-1 0 3 2-2 1 2 0-1 1-4 0 0 1 3 1 2 0-3 1 2 2-2 1 3 0-1 0 1 1-3 2 2 0-3 2 3 0-1 0 1 1-1 0 0 2-2 0 3 0-2 2 1 0-2 1 1 1 0 1 0 1 2 1-3 0 3 1 1 2-2 1 2 0-5 1 1 1 0 0 2 0-2 1 2 0-3 1 2 1 1 0 0 2-3 1 0 0 2 2 2 0-4 2 3 1-1 0 0 0 3 1-3 2 1 0-2 4 3 0-3 3 2 0-2 1 2 1 0 1 2 2-1 1-2 0 0 1 1 1-3 1 4 1-2 0 2 0-2 0 1 1 1 1-4 0 0 1 5 0-4 0 2 1 0 1-1 2 3 1 0 0 0 0-3 1 3 1-5 0 0 1 5 0-2 0-1 2 1 0-2 0-1 2 3 0 1 0-3 1 3 0-1 1 2 1-1 2-1 1 1 0-2 0 2 1-4 1 4 0-3 1 4 1-2 1-1 2 2 0-1 1 1 0-3 1 3 2-4 0 3 1-2 1 4 0-3 2 2 1-1 1 0 1-2 0 2 1 0 1-3 0 3 1 2 0-4 1 3 0 0 1-2 0-2 0 0 0 4 0 1 5 0 0-1 1-2 1 1 0 0 0-3 2 0 0 3 0-3 0 3 1-1 0-1 3 1 4 0 1-1 1 2 1 1 0 0 1-2 0 1 1-3 0 0 1 2 0-1 2 2 0 2 0-1 1 1 1 0 1-3 0-1 0 1 1 1 2-1 2-1 0 0 1-1 0 5 2-4 1 1 2-2 2 3 0 0 1 0 2-1 2 3 0-3 2 1 1 1 0-4 1 1 1 1 1 1 0-1 0-2 1 3 0-3 1 3 0 0 1-2 0 0 1 0 1 3 1-1 0 1 4 0 1 1 1-4 0 0 1-1 1 2 1 0 0-2 1 2 1 1 6-2 0 2 0-2 3 2 3 0 1 2 0 0 1-2 2-1 1 1 2 1 0-1 2 1 1 0 0-1 1-2 0 2 2-2 0 0 1-1 0 2 0 0 2 3 1 0 1-4 2 2 0-3 0 4 1 1 0-4 3-1 0 2 1-2 1 4 0 0 0 0 0-3 1 4 2-5 0 3 1 1 1-1 3 1 0-3 1 1 1 3 0-4 1 2 1 2 1 0 0-1 1-3 1 0 1 0 0-1 1 0 1 3 1-3 1 2 2 3 2 0 1-2 0 1 1-3 0 3 1 0 1-1 2-2 1 0 0-1 0 1 0 1 0 0 4 0 0 0 1 2 1-1 1-2 1 0 0-1 1 3 0-3 1 3 0 2 1-1 1-2 5 3 1-3 1 0 0 1 1-2 0 2 0 0 1-1 1-2 0 4 1 1 0-4 1 0 0 2 0 0 1 2 0-3 1-1 2 1 2 3 0-3 1-2 1 1 0 0 1 2 1 2 1-4 1 1 0-1 0 2 1-1 1 2 1-1 1 2 1-2 1-3 1 0 1 4 1-3 0-1 0 0 2 2 0 1 0-3 0 5 1-3 1 0 1 1 1 0 0 1 1 0 1-1 0 0 1-3 0 0 2 3 1-1 0-2 0 1 1 4 0 0 2-2 1-3 0 0 1 2 4-1 1 3 0 0 1-1 1-1 1 0 0 3 1-3 0-1 1 2 0-3 1 2 0 2 0 1 0-3 1 3 1-1 0 0 1 1 0-4 1-1 0 2 0-1 1 4 0-2 1-3 0 0 0 3 0 2 1-4 1 1 1 3 0-4 1 2 0 2 1 0 0-1 1 1 1-1 0 0 1 1 1-2 0-3 2 0 0 5 0-2 0 0 3-3 1 0 1 5 0-5 1 1 1 2 1 0 2-3 0 4 0-1 0 0 4 0 1-3 1 5 1-2 1 1 0 0 0 1 6 0 1-5 2 4 0 1 1-5 1 0 1 1 2-1 1 1 6 4 8 5-6 1-1-3-1-2-1 5-1-2-4 0 0 1-1 0 0-3-1 0 0 3-1-1-2 2-1 0 0-1-5 0-1-2-1 3-1 0 0-1-1-1-1 1 0-4-1 4-1 0 0 1-1-2-1 2 0 0 0 0-1 0-1-3-1-1-1 0-1 2 0 1-1-3-1 3 0-2-1-1 0 4 0-3 0-2-1 3-2 0-1-1-1-2 0 3 0-2 0 1-3 2 0 1-1-2-1-3-2 4-1-1 0 2 0 0-1-4 0 4 0-4-1 1 0 3-1-2 0 1 0 0 0-4 0 2 0-2-1 1-2 4 0 0 0-2 0 0-1 2 0-4 0 4 0 0 0-5-1 2-1-1-1 2-1-2 0 1-1 2 0-2-3 2-1-1-1 0-1 1 0-1 0-2-2-1-1 4 0-1 0 1-2-4 0 0-1 5 0-1 0-1-2-1-2 2 0-4 0 0-1 2-1-2 0 3 0 0 0-3-2 5-1-1 0-3-1 3-3-4 0 5-1-3 0-2-1 3-3 0 0 1 0-2 0 2 0-2-2-2 0 4-1-3 0 0 0 0-2 2 0-2 0 4-1-3 0 3-1-3 0-1-1 1 0-1 0 3-1-2-1 0 0 1-1-1 0 3-1-4-1 4-1-5-1 3-1 1-1-2-2 3 0-5 0 3 0-1-1 1 0 1-1-3-1 2 0 0-1 1-1-4-1 1-1 4-1 0 0-3-1 1-1-1-2 2 0 1 0-2-2 2-1-2 0-2 0 4-2-4 0 2 0 1-1 1 0 0-1-1 0 1-1-3 0 1 0 0-1-3 0 3-1 2 0-3-2 3-1 0 0-3-1-2-1 3 0 2 0-2 0-2 0 2 0 2-1-5-2 3 0 1 0 1-2-3-1-2-2 3 0-1-1 1 0 0 0 2-1-1-1 0-1 1-1-2 0 2 0-1 0 0-1-1 0-1 0 1 0-2-2 2 0-3 0 5-1-3-6-2 0 1-2 0-1 2-1 2 0-3-1-2-1 3 0 2-1 0 0 0 0 0-1-2-1-2-1 0-1-1 0 2-1 0-2-2 0 0-2 5-2-5-1 3 0 1-2-1 0 1 0-3-2 2 0-2 0 1 0 1-1-2 0 3 0-4-1 2 0 2-2-1-2 0 0-3 0 4-1-2-2-2-2 5-1-3 0-2 0 1 0 4-5-3-1 2-1 0-4-3 0-1-1 4-4 0 0 1-3-2-2-2 0 2-1-1-1-2 0 1-1-1 0 4 0 1-1-5-1 3 0-2-2 3-2-3-3 3 0-4 0 0-1 0 0 4 0-4-1 4-2-2 0 1-1-3-1 1-1 3 0-1-1-2 0 1 0 3-1-3 0 3-1-3 0 3-1 0 0-2-2-2 0 2-1 1 0 0-1-2-2-1 0 1-1-1 0 4-1-1-2 0 0-2-2-2-2 1-1 4-1-3-1 0-1 1 0 0-1-3-3 5 0-3 0 1-3-1 0 3-1-4 0 2-1-3-1 4 0-1-1-3-1 4-2 0-1 1-1 0-2-3-1 0 0 2-1-2 0 1-2 1 0-1 0-1-2 0-1 1 0-2-2 2 0-1-1-1-2 4 0-3 0-1 0 1-3-1-1 3 0-3-1 2 0 0-3-1 0 3 0-3-1 1 0 2-1-5-2 1 0 2 0 0-3-2-2 2 0 1 0 0-1 1 0-5 0 4-1-3 0 4-1-3-2 2-1-1 0 0 0 0 0-1-1-2-2 0 0 3 0 1-1-3-1 3 0-2-1-2-1 3 0-1-1 0 0 1 0 1 0-1 0-1-1 3 0 0 0-4-2 3-1-2 0 1-1-3 0 2 0-1 0 1 0-2-1 5 0-2-1 0 0 1-1 1-1-2-2 0-3 2-1-4 0 0 0 0-1 0 0 2-2 0-1 1-2-2 0 3-2 0 0-5 0 5-1-3 0 0 0-2-1 0-1 3 0-3-1 3 0-2-1 0 0-1 0 5-1-5 0 3 0-2-1 4 0-2-1-2-2 3-1 0 0-2 0 3-2-3 0 2-1-2 0-2-1 3-1-2 0 4-1-4 0-1 0 5-1-1 0 1-2-3 0 0-1 1-2-3-1 1-1 4 0-3 0 2 0 1-1-3-1 0-1 0 0-2 0 3-1-3 0 2 0 0 0-1-1 2 0-2-1-1 0 5-1-4-1 2-1 2 0-3-2 1 0-1-1-1-1 1 0-2-1 4-1 0 0-4-1 3-1-2 0 4 0-2 0-2-1-1-1 2-2 0 0-2-1 0 0 5 0-2 0 0-1 1-1-4 0 5-2-4-2 3 0 1-1-1-1-2 0-2-2 3-1 2-1-1 0-2-1 2 0 1-2 0-2-3 0-1-2 0-3 3 0 0-1 0-2-1-3 7 3 1 2-4 4 0 4 1 2 1 0-3 3 1 0 2 1 2 2 0 0-1 2-2 2 0 0-1 1 1 0 0 2 0 1 2 0 1 1-3 1-2 1 3 0 0 1-1 0-2 2 1 0-1 0 5 0-1 1-4 0 4 0-1 1-1 0 2 4-4 0 1 0 4 0-4 2 2 1 2 0-1 2-4 0 1 0 2 2-2 0 1 1 1 0 1 2-1 2 2 0-4 1 4 1-5 0 2 0 0 1 0 1 3 0-3 1 0 2 3 0-4 1-1 0 2 0 2 2-4 0 5 0-5 2 4 1 1 2-3 0 0 1 1 0-2 0 2 0-3 0 5 2-2 0 2 0-3 0 3 0-5 1 2 0 3 1 0 0-3 0 0 1-1 1 4 2-2 0-3 3 2 0-1 0-1 1 3 0 0 1-2 0 0 2 2 1-3 0 4 1-3 0 2 0 0 1 1 0-3 1 4 2-3 0 0 1 3 1-1 0-4 0 5 1-1 0 0 0 1 1-5 0 0 0 3 1-3 0 3 1 0 0-1 1-2 1 3 0 2 1-4 2 1 2 2 1-3 0 1 1 1 1-3 1 4 1-4 1 1 0-1 1 2 1 1 1-1 0 3 1-5 1 2 1 0 0-1 1 2 1 0 1 0 0-1 0 2 1 1 1-5 0 2 0 1 2-3 1 0 0 2 2-1 0 3 0 1 0 0 1-1 1-2 1 0 1 2 1-4 1 4 2-1 0-2 0 0 0-1 2 4 0-1 1-3 1 5 2-3 0 3 1-4 0 0 0 3 1-1 0 1 0-1 1-3 1 1 3-1 0 0 0 4 1 0 1-3 0 1 1-1 0 1 0 0 1 0 1-1 0 0 1 1 0 2 0 1 1-5 1 4 0 0 1-4 0 0 0 4 5-3 0-1 2 4 0 0 2-3 1 3 0-2 2-2 1 5 1-1 2-1 0-2 1 1 3 0 1 3 1-2 1-1 0-1 1-1 0 5 2-3 1 2 0-1 1-1 2-2 1 2 1 3 0 0 0 0 1-1 0-3 2 0 0 4 1-2 2-3 2 3 0 1 1-2 1-1 0-1 0 0 1 4 0 1 1-1 0-1 1-2 2 3 0 1 1-1 0-2 0 2 1-1 1-2 0 2 1 1 1-1 1-3 1 5 0 0 0-2 0 0 1 1 1 0 1-2 0-2 8 1 1 0 1 0 0 3 0-4 1 2 0-1 1 0 2 3 1 0 2-1 2 2 2-3 1-1 0-1 0 5 1-1 1 1 1-1 0-1 0 0 0-2 1-1 2 1 0 4 0-2 2-1 2 3 1-4 1 0 0 0 1 1 1 1 0-2 0 0 2-1 0 0 0 4 1-3 1 0 0 4 1 0 0-2 0-2 1-1 0 1 1-1 1 3 0-2 0 1 1 0 0 0 1 0 1 2 1-2 0 3 1-2 0-3 0 2 2-2 1 0 0 3 1-2 0 3 1-3 1 2 0 1 1-4 0 4 0-2 1-2 1 1 0 2 1 1 1-4 0 5 2-5 0 0 1 1 1 0 0 4 3 0 0-5 1 4 1-2 0 3 4-5 1 4 1 0 1-1 2 1 1 0 1-2 0 1 0 2 0 0 0-3 0 1 0-2 0-1 1 4 1-4 2 4 1-4 2 5 0-3 0 0 1 2 0-3 0 1 1-2 0 2 1 0 1 2 0 1 1-2 0-2 1 0 2 2 2 0 0 1 1 0 1-1 3-2 1 0 1 3 0-3 0 0 1 0 3 3 0-4 1 4 3-2 0 0 1-1 1 1 0 3 2-5 1 1 1 1 0 2 0-4 1 5 0-4 0 3 1-3 1 0 1 0 0 4 1-2 0 1 1-1 0 1 1-1 2-3 1 3 0 2 1-5 0 4 2-4 1 0 0 5 1-2 1-1 0-2 1 2 1-2 0 1 1 1 0-1 1 2 0 0 1-3 1 3 1 1 0-3 0 1 1 0 0-1 0 0 0 0 0 0 1-1 1 3 1-1 1-1 0-1 0 5 1 0 0-4 3 0 0 2 0 2 1-5 1 1 1 4 1-5 0 3 1 1 0-2 1-1 0 1 2 2 1 0 0-1 0-1 0-1 2 0 1 0 2 0 0 0 1-1 0 5 1-3 0-1 1 0 0 1 0 2 1-4 0 4 0 0 2-3 2 2 0-2 1-1 0 3 0 2 1-3 2 3 0-4 1 3 0-1 2-3 0 0 1 2 0 1 0-1 1 0 1-1 1 1 1 3 0-5 1 3 2-1 0-1 0 1 1 1 7-2 2 3 1 0 1-1 0-3 1 3 0 2 0-5 2 3 0 1 1-3 7 0 4 0 3 3 7 5-4-3-4 0 0 5-8 0 0 0-1-2-1-3-2 5-1-5 0 0-3 4-1-4-1 4 0 1-1-4 0 4-2-3 0 2-1-2-1 2 0-1-1-3-1 0-1 4-1-2-2 1-1 1-1 1-1-2 0 2 0-2-1-2 0 4-2-1-1 1-1-1-2-3 0 4 0-3-1 3 0 0-1-1 0 1 0-3-1-2-1 4 0-2-1-1 0 4 0-1 0-4-1 3 0-2 0 4 0 0-1-2-1-3 0 1-1 3-1 0 0-2-2 1 0-3 0 0 0 1-1-1-1 2-2 1 0-3-1 1 0 4 0 0 0-5 0 1-1 0-1 2-1-3 0 2 0 3 0-1-1-2 0 3-1-4-1 2 0-3 0 0-1 5 0-5 0 2 0 0-1 1-1 2-1-1-1-3 0 2 0-3-1 5 0-1-1-2-1 2-2-3-1 3-1-2-1 2 0-1 0 2 0-3-1 0 0 2-2 1 0-2 0-3-1 3-1 1 0-2-1 3-1 0-1-1 0-3-2-1 0 3 0 0-1 2 0-1-1-1 0 1-1-4 0 4-1-1-1 1-2 1 0-1 0-1-1 2-3-5-1 1 0 2 0 2-1-3 0 0-2-1 0 4-1-5-1 5-1-4-3 0 0 0-1 3-1-3 0-1-1 5-2-4 0 2 0 2-1-1 0-3-1 2 0-1-2-2 0 4 0 1-2-3-1 3-1 0 0-4-1 3 0-1 0 2-3-1-2 0-1-3 0-1-1 5-3-4-1 2-1-1-1-2 0 1 0-1 0 3-2 1-2-3-1-1 0 2-2 0 0 2-1-4 0 3-1-3-1 2 0 1 0 0 0 0 0 2 0-5-1 1 0 3-1-3-1 3 0-1-2 1-1 0-3 0 0-1 0-3-2 5-1-3 0-1-1 0 0 2-1 1 0-3 0 0-1 0 0-1 0 2-4-1-1 2 0-2-1 4 0-1-1 0-1-1-1-1 0 2-4-1-1 2-1-5 0 2-3 3 0-4-1-1-3 2 0 3-3-1 0 0-3-1-1 1 0-2-1 2 0-4 0 5 0-3 0 3 0-5-1 5-1-5 0 5-1-3-1 2-1-1 0 2-1-5 0 4-2-2-1-2-1 2 0 1 0-3 0 5-1-1-1-3 0 4-1 0 0-2-6-2-1 3 0-3-2 4-1-2 0 1 0 0-1-2-2-2 0 1-1-1 0 3-1 1 0-1-1 0-3 1 0-3 0 1 0 0-1-1-1 4-2-3 0 3-1-2 0-1 0 0-1-2-1 2 0 2-1-1 0-1-1-2-2 0-2 4-1 1-1-3 0-1 0-1 0 5 0-4 0-1-1 2-3-2 0 1-1 3-3-4-1 2 0-2-1 4 0 0-1 0-2-3 0-1-2 4 0-3 0 4 0-4-3 1 0-2 0 2-1-2-3 5 0-2 0 2-1-3-4-1-2-1-1 5 0-5-1 1 0 4-1-2-1 1 0 0-2-4 0 3 0-2-2 4 0-3-1 3-1 0-2-1 0-3 0 4-1-4-1 0 0 4 0-1-1-4-1 0 0 4-1 1-1 0-1-3-3-1 0-1 0 5-1-4-1 4-1-2 0-2 0 0-1 4 0-5-1 1 0 4-1-5-2 2 0 1-2-2 0 0-1 3 0 0-1-3 0 2-1-2-2 4-1 0 0 0-1-1-1 1 0-4-2 4-1 0-2-1 0 0 0-3-1 0 0-1-1 4 0-4-1 2 0-1-1 2 0-2-1-1-2 1-1 1 0 1-2-1-1-2 0 5 0-1-2 1-1 0-2-5-1 3-2-3-1 1-1 0 0 1-1-2-2 5-1-2 0 1 0-2-2-2 0 5-1-2-1-2 0 0-1 4 0-4-1 2 0-3-2 1-1 1-2-2-1 0 0 3 0-3 0 4 0-1-1-1-1 2-1-4 0 1-1 4 0-5 0 1-1 3 0-1-2 2-2-5 0 3-1-1-1 1-2-2 0 1-3 1 0-2-1-1 0 4-1-4 0 3-1 0 0 1 0-2-2 0-1 1-4-2-1 3-1-2 0-2 0 0-1 3 0-3 0 5-1 0 0-2 0 1-2 0-2-3 0 1 0 0-3 0-1 2 0 1-1-1 0-1 0-1 0-2-1 0-1 5 0-3-1 2 0-1 0-1-1-1 0 1-2 0 0 0 0 2-1 1-1-1-1-4-1 1 0 3 0 0-1-4 0 3-1-3 0 0-1 0-1 2 0 1-1-2-1 4 0-2-1 0 0-3 0 5-1-5-1 0-1 3-1 1 0 1 0-5-2 5-1 0 0-3 0-1-1 3-1-2 0-1-1 0-1 2 0 0-2-2 0 1-1 3 0 0-1-3-1 2 0-3 0 0-1-1-1 2 0-1-1 2 0 2-1 0-1-3-2 2 0-3-1 3 0-3-1 1 0 5 0 3 1 0 0-4 0 1 0-1 2 0 0 5 2-1 0-2 0-1 1 2 1 0 1 2 1-1 0-2 1-1 0 2 2 0 1-3 0 1 0 2 0 1 0-1 1-3 1 1 0 4 2-1 0 1 1-2 0 0 0 1 0 1 1-3 0 0 0 2 1-4 0 0 2 4 2 1 0 0 0-1 3-4 0 3 1-2 0 2 0 0 1-2 1 4 0-5 0 4 1-4 0 0 1 5 0-3 2 0 1 3 0-2 0 2 3-5 1 3 2 0 0-2 0-1 1 3 0 1 1 0 0 0 0-1 0-1 1-1 0 1 1 2 1 1 2-5 0 5 1-3 0-2 1 3 0 2 1-1 1-3 1 0 0 1 1 3 0-3 2 2 0 1 0-3 0 2 1-3 0 4 0-3 3 2 1-3 0 0 1 3 0 1 0-3 1 3 1-1 0-4 0 4 1 0 0-3 0-1 2 5 1-2 0-2 0-1 3 0 0 3 1-3 1 5 0-1 0-2 1-1 1 0 0-1 0 3 1 1 2-3 1 0 1 0 1-1 1 0 3 3 0 2 1-1 0-2 1 0 1 2 1-2 0-2 0 4 0 0 2 0 0-1 0 0 1-2 2 0 1 0 1 3 1 0 4 1 5-3 1-2 0 0 0 4 0 0 1-1 0-1 1 2 2-2 2 1 0-2 0 2 2-2 0-1 0 5 1-1 0-2 0-2 0 2 1 2 1-1 1-2 1 4 2-5 0 3 2-3 0 3 1 1 0-2 1 2 1 0 2 1 0-4 3 1 1 2 0 0 0-1 1-2 0-1 1 3 1-3 0 5 1-2 1 1 0-1 1-1 0 0 1 3 1-3 2 3 0-2 3-3 1 0 0 2 1 1 0 0 2 0 0-2 0 3 2 0 1-2 0-1 0-1 1 0 1 4 1-4 1 0 1 3 1-2 0 4 2-5 1 0 2 3 0 1 3 1 0 0 1-1 0-3 2 2 2-2 0 0 1 1 0-2 3 3 0-1 3 0 2-2 0 5 0 0 3-4 3 1 0-2 1 3 0-3 1 4 1-3 1 4 2-1 2-2 0 0 1 1 0 0 2 0 0-2 1 2 1-3 1 0 2 3 1-2 0 4 0-1 1-4 0 3 0 1 1-4 1 2 1-1 2 0 1 3 1-4 1 0 2 0 1 0 1 0 0 2 1 2 1-2 1 3 0-5 0 5 1-4 0 2 0-2 0 1 0 2 0 1 2-3 0 2 2-1 0 1 1 0 1-4 2 5 3 0 1-3 1-1 0 3 1-4 0 3 0-1 3 3 0 0 1-2 0 2 1-1 1-2 2 2 0 0 1-3 0-1 3 0 0 3 3-1 0-2 2 0 0 3 0-3 1 2 2 3 0-5 0 5 0-4 0 1 1-2 0 3 0-3 2 1 3 4 1-4 0 4 1-5 1 3 0-2 1 3 2-4 1 0 1 1 0 1 1-1 1 0 0 2 0 1 1-4 3 2 0 3 0-4 1 1 1-2 0 4 0-2 1 2 0 1 2-5 1 5 1-1 1-2 2 3 0-5 1 3 0 0 1-1 0 1 0-1 2-2 0 3 1-2 1-1 1 1 0 0 0 3 1-3 3 4 0-3 0-1 0 3 0-3 1 3 1-3 2 1 0 2 2-2 0 0 1 2 0-1 0 2 0-5 1 1 1 2 1-2 0 2 1 1 0-4 0 4 1-1 1 2 0 0 1-3 0-1 0 2 2-1 0-2 1 2 0 2 1 1 0 0 1-4 2 2 0 1 0 1 0-4 1 3 0-2 0-2 1 3 0-2 1 3 1-1 2-2 0 3 1-1 1-2 0 3 1-1 1 2 0-5 2 3 0-3 0 4 3 1 2-3 2-2 0 2 0 2 1-1 1 2 1-3 0 2 1-4 0 5 1-4 0 2 1 1 1-2 0 1 0-1 2 3 1-2 0 2 1-1 0-3 1-1 2 3 0 1 1 1 1-4 1 4 0-3 1 1 0-3 1 3 0 2 0-4 0 2 1 0 0-2 1 2 1-2 0 3 0-3 1 3 0-3 1 3 0 1 1-4 1 1 1 0 0-1 1 2 0-2 0 2 1 0 0-2 0 1 2 2 1 1 0-3 1 0 1 2 1-2 0-1 1 1 0 2 0 1 1-1 1 1 0-3 1 1 0-2 0 3 2-1 0 0 2-1 0 0 1 3 1 0 0-5 2 4 0 0 1 0 1 1 0 0 0-3 1 0 0-1 1 4 0-2 1 2 1-2 0-3 1 5 0-4 0 0 1-1 2 3 0-1 1 2 0 0 0 0 1-1 1-2 0-1 0 3 1 2 0-5 1 5 0-5 1 0 1 4 0-2 1 0 0 0 1-2 0 5 2 0 0-4 1 0 1 1 0-2 0 2 1 2 1-1 0-3 0 2 0-2 1 1 0 1 2-2 0 5 1-3 1 1 0 0 1 0 0 2 3-2 0 1 1-4 0 2 1 0 1-1 0 4 2 0 0-1 5-1 1-1 3 0 2 2 2-2 4-2 11 8-2 1-5 0-2 1-4-4 0 4-1 1-1 0 0-3-4 2 0 0-1-2-1-1 0 2-1 2-2-1 0-1-3 0-1 1 0-4-1 1-1 4 0-3 0 0-1-1-1 1-2-2 0 3 0 1-1-2-1 1-1-1 0 2 0 0-1-4-1 0 0 4 0-1 0-2 0 4-1-1 0 1 0-1-1-1-1 2-2-5-1 5 0-4-1 0 0 3 0 0 0-1-1 2 0-3 0 1-1-2-2 3 0-3 0 3-1 1 0-5 0 0 0 1-1 2-1-2 0 4 0-1-2-1 0 2-1-4 0 3 0-3-1 4-1 0 0-1 0-2-1 3 0-4 0 3 0-3-1 3-1 1 0-1 0-4-1 3 0 0 0-2-1 4 0-4-1 4 0-4 0 4-1-3-1 1 0-1 0-2-3 0-1 2 0-1 0 1 0 3-1-3 0 3-1-3 0-2-1 2 0 3 0 0-1-1-1-2 0 3-2-2 0-2-1 2-1-2 0 0 0 0-1 3-1-3 0 0-1 0 0 0 0 3-1 0 0-1-1 2 0-5 0 3-2-2 0 0-1 0 0 2 0 1-1-4 0 3 0-1-1 3-1-4 0 2-2 0 0-3 0 2 0-1-1 4-1-3 0 3 0-2 0 0-1 1-1-4 0 4-1-3 0 0 0 3-1 0 0 0 0-1-1-2-1 3 0-3 0 3-1-4-1 3 0-1-1-1-1 1-1-1-1 1-1 2 0-4 0 2-2 0 0 0-1-2-1 2 0 3 0-2 0 0-1 0-1 1 0 1 0-5-2 0-1 2 0 1-1 2-1 0 0-1 0-3 0 0-1 3-3 0 0 1 0-2-1 1 0 1-1-1 0 1 0-4-3 2-1 2 0-2-1-3-1 5-1-2-1 0-1 2 0 0 0 0-1 0-1-3-1-2-1 2 0-1 0 4-1-4 0 0 0 2 0-2-3 3-1-1-1 1-2-3-2 4 0-4-1 2 0 2 0-3 0-2 0 4 0 1 0-4-1 0 0 3-2 0-2-4-1 5-1 0 0-2-1 0-1-1-1 0 0 3 0-4-3-1-2 0-1 4-1 1 0-2 0 1-1-3 0 0-2 4-1-4-1 3 0-1 0-2-1 3 0-1 0 0-2-1-1 3 0-4-3-1 0 1 0 2 0 0-1-1 0 3-1 0-1-4 0-1-2 2-1 2 0 1 0-3-1-1-1 4 0-2-1-3 0 2-3 2-1-4-2 1 0 4-2 0 0 0 0 0-3-5 0 4-2 1 0-3-2-1 0 1-1 0 0 0-2-2 0 1-1 4 0-4 0 1-1 0 0 0-1 0-1-2 0 3 0 0-4-2 0 2 0 1-1-2-1 0 0-2-1 2 0-2-1 5 0-5-2 3-1-1 0 0 0-1 0 0-2 4-1-2-1-2-2-1 0 0-1 4-1-1-1-3-1 3 0-1 0-2-1 2-1 2 0-1 0-1-1 3 0 0 0-3-1-2 0 1-1 2-2-2-1 1-1 3-1-2 0 1-1-2 0-1-1 3 0-1-1 1-1-4-1 2-2-1 0 3-1-2-1 3-2-3-1 3 0-3-2 0 0 3-1 0 0-4-1 1 0 2 0-1-2-2-2 0-1 0-1 0 0 3 0-2-1 0-1-2 0 1-2 1-1 3-1 0 0-5-2 5 0-4-1 0-1 3-1-4 0 0-2 5 0-5 0 4-1 0-1-2 0 3-1-2 0 1 0-3-1 2-1 2-2-1 0 0 0-2-1-2-3 2-1 0-4 3 0 0-1-2 0-1-1 0 0-1-3 2 0-3-1 2-1-1 0 0 0 3-1-2-1 1-1-2-1 1-1 3 0-5-1 1 0-1-1 4-1-4-2 3-2 0-1-3-1 5-1-5 0 0-2 1-2-1-1 5-1-5-3 2-2 3-3 0-1 0-2-1 0-2-1 1-1-3 0 2-1 2 0 0 0 1-3-5-1 0 0 5 0-4-1 4 0-2-1-1-1-2 0 1 0-1 0 4-2 1 0-2 0 0-1 2-2-5 0 2 0 0-1 3-1-3-1-2-1 3 0-1 0-2 0 3-2 2 0 0-1-2 0-2-2 4-1-5-1 5 0 0 0-5-1 4 0 0 0-4-2 0 0 1-1 2-1 2-1-1 0-4-1 5 0-3 0 1-1 0-1 0 0-1-1-2-2 5-1-2 0-2-1 3-1 0-1 0 0-2-1 1-3 2 0-2 0-3 0 2 0-2 0 3-2 0-1-3-1 1 0 1-1 2 0-4-1 5-1 0 0 0-2-5 0 4 0-1-1 2-1-4 0-1 0 3-1 2 0-2 0 1-1 1-1-2 0-3-1 1 0 1-1 2 0-3-2 3 0 1 0-5-1 3-1 1 0 0-1 0 0-4 0 3 0-2-1 1 0 1-1 2-1-1 0-2 0 1-2-2 0 1 0 2-1-2 0-2-1 1 0 2-1 1-1-2 0-2 0 1-1 0 0 4 0 0 0-4 0 4-1-3 0 1 0 2 0-4-1 3-1-4-1 5-1-4 0 3-1-2 0 0-1 0 0-1-1 4 0-3-1 1-1-2-1-1-1 4 0-3 0 2-1 0 0 1-1-3-1-1 0 4-1-2 0 1-1 0-1 2 0-4-1 0 0 0-1-1 0 4 0-2 0 2-2-2 0-2-1 3-1 2 0-2 0-3-1 2 0-1 0-1 0 4 0-4-2 5 0-5-1 2-1 2-1-2-1 2 0-4 0 3 0-2-1 2 0-2-1-1-1 0 0 0 0 4 0 1-2-1 0-3-1 3-1 0 0-2 0 1 0 2-1 0 0-2-1-2 0 2-1 1 0 1 0-2-1-2 0 4-1-2-1 0-1-2 0 0 0 7 2-2 0 2 0 2 1-3 0 1 0 2 0 0 2 1 0-4 1 2 1 0 0 0 0-3 1 0 0 1 1 2 0 0 1 0 0 0 0-1 0 2 0-1 1-2 0 3 0 0 0 1 0-3 2-2 0 2 2 0 0-2 1 2 0-1 0 3 0 0 0 0 1-1 1-1 0-2 0 5 0-1 1-4 1 5 1-3 1 2 2-4 0 1 2 3 1-3 1 1 0 2 0 0 3 0 0-1 1 1 0 0 0-4 1 2 1 3 0-2 0-2 1 3 0-3 1 2 0-2 0-1 0 0 1 1 0-1 1 5 0-1 0 0 1 1 1-2 0-2 0 1 1 1 0 2 1-5 1 2 0-1 1 0 1 3 1-2 1 0 0 3 0-2 1 1 0-4 1 0 0 0 1 1 1 2 1 0 4 2 0-2 1-3 0 3 0 2 2-3 0 2 0-3 1 2 2-3 0 0 0 2 1-1 0 2 0 2 1-1 1-1 0 1 0-2 4-1 0 0 6 0 4 1 1-2 0 3 2 2 1-5 1 0 1 2 0 2 1-4 0 5 2-1 0-2 1-1 0 2 0 0 0 2 1-3 0 2 1-3 1-1 1 2 0-2 0 1 0 3 1-3 0-1 0 3 2-3 0 5 1 0 1-5 1 2 0-2 1 4 0-2 1 1 2-3 0 5 0-3 1-1 0 4 0-1 1-3 0 2 0-2 3 4 1-4 0 4 0-1 1-3 0 1 2-2 0 4 5-3 2 3 0-1 1-1 0 1 0 2 2-5 2 0 2 5 0 0 2-3 1-1 0-1 1 4 2 0 0 1 1 0 0-1 1-4 2 5 0-4 0-1 1 4 2 0 1 0 1 1 3 0 1-1 0-3 1 2 1-2 2 4 0-1 5-4 0 3 0 1 2-1 1 2 0-4 2 0 1 1 0 1 2 1 1-2 1 2 1-3 0 4 2-1 2-2 0 1 1-3 1 4 0-3 0 3 0-4 1 1 1 4 1-1 2 0 0-4 2 1 1 3 0-3 0 3 1-2 0-1 2 4 2-3 0 0 0-1 5 1 2-1 3 3 0 1 0-3 0 0 1 0 1 3 2-5 0 0 1 3 1-2 0 2 1 0 0-2 1 1 1-1 1 4 0-4 0 2 3-3 0 5 3 0 1-1 1-1 1-3 1 1 0 4 1-4 0 3 1 1 0-3 1 0 0 0 2 3 0-4 2 4 0-5 1 5 0-3 1 3 1-2 1-1 2 3 0-3 1 3 0-5 1 0 1 1 0-1 1 2 1-2 0 3 1 1 0-2 1 2 1-2 0-1 0 1 1 1 0-1 1 3 1-4 0 4 2 0 1-4 0 1 1 0 0-2 0 0 0 3 1 0 0 0 1 2 1-1 0 0 4-4 0 0 1 0 0 2 0-1 0 0 0 2 1-3 0 1 1 2 0-1 0 3 2-3 1 0 2 2 1-2 0-1 1 3 1 1 0-2 1-2 1 4 1 0 1-4 1 2 1 1 0-2 3 3 0-4 0-1 2 2 1 1 0 0 0 1 1-2 0-1 2-1 1 0 0 2 1 3 0-4 0 1 2 2 1 1 4-5 0 3 1 1 1-2 3-1 0 3 1-4 1 0 0 2 1-1 2-1 1 5 2-4 1 0 1-1 0 5 1-1 1-1 0 1 0-3 1 2 0-1 1 2 2 1 1-1 0-2 1 3 2-2 0-2 1 1 1 2 1-2 0-2 1 0 0 5 1 0 0-2 0-2 1 2 1 2 1-4 0 4 0-1 1-1 0-1 1 1 2 0 0-3 1 3 1-3 1 3 1-2 0 3 0 1 1-2 0-1 1-2 0 4 1 0 1-3 1 3 2-3 0 4 1-3 2 2 0-4 0 5 1-4 2 4 0-4 0 4 1 0 1-4 2-1 2 1 0 1 0 0 1-1 0 4 0 0 1-5 0 3 0 2 2-2 0-2 0 2 1-3 0 4 1-2 0 2 1-3 0 4 0-3 1 1 0-1 0 1 1-1 1-1 1 4 0-4 1 1 0-2 0 4 0-1 3-3 0 4 1 1 1-2 0 1 1-4 1 5 1-5 0 2 0 1 0-3 1 4 1-3 1 2 0-1 1 1 1 0 0-3 1 5 0-2 0-2 1 3 0-4 2 3 0-3 0 2 0 2 1 1 2-4 0 2 1 1 2-3 1 0 0 4 1-2 0 1 3 0 0 0 1-2 0 3 1 0 1-2 0-3 1 5 0-5 0 5 0-5 1 2 1 1 1 1 0-1 0 0 1 2 0 0 1-2 0 1 1-3 2-1 0 3 0 2 1-5 1 2 0-1 0 1 2 2 0 0 1-2 0 0 0 1 2 0 0 1 0 1 0-1 2-2 0-1 0 1 1 2 0 0 1 1 1-5 0 4 1 1 1-3 1 2 1-3 0 0 1 0 0 3 0-2 1 3 0-2 1 1 2-4 0 4 1-3 1 3 1 1 1-4 1 1 1-2 0 0 1 3 0 0 1 0 2 1 0-2 0 1 0-3 2 0 1 3 3-3 0 3 0-1 2-1 1 1 0 3 0 0 0-2 1 0 0 1 1 0 1-3 1 4 0-1 0-4 2 4 1-3 1 4 3 0 8 4-5 2 0-1 0-1-6 1-2-3-3 0-1 4 0 0-2 0-1-5 0 4 0-3-1 4-1 0-1-5 0 2-2-1-1 3 0 1 0-5 0 5-1-5 0 1 0 4 0-4-2 0 0 4-1-5 0 3-1 2-1-4 0 0 0 3 0 1-1-1 0-4 0 0-1 0-1 4-2-1 0-3 0 4-1 0-1-4-1 2 0-1-1 2-1-1 0 2 0-1 0 0-1 1-1-4 0 5 0-4-1 3 0-3-1 0 0 1-1-2-1 4 0 0 0 1 0-2-1-2-1-1 0 5 0-2 0 1-1-3 0 3-1-3 0 4 0-2-1 1-1-3 0 1-1 1 0 2 0-3 0 2-1-1 0-2-1 3 0-1-1 0 0-3 0 3-1 2 0 0-1-2 0-3-1 4 0-2 0-2-1 4 0 0-1-2 0 3 0-5-1 5 0-1 0 0-1-2-1 2 0-1-1 2 0-2 0 1-1-2 0-1-1 0 0-1-1 1 0 4 0 0 0-2-1-1 0 1 0 0-1-1 0 2 0-3 0 3-1-4 0 5-1 0-1-4 0 3-1-4-3 0 0 2 0-1 0 4 0 0 0-5-1 0-1 1 0 2 0 2-1-5 0 4-1-3-1 2 0 1-1-4 0 4-1-1-1-2 0 2 0-2 0 3-1 1 0-5 0 1 0 0-1 4 0-5 0 0 0 3-1 1 0-1-1 1 0-2 0-2 0 1-1-1-1 0 0 4-1-2-2 1 0 1 0 0 0-2-1 3-1-4 0-1-1 5-1-1 0-4-2 4 0 1-1-5-1 3-1 2 0-4-1 1 0 0-1-2 0 4 0 0-3-1 0-1 0 3-1-1 0 1 0-5-1 3 0-2-1 0 0 1 0 1-1 2-1 0-1-2 0 1-1 1 0-5 0 3-2-2 0 2 0 2 0-5-1 2 0 3 0-5-1 0-1 0 0 2 0 0-2 2 0-4 0 4-2 0-1-2-1 2-1-4 0 2 0 1 0 0-1-3-1 2-2-1 0-1 0 5 0-5-1 1 0 4-1-2-1 1 0-1-1-3-1 1-1 4 0 0-1-2 0 1 0 1-1-5 0 2-1-1-1 2-1 1-1 0-1 1 0-2-1-1 0 1-1 1-2-3 0 4 0-1 0-4 0 4 0-2-2 2 0-2-1 0-1 3-4 0 0-4 0 1-1 2 0 1-1-4 0 3-1-1 0-2 0-1 0 1 0 4-1-3 0-2-1 3 0-3-2 5 0-5-1 5 0 0 0-3-1 1-1 0 0-1-1-2-3 0-1 5-1 0 0-5 0 1-1 1 0 2-1 0 0-4-1 2 0 1 0-3 0 4 0-4-1 3-1-2-1 0 0-1-1 1 0 4-1-4-1 0 0 4 0-4 0 4-2-4-1 1 0-2-1 1-1 0 0 3 0 0-2-4 0 1-2 2-1-1 0-2 0 2-1 3-1-1 0-2-2 3-1-3 0 3-2-5-1 0 0 1-1 1-1 3 0-1-2-4 0 1-1 4 0-2-1 2-1-5-1 5 0-5 0 5 0 0-1 0-1-4 0 4 0-4-2-1-2 2 0 2-1-2 0-1-1 3-1-4-1 4 0 1 0 0-1-4 0 1 0 1-1 2 0-1-1-3-1 3 0-1-1 0 0 0-3-2-1 0-1-1 0 2-1-2-1 5-1-4-1 1-1-1-1 2-1 0-2-1 0-1 0 1-1 0-1 0 0 3-1-2 0 1-1 1-1-3-2 2 0-4-1 1 0-1-2 3 0-2 0-1-1 5 0-3-1-2 0 4-1-2 0 0 0 2-2-1 0-3-4 0 0 4-5 0-1-4 0 1 0 0 0 1-1 2-2 1-1-4 0 0-1 4 0-1 0-2-3 1 0-1-2-1 0 4 0-3-1-2 0 1 0 2-2 1-1-1 0-1 0 3-1-2 0-1-1 2 0-2-1-1-1-1-1 5-1 0-1-1-2-4-1 3-2-3 0 0 0 5-2-4 0 0 0 4 0-1 0-2 0 1 0 2 0-1-1 0-2-2 0 2 0 1 0-1-1-1-2-2 0 3-1 1 0-2-1 1-3-4 0 3 0-2-1 1 0-2-2 4-1-2 0-1-3 0-1 1 0 3-1-5-1 3 0 2-1-3 0 2-1 0 0-2-2-2-2 2 0 1-1-1-1 0-1-2 0 1 0 4 0 0-1-1 0-2-1 2 0-2-1 0 0 3-1-1-1-1-1-3-1 1-5 2 0-1-1 3-1-4-3 1 0 3-1-3-1 1-1 1 0 0-2-3 0 1-1 2-1 0 0-1 0 1 0 1 0-4-2 0 0-1-1 4-1-1-1-3-1 5 0-3-1 3 0-2-1 2-1 0-5-3 0 0-1 2-1-3-2 0-1 1-2-2 0 4 0 1-3-1-1 1 0-4-1 1-1-1 0 1-1 0 0 3-1-4-2 0-1 1 0-1 0 1-1 3-1-5 0 4 0-4 0 4-1-3-1 2-1 2 0-1-1-2-3 3-1-1 0-4-1 1-1-1 0 5 0 0-1-4 0 1-1 2 0 0-1 0-2 0-1-1 0-3 0 5-2-5-1 4 0-3 0 2 0-2-2-1-1 3-1 1 0-1 0 1-1-4-1 0 0 4 0 1 0-1-2-2-1-1 0 2 0-3 0 1 0 3-1-4 0 0-1 4-1-1 0-3-1 1-1 4 0-4 0-1 0 2 0 2-1-1 0-1-2 3 0-4 0 3-1-1 0-2-1-1 0 5-1-4 0 1 0 1-1-1 0 0-1 2 0-2-1 3 0-3-1 2-1-4 0 4-1-2-1 3 0-5 0 2-1 2-1-3-1 4-1-4 0-1-1 0 0 2 0-1-1 0 0 4 0 0-1-2-1-1-1-1 0 3-1 1 0-1-1-2 0 0 0 1-1 0 0 2 0-5 0 2-1-1-1-1-1 1 0 2 0 0-1 2-1-4 0 1-1 0 0 0-1 3 0-1 0-2 0-1-1-1 0 3 0-2 0-1 0 4-1 0-1-4 0 5 0-2-1 1-1-1 0-2 0 4-1 0 0-4-1-1 0 3 0-3-1 2 0-2-1 2 0-2 0 0-1 0 0 2-1 3 0 1 1 1 0 2 0-3 0 2 0 0 1 3 0-2 1-3 0 0 0 4 1-2 1 0 0 1 0 1 0-2 1 0 0 3 0-1 1 1 0-3 1 1 0-3 1 0 1 0 1 1 1 4 1-5 0 2 0-1 0 4 1-1 1-2 0-1 2 2 1 2 1-5 0 3 0-3 1 5 0-1 1 0 1-3 1 2 0 0 0-1 1 3 0-3 0-2 1 0 0 4 0 1 0-3 0 0 2 1 0 2 1-1 0 0 1-2 0 2 0 1 0-2 1-1 0-2 1 1 0 2 0 2 1-5 0 3 1 0 1 0 1 2 0-4 1 2 0 1 0-3 2 1 0-1 0 4 1-2 1 2 1-2 2 0 1-1 0 1 0 0 1 2 0-2 1 0 1-3 0 2 1 2 0 1 1-1 1-1 0 2 1-3 0 1 1 1 0 0 1 0 0-4 0 5 1 0 0-5 0 0 0 5 1-3 2-2 0 1 1 4 0-5 2 4 0 1 0-2 1 2 1 0 0-2 0-1 2-1 2 4 0-5 1 0 0 3 0-3 0 0 1 3 0 0 1-3 1 4 0-4 2 0 1 5 0-1 0 0 0-4 1 2 0-1 0 2 1 0 0-3 1 4 1-1 1-3 1 0 0 3 1-3 0 2 1-2 0 0 0 2 0-2 1 2 0 0 1 1 2 2 1 0 0-4 1 4 3-2 1-1 2 1 0-3 4 3 0 2 1-3 0 0 0 2 0-2 1 1 2-1 0 2 2 0 1 0 0-4 1 2 2 3 1-3 0 0 1-2 1 1 0-1 0 4 1 1 0 0 0-2 1 2 1-5 0 0 1 3 0 1 1-4 0 1 0 0 0 1 2 1 0 2 1-5 0 3 1 1 0-3 2 4 0-4 2 4 1-5 0 0 1 3 1-1 0 3 2-1 1-2 0-2 1 3 2 1 2-4 1 5 0-5 0 5 2-5 1 2 0 2 0-3 2 4 0-3 0-1 0 4 1-4 0 1 0 0 0 2 0 1 1-2 0-3 0 5 3-3 1 0 3-2 1 5 0-2 2-3 0 4 1 1 1-3 0 0 1 0 0 0 0 0 1 3 0-3 0-2 2 4 0-4 1 1 1 1 1 1 0 2 1-4 1 3 1-4 1 3 1-2 0 4 3-3 1-2 0 2 1 0 1 0 3 1 4-1 0-2 1 1 0 0 0-1 2 5 2-2 1-1 0-2 0 4 1-4 0 5 0-3 3 0 0 0 4 2 3-3 0 0 1 2 1-3 0 1 1 2 1 0 1-3 2 0 1 5 1-1 1 1 0-2 0 1 1-3 1 1 1 2 1-2 0 2 3 1 1-2 0 2 0 0 5-5 1 3 2 2 0-3 1 0 0 1 1-1 0 3 0-3 1 0 0 1 2-2 1-1 1 2 0 3 0-3 2-1 2 4 0-1 4-4 3 0 0 4 1-3 1 1 2-2 0 4 3-4 1 1 0 0 1 0 0 2 1 2 1-4 1 2 0-3 0 5 2-5 0 5 0-2 1-2 0 2 3-3 1 5 1-2 1-3 0 4 0-4 1 5 0 0 0-3 1 2 0 1 1-4 2 4 1 0 0-4 1 1 1 2 1-2 1-1 0 1 1 3 0-2 0 2 1-3 3-1 0 0 1-1 0 3 0-2 2 4 0-3 1 3 0-4 2-1 0 3 1 0 2-1 0 1 1-3 1 3 1-2 1 3 0-2 0-1 0 3 2-3 0 3 1-3 0 0 1 0 0 4 1-2 1-2 1 2 0-3 0 2 0 1 0 1 1 1 1-2 0 1 1 0 1-4 1 0 0 0 0 5 0 0 1-1 0 0 2-3 2 4 0 0 0-3 0 2 1-2 1 1 1-3 0 3 0 0 0-2 1 2 1-1 1-1 1-1 1 5 2-2 0 2 1-4 1 2 1-1 3-1 2 0 1 1 0 3 1-4 0 3 0 0 1-1 1 1 1-4 0 0 0 0 4 2 1 3 1 0 0-3 1 1 0 0 0 0 0-1 0-2 2 0 1 1 1 0 1-1 0 4 1 1 0-2 1-3 0 2 1 2 1-2 0 0 0 1 0 0 3-2 1 1 0 3 0-3 0 3 0-2 0 0 1-1 0 2 1 0 0-1 2-3 1 3 0-2 1 4 0-1 0-4 0 1 0 3 1 1 0-2 1 2 0-3 1 0 4 2 0 0 2-1 0-1 1 0 0 0 0 2 2-3 0 1 1 2 0-3 1 0 1-1 0 2 0 1 2-3 0 0 0 0 1 4 0-3 0 0 1 0 2 0 0 2 1 0 0-1 0 1 1 1 0-4 0 3 0-1 1 2 0-2 1-2 0 5 1-3 0 3 1-1 1 1 1-3 0-2 0 1 1-1 1 5 1-1 0-4 0 5 2-3 0-2 0 3 1 2 2-5 1 2 0 3 1-5 0 2 1-1 0-1 1 3 0 1 1 1 0 0 1-1 0-3 1 0 0 1 1 1 1 0 0 0 1 1 0-3 0 4 0-5 1 2 0 3 1-3 1 2 1-4 0 4 0-2 1 2 1 0 1 1 1-2 0 0 0-3 0 3 1 0 0 2 1-1 0-3 0 1 0 1 1-1 0 0 1 0 0 3 0-3 0-2 1 5 1-1 0-3 0 0 0-1 1 4 0 1 1 0 1-3 0-2 1 5 0-1 0-2 0-2 1 4 1 1 0-3 1 3 1 0 0-5 0 0 1 0 0 0 0 5 2-1 0-2 0 1 0 0 1-2 0 1 1-2 0 0 0 1 0 2 1 0 0 2 0 0 1-2 1-2 1 4 1-1 0-4 0 4 0-1 1 2 0 0 1-1 0-2 1-1 1 4 0-2 0 0 1 0 0 1 1 1 0-3 5 1 1 1 0-4 4 1 1 3 2 1 0 0 7 0 2 5 0 1-1-1 0 1-1 0-2-2-2 0-4 1-2-4-1 1 0 2 0 1-1 1 0-5 0 2 0 2-1-3 0 2-2 1-1-1-1 0 0-2 0 4 0-4-1 3 0-4 0 1-1 4 0-3-1 1 0-1-1 0 0 3-1 0-1-3 0 2-1-1 0 2-1-3 0-2-3 2 0 0 0 2 0-2-1-2 0 1 0 4 0-2 0-1-2 3 0-2 0-3 0 5 0-3-1-2-2 1 0 2 0 2-1-5 0 2 0 2 0 1 0-4-1 1 0-2-1 4-1-1 0 2-1-3 0 3 0-4-1 4 0-4 0 2-1-2-1 4 0 0-1 0 0-4 0 1-1 3 0-1 0 0-1-3 0 2 0-3 0 0-1 0 0 4 0-1-1-2-1 3-1-2-2 1 0-3-1 3 0-2 0 0 0 3-1-1 0-3-1 5 0 0 0-4 0 1 0 1-1-1 0 3 0-5-1 1 0-1-1 5-1-3-1 2 0-2-1-1-1 2 0 2 0-5 0 5 0-3-1-2 0 3-1 1 0-4 0 5 0-1 0-3-1-1-2 1 0 3 0 0-1-1 0 0-1 2 0-5 0 1 0 1-1 1 0-1-1-1-1 3 0 1-1-1 0-1 0-3-1 0-1 5 0-4 0 1-1-2 0 2-1 3-1-4-1 3 0-4 0 3-2 1-1 1 0-3-1-2 0 4 0 0-1-3 0-1-2 2-1 1 0-2-1 1 0-1-1 2 0-3-1 0 0 5-1-1-1-2 0-2-1 4 0-4-2 1 0 1 0-2 0 5 0-3-1 2-1-2-1 1 0-1-1-2 0 0 0 2 0 2-1 0-1 1 0-1 0-3-1 4-1-3 0 3 0-5-2 0 0 2-1 1 0 0-1 0-1 1 0 0 0-3-1-1 0 1-2 3-1-2-1 0-1-1-1 2 0-1-1-1-1 3 0-1-1-2-1 3 0-1-1 1 0 1 0-3-1 0 0-1-1 1-1-1 0 4-1-1-2-3 0 3-1 1 0-1 0-1-2-3 0 4 0 0-1 1 0-1 0-2 0 1-1 0-1-2 0 3-2-3 0 4-1-1-1 0 0-4 0 3-2-2 0-1-1 5-3-1 0-3 0 3 0-2 0 3-1-4 0 1-3 2 0 0-1-1 0 2-1-1-2 1-1-4-1 3-1-1-1-3 0 4-1 0-2-3 0 0-1 2-1-1-1-2-1 5-1-4-1 4 0-2-1-1-1 0 0-1-1 3 0-2-2 1-1 1 0-1-1 1 0-4-2 2 0 0-2 2-1-1-2 2-1-4-1 2-1-2 0 0-2 1-1 1-1 1 0-1-1-3 0 1 0 2 0-3-1 0 0 1-1 2-1-1-2 0-1-2 0 2-3 2 0 0-1 1-1-2-1 2-3-5-1 3 0 2-1 0-2-3 0-1-1-1 0 1-3 3 0-3 0 1 0-1-4 3-2-3 0 2 0-3-1 1-2 3-3 0 0 1-1-5-2 3-1 0 0-3 0 5-1-1 0-3-1 0-1 2-1-2-1 2-2-2-2 2-2 1 0 0-1 0-1-1-2-3-1 2-1 0-6 3-1-1 0-1 0-2-3 4-2 0-4 0 0-3-1-2 0 1 0-1-2 4-1 0-1-1 0-1-1-1-1-1-1 1-2 0-1 0 0 4 0 0-1-4 0-1-2 2-3-2 0 0-1 0-2 0 0 3-1-2-3 2 0-1-2 1-1 1 0-3-2 4 0-4-1 0-1 2-2 1-1-1-1 0 0 2-2-5 0 2-2 0-2 0-1 3 0-5 0 4 0-4 0 4-1 0-1-3 0 3-1-1-3-1-3 2 0 1-1 0-2-5-1 5 0 0-1 0 0-2-1 0-2-1-1-2 0 4-1-4-2 4-2 1-1-2-4-3 0 2-5-1 0 1-1 3-1-4 0 3 0-3-2 0-2 2 0-1-1-1-1 1-1-1 0 2-3 2 0 0-1-2-3-2-1 3 0-3 0-1-2 3 0-1 0 1 0 0-5-1 0 3-1-2-2-3 0 4-1 1-2 0-1-4 0 3 0 1-6-4-1 0-2 4 0-3 0 3-1-1-2-2-5-2 0 0 0 1-1 2-1-2 0 4-1 0 0-1-2-3-1 4-1-5 0 3 0-1-1-2 0 1-1 4 0-1-2 0 0-4 0 3-2-2 0 2-1 2-1 0 0-5-3 3-1-1-1 0 0 2 0-3-1 3 0-4-1 5 0-4 0 0-2 3-1 0 0 0-1 0-1-2-2-1 0 0 0 0-1 0 0 2 0 0-1 2 0-1-1 1 0-1-2-3-1 4 0-4-1 3 0-4 0 5 0-4 0 4 0 0-1-3-1 1-2 1 0-2 0-2 0 1-1 3 0-4 0 2-2 0-2 1 0-1 0-2-1 5-1-4 0 3-1-3 0 2-1 0 0 2-1-5 0 1-1-1 0 3 0 1-2-2 0 2-1-2 0 0 0 3 0-1-1-2 0 2-1-1-1 0-1-2-1 0 0-1 0 3-1 2 0-2 0-3-1 4 0 0-1-2 0 1-1 1-1-4 0 3-1-3 0 1 0 0-1 4 0-5 0 2-1-1-1 2 0-3 0 5-1-5 0 4 0 0-2-3 0-1-1 0 0 5 0-4 0 2-1 2 0-4 0 0-1-1 0 5-1-5-2 0 0 3-1 1 0-2-1-2 0 2 0 1-1 1 0 1-1-3 0 7 0 2 0-5 1 0 1 5 0-3 0-2 0 4 1-4 0 3 0 1 1 1 1-4 0 0 0 2 0-3 1 3 0-2 1 4 1-2 1-3 0 5 0-1 0-3 1-1 0 3 1 2 1-3 0 1 1-3 0 0 1 4 0-1 1-2 1 3 0-3 1 2 0-1 0 2 2-4 0 0 0 4 1 0 1-2 1 1 0-1 1 1 0-3 1 1 0 0 1 3 1 0 1-4 0 2 1-1 0 4 1-2 0-1 0 2 1 1 0 0 1-1 0-4 1 3 1-2 0 4 1-1 0 0 0-4 1 1 1 0 0 2 1-2 1 0 2 2 1 2 1-5 1 5 0-3 0 2 1-1 1-2 1 1 0 1 1-2 2 3 2-2 0 2 1-2 0-1 1-1 0 1 1 4 1-3 0 1 0 1 1-2 0 3 0-4 0 0 1 3 2 0 0-3 1 3 1-2 0 3 1 0 0-1 2 0 0-4 1 4 0 0 1-1 0-2 1 0 2 2 0 2 0-4 0 4 1-4 2 4 0-2 0-2 2 2 1 2 0-1 2-2 2 3 1-5 2 2 0 0 2 0 1 2 0-2 0-2 1 2 0-2 2 3 1 1 0-4 2 1 0-1 1 1 1 1 0 1 2 2 0-4 1 2 1-2 1 2 0-2 2 2 0 1 1-3 3 3 1-3 1 1 0 2 3-1 1-1 0 0 0-1 1 0 1 2 0 2 1-3 1 2 1 1 1-2 1-1 0 0 1 1 0-2 1-1 2 2 3 2 3-2 0-2 2 4 0-2 3-1 2 1 1-1 1 2 0-2 0 4 1-1 0 1 0 0 0-5 2 0 1 2 1-2 1 1 2 3 1 1 0-5 0 2 1 1 0-3 1 2 0 0 3-2 1 3 0-3 1 1 0-1 1 0 0 1 0 2 4-3 1 2 0-2 2 5 1-3 1 2 2-3 1 3 0-1 1 2 0-4 2 4 3-5 0 3 0 0 1-2 0 4 1-1 2-1 1 0 1-2 1-1 0 5 1-5 4 3 0 1 3 1 0-1 1 1 2-4 1-1 0 2 1-1 2 0 0 4 1 0 0 0 0-1 1-2 1 3 1-5 0 2 0-2 1 4 0 1 0-5 0 1 2 1 1-1 2 0 0 2 2 2 0-3 0-2 1 4 3-4 0 5 3-2 3-1 1 2 0 1 1-1 2 1 1-4 0 2 1 2 4-2 3 0 0-3 0 3 1-2 2 1 2-2 1 1 0-1 0 0 1 1 0-1 1 0 0 2 1 1 1-2 1 0 0 1 1 1 0-2 1 3 2-4 1 2 6-1 2 0 1-1 0 3 3 0 1-2 0 0 0-1 1 5 0-1 2 1 0-3 0-1 0 0 2-1 1 2 1 3 0-2 1-1 1 0 1-1 2 4 0-4 0 4 1-4 0 3 0-2 3 2 0 0 1 0 0 1 0-5 1 1 1 0 1 1 0 1 3 1 1 1 0-5 0 3 1-3 1 0 2 0 2 4 0 1 4-1 0 0 0 0 2 0 1-1 0-2 0-1 0 1 1 1 0-2 3 1 0 2 1 1 2 0 0 1 2-3 0-2 0 3 0 1 1-4 0 3 1 0 4-3 1 0 1 3 0 2 0-2 0 1 1-4 0 0 0 5 1-5 0 0 1 4 0-1 0-3 2 1 2 4 0-3 0 0 2-1 0-1 1 2 0 2 2-3 1 3 4 1 1-5 1 4 0-4 0 1 0 1 1 3 0 0 1 0 2-2 1 2 0-1 0 1 1-4 1-1 1 5 0-1 1-4 1 3 0-2 2 0 0 1 0-1 1 1 0 1 0 1 2-1 1 2 0 0 1 0 2-1 0-1 0 0 1-3 1 4 0 1 0-4 1 3 2-3 0-1 1 0 0 2 1 1 1 2 1-2 1 2 1-1 1-1 1-2 1 0 0 2 0-1 0 3 1-4 0 4 1-4 0 3 1 1 0-1 0-3 1-1 0 5 1-1 2-4 0 4 1-4 0 1 0 4 0-3 1 2 1 0 0-4 0 0 1 4 1 0 0-3 0 2 1-3 0 3 1 1 0-1 0-1 1-1 1 3 3 0 0 1 1-4 0 2 1 2 1-4 0 2 1-1 0 0 0 3 0-5 1 2 0 3 1-1 1 1 0-4 0 0 0 3 1 0 1-3 0 3 1 0 0-3 0 2 1-2 0 4 1-5 0 3 0-2 2 3 0 0 0-3 1 3 1 0 0 0 1-3 0 3 0-3 1 4 1-4 0 4 1-2 1-1 1 2 0-2 0-1 1 0 0 4 2-3 0 3 0-1 1-2 0-1 0-1 2 4 0-3 1 3 0 0 0-4 1 4 0 1 0-5 0 5 0 0 0-5 0 1 2 2 0 2 0-5 0 1 1 2 1 2 0-2 0-2 0 0 1 3 0-1 1-1 0 3 1-1 0-3 1 1 1 2 0-3 1 3 0-4 0 4 1-4 0 4 1-1 0-1 1 0 0-1 0-1 0 3 1 2 0 0 0-3 0-2 1 5 0-4 0 4 1-2 0-1 1 3 0-5 0 0 0 0 0 0 0 5 1-3 1 1 0 2 2-5 0 2 1-1 0 2 0 2 1-3 1 3 1-5 0 4 0-2 1 1 0 2 1-2 0-2 1 0 1 3 0 0 1 0 0-3 0 2 1-1 0 2 0 0 2 1 0-2 0-3 1 3 0-1 1 3 2 0 0-5 0 1 1-1 0 2 1 1 0 1 1 0 1 0 1-3 0-1 1 1 1 4 2-4 1 1 0 1 2 0 2 0 1-3 1 0 6 10-4-4 0 3-1 1 0-1-1 2-1-5-1 1-1 0 0 3 0 0-1 1 0-3 0 1-1-3-1 1 0 3 0 1-1-3 0 2 0-3-1 1 0-1 0 0-1 2-1 2 0-1-1-2 0 0 0-1-1 4-1-2 0-2-1-1 0 2 0 2-1-3-1 2 0 1-1 0 0 1-1 0 0-5-1 2-1 1 0-3 0 4 0-3-1 4-1-3 0 2 0 0 0-3 0-1-1 3 0-1 0 1-1-1 0-2 0 4 0-4-1 3 0 2-1 0 0-1-1-2 0-2-1 4 0-3 0 2-1-2 0 0 0 2-1 1-1 1 0-1 0-2-1 3 0-4 0 1-2 3 0 0 0-4 0 2 0-1-1 1-1 2 0-5 0 3-2 2 0-1-1-3 0 2 0-2-1 1-1 3 0-5 0 4 0 0-1-2-1 2 0-2-1 3 0-5 0 1 0 4-1-2-1-3 0 0 0 2-1 0 0-2-1 1 0 3-1-2 0 3 0-2-1 2-1-1-1-4 0 2 0 2 0-4-1 3-1-1 0-2-1 1 0 2-1 2 0 0-1-5 0 0 0 4-1-4 0 2-1-2 0 5 0-3-1 1 0-1 0 0-1-1-1 3 0 1 0-5-1 2 0 2 0-1 0 1-1-4-1 3 0 1 0 0-1 0-2-2 0 3 0-3-1 0-1 0 0 3 0-1 0-4-1 0 0 5 0-1-1-3 0 2 0 1 0 1 0-1-1 1-1-2-1-1 0 0 0 2-1 0-1-1 0-3 0 4-1-2-1 3 0-5 0 1 0 1-1-2-1 1 0 2-1-1-2 1-1-3 0 4 0 0 0 0 0-2-1 1 0-3-1 0 0 0 0 5-2 0-1-1-1 0-1-4-1 3-1 1 0 0-1-3 0-1 0 0-1 2 0 3 0-5-1 5-1-1-2 0-1 0 0-3-1 1-1 0 0 1 0-3-1 3-1-3-1 2 0 2-1 1-1-3-2 0 0-2 0 5-1-5 0 1 0 1 0 2-1 0 0 0-1-3 0 1-1 2 0-2 0 3-2-2-1 0-1 2 0-5-1 5-3-2-2 0 0-2-1 3-1 1-1-4-1 0 0 3-1-3 0 4-2-1-3-2-1 2 0-2 0 0 0 3-2-1-1-3 0 2-1 2-2-3 0-1-1 2 0-3-1 2 0 0 0 3-1-4 0 2-1 0-1 2 0-3 0-2-1 3 0 1 0-4 0 4-1-2-2-2-1 5 0-3-1 0 0 2-2-1 0 2-1-1-1-3 0 1-1-2-1 2 0 3-3-1 0-3-1 1 0-1-1 1-1 3 0-4 0-1-1 1 0 2-2-3 0 4 0-3-1 1-1-1-2 0 0 0 0 3-1-2 0 1-1 1-5-2-1 2-2-1 0-2-1 1-2 3-2-4-1 3-2 1-1 0-1 0-1-1-1-1-2-1 0 1-1-3-1 5 0-5-1 5-4-1-1-2-1 0 0 3-1-3 0 1 0 1-2 1-1-5-3 5 0-5-1 2 0-1 0 4-1 0 0-3 0-2-2 1-1 1 0 1-2-1-1 2-2-3-1 1 0-2 0 2-2 3 0 0 0-4-1 4-3-5-1 5-1 0 0-1-1-4 0 4-1-4-1 1-1 2 0-3-1 4-1 0 0-4-1 1-2-1-3 1-2 4-1-5-1 3-2 0 0 2-1-3-1 3-2-3 0 3 0 0 0-3-1 2-2 1-1-3 0 0-2-2 0 4-1-1-1-2-1-1-1 1-1 1 0 0 0 0-1-1-4 0-2 1-1-1 0 2-1-1-1 2-1-3 0 0 0-1 0 3-3-2 0 3-1 0-1-4-1 5 0-1-2-3-1 0 0 1 0 3-1-2-2-3 0 1-4 0 0 3-2-3 0 2 0 0-2-3-4 3-2-1 0 3 0 0-1-1 0-4-1 2-1-1 0 2-1 1-2 1-2-2 0-3 0 1-1 4 0-2 0 2-2-4 0 0-2 4 0-3-2-1 0 2-1 2-1-3-1 2-1-3-1 3 0-4 0 5-3-5-3 5-1-1-1 1 0-3-1 2 0-4-1 1 0 0 0-1-1 4 0 1 0-5-1 3-1 2 0-1 0-1-1 2 0-5-1 2-1 1-1-3-5 0-1 5-1-3 0 0-1 1-1-3 0 1-2 3 0-2-1-1 0 2-1 0-3-2-3-1-1 1 0 4 0-5-1 5-3-5-1 3-1 0 0 1 0-4-1 1 0 2-1-3 0 2 0-1-3-1-1 3-1 1 0-3-1-1 0 0-1 4-3 1 0 0 0-5-1 3-1-3 0 0 0 4-1-3 0 2-1 0 0-2-1 4 0-5-1 0 0 4-1-4-1 2 0 2-1 0 0-4-1 0-2 0 0 0-1 4 0-4-1 1 0 1-2-1 0 2-1 0-1-1 0-1-1 0-3 4-2-4 0 4-1-2-1 2-1-5-1 2 0-2 0 0 0 5 0-2-1 0-2 0 0-1-1 2-1-3 0-1-1 4-4-4 0 4 0-3-1 1 0-2 0 1-1 2-2 0 0 0 0-2-2 3-1 0-1 0-2-3-1 1 0 0 0 2-1 0-1-2-1-2 0 3 0 2-2-2 0-2 0-1-1 5 0 0 0-2 0 0-1-1 0 1 0 2-1-5-1 5-1-5 0 5 0-1 0-2-1 1-1 1-1-2-1 3 0-1-2-2-1 2-1-3 0 0-1-1-1 4 0-2-1-2 0 3-1 1 0-3 0 0 0 3 0-2-1 1-1-2 0-1-1 4-1-3-1 1 0 3-1-2-1-1 0 3-2-3-1-2-1 2 0 1 0 0 0 1-1-1-1-2 0-1-1 3 0-1 0 3-2 0 0-2 0 0-1-3 0 1-2-1 0 0 1 10 0-4 0 3 0-3 0 1 2 0 0 3 1 0 0-4 0 4 1 1 1-3 1 0 0 0 0 3 0-2 1-3 1 2 0-1 1 1 0 1 1-3 0 5 1-5 1 3 0-3 1 4 0-2 0 1 0-1 1-1 0 3 2-4 0 1 1 3 0-1 2 2 0-3 0-2 0 3 1-3 0 1 1 2 0-2 1-1 0 4 1-2 0 3 1 0 0-3 0 3 0-5 1 4 0-1 0 1 1-2 0 0 0 2 1 1 1 0 0 0 1-2 2 1 1 0 1-3 0 3 1 1 0-3 1 0 1 1 1 2 0-2 1-3 0 2 1 1 1 1 0-1 1 2 1-1 0 1 0-5 0 1 1 0 0 1 2 3 1-1 1 0 0-4 0 5 0-3 1-1 2 1 0 0 2-1 1 4 0-2 4-1 0-2 1 5 1-2 3 1 0 0 1 0 0-2 0-1 0 0 1 2 2 2 2-1 1-3 1-1 0 4 1-4 2 1 0-1 3 1 0 3 0 0 0 0 1-1 0-1 2-2 1 0 1 0 0 2 1 0 1 0 0 0 3 3 2-3 1 2 0 0 0 1 1-3 0 3 3-2 0 1 0-2 0 0 1-1 2-1 0 3 0 0 0 1 1 1 0-2 1 2 2-5 1 5 0-2 1-1 2 3 0 0 1-3 1 3 0-2 0-1 1 1 1-1 1 2 1-3 0 0 1 0 0 4 1-3 0-2 0 0 2 3 0 0 1-3 0 1 0 2 1-2 0 3 2 0 1-3 0 4 1-3 0 0 3 3 3-4 1 2 1-2 1 1 2 0 1 3 0-3 2 3 1 0 0-3 0-1 1 3 3-3 2 4 0-1 1 0 0 0 2 1 0-3 1-1 0 1 1-1 1 3 1-2 1 1 1-1 0-1 3 2 3-2 0 2 0 0 2 2 0-3 1 3 2-2 1 1 1-1 4-3 7 3 1-2 0 1 1-1 1 1 0-1 0 4 1-2 0 1 1-4 0 1 1 2 0-2 0 0 2 4 0-2 0-1 1 1 1-2 2 2 1-1 0-1 0 3 0-3 1 3 1-2 0-1 1 3 0-4 0 2 1 3 1 0 1-5 0 3 1-3 1 0 1 0 1 3 0 1 2-1 0-1 4-1 0 1 0 3 1-1 0-1 1-2 2-1 1 5 1-4 0 3 0-2 0 2 1 1 2-3 1-1 0 0 1 2 1-1 0 3 2 0 3-1 2-3 3-1 1 0 2 3 2-2 0-1 1 2 1 1 0 2 0-4 1 4 1-2 1-2 2 0 0 1 0 0 1 1 2 0 1 1 2 0 0 0 0 1 1-1 1 1 0-2 3-2 0 4 2-1 1-4 1 4 2-1 1 1 1-4 1 4 1-2 0 1 1 0 2-1 1 2 1-1 0-2 1 2 1 1 0-4 2 1 3-1 0 0 0 3 1-2 2 4 0-1 0-3 1 1 1-1 0 4 0 0 2-2 1-2 0 1 1 1 1-2 0 3 1-3 0 4 2-5 0 3 0 0 0-2 1 3 0-3 0 4 2-3 3 2 1-2 0 0 0-1 1 2 1-3 0 3 0-2 2 2 0 0 2-3 0 2 1 1 1-1 1-2 2 3 1-3 0 5 0-5 2 3 0-3 0 3 0 1 1-1 0-3 2 4 1 0 0-1 1-3 1 3 1-3 0 1 0 2 2 2 3-3 0 2 1-1 2 1 1 0 0-4 0 0 1 2 0-1 0 0 1-1 2 4 0-3 1 4 0-5 1 3 1-3 2 3 1-2 0-1 0 3 1-3 1 5 1-4 1 1 1 1 3-3 0 1 1 2 0-2 3-1 0 3 1 0 0-3 0 0 0 2 1-2 1 1 1 1 4-2 0 1 1 1 0 3 1-5 1 2 1-2 2 4 0-4 0 4 0-3 1 4 0-4 1 3 1 0 0-1 0 2 0-4 2 4 1-5 0 0 0 0 0 3 0 0 1 1 1-1 1 0 1 2 0-5 0 5 0-5 3 4 1-4 0 2 0-2 1 4 0-3 1 1 0 3 0-5 2 5 0-1 0-3 1 1 0 1 1 1 0 0 0 0 1-2 0-2 0 5 1-1 1-1 0-2 1 0 1 2 0 2 0-5 1 4 1 0 0 0 0 0 1-1 1 2 0-2 1-1 0-2 0 4 1-4 0 0 1 2 0 3 1-5 1 2 0-1 0 4 1 0 1-3 0-1 1 0 1 2 0 2 1-2 0 1 0-3 1 4 1-5 1 2 0-1 0 3 1 1 0-5 0 3 0-3 0 4 0-3 2 3 0-2 1 0 1 0 0 0 0-2 0 3 0-3 2 1 0 3 0-4 0 0 1 2 1 2 0-4 0 4 0 1 0 0 1-5 1 2 0 1 1 2 0-4 1-1 0 5 0 0 0-2 0-1 1 0 0-1 1 2 1-3 0 0 1 3 0 0 0 2 0-3 0-2 1 0 0 1 1 2 1-3 1 4 0 0 1-1 1 2 0-4 0 2 0-3 1 0 0 2 1 2 1-2 0 0 0-1 1 3 0-3 1 1 0 2 1 1 1-5 0 5 1-1 0-1 0-1 2-2 0 1 1 4 0-5 0 1 0 1 1 1 0 1 0-1 1 0 0 2 1-2 0 2 1 0 0-5 1 2 0 2 1-3 0-1 1 5 0-5 0 5 1-3 0-1 0-1 1 4 0 0 1-1 0-2 0 4 2-3 0-1 1 1 0-1 0 3 1-3 0 4 0 0 0 0 0-5 1 0 1 3 0 1 1-4 1 4 0-1 0-3 1 4 0-1 0-3 1 4 0-1 1-1 0-1 1 1 0 2 2 1 0-4 1 3 0 0 0-1 1-1 0 2 1 1 0-5 1 2 0 1 2-2 1 4 0-5 0 4 0-3 0 4 1-3 0 1 0 1 0-3 1-1 0 0 0 3 1 0 0 2 1-2 1-2 1 3 0-1 1 1 2-4 0 4 0-4 1 5 1 0 2-1 3 6 0-1-2 0-1 1-2-1 0-2-1 4-1-4 0-1 0 4-2-1 0 2-1-3 0-1 0 1-1 2-1 1 0 0 0-4-1 2 0-3 0 2-1 0-1 2 0-1 0 1 0-4 0 1 0 1-1 0-1-1 0 2-1-3 0 5 0-3 0 3 0-2 0 0-1-3 0 2-1-2 0 1 0 1-1-1 0 4-1-4 0 1 0 1-1 0-1-3-1 0 0 3 0-2 0 2-1 2 0-5 0 0-1 4 0-2 0-1-1-1 0 0 0 1-1 3 0 0 0-3 0 1-1 1 0-2-1-1-1 2 0 0 0-2 0 5-1-2 0 2 0-1 0-3 0 1-2 0-1 1 0 2 0-2 0-2-1 0 0 3-1-1-1-2 0-1 0 2-1-2 0 5-1-2-1 1 0-2-1-2 0 4 0-3-1 4-1-5 0 5 0-5 0 3-1-3 0 0 0 5-1-4 0 4 0-1 0-4 0 1-1 3-1-4 0 5-1-2 0-1 0-1 0 3-1-3 0 1 0 1 0-3-1 1 0 4 0-3-1 0-1-2 0 5 0-2 0 0-1-3 0 3 0 2-1 0 0-2-1 1-1-4 0 2-1-1 0 2-1-2 0 1-1-1 0 2 0 1-1-3 0 4-1 0 0-4 0 3-1-4 0 4 0-4-1 4 0 0-1-2 0 2-1 1 0-2 0 2-1-2 0-2-1 1 0-1-1 2 0-1 0-2-1 5 0-2 0-1 0-1-1-1 0 1-1 1-2 3 0-2 0-1 0-2-1 3 0-3-1 5 0-3 0 1-2 2-1-2 0 0 0-2 0 3-1 0 0-4 0 1-2 0 0 4 0-1-1-4-1 2 0 3 0 0 0-4 0 3-1 1 0 0 0-3-1 2 0-4 0 3-1 0 0-2-1 4-2-2-1 1-1-1-1 0-2 2 0-1-1 1 0-3-1 1-1-3 0 1 0 4-1 0-2-4 0 1-3-2 0 4 0 0 0 0-2-3-1 2 0-3 0 2-1-2 0 4-1-2 0 2-1-2-1-1-1 4 0-5 0 5 0-3-3-1 0 2-3 2-1-4-1-1-1 5 0 0-1-2-1 1 0-2-1-1-1 2-1 1 0-3 0 3-1-1-1-1-1 1 0 2-2 0 0-4-1-1-1 3 0-1-2-2-1 0-1 1 0 3 0-3 0 2-2-3 0 2-1 0 0-2-1 0 0 5-1-4-1-1 0 0 0 0 0 3-1-1-1 3 0-1 0 1-1 0 0-5-2 3 0 0-1 1 0 0-2 1-1-5 0 3 0-2-1 1 0 3-2-1-1 1-1-4 0-1 0 2-1 0-1 1 0-3 0 2-2 2-1 0 0-1-1-1-1 2-1-2 0-2 0 1-2 2-2 0-2-1-1-1 0-1-2 1 0-1 0 4-1-4-2 3-1 1-2 0-1 0-1-2-1 3 0-3-1-2-2 0 0 3-1 0-1-2-1 1-1-2 0 1-1 2-1 1 0-2-1 1 0-2 0-1 0 2-1 0 0 3-2 0-1-1-1-2 0 1 0 0-2-2-1-1-1 2-1 1 0 0-1 1-2-2-1-1-1 4-1-4-2 3-1 0 0-3 0 1 0 1-1-3-3 0-3 4 0-3 0 1-1-2 0 5 0 0 0-5-2 2-3 3-2 0-1-1-1 1 0-5-1 0-1 2-1 3 0-5-1 4-2-3 0-1-1 0-2 2-2 3 0 0-1-3-1 2-4-4 0 2-1-2-1 1 0 4-1-2 0 0-2 2 0-4-2-1 0 1-1 2-1-2-1 3 0 1-1-1-2-1-2 1-1-3-1-1-1 1 0 2 0 0-1 1 0-4 0 4-2-3-2 1-1-2-1 0-1 2 0 1-1 1-1-2-1 0-1-2 0 4-1-1 0 2-1-1-1 1-2-3 0 3 0-5-2 3 0 2-1 0-2 0-2-4-2 0-2 3-1 1-1 0-2-4-1-1-1 0-2 1 0 2-2 2 0-5-1 1-2 2 0-2 0 3-1-3-1 0-3 0-2 0-2-1 0 3-4 0 0-2-1 0-1 0-3 2 0-3-1 0 0 4-3 1-2-3 0-2-1 3-2-3 0 1-1 2 0-1 0 0-2-2-3 3 0-2-1 4 0 0-1-3-1-1 0 2-2-1-1-2-1 0 0 0 0 0-2 5-3-5 0 2-2 0 0 2-2-1-1-2 0 2-1 1-1-3 0 2-1-1-1-1-1-1-2 4-3 1 0-1-2 1-1-1 0-1 0 1-2-2-1 1-1-2-2-1 0 1-1 0-3 1 0 2-1-3-1 1-2 2-1-2-1-2 0 1-1 0 0 3-1-4-2 1-1 2 0 1 0-1-2 0-1 1-1-2 0 2-1-3 0 2-1 0 0-2 0 2-1 2-1-5 0 5-1-4-1 0 0 3-1-2 0 0-1 0-1-1 0 1-1-2-1 4-2-4 0 2-1 2-1-4 0 3-1 2 0-2 0 1 0-4-1 5 0-4 0-1-2 0 0 5 0-4 0 0-1 3 0-2-1-1 0 2 0-1-3 3-1 0 0 0 0-5 0 5-2-3-2-2-2 5-2 0-1-5-1 2 0 2 0-3 0 3-2-2-1 3 0-3-1 1 0-2 0 4-1 0 0-1 0-4-1 4 0-1 0-3 0 0-1 2 0-2-1 2 0-2 0 1-1 1-3-1 0 3-1 0 0-2-2 3 0-4 0 2-1 2-1 0 0-2 0-1 0 3 0-3-3-2 0 4-1 1-1-3-1 3-1-1 0-2-2-1-1-1-1 3 0 2-1-4 0 2-1 0 0-3 0 1-1 0 0 1 0 3 0 0-2-4-1 1-1 1 0 0-1 1 0 1-2-2 0-1-2-2 0 3 0-2-2 4 0-5 0 2-1 3 0-4 0 4 0-5 0 3-1-2 0 2 0-3-2 3-2 1-1-2 0 3 0 0 0-4-1-1 0 5 0-3 0 3-1 4 0-3 1 5 1-4 0 4 1-3 0 3 0-3 1 3 0-3 2 0 1-2 1 3 0 1 2-2 0 2 1 0 0 0 0-2 0 0 1-1 0 2 1 1 0-3 0 0 1 3 1 1 0 0 0-3 0 3 0-2 0-3 2 4 0-1 0-1 0 3 1-3 0 3 1-4 0-1 0 5 1-4 0 4 1-4 1 4 1-1 0-2 1-2 0 2 0 0 0 2 1 1 1-2 2 0 0 1 1-3 0 0 1 2 0 2 0-3 0-2 1 0 2 2 1 0 0 1 2-3 0 3 0 2 1-4 1 1 0 1 1-2 1 4 1-3 1 1 0 1 0-4 1 1 1 3 0-3 1 1 2 3 0 0 0-5 1 1 1 1 0 3 2-4 0 4 0-2 0-1 1 2 1-3 0-1 2 3 0-2 0-1 0 1 2 4 1 0 1-1 0-2 2-2 3 3 0 1 1-2 0-1 1 2 1-2 1 4 3 0 2-5 1 4 1-2 0-1 2 2 1 2 0-4 1 3 1-1 3 2 1-2 0 2 0-2 1 2 1-3 0 3 2-5 2 3 0-2 1 3 0-4 2 2 2 2 1-4 0 3 0 1 1-4 0 4 4 0 0-3 0 3 1-4 0 2 1 2 1-2 0-2 1 0 1 4 3-3 1 0 1 4 0-1 3-1 0 1 0-1 1 0 0 1 2 1 0-5 0 2 1 0 0-2 1 2 1 2 0-2 1 0 1 2 2-4 0 2 2 0 0 3 1-5 0 2 2-2 1 3 2 1 2-1 7 0 5-3 0 3 4-3 5 3 1-2 0 0 1-1 1 5 0-3 2-2 0 3 1 0 2-2 0 2 2 1 2 0 0 1 1-5 3 0 1 2 0 0 3-1 0 2 0-2 3 2 1 0 0 0 4 2 4-2 3 1 1-4 0 4 1-3 0 4 0-2 3-2 0 4 4-4 0 0 6-1 4 0 1 2 2 1 1-3 1 0 2 0 1 1 1 0 2 2 1-1 1-1 2 1 4 1 1-2 0 3 0-4 1 1 3 3 1-1 1-3 2 4 1-2 0 0 1-2 1 1 1 2 0-1 1 3 1-3 5 1 1 0 0 2 2 0 1-3 0-2 1 4 7 0 0-2 1 3 1 0 2-1 1-2 0 2 1-2 0 3 1-1 0-2 1 1 0 0 2-1 0-2 1 1 1 1 0 2 1-4 1 1 2 3 0-3 1 1 1 2 1-2 5-2 2 2 1-2 1 3 6 2 0-1 1-1 1-2 2 3 0-1 2 0 2 1 1 1 0-5 1 4 1-4 1 4 0-3 2 4 0-5 0 3 1-3 1 3 0-1 3-1 1 2 3 1 1-2 0 3 1-3 1 1 1-1 1-1 0 4 2-4 0-1 1 0 0 0 1 1 1 4 0-5 4 3 1 0 2-1 1-1 0-1 1 3 0-2 1 4 0 0 1 0 0-5 0 2 1 3 0-1 2-3 1 1 0 3 1 0 1-5 0 2 0 3 1-1 0-3 1 0 1 2 2-2 1 3 1-2 0 1 1 0 0-2 1-1 0 0 0 4 0 1 4-1 0-1 1 0 1 1 1-1 1 0 1 2 0-2 1 0 1 1 0-2 1 2 1 1 0 0 1-3 0-2 1 1 0-1 1 2 1 1 0-2 0 4 1-4 1 2 1 2 0-1 0-2 3 1 0-2 1 3 0-1 1-1 0 2 1-1 1-3 1 4 0-2 1 0 0 0 0 2 1 1 1-5 0 4 1 0 1 0 1 1 1-4 1-1 0 1 1 1 0-2 0 4 2 0 0 0 2-2 0-2 1 2 1 3 0-2 1-1 0 2 1 1 1-4 1 1 0 2 0 0 1 1 1-4 0 4 0 0 0-3 1-1 0 4 0-2 1-1 0 3 0-2 1 0 1 0 1-2 1 2 0-2 1 3 0 0 0-3 1 1 0 0 0-1 0-1 0 2 1 2 1-2 0 2 1-3 1 3 0-3 1 3 0-1 0 1 0 0 0-2 1-2 0 5 0-3 0 0 1 1 0 2 1-4 0 4 1-5 1 2 0 2 0-1 1 2 0-5 1 2 1 2 0-1 1-1 0-2 0 5 1-4 0 3 0-3 1 4 0-2 0 0 2 2 1-3 0-1 1 0 0 3 1-1 1-2 0 4 0-1 0 1 1 0 0-1 1-1 1 0 0-2 0 3 1 0 1-1 1-3 0 1 0-1 0 5 0-4 1 4 0-1 0-4 1 2 0-2 1 5 0 0 0 0 0-4 0 3 1 0 0-4 0 0 1 5 0-3 0-1 1 0 0 3 0-1 0-1 0-1 1 3 0 0 1-3 1 1 0 1 0 1 1-1 0 1 1-4 0 3 1 1 0-2 1 3 1-2 0 0 0-3 0 0 0 0 0 5 0-5 2 1 0 3 0-3 0 0 2 1 0 3 1-2 0-2 0 3 0-4 0 1 2 2 0 1 0-4 0 1 1 1 0 1 0 2 0-2 0-3 1 2 0 0 0 3 1-2 1 1 1 0 0-4 0 2 0-2 0 0 2 1 0 2 0 2 1-5 0 5 0-3 0 1 0 0 1 1 0-1 1-2 0 1 1-2 0 4 0-4 1 2 0-1 0 1 1-1 0 3 0 0 0-3 0 3 1 0 0-1 1-3 0 4 0-2 0 1 0 0 1 1 1-4 0 5 0-2 0-1 1-1 0 4 1-5 0 3 1 2 0-1 0-3 0 4 1-4 0 4 1-3 2 3 1-1 1-1 4 8-1-3 0 2-1-3 0 3-1-3 0 2 0 1 0 0-1-2 0 1-1-3 0 2 0 2 0-3-1 0-1 4 0-1 0-2 0 1-1 1-1-4 0 3-1 2 0-2 0 1 0-3-1 0 0 3 0 1-1-3-1-2 0 3-1 2 0 0 0-3 0 1-1-1 0 3-1-4 0 1-1-1 0 3 0-1-1 2 0 0-1-3 0 2 0-3 0 0-1 0 0 1-1-2-1 1 0 3-1 0 0-1 0 2 0-3-1-2-1 4 0-4-1 1 0 2 0-3-1 3 0-1 0-1 0 0-1 1 0 3-1-1 0-2 0 0 0-2-1 5 0-3 0 0-1 1 0-2-1 4-1-3-1 3 0-2 0 1-1-1 0-2-1 2 0-1-1-2-1 2 0 2-1-2 0 1 0 0-2-2 0 0 0 1 0 3 0-2 0 0 0 2-1-2 0 0 0-2 0 3-1-3 0 0 0-1-1 4-1-3 0 2 0 1 0-1-1-3 0 3-2 0-1-1 0 2-1-2 0 3 0 0 0-1 0-2-1 0 0 0 0 2 0-2-1 3-1-1-1-2 0-1-1 2 0-1 0 1 0-2 0 4 0-1-1-2-1-2 0 3-1-2 0-1 0 0-1 3-1 0 0-1 0 1 0 0-1-2 0 1 0-1-1 4 0-5 0 3-1 2-1-4 0 4 0-3-1 1 0-3 0 3 0 2-1 0-1-5 0 2-1 3 0-1 0-2 0-2-1 5 0-5-1 1 0 1 0 1 0 0-1-3 0 0-2 3 0 0 0 0-1 1 0-1-1-3 0 1 0 1-1 0 0 3 0-5-1 3 0 1-1 1 0-4-1 3 0-2-1-2-1 3 0-2-1 0 0 3-1-3-1 1 0 2 0 0-1 1 0-5 0 4-1-3-2 0 0 2 0-3-2 3-1-2 0 3-1-4-1 3-1-2 0 3-1-2-1 1-2-3-1 2 0 3-1-5-1 4 0-4-1 4 0-1-1-2-1-1-3 0-1 1 0 4-5-5-1 5-1-1 0 0 0-4-1 4-2 1 0-1-1-3 0 0-1 4 0-2-1 2-1-4-3 3-1 0-1 1 0-5-3 1-2 1-1 3-1-2-1-2 0 4-1-2-3-3-2 0-3 1-1 2-1 2 0-5-3 5-1-3-2 0-2-1 0-1-1 0-3 5-3-2 0 2-1 0 0-2-2-2-2-1-1 3 0-1-1-1 0 1-1 1-2 0-1-3-2 2-1-2 0 1-1 4 0 0-1-1-5-4-1 2-3 3-1-2-1 1-2-1 0-3-6 1 0-1-1 3-2 1 0 0-3-4 0 5-1-4-3 1-1 0 0 0-1 0-1 0 0-1-1 4-2-5 0 4-4-1-2 1-2-3-1 4-2-2-3 0 0 2-2 0-3-4-1-1-1 3-1-1-2 1-2-1-3 0 0-1-2 0 0 3 0-2-3-2-3 1-1 2-2 1-2-2 0 3-2-1 0 0-6-3-2 1-2 1-1 2 0 0-3-1-1-2 0 3-1-5-1 4-4 1 0-1-4-1-5 2-11-4-2 2-3 0 0 1-1-2-2 3-3-1-4 1 0-3 0 1-2 2-1-5-5 0-1 4 0-1-3-1-1-2-2 5 0-4-1 4-1-2-7-2-3-1 0 2 0 3-3-3 0-2-1 0 0 3-1 0-5-2-1 2-2 2 0-3-1-2 0 3-2 2-5 0-2-3-1-1-1 2 0-3 0 3-3-1 0 1-5-1 0-1-3 3-3 0 0-4-1 5-2-3-2 2 0-1-5 1-3-4-1 4 0 0-8-4-4 5-4-1-4-4-1 1-3-1-2 4-2 0-1 1-1-5-1 1-3-1 0 5-1-1-4-2-1 0-1 3-1-4-2 3-1-4-1 5-1-3 0 2 0-1-1 1-1-1-1-1-2-2-1 0-1 0-1 0 0 0-2 5-1-5-1 4-2 1 0 0 0-5-1 4-1 1-1-2-1 2 0-5 0 2 0 2 0 0-6 1 0-4-1 2 0-3 0 0-1 2-1 2 0-3-2-1-1 2-2-2 0 3 0 0-1-3-1 3-1 0 0 2-2-2 0 1-1 0-1-3-1 1-1-1-1 1 0 3-1-1 0-4 0 2 0-1-1-1 0 0-1 4-1-4 0 2-1 2 0-2-2-2-1 4 0-3 0 0 0 7 0 0 1-1 0-1 1 2 1 2 0 0 0-2 2 0 2 2 0-3 0 1 1 1 1 1 0-4 1 3 0 2 0-5 1 5 2-3 1 2 0 1 1-2 2 2 5 0 0-4 0 4 0-5 4 0 1 3 1-1 2 3 1-5 2 1 3 3 1-2 0 1 2-2 1-1 2 4 3 1 1-2 1-2 1 3 1-2 1 1 0-3 2 0 3 4 0-1 2-1 2 3 2-5 1 3 1-2 3 4 2 0 1-5 1 3 0 1 3-4 0 4 2-1 2-3 0 0 2 0 4 4 1-4 4 1 1 3 0-3 0 0 0 0 0 3 2 0 3 0 2 1 0-4 5 0 4-1 6 1 0 3 3 0 3-4 3 1 0-1 2 0 0 1 4 0 6 1 3-1 2 1 6 3 1-2 2-3 2 1 5-1 1 4 7-2 1 0 8 1 3-1 1-2 1 0 7 2 3-2 1 1 3-1 4 0 1 3 2 1 4-4 4 0 5 0 0 0 5 5 1-5 4 1 1 2 9-1 8-2 1 1 3 1 7-2 11 4 3-4 0 1 1 1 1 1 3 0 3 2 6-3 6-2 1 5 9-4 7-1 0 5 2-4 4 4 2-4 6 0 4 3 1 1 1-1 5-1 1-3 0 1 2 2 1 1 0-3 3-1 1 0 2 4 4-4 1 1 3 1 1 3 0-2 2 1 0-4 0 5 0-5 1 2 1 1 0-3 1 0 4 1 1 3 3-2 1 2 1-4 4 5 2-1 1-2 0 0 3-1 0 1 1 0 1 3 0-4 1 0 6 1 0 0 1-1 1 0 2 0 0 3 1-4 3 0 0 3 1 2 0-2 0-2 1-1 0 2 4 2 2-2 2 0 2 1 1 0 1-2 0 4 1-3 1-1 0 1 0 1 1 0 2-2 0 1 1-2 1 1 0 2 0 0 1-3 0 0 2 0 1 2 0-1 0 0 1 1 1 0 0-2 1 2 0-1 1 4 2-5 0 2 1 3 0-2 0-1 1 0 0 1 0-3 0 1 1 3 0-4 0 4 1-3 0 3 2-1 0-3 0 3 1 0 0-3 2 2 1 3 0-5 0 1 1-1 0 2 1 1 0 2 1-3 1 2 0 0 0-1 0-2 1 4 0-3 0 1 1 2 0-1 0-2 1 1 0-2 1 1 1 2 0 0 1 1 0-4 0 4 0-4 0-1 1 3 1-1 1 2 0-3 1 4 1-5 0 3 0-3 0 2 3-2 0 0 1 4 0-2 0-1 0 0 0-1 1 4 0-3 0-1 0 0 1 3 0 1 0 1 1-3 0 0 0-2 0 5 1 0 0-4 1 1 0 0 1 3 0-5 1 3 1-1 0-2 1 5 0-2 0 2 0-3 1 3 1 0 0-2 0-1 1 1 0-3 0 4 1-3 0 0 1 2 0-3 1 2 0-2 0 4 1-4 1 5 0-2 0 2 1-4 0 2 0 2 1-5 0 0 0 4 0 0 0 0 0-4 1 5 0-4 1 2 1-1 0 3 0-2 1 1 0-4 0 2 1 3 0-4 0 2 1-1 0-1 1 0 1 2 0 2 0-1 1-2 0-2 0 4 1 0 0-3 2 1 0-1 0 1 0-2 0 5 1-2 0-1 1 3 1-1 0-3 0 1 1 1 0 2 0 0 2-5 0 4 0-3 0 1 0 2 2-3 0-1 0 4 0-1 1-3 0 3 0 0 0 0 1-3 0 2 1 1 0 2 1-4 0 0 0 2 0 1 1-4 0 1 0 4 0-1 1-4 0 2 0 2 0 1 0-5 0 5 1-5 0 1 1 1 0 1 0 2 0-1 1 0 1 1 1 0 0 0 419 5 0 0 0 0 0 0 0 0 0 0 0 0 0 0 0 0-1 0 0 0-1 0 0 0-2 0-1 0-1 0-1 0-1 0 0 0-1 0-2 0-1 0-1 0-1 0-1 0-1 0-1 0-1 0-1 0-1 0-1 0-2 0 0 0 0 0-1 0-1 0-1 0-1 0-2 0-1 0-1 0 0 0-2 0 0 0-1 0 0 0-2 0-1 0-1 0-1 0 0 0-1 0-2 0-1 0-2 0 0 0-1 0-1 0-2 0-1 0-1 0 0 0-1 0-2 0 0 0 0 0-1 0-1 0-2 0 0 0-1 0-2 0-2 0 0 0-2 0-1 0 0 0-1 0 0 0-2 0 0 0-2 0-2 0-1 0-1 0 0 0-1 0-1 0-1 0-1 0-1 0 0 0-2 0 0 0-1 0-2 0 0 0 0 0-1 0-1 0-1 0 0 0-2 0-1 0-1 0-1 0-2 0 0 0-1 0-1 0-1 0-1 0-2 0-1 0-1 0 0 0-2 0 0 0-2 0-1 0-1 0-1 0-2 0 0 0-1 0-2 0-2 0-1 0-1 0-1 0 0 0-1 0-1 0-1 0 0 0-1 0-1 0 0 0 0 0-2 0-1 0 0 0-2 0 0 0 0 0-2 0 0 0 0 0-1 0-1 0-1 0-1 0 0 0 0 0-1 0-1 0 0 0-2 0-1 0-2 0-1 0-1 0-1 0-2 0 0 0-1 0-1 0-2 0-1 0-2 0 0 0-1 0-2 0-1 0-1 0-1 0-1 0-1 0-2 0-2 0-1 0 0 0 0 0-2 0 0 0 0 0-1 0-1 0-1 0-1 0-1 0-1 0-2 0 0 0-2 0 0 0 0 0-1 0-1 0-1 0-2 0-1 0-1 0-1 0 0 0 0 0-2 0 0 0-1 0-2 0-2 0-1 0-1 0-1 0-1 0-1 0 0 0-2 0-1 0-1 0-1 0 0 0-1 0-1 0-1 0 0 0 0 0-1 0-2 0-1 0-1 0-1 0-1 0-1 0-1 0-1 0-1 0 0 0-2 0-1 0-1 0-1 0-2 0-1 0-1 0 0 0-2 0-1 0-2 0 0 0-1 0 0 0-1 0 0 0-2 0 0 0-1 0-1 0-1 0 0 0-1 0-2 0 0 0-2 0 0 0-1 0-1 0 0 0-1 0-1 0-2 0-1 0 0 0-2 0-2 0-1 0-1 0 0 0-2 0-1 0 0 0-2 0 0 0-1 0-1 0-1 0 0 0 0 0-1 0-2 0 0 0-1 0-2 0-1 0-2 0-1 0 0 0-2 0-1 0-1 0-1 0-2 0-1 0-1 0-2 0-1 0 0 0 0 0 0 0-1 0-1 0-1 0 0 0 0 0 0 0-1 0-1 0-2 0-2 0 0 0 0 0-2 0-1 0-1 0-1 0-1 0 0 0 0 0-1 0-1 0 0 0 0 0-1 0-1 0-1 0-1 0-1 0-1 0-1 0 0 0-2 0 0 0-2 0-1 0-1 0 0 0-2 0-2 0 0 0-1 0 0 0-1 0-2 0-2 0 0 0 0 0-1 0-1 0-1 0 0 0 0 0-1 0-1 0 0 0-1 0-1 0-2 0-2 0-1 0 0 0-1 0 0 0-1 0-1 0-1 0 0 0-2 0 0 0-2 0-1 0 0 0-1 0-2 0 0 0-3 0-1 0-2 0-1 0 0 0 0 0 0 0-1 0-1 0-1 0 0 0-1 0-2 0-2 0 0 0 0 0 0 0-1 0-2 0 0 0-1 0-1 0 0 0-1 0-2 0-2 0-1 0-1 0-1 0 0 0-1 0-1 0-1 0 0 0 0 0-2 0-1 0-1 0 0 0-1 0-1 0-1 0 0 0 0 0-2 0-2 0-1 0-2 0 0 0-2 0 0 0-1 0-2 0-1 0-2 0-1 0-1 0 0 0 0 0-1 0-2 0-1 0-1 0-2 0-1 0 0 0 0 0 0 0 0 0 0 0 0 0 0 0 0 0 0 0 0 0 0 0-1-1 0 1 0-2 0 1 0 1 0 0 0-1 0 0 0 1 0-1 0 0-1-2 0 3 0 0 0 0 0 0 0 0 0-2 0 0-1 2 0 0 0 0 0-4 0 3 0 0 0-1 0-2-1 3 0 0-1-1 0-2 0 1 0 0 0 1-1 2 0-1 0 1-1 0 0-4-1 3 0 0 0 0 0-1 0 0-1 1 0-1 0-1-1 2 0 0 0 0 0-1-1 0 0-1-1 2-1 1 0-1 0 0-1 0 0-1 0-2 0 2-1 0 0-2-2 2 0 0-1 1 0 0 0-2-1 3 0-4 0 3-1-2 0-1-1 2 0-1-2 1 0 1 0-2-1 0-1 3 0-3 0 1-1 0 0-2-1 3 0 0-1-3-1 2-1 1 0-2 0 2-1 0 0-2 0-1-1 1 0 0-1 3 0-3-1 1-1 0-1-2-1 0-1 2-1 0-1-2-1 1 0 1-1 0-1-2 0 2-1-2 0 4 0-1-2-3 0 0-1 2 0-1-1 3-1-3-3 1 0-2 0 0 0 0-1 4 0-3-1-1 0 1 0 0 0-1-1 0-3 2-5 0-1 0-1-2-5 0-1 0-1 0-2 0-2 2-2 1 0-1-2-1-1 0-1 1-9 0-11-2-4 3-8-2-2-1-9 4-13-3-4 1-3-2-5 0-3 0-5 0-21 1-6 0-7 2-9-3-4 1-13 2-11 0-8-2-26 1-1-2-15 0-8 3-35 0-1 0-33-1-2-2-1 2-9-1-19 0-43 2-4-1-11 1-8-2-7 1-5 0-9-1-2 0-3-1-8 1-4-1-4 1" marker-start="url(#k2)" marker-mid="url(#k2)" marker-end="url(#k2)"/></g></g>
<circle cx="478.6" cy="148.6" r="0.9" fill="#e8322a"/>
<g id="stem">
<path d="M41.6 209V43" stroke="#8438a0" stroke-width="1.6" fill="none"/>
<circle cx="41.6" cy="40.4" r="2.3" stroke="#7E2F8E" stroke-width="1.8" fill="#fff"/>
</g>
<g fill="#000">
<circle cx="41.7" cy="209.6" r="1.8"/>
<circle cx="128" cy="209.6" r="1.8"/>
<circle cx="277.2" cy="208.9" r="1.8"/>
<circle cx="321.6" cy="208.9" r="1.8"/>
<circle cx="469.6" cy="208.8" r="1.8"/>
</g>
<g id="legend">
<circle cx="400.2" cy="21.7" r="4.7" fill="#4472C4"/>
<circle cx="400.1" cy="46.5" r="4.7" fill="#FFC000"/>
<circle cx="400.1" cy="72.1" r="4.7" fill="#ED7D31"/>
<circle cx="400.1" cy="91.0" r="4.7" fill="#7030A0"/>
<text id="l1" class="t" x="415" y="22.7" font-size="14.5" textLength="110" lengthAdjust="spacingAndGlyphs">Received signal</text>
<text id="l2" class="t" x="415" y="47.5" font-size="14.5" textLength="115.5" lengthAdjust="spacingAndGlyphs">Signal from tag1</text>
<text id="l3" class="t" x="415" y="72.3" font-size="14.5" textLength="115.5" lengthAdjust="spacingAndGlyphs">Signal from tag2</text>
<text id="l4" class="t" x="415" y="97.3" font-size="14.5" textLength="131" lengthAdjust="spacingAndGlyphs">Signal from object</text>
</g>
<text id="xl" class="t" x="156" y="246.9" font-size="18.6" textLength="87" lengthAdjust="spacingAndGlyphs">Frequency</text>
<text id="yl" class="t" transform="translate(18.7 135.6) rotate(-90)" x="0" y="0" font-size="18.7" textLength="52" lengthAdjust="spacingAndGlyphs">Power</text>
<g class="m">
<text id="a1" x="30.5" y="228.6" font-size="14">Δ</text>
<text id="a2" class="i" transform="translate(39.3 228.8) scale(1.35 1)" font-size="14">f</text>
<text id="a3" class="i" x="45.4" y="231.2" font-size="10">k</text>

<text id="b1" x="124.7" y="228.8" font-size="14">Δ</text>
<text id="b2" class="i" transform="translate(133.4 229) scale(1.35 1)" font-size="14">f</text>
<text id="b3" x="139.8" y="231.6" font-size="9">1</text>

<text id="c1" x="238.9" y="232.2" font-size="14">Δ</text>
<text id="c2" class="i" transform="translate(247.6 232.6) scale(1.35 1)" font-size="14">f</text>
<text id="c3" x="253" y="235.4" font-size="9">1</text>
<text id="c4" x="263.6" y="235" font-size="16.5">+</text>
<path id="c5" d="M278.4 228.5H297.6" stroke="#111" stroke-width="1.1"/>
<text id="c6" x="283.9" y="225.5" font-size="14">1</text>
<text id="c7" class="i" x="278" y="243.3" font-size="14">T</text>
<text id="c8" class="i" x="286.1" y="246.2" font-size="11">b</text>
<text id="c9" x="292.2" y="246.2" font-size="10">1</text>

<text id="d1" x="313.8" y="226.8" font-size="14">Δ</text>
<text id="d2" class="i" transform="translate(322.0 227) scale(1.35 1)" font-size="14">f</text>
<text id="d3" x="328.4" y="229.2" font-size="9">2</text>

<text id="e1" x="434.1" y="231.8" font-size="14">Δ</text>
<text id="e2" class="i" transform="translate(442.3 232.2) scale(1.35 1)" font-size="14">f</text>
<text id="e3" x="448.6" y="234.9" font-size="9.5">2</text>
<text id="e4" x="458.9" y="235.9" font-size="16.5">+</text>
<path id="e5" d="M472.8 228.7H493.8" stroke="#111" stroke-width="1.1"/>
<text id="e6" x="480.3" y="225.6" font-size="14">1</text>
<text id="e7" class="i" x="473.1" y="242.7" font-size="14">T</text>
<text id="e8" class="i" x="481.0" y="245" font-size="11">b</text>
<text id="e9" x="487.4" y="245" font-size="10">2</text>
</g>
</svg>
</body></html>
